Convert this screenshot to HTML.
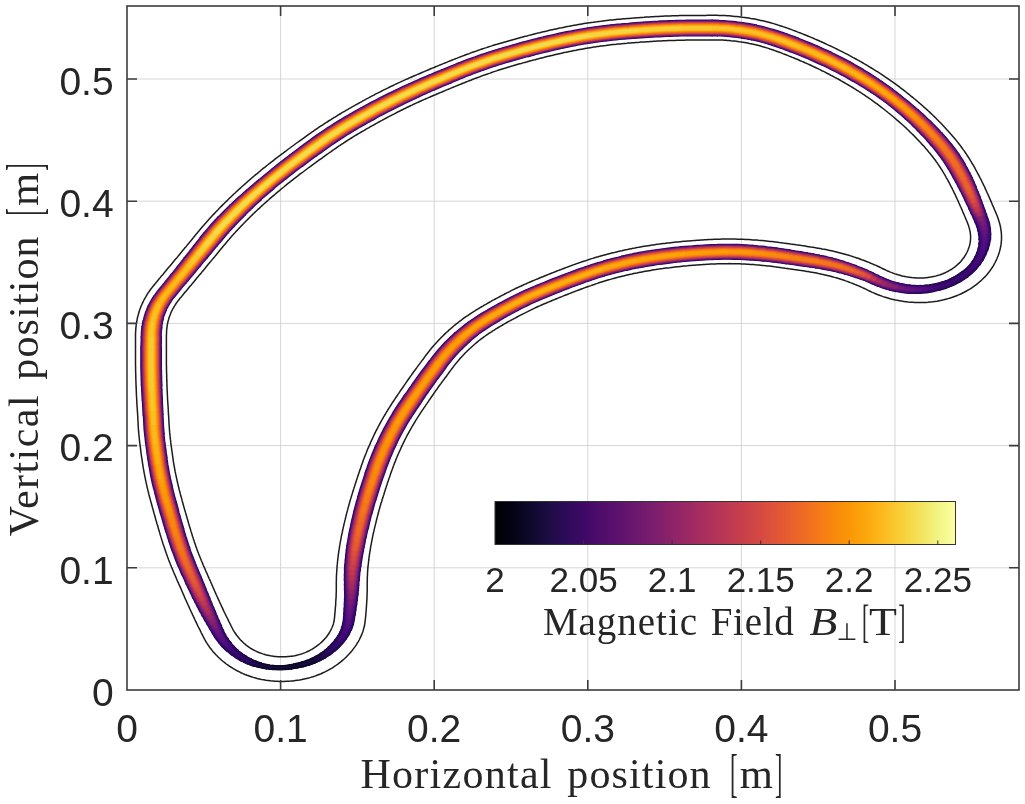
<!DOCTYPE html>
<html lang="en"><head><meta charset="utf-8"><title>Magnetic field on coil</title>
<style>html,body{margin:0;padding:0;background:#fff}svg{display:block}.t{font-family:"Liberation Sans",Arial,sans-serif;fill:#262626}.s{font-family:"Liberation Serif","DejaVu Serif",serif;fill:#262626}</style></head><body>
<svg width="1025" height="804" viewBox="0 0 1025 804">
<rect width="1025" height="804" fill="#fff"/>
<path d="M280.6 6.0 V690.0 M434.2 6.0 V690.0 M587.8 6.0 V690.0 M741.4 6.0 V690.0 M895 6.0 V690.0 M127.0 567.8 H1019.0 M127.0 445.6 H1019.0 M127.0 323.4 H1019.0 M127.0 201.2 H1019.0 M127.0 79 H1019.0" stroke="#d6d6d6" stroke-width="1" fill="none"/>
<g transform="translate(127.0 690.0) scale(1536.0 -1222.0)" fill="none" stroke-linecap="butt" stroke-linejoin="round">
<path d="M0.0872 0.0201 0.0849 0.0209 0.0828 0.0218" stroke="#0e092b" stroke-width="0.005"/>
<path d="M0.0835 0.0214 0.0813 0.0224 0.0792 0.0236" stroke="#160b39" stroke-width="0.0054"/>
<path d="M0.0799 0.0232 0.0779 0.0244 0.0759 0.0257" stroke="#190c3e" stroke-width="0.0058"/>
<path d="M0.0765 0.0253 0.0746 0.0267 0.0728 0.0282" stroke="#1c0c43" stroke-width="0.0062"/>
<path d="M0.0734 0.0277 0.0716 0.0292 0.0699 0.0309" stroke="#1e0c45" stroke-width="0.0064"/>
<path d="M0.0704 0.0304 0.0688 0.0321 0.0672 0.0339" stroke="#1e0c45" stroke-width="0.0068"/>
<path d="M0.0677 0.0333 0.0662 0.0351 0.0648 0.0371" stroke="#1e0c45" stroke-width="0.0072"/>
<path d="M0.0653 0.0364 0.0639 0.0384 0.0627 0.0404" stroke="#1e0c45" stroke-width="0.0076"/>
<path d="M0.0631 0.0397 0.0619 0.0418 0.0608 0.0439" stroke="#1e0c46" stroke-width="0.0078"/>
<path d="M0.0612 0.0432 0.0601 0.0453 0.0592 0.0475" stroke="#1f0c48" stroke-width="0.0082"/>
<path d="M0.0595 0.0468 0.0586 0.049 0.0577 0.0512" stroke="#1f0c48" stroke-width="0.0086"/>
<path d="M0.058 0.0505 0.0571 0.0527 0.0562 0.0549" stroke="#1f0c48" stroke-width="0.009"/>
<path d="M0.0565 0.0542 0.0556 0.0564 0.0547 0.0587" stroke="#210c4b" stroke-width="0.0094"/>
<path d="M0.055 0.0579 0.0541 0.0601 0.0532 0.0624" stroke="#210c4b" stroke-width="0.0098"/>
<path d="M0.0535 0.0616 0.0527 0.0639 0.0518 0.0661" stroke="#210c4b" stroke-width="0.0102"/>
<path d="M0.0521 0.0654 0.0512 0.0676 0.0504 0.0699" stroke="#210c4b" stroke-width="0.0106"/>
<path d="M0.0507 0.0691 0.0498 0.0714 0.049 0.0736" stroke="#220c4e" stroke-width="0.0108"/>
<path d="M0.0493 0.0729 0.0485 0.0751 0.0477 0.0774" stroke="#220c4e" stroke-width="0.0112"/>
<path d="M0.0479 0.0766 0.0471 0.0789 0.0463 0.0812" stroke="#220c4e" stroke-width="0.0114"/>
<path d="M0.0466 0.0804 0.0458 0.0827 0.045 0.0849" stroke="#220c4e" stroke-width="0.0116"/>
<path d="M0.0453 0.0842 0.0445 0.0864 0.0437 0.0887" stroke="#240c51" stroke-width="0.0118"/>
<path d="M0.0439 0.0879 0.0432 0.0902 0.0424 0.0925 0.0416 0.0947 0.0411 0.0962" stroke="#240c51" stroke-width="0.012"/>
<path d="M0.0413 0.0955 0.0405 0.0977 0.0398 0.1 0.039 0.1023 0.0385 0.1038" stroke="#240c51" stroke-width="0.0122"/>
<path d="M0.0387 0.103 0.038 0.1053 0.0373 0.1076 0.0366 0.1099 0.0359 0.1122 0.0353 0.1145 0.035 0.1153" stroke="#240c51" stroke-width="0.0124"/>
<path d="M0.0353 0.1145 0.0346 0.1168 0.034 0.1191 0.0334 0.1214 0.033 0.123" stroke="#240c51" stroke-width="0.0126"/>
<path d="M0.0332 0.1222 0.0326 0.1245 0.032 0.1269 0.0315 0.1292 0.0311 0.1307" stroke="#260c54" stroke-width="0.0126"/>
<path d="M0.0313 0.13 0.0307 0.1323 0.0302 0.1346 0.0296 0.137 0.0291 0.1393 0.0286 0.1416 0.028 0.144 0.0275 0.1463" stroke="#260c54" stroke-width="0.0128"/>
<path d="M0.0277 0.1455 0.0272 0.1479 0.0267 0.1502 0.0261 0.1526 0.0256 0.1549 0.0251 0.1572 0.0246 0.1596 0.0241 0.162 0.0237 0.1643 0.0234 0.1659" stroke="#260c54" stroke-width="0.013"/>
<path d="M0.0235 0.1651 0.0231 0.1675 0.0226 0.1698 0.0222 0.1722 0.0218 0.1746 0.0214 0.177 0.0211 0.1793 0.0208 0.1817 0.0204 0.1841 0.0202 0.1857" stroke="#260c54" stroke-width="0.0132"/>
<path d="M0.0203 0.1849 0.02 0.1873 0.0198 0.1897" stroke="#270b56" stroke-width="0.0132"/>
<path d="M0.0199 0.1889 0.0196 0.1913 0.0193 0.1937 0.0191 0.1961 0.0188 0.1984 0.0186 0.2008 0.0183 0.2032 0.0181 0.2056 0.0179 0.208 0.0178 0.2096" stroke="#270b56" stroke-width="0.0134"/>
<path d="M0.0179 0.2088 0.0177 0.2112 0.0175 0.2136 0.0174 0.216 0.0173 0.2184 0.0172 0.2208 0.0171 0.2232 0.017 0.2256" stroke="#270b56" stroke-width="0.0136"/>
<path d="M0.017 0.2248 0.0169 0.2272 0.0168 0.2296 0.0167 0.232 0.0166 0.2343 0.0165 0.2367 0.0164 0.2375" stroke="#270b56" stroke-width="0.0138"/>
<path d="M0.0165 0.2367 0.0164 0.2391 0.0163 0.2415 0.0162 0.2439 0.0161 0.2455" stroke="#270b56" stroke-width="0.014"/>
<path d="M0.0162 0.2447 0.0161 0.2471 0.016 0.2495" stroke="#270b57" stroke-width="0.014"/>
<path d="M0.016 0.2487 0.016 0.2511 0.0159 0.2535 0.0159 0.2559 0.0158 0.2583 0.0158 0.2607 0.0157 0.2631 0.0157 0.2655 0.0157 0.2679 0.0157 0.2703 0.0157 0.2727 0.0157 0.2751 0.0157 0.2775 0.0157 0.2798 0.0157 0.2814" stroke="#270b57" stroke-width="0.0142"/>
<path d="M0.0157 0.2806 0.0157 0.283 0.0158 0.2854 0.0158 0.2878 0.0158 0.2894" stroke="#270b57" stroke-width="0.014"/>
<path d="M0.0158 0.2886 0.0158 0.291 0.0159 0.2934 0.0161 0.2958 0.0162 0.2974" stroke="#270b56" stroke-width="0.0138"/>
<path d="M0.0162 0.2966 0.0164 0.299 0.0168 0.3014" stroke="#270b56" stroke-width="0.0136"/>
<path d="M0.0167 0.3006 0.0171 0.303 0.0176 0.3053" stroke="#270b56" stroke-width="0.0134"/>
<path d="M0.0174 0.3045 0.0179 0.3069 0.0186 0.3092 0.0193 0.3115 0.0199 0.313" stroke="#270b56" stroke-width="0.0132"/>
<path d="M0.0196 0.3122 0.0204 0.3145 0.0214 0.3167 0.0224 0.3188 0.0231 0.3202" stroke="#270b56" stroke-width="0.013"/>
<path d="M0.0228 0.3195 0.0239 0.3216 0.0251 0.3236 0.0264 0.3256 0.0277 0.3276 0.029 0.3296 0.0303 0.3316 0.0316 0.3336 0.0329 0.3355 0.0338 0.3369" stroke="#270b56" stroke-width="0.0128"/>
<path d="M0.0333 0.3362 0.0347 0.3382 0.036 0.3402 0.0373 0.3422 0.0381 0.3436" stroke="#270b56" stroke-width="0.013"/>
<path d="M0.0377 0.3429 0.039 0.3449 0.0403 0.3469 0.0416 0.3489 0.0425 0.3503" stroke="#270b56" stroke-width="0.0132"/>
<path d="M0.042 0.3496 0.0433 0.3516 0.0446 0.3536 0.046 0.3557 0.0468 0.357" stroke="#270b57" stroke-width="0.0134"/>
<path d="M0.0464 0.3563 0.0477 0.3584 0.049 0.3604" stroke="#270b57" stroke-width="0.0136"/>
<path d="M0.0486 0.3597 0.0499 0.3617 0.0512 0.3638 0.0525 0.3658 0.0534 0.3671" stroke="#270b57" stroke-width="0.0138"/>
<path d="M0.0529 0.3665 0.0542 0.3685 0.0556 0.3705 0.0569 0.3725 0.0583 0.3745 0.0596 0.3765 0.061 0.3785 0.0624 0.3804 0.0639 0.3824 0.0648 0.3837" stroke="#270b57" stroke-width="0.014"/>
<path d="M0.0643 0.383 0.0658 0.3849 0.0673 0.3868 0.0688 0.3887 0.0703 0.3906 0.0718 0.3925 0.0723 0.3931" stroke="#270b57" stroke-width="0.0138"/>
<path d="M0.0718 0.3925 0.0733 0.3944 0.0749 0.3962 0.0764 0.3981 0.0775 0.3993" stroke="#270b57" stroke-width="0.0136"/>
<path d="M0.0769 0.3987 0.0785 0.4005 0.0801 0.4023 0.0817 0.4041 0.0828 0.4053" stroke="#270b57" stroke-width="0.0134"/>
<path d="M0.0822 0.4047 0.0838 0.4065 0.0855 0.4083 0.0871 0.41 0.0887 0.4118 0.0904 0.4135 0.0909 0.4141" stroke="#270b57" stroke-width="0.0132"/>
<path d="M0.0904 0.4135 0.092 0.4153 0.0937 0.417 0.0953 0.4187 0.097 0.4204 0.0987 0.4221 0.0993 0.4227" stroke="#270b57" stroke-width="0.013"/>
<path d="M0.0987 0.4221 0.1004 0.4238 0.1021 0.4255 0.1038 0.4272 0.1055 0.4289 0.1072 0.4305 0.109 0.4322 0.1107 0.4338" stroke="#270b57" stroke-width="0.0132"/>
<path d="M0.1101 0.4333 0.1119 0.4349 0.1136 0.4365 0.1153 0.4381 0.1171 0.4398 0.1188 0.4414 0.1194 0.4419" stroke="#270b57" stroke-width="0.0134"/>
<path d="M0.1188 0.4414 0.1206 0.443 0.1224 0.4446 0.1241 0.4462 0.1259 0.4478 0.1277 0.4494 0.1295 0.451 0.1313 0.4525 0.1332 0.4541 0.135 0.4556 0.1369 0.4571 0.1387 0.4586 0.1406 0.4601 0.1425 0.4615 0.1444 0.463 0.1463 0.4644 0.1483 0.4658 0.1502 0.4672 0.1522 0.4686 0.1541 0.47 0.1561 0.4713 0.1581 0.4727 0.16 0.4741 0.162 0.4754 0.164 0.4767 0.166 0.478 0.168 0.4793 0.17 0.4806 0.1721 0.4819 0.1741 0.4832 0.1761 0.4844 0.1782 0.4857 0.1802 0.4869 0.1823 0.4881 0.1843 0.4893 0.1864 0.4905 0.1871 0.4909" stroke="#270b57" stroke-width="0.0136"/>
<path d="M0.1864 0.4905 0.1885 0.4917 0.1906 0.4929 0.1927 0.494 0.1947 0.4952 0.1968 0.4963 0.1989 0.4975 0.2011 0.4986 0.2032 0.4997 0.2053 0.5008 0.2074 0.5019 0.2084 0.5025" stroke="#270b57" stroke-width="0.0134"/>
<path d="M0.2077 0.5021 0.2098 0.5032 0.212 0.5043 0.2141 0.5054 0.2162 0.5065 0.2183 0.5076 0.2205 0.5086 0.2226 0.5097 0.2248 0.5107 0.2269 0.5117 0.2291 0.5126 0.2313 0.5136 0.2335 0.5146 0.2356 0.5155 0.2378 0.5164 0.24 0.5173 0.2423 0.5181 0.2445 0.519 0.2467 0.5198 0.2489 0.5206 0.2512 0.5214 0.2534 0.5222 0.2557 0.523 0.2579 0.5238 0.2595 0.5243" stroke="#270b57" stroke-width="0.0132"/>
<path d="M0.2587 0.524 0.261 0.5248 0.2632 0.5255 0.2655 0.5263 0.2678 0.527 0.2701 0.5277 0.2724 0.5284 0.2747 0.5291 0.277 0.5298 0.2793 0.5304 0.2816 0.5311 0.2839 0.5317 0.2862 0.5323 0.2886 0.5329 0.2909 0.5334 0.2932 0.534 0.2956 0.5345 0.2979 0.535 0.3003 0.5355 0.3018 0.5358" stroke="#270b57" stroke-width="0.0134"/>
<path d="M0.3011 0.5356 0.3034 0.5361 0.3058 0.5365 0.3081 0.5369 0.3105 0.5373 0.3129 0.5376 0.3152 0.538 0.3176 0.5383 0.32 0.5386 0.3224 0.5388 0.3247 0.5391 0.3271 0.5393 0.3295 0.5396 0.3319 0.5398 0.3343 0.54 0.3366 0.5402 0.3374 0.5403" stroke="#270b57" stroke-width="0.0136"/>
<path d="M0.3366 0.5402 0.339 0.5404 0.3414 0.5406 0.3438 0.5408 0.3462 0.5409 0.3486 0.5411 0.3509 0.5412 0.3533 0.5413 0.3557 0.5414 0.3581 0.5415 0.3605 0.5416 0.3629 0.5416 0.3653 0.5417 0.3677 0.5417 0.3701 0.5417 0.3725 0.5417 0.3749 0.5417 0.3773 0.5417 0.3797 0.5417 0.3813 0.5417" stroke="#270b57" stroke-width="0.0138"/>
<path d="M0.3805 0.5417 0.3828 0.5417 0.3851 0.5416" stroke="#270b56" stroke-width="0.0138"/>
<path d="M0.3844 0.5416 0.3867 0.5415 0.389 0.5414 0.3913 0.5412 0.3937 0.5409 0.396 0.5405 0.3984 0.5402 0.4008 0.5397 0.4031 0.5393 0.4055 0.5388 0.4078 0.5382 0.4086 0.538" stroke="#270b56" stroke-width="0.0136"/>
<path d="M0.4078 0.5382 0.4101 0.5376 0.4125 0.5369 0.4147 0.5361 0.417 0.5353 0.4193 0.5345 0.4215 0.5336 0.4238 0.5327 0.426 0.5317 0.4282 0.5308 0.4304 0.5298 0.4326 0.5287 0.4347 0.5277" stroke="#270b56" stroke-width="0.0134"/>
<path d="M0.434 0.528 0.4362 0.527 0.4384 0.5259 0.4405 0.5248 0.4427 0.5237 0.4448 0.5226 0.4469 0.5215 0.449 0.5203 0.4511 0.5191 0.4532 0.5179 0.4553 0.5167 0.456 0.5163" stroke="#270b56" stroke-width="0.0132"/>
<path d="M0.4553 0.5167 0.4574 0.5155 0.4594 0.5142 0.4614 0.5129 0.4635 0.5116 0.4655 0.5103 0.4675 0.509 0.4695 0.5076" stroke="#270b56" stroke-width="0.013"/>
<path d="M0.4688 0.5081 0.4708 0.5067 0.4727 0.5053 0.4747 0.5039 0.476 0.503" stroke="#270b56" stroke-width="0.0128"/>
<path d="M0.4753 0.5035 0.4773 0.502 0.4792 0.5006 0.4811 0.4991 0.4823 0.4981" stroke="#270b56" stroke-width="0.0126"/>
<path d="M0.4817 0.4986 0.4836 0.4971 0.4854 0.4956" stroke="#270b56" stroke-width="0.0124"/>
<path d="M0.4848 0.4961 0.4866 0.4946 0.4885 0.4931" stroke="#260c54" stroke-width="0.0124"/>
<path d="M0.4879 0.4936 0.4897 0.492 0.4915 0.4905 0.4933 0.4889 0.4944 0.4878" stroke="#260c54" stroke-width="0.0122"/>
<path d="M0.4938 0.4883 0.4956 0.4867 0.4973 0.4851 0.4991 0.4834 0.5008 0.4817 0.5024 0.4801 0.5041 0.4784 0.5058 0.4766 0.5074 0.4749 0.509 0.4731 0.5106 0.4714 0.5112 0.4708" stroke="#260c54" stroke-width="0.012"/>
<path d="M0.5106 0.4714 0.5122 0.4696 0.5138 0.4678 0.5153 0.466 0.5168 0.4641 0.5184 0.4623 0.5189 0.4617" stroke="#260c54" stroke-width="0.0122"/>
<path d="M0.5184 0.4623 0.5198 0.4604 0.5213 0.4585 0.5228 0.4566 0.5242 0.4547 0.5256 0.4528 0.5261 0.4521" stroke="#260c54" stroke-width="0.0124"/>
<path d="M0.5256 0.4528 0.527 0.4508 0.5284 0.4488" stroke="#260c54" stroke-width="0.0126"/>
<path d="M0.5279 0.4495 0.5293 0.4475 0.5306 0.4455 0.5319 0.4435 0.5332 0.4414 0.5344 0.4394 0.5356 0.4373 0.5368 0.4352 0.5379 0.433 0.539 0.4309 0.54 0.4287 0.5403 0.428" stroke="#240c51" stroke-width="0.0126"/>
<path d="M0.54 0.4287 0.541 0.4265 0.542 0.4243 0.5429 0.4221 0.5436 0.4206" stroke="#240c51" stroke-width="0.0124"/>
<path d="M0.5433 0.4213 0.5442 0.4191 0.5451 0.4169" stroke="#240c51" stroke-width="0.0122"/>
<path d="M0.5448 0.4176 0.5457 0.4154 0.5465 0.4132" stroke="#240c51" stroke-width="0.012"/>
<path d="M0.5462 0.4139 0.5471 0.4117 0.5479 0.4094" stroke="#240c51" stroke-width="0.0118"/>
<path d="M0.5476 0.4102 0.5484 0.4079 0.5492 0.4057" stroke="#240c51" stroke-width="0.0114"/>
<path d="M0.549 0.4064 0.5498 0.4042 0.5505 0.402" stroke="#240c51" stroke-width="0.0112"/>
<path d="M0.5503 0.4027 0.551 0.4005 0.5518 0.3982" stroke="#220c4e" stroke-width="0.011"/>
<path d="M0.5515 0.399 0.5523 0.3967 0.553 0.3945" stroke="#220c4e" stroke-width="0.0106"/>
<path d="M0.5528 0.3952 0.5535 0.393 0.5542 0.3907" stroke="#220c4e" stroke-width="0.0104"/>
<path d="M0.554 0.3915 0.5547 0.3893 0.5555 0.387" stroke="#210c4b" stroke-width="0.01"/>
<path d="M0.5552 0.3878 0.5559 0.3855 0.5566 0.3834" stroke="#1f0c49" stroke-width="0.0098"/>
<path d="M0.5564 0.3841 0.557 0.3819 0.5575 0.3797" stroke="#1f0c48" stroke-width="0.0096"/>
<path d="M0.5573 0.3804 0.5578 0.3782 0.5581 0.3759" stroke="#1f0c48" stroke-width="0.0092"/>
<path d="M0.558 0.3767 0.5583 0.3744 0.5584 0.372" stroke="#1f0c48" stroke-width="0.0088"/>
<path d="M0.5584 0.3728 0.5585 0.3704 0.5584 0.3681" stroke="#1e0c46" stroke-width="0.0084"/>
<path d="M0.5584 0.3689 0.5583 0.3665 0.5579 0.3641" stroke="#1e0c46" stroke-width="0.0078"/>
<path d="M0.5581 0.3649 0.5577 0.3625 0.5571 0.3602" stroke="#1e0c45" stroke-width="0.0074"/>
<path d="M0.5573 0.3609 0.5567 0.3586 0.556 0.3563" stroke="#1e0c45" stroke-width="0.007"/>
<path d="M0.5562 0.3571 0.5554 0.3548 0.5544 0.3526" stroke="#1e0c45" stroke-width="0.0068"/>
<path d="M0.5548 0.3533 0.5537 0.3511 0.5526 0.349" stroke="#1e0c45" stroke-width="0.0066"/>
<path d="M0.553 0.3497 0.5517 0.3476 0.5504 0.3456 0.5489 0.3437 0.5473 0.3419 0.5456 0.3403 0.545 0.3397" stroke="#1e0c45" stroke-width="0.0064"/>
<path d="M0.5456 0.3403 0.5438 0.3387 0.542 0.3372 0.5401 0.3358 0.5381 0.3345 0.5361 0.3333 0.534 0.3322 0.5318 0.3313" stroke="#1e0c45" stroke-width="0.0066"/>
<path d="M0.5325 0.3316 0.5303 0.3307 0.5281 0.3299 0.5259 0.3293 0.5243 0.3289" stroke="#1e0c45" stroke-width="0.0068"/>
<path d="M0.5251 0.3291 0.5228 0.3286 0.5205 0.3282" stroke="#1e0c45" stroke-width="0.007"/>
<path d="M0.5213 0.3283 0.5189 0.328 0.5166 0.3279" stroke="#1e0c45" stroke-width="0.0072"/>
<path d="M0.5174 0.3279 0.515 0.3278 0.5126 0.3278" stroke="#1e0c46" stroke-width="0.0074"/>
<path d="M0.5134 0.3278 0.5111 0.3279 0.5087 0.3281" stroke="#1f0c48" stroke-width="0.0076"/>
<path d="M0.5095 0.328 0.5072 0.3283 0.5048 0.3287" stroke="#1f0c48" stroke-width="0.0078"/>
<path d="M0.5056 0.3286 0.5033 0.3291 0.501 0.3296" stroke="#1f0c48" stroke-width="0.008"/>
<path d="M0.5018 0.3294 0.4995 0.3301 0.4973 0.3308" stroke="#1f0c49" stroke-width="0.0082"/>
<path d="M0.498 0.3306 0.4958 0.3314 0.4937 0.3323" stroke="#210c4b" stroke-width="0.0084"/>
<path d="M0.4944 0.332 0.4923 0.333 0.4902 0.334" stroke="#210c4b" stroke-width="0.0086"/>
<path d="M0.4909 0.3337 0.4888 0.3348 0.4868 0.336" stroke="#210c4b" stroke-width="0.0088"/>
<path d="M0.4875 0.3356 0.4854 0.3368 0.4833 0.338" stroke="#220c4e" stroke-width="0.009"/>
<path d="M0.484 0.3376 0.4819 0.3388 0.4797 0.3399" stroke="#220c4e" stroke-width="0.0092"/>
<path d="M0.4804 0.3395 0.4783 0.3406 0.4761 0.3417" stroke="#240c51" stroke-width="0.0096"/>
<path d="M0.4768 0.3413 0.4746 0.3423 0.4725 0.3433" stroke="#240c51" stroke-width="0.0098"/>
<path d="M0.4732 0.343 0.471 0.3439 0.4687 0.3448" stroke="#240c51" stroke-width="0.0102"/>
<path d="M0.4695 0.3445 0.4673 0.3454 0.465 0.3462" stroke="#240c51" stroke-width="0.0104"/>
<path d="M0.4658 0.346 0.4635 0.3468 0.4612 0.3475" stroke="#240c51" stroke-width="0.0108"/>
<path d="M0.462 0.3473 0.4597 0.348 0.4574 0.3487" stroke="#240c51" stroke-width="0.011"/>
<path d="M0.4582 0.3485 0.4559 0.3491 0.4536 0.3497" stroke="#240c51" stroke-width="0.0114"/>
<path d="M0.4543 0.3495 0.452 0.3501 0.4497 0.3506 0.4493 0.3507" stroke="#240c51" stroke-width="0.0116"/>
<path d="M0.4501 0.3506 0.4477 0.3511 0.4454 0.3516" stroke="#260c54" stroke-width="0.0118"/>
<path d="M0.4462 0.3514 0.4438 0.3519 0.4415 0.3523" stroke="#260c54" stroke-width="0.012"/>
<path d="M0.4423 0.3522 0.4399 0.3526 0.4376 0.3531" stroke="#260c54" stroke-width="0.0122"/>
<path d="M0.4384 0.3529 0.436 0.3534 0.4337 0.3538 0.4314 0.3543 0.4298 0.3546" stroke="#260c54" stroke-width="0.0124"/>
<path d="M0.4306 0.3544 0.4282 0.3548 0.4259 0.3553 0.4235 0.3557 0.422 0.3559" stroke="#260c54" stroke-width="0.0126"/>
<path d="M0.4227 0.3558 0.4204 0.3562 0.418 0.3565 0.4157 0.3568 0.4141 0.3571" stroke="#260c54" stroke-width="0.0128"/>
<path d="M0.4149 0.357 0.4125 0.3573 0.4101 0.3575 0.4078 0.3578 0.4062 0.3579" stroke="#260c54" stroke-width="0.013"/>
<path d="M0.407 0.3578 0.4046 0.358 0.4022 0.3582 0.3998 0.3584 0.3975 0.3585 0.3951 0.3585 0.3927 0.3586 0.3903 0.3586 0.3879 0.3586 0.3855 0.3585 0.3831 0.3584 0.3807 0.3583 0.3784 0.3582 0.376 0.358 0.3736 0.3578 0.3712 0.3577 0.3688 0.3574 0.3664 0.3572 0.3641 0.357 0.3617 0.3567 0.3593 0.3564 0.3569 0.3561 0.3546 0.3558 0.3522 0.3554 0.3499 0.355 0.3475 0.3546 0.3451 0.3542 0.3428 0.3538 0.3405 0.3533 0.3381 0.3529 0.3358 0.3524 0.3335 0.3518 0.3312 0.3513" stroke="#260c54" stroke-width="0.0132"/>
<path d="M0.3319 0.3514 0.3296 0.3509 0.3273 0.3503 0.325 0.3496 0.3235 0.3492" stroke="#260c54" stroke-width="0.013"/>
<path d="M0.3242 0.3494 0.322 0.3487 0.3197 0.348 0.3174 0.3473 0.3151 0.3466 0.3129 0.3458 0.3121 0.3455" stroke="#260c54" stroke-width="0.0128"/>
<path d="M0.3129 0.3458 0.3106 0.345 0.3084 0.3442" stroke="#260c54" stroke-width="0.0126"/>
<path d="M0.3092 0.3444 0.3069 0.3436 0.3047 0.3427 0.3025 0.3418 0.3003 0.3409 0.2981 0.3399 0.2959 0.339 0.2938 0.338 0.2916 0.337 0.2894 0.336 0.2873 0.335 0.2851 0.3339 0.2829 0.3329 0.2808 0.3318 0.2787 0.3308 0.2765 0.3297 0.2744 0.3286 0.2722 0.3275 0.2701 0.3264 0.268 0.3253 0.2659 0.3242 0.2638 0.323 0.2617 0.3219 0.2596 0.3207 0.2576 0.3194 0.2555 0.3181 0.2535 0.3169 0.2515 0.3156 0.2495 0.3142 0.2475 0.3129 0.2455 0.3116 0.2448 0.3111" stroke="#270b56" stroke-width="0.0126"/>
<path d="M0.2455 0.3116 0.2435 0.3102 0.2416 0.3088 0.2396 0.3074 0.2383 0.3065" stroke="#260c54" stroke-width="0.0126"/>
<path d="M0.239 0.3069 0.2371 0.3055 0.2352 0.3041 0.2333 0.3026 0.2314 0.3011 0.2296 0.2996 0.2278 0.2981 0.226 0.2965 0.2243 0.2949 0.2226 0.2932 0.221 0.2916 0.2194 0.2898 0.2178 0.2881" stroke="#260c54" stroke-width="0.0128"/>
<path d="M0.2183 0.2887 0.2168 0.2869 0.2152 0.2851 0.2138 0.2833 0.2123 0.2815 0.2109 0.2796 0.2095 0.2777 0.2081 0.2758 0.2068 0.2739 0.2056 0.2719 0.2043 0.27 0.2031 0.268 0.2019 0.2659" stroke="#260c54" stroke-width="0.013"/>
<path d="M0.2023 0.2666 0.2011 0.2646 0.1999 0.2625 0.1987 0.2605 0.1974 0.2584 0.1962 0.2564 0.195 0.2543 0.1939 0.2523 0.1927 0.2502 0.1915 0.2481 0.1904 0.2461 0.1892 0.244 0.1881 0.2419 0.1869 0.2398 0.1862 0.2384" stroke="#260c54" stroke-width="0.0132"/>
<path d="M0.1865 0.2391 0.1854 0.237 0.1843 0.2349 0.1831 0.2328 0.182 0.2307 0.1809 0.2286 0.1798 0.2265 0.1788 0.2244" stroke="#260c54" stroke-width="0.0134"/>
<path d="M0.1791 0.2251 0.1781 0.2229 0.177 0.2208 0.176 0.2186 0.175 0.2164 0.1741 0.2143 0.1731 0.2121 0.1722 0.2098 0.1713 0.2076 0.1704 0.2054 0.1696 0.2032 0.1688 0.2009 0.1679 0.1987 0.1671 0.1964 0.1664 0.1941 0.1656 0.1919 0.1649 0.1896 0.1642 0.1873 0.1635 0.185 0.1628 0.1827 0.1622 0.1804 0.1615 0.1781 0.1609 0.1758" stroke="#260c54" stroke-width="0.0132"/>
<path d="M0.1611 0.1765 0.1605 0.1742 0.1599 0.1719 0.1593 0.1696 0.1587 0.1673 0.1581 0.1649 0.1575 0.1626 0.157 0.1603 0.1564 0.158 0.156 0.1564" stroke="#260c54" stroke-width="0.013"/>
<path d="M0.1562 0.1572 0.1557 0.1549 0.1551 0.1525" stroke="#260c54" stroke-width="0.0128"/>
<path d="M0.1553 0.1533 0.1548 0.151 0.1543 0.1486 0.1538 0.1463 0.1535 0.1447" stroke="#240c51" stroke-width="0.0128"/>
<path d="M0.1536 0.1455 0.1531 0.1431 0.1527 0.1408 0.1522 0.1384 0.1518 0.1361 0.1514 0.1337 0.1512 0.1329" stroke="#240c51" stroke-width="0.0126"/>
<path d="M0.1514 0.1337 0.1509 0.1314 0.1505 0.129 0.1501 0.1266 0.1499 0.1251" stroke="#240c51" stroke-width="0.0124"/>
<path d="M0.15 0.1258 0.1496 0.1235 0.1493 0.1211 0.1489 0.1187 0.1487 0.1171" stroke="#240c51" stroke-width="0.0122"/>
<path d="M0.1488 0.1179 0.1485 0.1156 0.1482 0.1132" stroke="#240c51" stroke-width="0.012"/>
<path d="M0.1483 0.114 0.148 0.1116 0.1477 0.1092" stroke="#240c51" stroke-width="0.0118"/>
<path d="M0.1478 0.11 0.1476 0.1076 0.1473 0.1052" stroke="#220c4e" stroke-width="0.0116"/>
<path d="M0.1474 0.106 0.1472 0.1036 0.147 0.1012" stroke="#220c4e" stroke-width="0.0114"/>
<path d="M0.147 0.102 0.1468 0.0996 0.1467 0.0973" stroke="#220c4e" stroke-width="0.0112"/>
<path d="M0.1467 0.0981 0.1466 0.0957 0.1464 0.0933" stroke="#220c4e" stroke-width="0.0108"/>
<path d="M0.1465 0.0941 0.1464 0.0917 0.1463 0.0893" stroke="#210c4c" stroke-width="0.0106"/>
<path d="M0.1463 0.0901 0.1463 0.0877 0.1462 0.0853" stroke="#210c4b" stroke-width="0.0102"/>
<path d="M0.1462 0.0861 0.1462 0.0837 0.1461 0.0813" stroke="#210c4b" stroke-width="0.01"/>
<path d="M0.1461 0.0821 0.1461 0.0797 0.146 0.0773" stroke="#210c4b" stroke-width="0.0096"/>
<path d="M0.146 0.0781 0.1459 0.0757 0.1457 0.0733" stroke="#1f0c49" stroke-width="0.0092"/>
<path d="M0.1458 0.0741 0.1456 0.0717 0.1455 0.0693" stroke="#1f0c48" stroke-width="0.009"/>
<path d="M0.1455 0.0701 0.1453 0.0677 0.1451 0.0653" stroke="#1f0c48" stroke-width="0.0086"/>
<path d="M0.1452 0.0661 0.145 0.0637 0.1448 0.0613" stroke="#1f0c48" stroke-width="0.0084"/>
<path d="M0.1449 0.0621 0.1446 0.0597 0.1444 0.0574" stroke="#1f0c48" stroke-width="0.008"/>
<path d="M0.1445 0.0581 0.1442 0.0558 0.1438 0.0534" stroke="#1e0c46" stroke-width="0.0078"/>
<path d="M0.1439 0.0542 0.1434 0.0519 0.1427 0.0496" stroke="#1e0c45" stroke-width="0.0076"/>
<path d="M0.143 0.0504 0.1422 0.0481 0.1414 0.0459" stroke="#1e0c45" stroke-width="0.0072"/>
<path d="M0.1417 0.0467 0.1407 0.0445 0.1396 0.0424" stroke="#1e0c45" stroke-width="0.007"/>
<path d="M0.14 0.0431 0.1389 0.0411 0.1376 0.0391" stroke="#1e0c45" stroke-width="0.0068"/>
<path d="M0.138 0.0397 0.1367 0.0378 0.1353 0.0359" stroke="#1e0c45" stroke-width="0.0066"/>
<path d="M0.1358 0.0366 0.1344 0.0348 0.1328 0.033" stroke="#1c0c43" stroke-width="0.0064"/>
<path d="M0.1333 0.0336 0.1318 0.0319 0.1301 0.0303" stroke="#190c3e" stroke-width="0.006"/>
<path d="M0.1307 0.0308 0.1289 0.0293 0.1272 0.0278" stroke="#160b39" stroke-width="0.0058"/>
<path d="M0.1278 0.0283 0.1259 0.0269 0.124 0.0256" stroke="#120a32" stroke-width="0.0056"/>
<path d="M0.1247 0.026 0.1227 0.0248 0.1207 0.0237" stroke="#0e092b" stroke-width="0.0054"/>
<path d="M0.1214 0.0241 0.1194 0.023 0.1173 0.0221" stroke="#0b0724" stroke-width="0.0052"/>
<path d="M0.118 0.0224 0.1158 0.0215 0.1137 0.0208" stroke="#0b0724" stroke-width="0.005"/>
<path d="M0.1144 0.021 0.1122 0.0203 0.11 0.0198" stroke="#08051d" stroke-width="0.0048"/>
<path d="M0.1107 0.02 0.1085 0.0194 0.1062 0.0189" stroke="#08051d" stroke-width="0.0046"/>
<path d="M0.107 0.0191 0.1047 0.0186 0.1024 0.0183" stroke="#08051d" stroke-width="0.0044"/>
<path d="M0.1031 0.0184 0.1008 0.0182 0.0984 0.0182 0.0961 0.0183 0.0945 0.0185" stroke="#08051d" stroke-width="0.0042"/>
<path d="M0.0953 0.0184 0.0929 0.0187 0.0906 0.0191" stroke="#0b0724" stroke-width="0.0044"/>
<path d="M0.0914 0.019 0.0891 0.0195 0.0868 0.0202 0.0864 0.0203" stroke="#0b0724" stroke-width="0.0046"/>
<path d="M0.0872 0.0201 0.0849 0.0209 0.0828 0.0218" stroke="#10092d" stroke-width="0.00465"/>
<path d="M0.0835 0.0214 0.0813 0.0224 0.0792 0.0236" stroke="#180c3c" stroke-width="0.00502"/>
<path d="M0.0799 0.0232 0.0779 0.0244 0.0759 0.0257" stroke="#1c0c43" stroke-width="0.00539"/>
<path d="M0.0765 0.0253 0.0746 0.0267 0.0728 0.0282" stroke="#1f0c48" stroke-width="0.00577"/>
<path d="M0.0734 0.0277 0.0716 0.0292 0.0699 0.0309" stroke="#210c4b" stroke-width="0.00595"/>
<path d="M0.0704 0.0304 0.0688 0.0321 0.0672 0.0339" stroke="#210c4b" stroke-width="0.00632"/>
<path d="M0.0677 0.0333 0.0662 0.0351 0.0648 0.0371" stroke="#220c4e" stroke-width="0.0067"/>
<path d="M0.0653 0.0364 0.0639 0.0384 0.0627 0.0404" stroke="#240c51" stroke-width="0.00707"/>
<path d="M0.0631 0.0397 0.0619 0.0418 0.0608 0.0439" stroke="#260c54" stroke-width="0.00725"/>
<path d="M0.0612 0.0432 0.0601 0.0453 0.0592 0.0475" stroke="#270b56" stroke-width="0.00763"/>
<path d="M0.0595 0.0468 0.0586 0.049 0.0577 0.0512" stroke="#290b59" stroke-width="0.008"/>
<path d="M0.058 0.0505 0.0571 0.0527 0.0562 0.0549" stroke="#2b0b5c" stroke-width="0.00837"/>
<path d="M0.0565 0.0542 0.0556 0.0564 0.0547 0.0587" stroke="#2c0b5e" stroke-width="0.00874"/>
<path d="M0.055 0.0579 0.0541 0.0601 0.0532 0.0624" stroke="#2e0a61" stroke-width="0.00911"/>
<path d="M0.0535 0.0616 0.0527 0.0639 0.0518 0.0661" stroke="#310a65" stroke-width="0.00949"/>
<path d="M0.0521 0.0654 0.0512 0.0676 0.0504 0.0699" stroke="#330a67" stroke-width="0.00986"/>
<path d="M0.0507 0.0691 0.0498 0.0714 0.049 0.0736" stroke="#340969" stroke-width="0.01004"/>
<path d="M0.0493 0.0729 0.0485 0.0751 0.0477 0.0774" stroke="#36096b" stroke-width="0.01042"/>
<path d="M0.0479 0.0766 0.0471 0.0789 0.0463 0.0812" stroke="#38096d" stroke-width="0.0106"/>
<path d="M0.0466 0.0804 0.0458 0.0827 0.045 0.0849" stroke="#39096e" stroke-width="0.01079"/>
<path d="M0.0453 0.0842 0.0445 0.0864 0.0437 0.0887" stroke="#3b0970" stroke-width="0.01097"/>
<path d="M0.0439 0.0879 0.0432 0.0902 0.0424 0.0925" stroke="#3b0970" stroke-width="0.01116"/>
<path d="M0.0426 0.0917 0.0418 0.094 0.0411 0.0962" stroke="#3c0971" stroke-width="0.01116"/>
<path d="M0.0413 0.0955 0.0405 0.0977 0.0398 0.1" stroke="#3c0972" stroke-width="0.01135"/>
<path d="M0.04 0.0993 0.0393 0.1015 0.0385 0.1038" stroke="#3e0a73" stroke-width="0.01135"/>
<path d="M0.0387 0.103 0.038 0.1053 0.0373 0.1076 0.0366 0.1099 0.0361 0.1114" stroke="#3e0a73" stroke-width="0.01153"/>
<path d="M0.0364 0.1107 0.0357 0.113 0.035 0.1153" stroke="#3f0a74" stroke-width="0.01153"/>
<path d="M0.0353 0.1145 0.0346 0.1168 0.034 0.1191 0.0334 0.1214 0.033 0.123" stroke="#3f0a75" stroke-width="0.01172"/>
<path d="M0.0332 0.1222 0.0326 0.1245 0.032 0.1269 0.0315 0.1292 0.0311 0.1307" stroke="#410a76" stroke-width="0.01172"/>
<path d="M0.0313 0.13 0.0307 0.1323 0.0302 0.1346" stroke="#410a76" stroke-width="0.0119"/>
<path d="M0.0304 0.1339 0.0298 0.1362 0.0293 0.1385 0.0288 0.1409 0.0282 0.1432 0.0277 0.1455 0.0275 0.1463" stroke="#420a77" stroke-width="0.0119"/>
<path d="M0.0277 0.1455 0.0272 0.1479 0.0267 0.1502 0.0261 0.1526 0.0258 0.1541" stroke="#420a77" stroke-width="0.01209"/>
<path d="M0.026 0.1533 0.0254 0.1557 0.0249 0.158 0.0245 0.1604 0.024 0.1627 0.0235 0.1651 0.0234 0.1659" stroke="#440b78" stroke-width="0.01209"/>
<path d="M0.0235 0.1651 0.0231 0.1675 0.0226 0.1698" stroke="#440b78" stroke-width="0.01228"/>
<path d="M0.0228 0.169 0.0224 0.1714 0.022 0.1738" stroke="#450b79" stroke-width="0.01228"/>
<path d="M0.0221 0.173 0.0217 0.1754 0.0213 0.1778 0.021 0.1801 0.0207 0.1825 0.0203 0.1849 0.0202 0.1857" stroke="#450b7a" stroke-width="0.01228"/>
<path d="M0.0203 0.1849 0.02 0.1873 0.0198 0.1897" stroke="#470c7a" stroke-width="0.01228"/>
<path d="M0.0199 0.1889 0.0196 0.1913 0.0193 0.1937" stroke="#470c7a" stroke-width="0.01246"/>
<path d="M0.0194 0.1929 0.0191 0.1953 0.0189 0.1977 0.0187 0.2 0.0185 0.2016" stroke="#470c7b" stroke-width="0.01246"/>
<path d="M0.0186 0.2008 0.0183 0.2032 0.0181 0.2056 0.0179 0.208 0.0178 0.2096" stroke="#480c7b" stroke-width="0.01246"/>
<path d="M0.0179 0.2088 0.0177 0.2112 0.0175 0.2136 0.0174 0.216 0.0173 0.2176" stroke="#480c7b" stroke-width="0.01265"/>
<path d="M0.0174 0.2168 0.0173 0.2192 0.0172 0.2216 0.0171 0.224 0.017 0.2256" stroke="#480c7c" stroke-width="0.01265"/>
<path d="M0.017 0.2248 0.0169 0.2272 0.0168 0.2296 0.0167 0.232 0.0166 0.2343 0.0165 0.2367 0.0164 0.2375" stroke="#480c7c" stroke-width="0.01283"/>
<path d="M0.0165 0.2367 0.0164 0.2391 0.0163 0.2415 0.0162 0.2439 0.0161 0.2455" stroke="#480c7c" stroke-width="0.01302"/>
<path d="M0.0162 0.2447 0.0161 0.2471 0.016 0.2495" stroke="#4a0d7d" stroke-width="0.01302"/>
<path d="M0.016 0.2487 0.016 0.2511 0.0159 0.2535 0.0159 0.2559 0.0158 0.2583 0.0158 0.2607 0.0157 0.2631 0.0157 0.2655 0.0157 0.2679 0.0157 0.2703 0.0157 0.2727 0.0157 0.2751 0.0157 0.2775 0.0157 0.2798 0.0157 0.2814" stroke="#4a0d7d" stroke-width="0.01321"/>
<path d="M0.0157 0.2806 0.0157 0.283 0.0158 0.2854 0.0158 0.2878 0.0158 0.2894" stroke="#4a0d7d" stroke-width="0.01302"/>
<path d="M0.0158 0.2886 0.0158 0.291 0.0159 0.2934 0.0161 0.2958 0.0162 0.2974" stroke="#480c7c" stroke-width="0.01283"/>
<path d="M0.0162 0.2966 0.0164 0.299 0.0168 0.3014" stroke="#480c7c" stroke-width="0.01265"/>
<path d="M0.0167 0.3006 0.0171 0.303 0.0176 0.3053" stroke="#480c7c" stroke-width="0.01246"/>
<path d="M0.0174 0.3045 0.0179 0.3069 0.0186 0.3092 0.0193 0.3115 0.0199 0.313" stroke="#480c7c" stroke-width="0.01228"/>
<path d="M0.0196 0.3122 0.0204 0.3145 0.0214 0.3167" stroke="#480c7c" stroke-width="0.01209"/>
<path d="M0.0211 0.3159 0.0221 0.3181 0.0231 0.3202" stroke="#480c7b" stroke-width="0.01209"/>
<path d="M0.0228 0.3195 0.0239 0.3216 0.0251 0.3236 0.0264 0.3256 0.0277 0.3276 0.029 0.3296 0.0303 0.3316 0.0316 0.3336 0.0329 0.3355 0.0338 0.3369" stroke="#480c7b" stroke-width="0.0119"/>
<path d="M0.0333 0.3362 0.0347 0.3382 0.036 0.3402 0.0373 0.3422 0.0381 0.3436" stroke="#480c7c" stroke-width="0.01209"/>
<path d="M0.0377 0.3429 0.039 0.3449 0.0403 0.3469 0.0416 0.3489 0.0425 0.3503" stroke="#480c7c" stroke-width="0.01228"/>
<path d="M0.042 0.3496 0.0433 0.3516 0.0446 0.3536 0.046 0.3557 0.0468 0.357" stroke="#4a0d7d" stroke-width="0.01246"/>
<path d="M0.0464 0.3563 0.0477 0.3584 0.049 0.3604" stroke="#490d7d" stroke-width="0.01265"/>
<path d="M0.0486 0.3597 0.0499 0.3617 0.0512 0.3638" stroke="#490d7d" stroke-width="0.01283"/>
<path d="M0.0507 0.3631 0.052 0.3651 0.0534 0.3671" stroke="#4b0d7d" stroke-width="0.01283"/>
<path d="M0.0529 0.3665 0.0542 0.3685 0.0556 0.3705 0.0569 0.3725 0.0578 0.3738" stroke="#4b0d7d" stroke-width="0.01302"/>
<path d="M0.0573 0.3732 0.0587 0.3752 0.0601 0.3772 0.0615 0.3791 0.0629 0.3811 0.0643 0.383 0.0648 0.3837" stroke="#4b0d7e" stroke-width="0.01302"/>
<path d="M0.0643 0.383 0.0658 0.3849 0.0673 0.3868 0.0688 0.3887 0.0703 0.3906 0.0718 0.3925 0.0723 0.3931" stroke="#4b0d7e" stroke-width="0.01283"/>
<path d="M0.0718 0.3925 0.0733 0.3944 0.0749 0.3962 0.0764 0.3981 0.0775 0.3993" stroke="#4b0d7e" stroke-width="0.01265"/>
<path d="M0.0769 0.3987 0.0785 0.4005 0.0801 0.4023 0.0817 0.4041 0.0828 0.4053" stroke="#4b0d7e" stroke-width="0.01246"/>
<path d="M0.0822 0.4047 0.0838 0.4065 0.0855 0.4083 0.0871 0.41 0.0887 0.4118 0.0904 0.4135 0.0909 0.4141" stroke="#4b0d7e" stroke-width="0.01228"/>
<path d="M0.0904 0.4135 0.092 0.4153 0.0937 0.417 0.0953 0.4187 0.097 0.4204 0.0987 0.4221 0.0993 0.4227" stroke="#4b0d7e" stroke-width="0.01209"/>
<path d="M0.0987 0.4221 0.1004 0.4238 0.1021 0.4255 0.1038 0.4272 0.1055 0.4289 0.1072 0.4305 0.109 0.4322 0.1107 0.4338" stroke="#4b0d7e" stroke-width="0.01228"/>
<path d="M0.1101 0.4333 0.1119 0.4349 0.1136 0.4365 0.1153 0.4381 0.1171 0.4398 0.1188 0.4414 0.1194 0.4419" stroke="#4b0d7e" stroke-width="0.01246"/>
<path d="M0.1188 0.4414 0.1206 0.443 0.1224 0.4446 0.1241 0.4462 0.1259 0.4478 0.1277 0.4494 0.1295 0.451 0.1313 0.4525 0.1332 0.4541 0.135 0.4556 0.1369 0.4571 0.1387 0.4586 0.1406 0.4601 0.1425 0.4615 0.1444 0.463 0.1463 0.4644 0.1483 0.4658 0.1502 0.4672 0.1522 0.4686 0.1541 0.47 0.1561 0.4713 0.1581 0.4727 0.16 0.4741 0.162 0.4754 0.164 0.4767 0.166 0.478 0.168 0.4793 0.17 0.4806 0.1721 0.4819 0.1741 0.4832 0.1761 0.4844 0.1782 0.4857 0.1802 0.4869 0.1823 0.4881 0.1843 0.4893 0.1864 0.4905 0.1871 0.4909" stroke="#4b0d7e" stroke-width="0.01265"/>
<path d="M0.1864 0.4905 0.1885 0.4917 0.1906 0.4929 0.1927 0.494 0.1947 0.4952 0.1968 0.4963 0.1989 0.4975 0.2011 0.4986 0.2032 0.4997 0.2053 0.5008 0.2074 0.5019 0.2084 0.5025" stroke="#4b0d7e" stroke-width="0.01246"/>
<path d="M0.2077 0.5021 0.2098 0.5032 0.212 0.5043 0.2141 0.5054 0.2162 0.5065 0.2183 0.5076 0.2205 0.5086 0.2226 0.5097 0.2248 0.5107 0.2269 0.5117 0.2291 0.5126 0.2313 0.5136 0.2335 0.5146 0.2356 0.5155 0.2378 0.5164 0.24 0.5173 0.2423 0.5181 0.2445 0.519 0.2467 0.5198 0.2489 0.5206 0.2512 0.5214 0.2534 0.5222 0.2557 0.523 0.2579 0.5238 0.2595 0.5243" stroke="#4b0d7e" stroke-width="0.01228"/>
<path d="M0.2587 0.524 0.261 0.5248 0.2632 0.5255 0.2655 0.5263 0.2678 0.527 0.2701 0.5277 0.2724 0.5284 0.2747 0.5291 0.277 0.5298 0.2793 0.5304 0.2816 0.5311 0.2839 0.5317 0.2862 0.5323 0.2886 0.5329 0.2909 0.5334 0.2932 0.534 0.2956 0.5345 0.2979 0.535 0.3003 0.5355 0.3018 0.5358" stroke="#4b0d7e" stroke-width="0.01246"/>
<path d="M0.3011 0.5356 0.3034 0.5361 0.3058 0.5365 0.3081 0.5369 0.3105 0.5373 0.3129 0.5376 0.3152 0.538 0.3176 0.5383 0.32 0.5386 0.3224 0.5388 0.3247 0.5391 0.3271 0.5393 0.3295 0.5396 0.3319 0.5398 0.3335 0.5399" stroke="#4b0d7d" stroke-width="0.01265"/>
<path d="M0.3327 0.5399 0.3351 0.5401 0.3374 0.5403" stroke="#490d7d" stroke-width="0.01265"/>
<path d="M0.3366 0.5402 0.339 0.5404 0.3414 0.5406 0.3438 0.5408 0.3462 0.5409 0.3486 0.5411 0.3509 0.5412 0.3533 0.5413 0.3557 0.5414 0.3581 0.5415 0.3605 0.5416 0.3613 0.5416" stroke="#490d7d" stroke-width="0.01283"/>
<path d="M0.3605 0.5416 0.3629 0.5416 0.3653 0.5417 0.3677 0.5417 0.3701 0.5417 0.3725 0.5417 0.3749 0.5417 0.3773 0.5417 0.3797 0.5417 0.3813 0.5417" stroke="#4a0d7d" stroke-width="0.01283"/>
<path d="M0.3805 0.5417 0.3828 0.5417 0.3851 0.5416" stroke="#480c7c" stroke-width="0.01283"/>
<path d="M0.3844 0.5416 0.3867 0.5415 0.389 0.5414 0.3913 0.5412 0.3937 0.5409 0.396 0.5405 0.3984 0.5402 0.4008 0.5397 0.4031 0.5393 0.4055 0.5388 0.4078 0.5382 0.4086 0.538" stroke="#480c7c" stroke-width="0.01265"/>
<path d="M0.4078 0.5382 0.4101 0.5376 0.4125 0.5369 0.4147 0.5361 0.417 0.5353 0.4193 0.5345 0.4215 0.5336 0.4238 0.5327 0.426 0.5317 0.4282 0.5308 0.4304 0.5298 0.4326 0.5287 0.4347 0.5277" stroke="#480c7c" stroke-width="0.01246"/>
<path d="M0.434 0.528 0.4362 0.527 0.4384 0.5259" stroke="#480c7c" stroke-width="0.01228"/>
<path d="M0.4376 0.5263 0.4398 0.5252 0.4419 0.5241 0.4441 0.523 0.4462 0.5219 0.4483 0.5207 0.4504 0.5195 0.4525 0.5183 0.4546 0.5171 0.456 0.5163" stroke="#480c7b" stroke-width="0.01228"/>
<path d="M0.4553 0.5167 0.4574 0.5155 0.4594 0.5142 0.4614 0.5129 0.4635 0.5116 0.4655 0.5103 0.4675 0.509 0.4695 0.5076" stroke="#480c7b" stroke-width="0.01209"/>
<path d="M0.4688 0.5081 0.4708 0.5067 0.4727 0.5053 0.4747 0.5039 0.476 0.503" stroke="#470c7b" stroke-width="0.0119"/>
<path d="M0.4753 0.5035 0.4773 0.502 0.4792 0.5006" stroke="#470c7b" stroke-width="0.01172"/>
<path d="M0.4785 0.5011 0.4804 0.4996 0.4823 0.4981" stroke="#470c7a" stroke-width="0.01172"/>
<path d="M0.4817 0.4986 0.4836 0.4971 0.4854 0.4956" stroke="#470c7a" stroke-width="0.01153"/>
<path d="M0.4848 0.4961 0.4866 0.4946 0.4885 0.4931" stroke="#450b7a" stroke-width="0.01153"/>
<path d="M0.4879 0.4936 0.4897 0.492 0.4915 0.4905 0.4933 0.4889 0.4944 0.4878" stroke="#450b7a" stroke-width="0.01135"/>
<path d="M0.4938 0.4883 0.4956 0.4867 0.4973 0.4851 0.4991 0.4834 0.5002 0.4823" stroke="#450b79" stroke-width="0.01116"/>
<path d="M0.4996 0.4829 0.5013 0.4812 0.503 0.4795 0.5047 0.4778 0.5063 0.4761 0.5079 0.4743 0.5096 0.4726 0.5112 0.4708" stroke="#440b78" stroke-width="0.01116"/>
<path d="M0.5106 0.4714 0.5122 0.4696 0.5138 0.4678 0.5153 0.466 0.5168 0.4641 0.5184 0.4623 0.5189 0.4617" stroke="#420a77" stroke-width="0.01135"/>
<path d="M0.5184 0.4623 0.5198 0.4604 0.5213 0.4585" stroke="#420a77" stroke-width="0.01153"/>
<path d="M0.5208 0.4592 0.5223 0.4573 0.5237 0.4553 0.5251 0.4534 0.5261 0.4521" stroke="#410a76" stroke-width="0.01153"/>
<path d="M0.5256 0.4528 0.527 0.4508 0.5284 0.4488" stroke="#410a76" stroke-width="0.01172"/>
<path d="M0.5279 0.4495 0.5293 0.4475 0.5306 0.4455 0.5319 0.4435 0.5327 0.4421" stroke="#3f0a75" stroke-width="0.01172"/>
<path d="M0.5323 0.4428 0.5336 0.4407 0.5348 0.4387 0.536 0.4366 0.5368 0.4352" stroke="#3f0a74" stroke-width="0.01172"/>
<path d="M0.5364 0.4359 0.5375 0.4337 0.5386 0.4316 0.5397 0.4294 0.5403 0.428" stroke="#3e0a73" stroke-width="0.01172"/>
<path d="M0.54 0.4287 0.541 0.4265 0.542 0.4243 0.5429 0.4221 0.5436 0.4206" stroke="#3e0a73" stroke-width="0.01153"/>
<path d="M0.5433 0.4213 0.5442 0.4191 0.5451 0.4169" stroke="#3e0a73" stroke-width="0.01135"/>
<path d="M0.5448 0.4176 0.5457 0.4154 0.5465 0.4132" stroke="#3c0972" stroke-width="0.01116"/>
<path d="M0.5462 0.4139 0.5471 0.4117 0.5479 0.4094" stroke="#3c0972" stroke-width="0.01097"/>
<path d="M0.5476 0.4102 0.5484 0.4079 0.5492 0.4057" stroke="#3c0971" stroke-width="0.0106"/>
<path d="M0.549 0.4064 0.5498 0.4042 0.5505 0.402" stroke="#3b0970" stroke-width="0.01042"/>
<path d="M0.5503 0.4027 0.551 0.4005 0.5518 0.3982" stroke="#39096e" stroke-width="0.01023"/>
<path d="M0.5515 0.399 0.5523 0.3967 0.553 0.3945" stroke="#38096c" stroke-width="0.00986"/>
<path d="M0.5528 0.3952 0.5535 0.393 0.5542 0.3907" stroke="#340969" stroke-width="0.00967"/>
<path d="M0.554 0.3915 0.5547 0.3893 0.5555 0.387" stroke="#310a65" stroke-width="0.0093"/>
<path d="M0.5552 0.3878 0.5559 0.3855 0.5566 0.3834" stroke="#2c0b5e" stroke-width="0.00911"/>
<path d="M0.5564 0.3841 0.557 0.3819 0.5575 0.3797" stroke="#290b59" stroke-width="0.00893"/>
<path d="M0.5573 0.3804 0.5578 0.3782 0.5581 0.3759" stroke="#290b59" stroke-width="0.00856"/>
<path d="M0.558 0.3767 0.5583 0.3744 0.5584 0.372" stroke="#270b56" stroke-width="0.00818"/>
<path d="M0.5584 0.3728 0.5585 0.3704 0.5584 0.3681" stroke="#260c54" stroke-width="0.00781"/>
<path d="M0.5584 0.3689 0.5583 0.3665 0.5579 0.3641" stroke="#240c51" stroke-width="0.00725"/>
<path d="M0.5581 0.3649 0.5577 0.3625 0.5571 0.3602" stroke="#240c51" stroke-width="0.00688"/>
<path d="M0.5573 0.3609 0.5567 0.3586 0.556 0.3563" stroke="#240c51" stroke-width="0.00651"/>
<path d="M0.5562 0.3571 0.5554 0.3548 0.5544 0.3526" stroke="#220c4e" stroke-width="0.00632"/>
<path d="M0.5548 0.3533 0.5537 0.3511 0.5526 0.349" stroke="#220c4e" stroke-width="0.00614"/>
<path d="M0.553 0.3497 0.5517 0.3476 0.5504 0.3456" stroke="#220c4e" stroke-width="0.00595"/>
<path d="M0.5508 0.3463 0.5494 0.3444 0.5478 0.3425 0.5462 0.3408 0.545 0.3397" stroke="#210c4b" stroke-width="0.00595"/>
<path d="M0.5456 0.3403 0.5438 0.3387 0.542 0.3372 0.5401 0.3358 0.5381 0.3345 0.5361 0.3333 0.534 0.3322 0.5318 0.3313" stroke="#210c4b" stroke-width="0.00614"/>
<path d="M0.5325 0.3316 0.5303 0.3307 0.5281 0.3299" stroke="#210c4b" stroke-width="0.00632"/>
<path d="M0.5289 0.3302 0.5266 0.3295 0.5243 0.3289" stroke="#220c4e" stroke-width="0.00632"/>
<path d="M0.5251 0.3291 0.5228 0.3286 0.5205 0.3282" stroke="#220c4e" stroke-width="0.00651"/>
<path d="M0.5213 0.3283 0.5189 0.328 0.5166 0.3279" stroke="#240c51" stroke-width="0.0067"/>
<path d="M0.5174 0.3279 0.515 0.3278 0.5126 0.3278" stroke="#260c54" stroke-width="0.00688"/>
<path d="M0.5134 0.3278 0.5111 0.3279 0.5087 0.3281" stroke="#270b56" stroke-width="0.00707"/>
<path d="M0.5095 0.328 0.5072 0.3283 0.5048 0.3287" stroke="#290b59" stroke-width="0.00725"/>
<path d="M0.5056 0.3286 0.5033 0.3291 0.501 0.3296" stroke="#290b59" stroke-width="0.00744"/>
<path d="M0.5018 0.3294 0.4995 0.3301 0.4973 0.3308" stroke="#2c0b5e" stroke-width="0.00763"/>
<path d="M0.498 0.3306 0.4958 0.3314 0.4937 0.3323" stroke="#2e0a60" stroke-width="0.00781"/>
<path d="M0.4944 0.332 0.4923 0.333 0.4902 0.334" stroke="#300a63" stroke-width="0.008"/>
<path d="M0.4909 0.3337 0.4888 0.3348 0.4868 0.336" stroke="#310a65" stroke-width="0.00818"/>
<path d="M0.4875 0.3356 0.4854 0.3368 0.4833 0.338" stroke="#340969" stroke-width="0.00837"/>
<path d="M0.484 0.3376 0.4819 0.3388 0.4797 0.3399" stroke="#39096e" stroke-width="0.00856"/>
<path d="M0.4804 0.3395 0.4783 0.3406 0.4761 0.3417" stroke="#3b0970" stroke-width="0.00893"/>
<path d="M0.4768 0.3413 0.4746 0.3423 0.4725 0.3433" stroke="#3c0972" stroke-width="0.00911"/>
<path d="M0.4732 0.343 0.471 0.3439 0.4687 0.3448" stroke="#3e0a73" stroke-width="0.00949"/>
<path d="M0.4695 0.3445 0.4673 0.3454 0.465 0.3462" stroke="#3e0a73" stroke-width="0.00967"/>
<path d="M0.4658 0.346 0.4635 0.3468 0.4612 0.3475" stroke="#3f0a74" stroke-width="0.01004"/>
<path d="M0.462 0.3473 0.4597 0.348 0.4574 0.3487" stroke="#3f0a74" stroke-width="0.01023"/>
<path d="M0.4582 0.3485 0.4559 0.3491 0.4536 0.3497" stroke="#3f0a75" stroke-width="0.0106"/>
<path d="M0.4543 0.3495 0.452 0.3501 0.4497 0.3506 0.4493 0.3507" stroke="#3f0a75" stroke-width="0.01079"/>
<path d="M0.4501 0.3506 0.4477 0.3511 0.4454 0.3516" stroke="#410a76" stroke-width="0.01097"/>
<path d="M0.4462 0.3514 0.4438 0.3519 0.4415 0.3523" stroke="#410a76" stroke-width="0.01116"/>
<path d="M0.4423 0.3522 0.4399 0.3526 0.4376 0.3531" stroke="#410a76" stroke-width="0.01135"/>
<path d="M0.4384 0.3529 0.436 0.3534 0.4337 0.3538 0.4314 0.3543 0.4298 0.3546" stroke="#410a76" stroke-width="0.01153"/>
<path d="M0.4306 0.3544 0.4282 0.3548 0.4259 0.3553 0.4235 0.3557 0.422 0.3559" stroke="#420a77" stroke-width="0.01172"/>
<path d="M0.4227 0.3558 0.4204 0.3562 0.418 0.3565 0.4157 0.3568 0.4141 0.3571" stroke="#420a77" stroke-width="0.0119"/>
<path d="M0.4149 0.357 0.4125 0.3573 0.4101 0.3575 0.4078 0.3578 0.4062 0.3579" stroke="#420a77" stroke-width="0.01209"/>
<path d="M0.407 0.3578 0.4046 0.358 0.4022 0.3582 0.3998 0.3584 0.3975 0.3585 0.3951 0.3585 0.3927 0.3586 0.3903 0.3586 0.3879 0.3586 0.3855 0.3585 0.3831 0.3584 0.3807 0.3583 0.3784 0.3582 0.376 0.358 0.3736 0.3578 0.3712 0.3577 0.3688 0.3574 0.3664 0.3572 0.3641 0.357 0.3625 0.3568" stroke="#440b78" stroke-width="0.01228"/>
<path d="M0.3633 0.3569 0.3609 0.3566 0.3585 0.3563 0.3562 0.356 0.3538 0.3556 0.3514 0.3553 0.3491 0.3549 0.3467 0.3545 0.3444 0.3541 0.342 0.3537 0.3397 0.3532 0.3373 0.3527 0.335 0.3522 0.3327 0.3516 0.3312 0.3513" stroke="#450b79" stroke-width="0.01228"/>
<path d="M0.3319 0.3514 0.3296 0.3509 0.3273 0.3503 0.325 0.3496 0.3235 0.3492" stroke="#450b7a" stroke-width="0.01209"/>
<path d="M0.3242 0.3494 0.322 0.3487 0.3197 0.348 0.3174 0.3473 0.3151 0.3466 0.3129 0.3458 0.3121 0.3455" stroke="#450b7a" stroke-width="0.0119"/>
<path d="M0.3129 0.3458 0.3106 0.345 0.3084 0.3442" stroke="#450b7a" stroke-width="0.01172"/>
<path d="M0.3092 0.3444 0.3069 0.3436 0.3047 0.3427 0.3025 0.3418 0.3003 0.3409 0.2981 0.3399 0.2959 0.339 0.2938 0.338 0.2916 0.337 0.2894 0.336 0.2873 0.335 0.2851 0.3339 0.2829 0.3329 0.2808 0.3318 0.2787 0.3308 0.2765 0.3297 0.2744 0.3286 0.2722 0.3275 0.2701 0.3264 0.268 0.3253 0.2659 0.3242 0.2638 0.323 0.2617 0.3219 0.2596 0.3207 0.2576 0.3194 0.2555 0.3181 0.2535 0.3169 0.2515 0.3156 0.2495 0.3142 0.2475 0.3129 0.2455 0.3116 0.2448 0.3111" stroke="#470c7a" stroke-width="0.01172"/>
<path d="M0.2455 0.3116 0.2435 0.3102 0.2416 0.3088 0.2396 0.3074 0.2383 0.3065" stroke="#450b7a" stroke-width="0.01172"/>
<path d="M0.239 0.3069 0.2371 0.3055 0.2352 0.3041 0.2333 0.3026 0.232 0.3016" stroke="#450b7a" stroke-width="0.0119"/>
<path d="M0.2326 0.3021 0.2308 0.3006 0.229 0.2991 0.2272 0.2976 0.2255 0.296 0.2238 0.2943 0.2221 0.2927 0.2204 0.291 0.2188 0.2893 0.2178 0.2881" stroke="#450b79" stroke-width="0.0119"/>
<path d="M0.2183 0.2887 0.2168 0.2869 0.2152 0.2851 0.2138 0.2833 0.2123 0.2815 0.2109 0.2796 0.2095 0.2777 0.2081 0.2758 0.2068 0.2739 0.2056 0.2719 0.2043 0.27 0.2031 0.268 0.2019 0.2659" stroke="#440b78" stroke-width="0.01209"/>
<path d="M0.2023 0.2666 0.2011 0.2646 0.1999 0.2625 0.1987 0.2605 0.1974 0.2584 0.1962 0.2564 0.195 0.2543 0.1939 0.2523 0.1927 0.2502 0.1915 0.2481 0.1904 0.2461 0.1892 0.244 0.1881 0.2419 0.1869 0.2398 0.1862 0.2384" stroke="#440b78" stroke-width="0.01228"/>
<path d="M0.1865 0.2391 0.1854 0.237 0.1843 0.2349 0.1831 0.2328 0.182 0.2307 0.1809 0.2286 0.1798 0.2265 0.1788 0.2244" stroke="#440b78" stroke-width="0.01246"/>
<path d="M0.1791 0.2251 0.1781 0.2229 0.177 0.2208 0.176 0.2186 0.175 0.2164 0.1741 0.2143 0.1731 0.2121 0.1722 0.2098 0.1713 0.2076 0.1704 0.2054 0.1696 0.2032 0.1693 0.2024" stroke="#440b78" stroke-width="0.01228"/>
<path d="M0.1696 0.2032 0.1688 0.2009 0.1679 0.1987 0.1671 0.1964 0.1664 0.1941 0.1656 0.1919 0.1649 0.1896 0.1642 0.1873 0.1635 0.185 0.1628 0.1827 0.1622 0.1804 0.1615 0.1781 0.1609 0.1758" stroke="#420a77" stroke-width="0.01228"/>
<path d="M0.1611 0.1765 0.1605 0.1742 0.1599 0.1719 0.1593 0.1696 0.1589 0.168" stroke="#420a77" stroke-width="0.01209"/>
<path d="M0.1591 0.1688 0.1585 0.1665 0.1579 0.1642 0.1574 0.1618 0.1568 0.1595 0.1562 0.1572 0.156 0.1564" stroke="#410a76" stroke-width="0.01209"/>
<path d="M0.1562 0.1572 0.1557 0.1549 0.1551 0.1525" stroke="#410a76" stroke-width="0.0119"/>
<path d="M0.1553 0.1533 0.1548 0.151 0.1543 0.1486 0.1538 0.1463 0.1535 0.1447" stroke="#3f0a75" stroke-width="0.0119"/>
<path d="M0.1536 0.1455 0.1531 0.1431 0.1527 0.1408" stroke="#3f0a74" stroke-width="0.01172"/>
<path d="M0.1528 0.1416 0.1524 0.1392 0.1519 0.1369 0.1515 0.1345 0.1512 0.1329" stroke="#3e0a73" stroke-width="0.01172"/>
<path d="M0.1514 0.1337 0.1509 0.1314 0.1505 0.129 0.1501 0.1266 0.1499 0.1251" stroke="#3e0a73" stroke-width="0.01153"/>
<path d="M0.15 0.1258 0.1496 0.1235 0.1493 0.1211" stroke="#3c0972" stroke-width="0.01135"/>
<path d="M0.1494 0.1219 0.1491 0.1195 0.1487 0.1171" stroke="#3c0971" stroke-width="0.01135"/>
<path d="M0.1488 0.1179 0.1485 0.1156 0.1482 0.1132" stroke="#3b0970" stroke-width="0.01116"/>
<path d="M0.1483 0.114 0.148 0.1116 0.1477 0.1092" stroke="#39096f" stroke-width="0.01097"/>
<path d="M0.1478 0.11 0.1476 0.1076 0.1473 0.1052" stroke="#39096e" stroke-width="0.01079"/>
<path d="M0.1474 0.106 0.1472 0.1036 0.147 0.1012" stroke="#38096c" stroke-width="0.0106"/>
<path d="M0.147 0.102 0.1468 0.0996 0.1467 0.0973" stroke="#36096b" stroke-width="0.01042"/>
<path d="M0.1467 0.0981 0.1466 0.0957 0.1464 0.0933" stroke="#340969" stroke-width="0.01004"/>
<path d="M0.1465 0.0941 0.1464 0.0917 0.1463 0.0893" stroke="#330a67" stroke-width="0.00986"/>
<path d="M0.1463 0.0901 0.1463 0.0877 0.1462 0.0853" stroke="#310a65" stroke-width="0.00949"/>
<path d="M0.1462 0.0861 0.1462 0.0837 0.1461 0.0813" stroke="#300a63" stroke-width="0.0093"/>
<path d="M0.1461 0.0821 0.1461 0.0797 0.146 0.0773" stroke="#2e0a60" stroke-width="0.00893"/>
<path d="M0.146 0.0781 0.1459 0.0757 0.1457 0.0733" stroke="#2c0b5e" stroke-width="0.00856"/>
<path d="M0.1458 0.0741 0.1456 0.0717 0.1455 0.0693" stroke="#290b59" stroke-width="0.00837"/>
<path d="M0.1455 0.0701 0.1453 0.0677 0.1451 0.0653" stroke="#290b59" stroke-width="0.008"/>
<path d="M0.1452 0.0661 0.145 0.0637 0.1448 0.0613" stroke="#270b56" stroke-width="0.00781"/>
<path d="M0.1449 0.0621 0.1446 0.0597 0.1444 0.0574" stroke="#260c54" stroke-width="0.00744"/>
<path d="M0.1445 0.0581 0.1442 0.0558 0.1438 0.0534" stroke="#240c51" stroke-width="0.00725"/>
<path d="M0.1439 0.0542 0.1434 0.0519 0.1427 0.0496" stroke="#240c51" stroke-width="0.00707"/>
<path d="M0.143 0.0504 0.1422 0.0481 0.1414 0.0459" stroke="#220c4e" stroke-width="0.0067"/>
<path d="M0.1417 0.0467 0.1407 0.0445 0.1396 0.0424" stroke="#220c4e" stroke-width="0.00651"/>
<path d="M0.14 0.0431 0.1389 0.0411 0.1376 0.0391" stroke="#210c4b" stroke-width="0.00632"/>
<path d="M0.138 0.0397 0.1367 0.0378 0.1353 0.0359" stroke="#1f0c49" stroke-width="0.00614"/>
<path d="M0.1358 0.0366 0.1344 0.0348 0.1328 0.033" stroke="#1f0c48" stroke-width="0.00595"/>
<path d="M0.1333 0.0336 0.1318 0.0319 0.1301 0.0303" stroke="#1c0c43" stroke-width="0.00558"/>
<path d="M0.1307 0.0308 0.1289 0.0293 0.1272 0.0278" stroke="#180c3c" stroke-width="0.00539"/>
<path d="M0.1278 0.0283 0.1259 0.0269 0.124 0.0256" stroke="#140b34" stroke-width="0.00521"/>
<path d="M0.1247 0.026 0.1227 0.0248 0.1207 0.0237" stroke="#10092d" stroke-width="0.00502"/>
<path d="M0.1214 0.0241 0.1194 0.023 0.1173 0.0221" stroke="#0c0826" stroke-width="0.00484"/>
<path d="M0.118 0.0224 0.1158 0.0215 0.1137 0.0208" stroke="#0c0826" stroke-width="0.00465"/>
<path d="M0.1144 0.021 0.1122 0.0203 0.11 0.0198" stroke="#09061f" stroke-width="0.00446"/>
<path d="M0.1107 0.02 0.1085 0.0194 0.1062 0.0189" stroke="#09061f" stroke-width="0.00428"/>
<path d="M0.107 0.0191 0.1047 0.0186 0.1024 0.0183" stroke="#09061f" stroke-width="0.00409"/>
<path d="M0.1031 0.0184 0.1008 0.0182 0.0984 0.0182 0.0961 0.0183 0.0945 0.0185" stroke="#09061f" stroke-width="0.00391"/>
<path d="M0.0953 0.0184 0.0929 0.0187 0.0906 0.0191" stroke="#0c0826" stroke-width="0.00409"/>
<path d="M0.0914 0.019 0.0891 0.0195 0.0868 0.0202 0.0864 0.0203" stroke="#0c0826" stroke-width="0.00428"/>
<path d="M0.0872 0.0201 0.0849 0.0209 0.0828 0.0218" stroke="#110a30" stroke-width="0.0043"/>
<path d="M0.0835 0.0214 0.0813 0.0224 0.0792 0.0236" stroke="#190c3e" stroke-width="0.00464"/>
<path d="M0.0799 0.0232 0.0779 0.0244 0.0759 0.0257" stroke="#1e0c45" stroke-width="0.00499"/>
<path d="M0.0765 0.0253 0.0746 0.0267 0.0728 0.0282" stroke="#210c4c" stroke-width="0.00533"/>
<path d="M0.0734 0.0277 0.0716 0.0292 0.0699 0.0309" stroke="#240c51" stroke-width="0.0055"/>
<path d="M0.0704 0.0304 0.0688 0.0321 0.0672 0.0339" stroke="#260c54" stroke-width="0.00585"/>
<path d="M0.0677 0.0333 0.0662 0.0351 0.0648 0.0371" stroke="#270b57" stroke-width="0.00619"/>
<path d="M0.0653 0.0364 0.0639 0.0384 0.0627 0.0404" stroke="#2b0b5c" stroke-width="0.00654"/>
<path d="M0.0631 0.0397 0.0619 0.0418 0.0608 0.0439" stroke="#2e0a60" stroke-width="0.00671"/>
<path d="M0.0612 0.0432 0.0601 0.0453 0.0592 0.0475" stroke="#300a63" stroke-width="0.00705"/>
<path d="M0.0595 0.0468 0.0586 0.049 0.0577 0.0512" stroke="#330a67" stroke-width="0.0074"/>
<path d="M0.058 0.0505 0.0571 0.0527 0.0562 0.0549" stroke="#36096b" stroke-width="0.00774"/>
<path d="M0.0565 0.0542 0.0556 0.0564 0.0547 0.0587" stroke="#39096f" stroke-width="0.00808"/>
<path d="M0.055 0.0579 0.0541 0.0601 0.0532 0.0624" stroke="#3e0a73" stroke-width="0.00843"/>
<path d="M0.0535 0.0616 0.0527 0.0639 0.0518 0.0661" stroke="#410a76" stroke-width="0.00877"/>
<path d="M0.0521 0.0654 0.0512 0.0676 0.0504 0.0699" stroke="#440b78" stroke-width="0.00912"/>
<path d="M0.0507 0.0691 0.0498 0.0714 0.049 0.0736" stroke="#470c7b" stroke-width="0.00929"/>
<path d="M0.0493 0.0729 0.0485 0.0751 0.0477 0.0774" stroke="#490d7d" stroke-width="0.00963"/>
<path d="M0.0479 0.0766 0.0471 0.0789 0.0463 0.0812" stroke="#4c0e7f" stroke-width="0.0098"/>
<path d="M0.0466 0.0804 0.0458 0.0827 0.045 0.0849" stroke="#4f0f80" stroke-width="0.00998"/>
<path d="M0.0453 0.0842 0.0445 0.0864 0.0437 0.0887" stroke="#500f81" stroke-width="0.01015"/>
<path d="M0.0439 0.0879 0.0432 0.0902 0.0424 0.0925" stroke="#521082" stroke-width="0.01032"/>
<path d="M0.0426 0.0917 0.0418 0.094 0.0411 0.0962" stroke="#541081" stroke-width="0.01032"/>
<path d="M0.0413 0.0955 0.0405 0.0977 0.0398 0.1 0.039 0.1023 0.0385 0.1038" stroke="#551181" stroke-width="0.01049"/>
<path d="M0.0387 0.103 0.038 0.1053 0.0373 0.1076" stroke="#571280" stroke-width="0.01066"/>
<path d="M0.0375 0.1068 0.0368 0.1091 0.0361 0.1114" stroke="#591280" stroke-width="0.01066"/>
<path d="M0.0364 0.1107 0.0357 0.113 0.035 0.1153" stroke="#5a137f" stroke-width="0.01066"/>
<path d="M0.0353 0.1145 0.0346 0.1168 0.034 0.1191 0.0334 0.1214 0.0328 0.1238 0.0322 0.1261 0.032 0.1269" stroke="#5c137f" stroke-width="0.01084"/>
<path d="M0.0322 0.1261 0.0316 0.1284 0.0311 0.1307" stroke="#5e147e" stroke-width="0.01084"/>
<path d="M0.0313 0.13 0.0307 0.1323 0.0302 0.1346" stroke="#5e147e" stroke-width="0.01101"/>
<path d="M0.0304 0.1339 0.0298 0.1362 0.0293 0.1385 0.0288 0.1409 0.0284 0.1424" stroke="#5f157e" stroke-width="0.01101"/>
<path d="M0.0286 0.1416 0.028 0.144 0.0275 0.1463" stroke="#61157d" stroke-width="0.01101"/>
<path d="M0.0277 0.1455 0.0272 0.1479 0.0267 0.1502 0.0261 0.1526 0.0258 0.1541" stroke="#61157d" stroke-width="0.01118"/>
<path d="M0.026 0.1533 0.0254 0.1557 0.0249 0.158 0.0245 0.1604 0.0241 0.162" stroke="#63167c" stroke-width="0.01118"/>
<path d="M0.0243 0.1612 0.0238 0.1635 0.0234 0.1659" stroke="#64167c" stroke-width="0.01118"/>
<path d="M0.0235 0.1651 0.0231 0.1675 0.0226 0.1698" stroke="#64167c" stroke-width="0.01135"/>
<path d="M0.0228 0.169 0.0224 0.1714 0.022 0.1738" stroke="#66177b" stroke-width="0.01135"/>
<path d="M0.0221 0.173 0.0217 0.1754 0.0213 0.1778 0.021 0.1801 0.0207 0.1825 0.0203 0.1849 0.0202 0.1857" stroke="#68187b" stroke-width="0.01135"/>
<path d="M0.0203 0.1849 0.02 0.1873 0.0198 0.1897" stroke="#68187a" stroke-width="0.01135"/>
<path d="M0.0199 0.1889 0.0196 0.1913 0.0193 0.1937" stroke="#68187a" stroke-width="0.01152"/>
<path d="M0.0194 0.1929 0.0191 0.1953 0.0189 0.1977 0.0187 0.2 0.0185 0.2016" stroke="#6a187a" stroke-width="0.01152"/>
<path d="M0.0186 0.2008 0.0183 0.2032 0.0181 0.2056 0.0179 0.208 0.0178 0.2096" stroke="#6b1979" stroke-width="0.01152"/>
<path d="M0.0179 0.2088 0.0177 0.2112 0.0175 0.2136 0.0174 0.216 0.0173 0.2176" stroke="#6b1979" stroke-width="0.0117"/>
<path d="M0.0174 0.2168 0.0173 0.2192 0.0172 0.2216 0.0171 0.224 0.017 0.2256" stroke="#6d1978" stroke-width="0.0117"/>
<path d="M0.017 0.2248 0.0169 0.2272 0.0168 0.2296" stroke="#6d1978" stroke-width="0.01187"/>
<path d="M0.0168 0.2288 0.0167 0.2312 0.0166 0.2335 0.0165 0.2359 0.0164 0.2375" stroke="#6f1a78" stroke-width="0.01187"/>
<path d="M0.0165 0.2367 0.0164 0.2391 0.0163 0.2415 0.0162 0.2439 0.0161 0.2455" stroke="#6f1a78" stroke-width="0.01204"/>
<path d="M0.0162 0.2447 0.0161 0.2471 0.016 0.2495" stroke="#6f1a77" stroke-width="0.01204"/>
<path d="M0.016 0.2487 0.016 0.2511 0.0159 0.2535 0.0159 0.2559 0.0158 0.2583 0.0158 0.2607 0.0157 0.2631 0.0157 0.2655 0.0157 0.2679 0.0157 0.2703 0.0157 0.2727 0.0157 0.2751 0.0157 0.2775 0.0157 0.2798 0.0157 0.2814" stroke="#6f1a77" stroke-width="0.01221"/>
<path d="M0.0157 0.2806 0.0157 0.283 0.0158 0.2854 0.0158 0.2878 0.0158 0.2894" stroke="#6f1a77" stroke-width="0.01204"/>
<path d="M0.0158 0.2886 0.0158 0.291 0.0159 0.2934 0.0161 0.2958 0.0162 0.2974" stroke="#6f1a78" stroke-width="0.01187"/>
<path d="M0.0162 0.2966 0.0164 0.299 0.0168 0.3014" stroke="#6f1a78" stroke-width="0.0117"/>
<path d="M0.0167 0.3006 0.0171 0.303 0.0176 0.3053" stroke="#6d1978" stroke-width="0.01152"/>
<path d="M0.0174 0.3045 0.0179 0.3069 0.0186 0.3092 0.0193 0.3115 0.0199 0.313" stroke="#6d1978" stroke-width="0.01135"/>
<path d="M0.0196 0.3122 0.0204 0.3145 0.0214 0.3167" stroke="#6d1978" stroke-width="0.01118"/>
<path d="M0.0211 0.3159 0.0221 0.3181 0.0231 0.3202" stroke="#6b1979" stroke-width="0.01118"/>
<path d="M0.0228 0.3195 0.0239 0.3216 0.0251 0.3236 0.0264 0.3256 0.0277 0.3276 0.029 0.3296 0.0303 0.3316 0.0316 0.3336 0.0329 0.3355 0.0338 0.3369" stroke="#6b1979" stroke-width="0.01101"/>
<path d="M0.0333 0.3362 0.0347 0.3382 0.036 0.3402 0.0373 0.3422 0.0381 0.3436" stroke="#6d1978" stroke-width="0.01118"/>
<path d="M0.0377 0.3429 0.039 0.3449 0.0403 0.3469" stroke="#6d1978" stroke-width="0.01135"/>
<path d="M0.0399 0.3462 0.0412 0.3483 0.0425 0.3503" stroke="#6f1a78" stroke-width="0.01135"/>
<path d="M0.042 0.3496 0.0433 0.3516 0.0446 0.3536 0.046 0.3557 0.0468 0.357" stroke="#6f1a77" stroke-width="0.01152"/>
<path d="M0.0464 0.3563 0.0477 0.3584 0.049 0.3604" stroke="#711a77" stroke-width="0.0117"/>
<path d="M0.0486 0.3597 0.0499 0.3617 0.0512 0.3638" stroke="#711a77" stroke-width="0.01187"/>
<path d="M0.0507 0.3631 0.052 0.3651 0.0534 0.3671" stroke="#721b76" stroke-width="0.01187"/>
<path d="M0.0529 0.3665 0.0542 0.3685 0.0556 0.3705 0.0569 0.3725 0.0578 0.3738" stroke="#721b76" stroke-width="0.01204"/>
<path d="M0.0573 0.3732 0.0587 0.3752 0.0601 0.3772 0.0615 0.3791 0.0629 0.3811 0.0643 0.383 0.0648 0.3837" stroke="#741c75" stroke-width="0.01204"/>
<path d="M0.0643 0.383 0.0658 0.3849 0.0673 0.3868 0.0688 0.3887 0.0703 0.3906 0.0718 0.3925 0.0723 0.3931" stroke="#741c75" stroke-width="0.01187"/>
<path d="M0.0718 0.3925 0.0733 0.3944 0.0749 0.3962 0.0764 0.3981 0.0775 0.3993" stroke="#741c75" stroke-width="0.0117"/>
<path d="M0.0769 0.3987 0.0785 0.4005 0.0801 0.4023 0.0817 0.4041 0.0828 0.4053" stroke="#741c75" stroke-width="0.01152"/>
<path d="M0.0822 0.4047 0.0838 0.4065 0.0855 0.4083 0.0871 0.41 0.0887 0.4118 0.0904 0.4135 0.0909 0.4141" stroke="#741c75" stroke-width="0.01135"/>
<path d="M0.0904 0.4135 0.092 0.4153 0.0937 0.417 0.0953 0.4187 0.097 0.4204 0.0987 0.4221 0.0993 0.4227" stroke="#741c75" stroke-width="0.01118"/>
<path d="M0.0987 0.4221 0.1004 0.4238 0.1021 0.4255 0.1038 0.4272 0.1055 0.4289 0.1072 0.4305 0.109 0.4322 0.1107 0.4338" stroke="#741c75" stroke-width="0.01135"/>
<path d="M0.1101 0.4333 0.1119 0.4349 0.1136 0.4365 0.1153 0.4381 0.1171 0.4398 0.1188 0.4414 0.1194 0.4419" stroke="#741c75" stroke-width="0.01152"/>
<path d="M0.1188 0.4414 0.1206 0.443 0.1224 0.4446 0.1241 0.4462 0.1259 0.4478 0.1277 0.4494 0.1295 0.451 0.1313 0.4525 0.1332 0.4541 0.135 0.4556 0.1369 0.4571 0.1387 0.4586 0.1406 0.4601 0.1425 0.4615 0.1444 0.463 0.1463 0.4644 0.1483 0.4658 0.1502 0.4672 0.1522 0.4686 0.1541 0.47 0.1561 0.4713 0.1581 0.4727 0.16 0.4741 0.162 0.4754 0.164 0.4767 0.166 0.478 0.168 0.4793 0.17 0.4806 0.1721 0.4819 0.1741 0.4832 0.1761 0.4844 0.1782 0.4857 0.1802 0.4869 0.1823 0.4881 0.1843 0.4893 0.1864 0.4905 0.1871 0.4909" stroke="#741c75" stroke-width="0.0117"/>
<path d="M0.1864 0.4905 0.1885 0.4917 0.1906 0.4929 0.1927 0.494 0.1947 0.4952 0.1968 0.4963 0.1989 0.4975 0.2011 0.4986 0.2032 0.4997 0.2053 0.5008 0.2074 0.5019 0.2084 0.5025" stroke="#741c75" stroke-width="0.01152"/>
<path d="M0.2077 0.5021 0.2098 0.5032 0.212 0.5043 0.2141 0.5054 0.2162 0.5065 0.2183 0.5076 0.2205 0.5086 0.2226 0.5097 0.2248 0.5107 0.2269 0.5117 0.2291 0.5126 0.2313 0.5136 0.2335 0.5146 0.2356 0.5155 0.2378 0.5164 0.24 0.5173 0.2423 0.5181 0.2445 0.519 0.2467 0.5198 0.2489 0.5206 0.2512 0.5214 0.2534 0.5222 0.2557 0.523 0.2579 0.5238 0.2595 0.5243" stroke="#741c75" stroke-width="0.01135"/>
<path d="M0.2587 0.524 0.261 0.5248 0.2632 0.5255 0.2655 0.5263 0.2678 0.527 0.2701 0.5277 0.2724 0.5284 0.2747 0.5291 0.277 0.5298 0.2793 0.5304 0.2816 0.5311 0.2839 0.5317 0.2862 0.5323 0.2886 0.5329 0.2909 0.5334 0.2932 0.534 0.2956 0.5345 0.2979 0.535 0.3003 0.5355 0.3018 0.5358" stroke="#741c75" stroke-width="0.01152"/>
<path d="M0.3011 0.5356 0.3034 0.5361 0.3058 0.5365 0.3081 0.5369 0.3105 0.5373 0.3129 0.5376 0.3152 0.538 0.3176 0.5383 0.32 0.5386 0.3224 0.5388 0.3247 0.5391 0.3271 0.5393 0.3295 0.5396 0.3319 0.5398 0.3335 0.5399" stroke="#721b76" stroke-width="0.0117"/>
<path d="M0.3327 0.5399 0.3351 0.5401 0.3374 0.5403" stroke="#711a77" stroke-width="0.0117"/>
<path d="M0.3366 0.5402 0.339 0.5404 0.3414 0.5406 0.3438 0.5408 0.3462 0.5409 0.3486 0.5411 0.3509 0.5412 0.3533 0.5413 0.3557 0.5414 0.3581 0.5415 0.3605 0.5416 0.3613 0.5416" stroke="#711a77" stroke-width="0.01187"/>
<path d="M0.3605 0.5416 0.3629 0.5416 0.3653 0.5417 0.3677 0.5417 0.3701 0.5417 0.3725 0.5417 0.3749 0.5417 0.3773 0.5417 0.3797 0.5417 0.3813 0.5417" stroke="#6f1a77" stroke-width="0.01187"/>
<path d="M0.3805 0.5417 0.3828 0.5417 0.3851 0.5416" stroke="#6f1a78" stroke-width="0.01187"/>
<path d="M0.3844 0.5416 0.3867 0.5415 0.389 0.5414 0.3913 0.5412 0.3937 0.5409 0.396 0.5405 0.3984 0.5402 0.4008 0.5397" stroke="#6f1a78" stroke-width="0.0117"/>
<path d="M0.4 0.5399 0.4024 0.5394 0.4047 0.5389 0.407 0.5384 0.4086 0.538" stroke="#6d1978" stroke-width="0.0117"/>
<path d="M0.4078 0.5382 0.4101 0.5376 0.4125 0.5369 0.4147 0.5361 0.417 0.5353 0.4193 0.5345 0.4215 0.5336 0.4238 0.5327 0.426 0.5317 0.4282 0.5308 0.4304 0.5298 0.4326 0.5287 0.4347 0.5277" stroke="#6d1978" stroke-width="0.01152"/>
<path d="M0.434 0.528 0.4362 0.527 0.4384 0.5259" stroke="#6d1978" stroke-width="0.01135"/>
<path d="M0.4376 0.5263 0.4398 0.5252 0.4419 0.5241 0.4441 0.523 0.4462 0.5219 0.4483 0.5207 0.4504 0.5195 0.4525 0.5183 0.4546 0.5171 0.456 0.5163" stroke="#6b1979" stroke-width="0.01135"/>
<path d="M0.4553 0.5167 0.4574 0.5155 0.4594 0.5142 0.4614 0.5129 0.4635 0.5116 0.4655 0.5103 0.4675 0.509 0.4695 0.5076" stroke="#6b1979" stroke-width="0.01118"/>
<path d="M0.4688 0.5081 0.4708 0.5067 0.4727 0.5053 0.4747 0.5039 0.476 0.503" stroke="#6a187a" stroke-width="0.01101"/>
<path d="M0.4753 0.5035 0.4773 0.502 0.4792 0.5006" stroke="#6a187a" stroke-width="0.01084"/>
<path d="M0.4785 0.5011 0.4804 0.4996 0.4823 0.4981" stroke="#68187a" stroke-width="0.01084"/>
<path d="M0.4817 0.4986 0.4836 0.4971 0.4854 0.4956" stroke="#68187a" stroke-width="0.01066"/>
<path d="M0.4848 0.4961 0.4866 0.4946 0.4885 0.4931" stroke="#68187b" stroke-width="0.01066"/>
<path d="M0.4879 0.4936 0.4897 0.492 0.4915 0.4905 0.4933 0.4889 0.4944 0.4878" stroke="#68187b" stroke-width="0.01049"/>
<path d="M0.4938 0.4883 0.4956 0.4867 0.4973 0.4851 0.4991 0.4834 0.5002 0.4823" stroke="#66177b" stroke-width="0.01032"/>
<path d="M0.4996 0.4829 0.5013 0.4812 0.503 0.4795 0.5047 0.4778 0.5058 0.4766" stroke="#64167c" stroke-width="0.01032"/>
<path d="M0.5052 0.4772 0.5069 0.4755 0.5085 0.4737 0.5101 0.472 0.5112 0.4708" stroke="#63167c" stroke-width="0.01032"/>
<path d="M0.5106 0.4714 0.5122 0.4696 0.5138 0.4678 0.5153 0.466 0.5168 0.4641 0.5184 0.4623 0.5189 0.4617" stroke="#61157d" stroke-width="0.01049"/>
<path d="M0.5184 0.4623 0.5198 0.4604 0.5213 0.4585" stroke="#5f157e" stroke-width="0.01066"/>
<path d="M0.5208 0.4592 0.5223 0.4573 0.5237 0.4553 0.5251 0.4534 0.5261 0.4521" stroke="#5e147e" stroke-width="0.01066"/>
<path d="M0.5256 0.4528 0.527 0.4508 0.5284 0.4488 0.5297 0.4468 0.531 0.4448 0.5323 0.4428 0.5327 0.4421" stroke="#5c137f" stroke-width="0.01084"/>
<path d="M0.5323 0.4428 0.5336 0.4407 0.5348 0.4387 0.536 0.4366 0.5368 0.4352" stroke="#5a137f" stroke-width="0.01084"/>
<path d="M0.5364 0.4359 0.5375 0.4337 0.5386 0.4316 0.5397 0.4294 0.5403 0.428" stroke="#591280" stroke-width="0.01084"/>
<path d="M0.54 0.4287 0.541 0.4265 0.542 0.4243 0.5429 0.4221 0.5436 0.4206" stroke="#571280" stroke-width="0.01066"/>
<path d="M0.5433 0.4213 0.5442 0.4191 0.5451 0.4169" stroke="#551181" stroke-width="0.01049"/>
<path d="M0.5448 0.4176 0.5457 0.4154 0.5465 0.4132" stroke="#551181" stroke-width="0.01032"/>
<path d="M0.5462 0.4139 0.5471 0.4117 0.5479 0.4094" stroke="#551181" stroke-width="0.01015"/>
<path d="M0.5476 0.4102 0.5484 0.4079 0.5492 0.4057" stroke="#541081" stroke-width="0.0098"/>
<path d="M0.549 0.4064 0.5498 0.4042 0.5505 0.402" stroke="#500f81" stroke-width="0.00963"/>
<path d="M0.5503 0.4027 0.551 0.4005 0.5518 0.3982" stroke="#4f0f80" stroke-width="0.00946"/>
<path d="M0.5515 0.399 0.5523 0.3967 0.553 0.3945" stroke="#4b0d7e" stroke-width="0.00912"/>
<path d="M0.5528 0.3952 0.5535 0.393 0.5542 0.3907" stroke="#470c7b" stroke-width="0.00894"/>
<path d="M0.554 0.3915 0.5547 0.3893 0.5555 0.387" stroke="#410a76" stroke-width="0.0086"/>
<path d="M0.5552 0.3878 0.5559 0.3855 0.5566 0.3834" stroke="#39096e" stroke-width="0.00843"/>
<path d="M0.5564 0.3841 0.557 0.3819 0.5575 0.3797" stroke="#340969" stroke-width="0.00826"/>
<path d="M0.5573 0.3804 0.5578 0.3782 0.5581 0.3759" stroke="#330a67" stroke-width="0.00791"/>
<path d="M0.558 0.3767 0.5583 0.3744 0.5584 0.372" stroke="#300a63" stroke-width="0.00757"/>
<path d="M0.5584 0.3728 0.5585 0.3704 0.5584 0.3681" stroke="#2e0a60" stroke-width="0.00722"/>
<path d="M0.5584 0.3689 0.5583 0.3665 0.5579 0.3641" stroke="#2c0b5e" stroke-width="0.00671"/>
<path d="M0.5581 0.3649 0.5577 0.3625 0.5571 0.3602" stroke="#2b0b5c" stroke-width="0.00636"/>
<path d="M0.5573 0.3609 0.5567 0.3586 0.556 0.3563" stroke="#290b59" stroke-width="0.00602"/>
<path d="M0.5562 0.3571 0.5554 0.3548 0.5544 0.3526" stroke="#270b57" stroke-width="0.00585"/>
<path d="M0.5548 0.3533 0.5537 0.3511 0.5526 0.349" stroke="#270b57" stroke-width="0.00568"/>
<path d="M0.553 0.3497 0.5517 0.3476 0.5504 0.3456" stroke="#270b56" stroke-width="0.0055"/>
<path d="M0.5508 0.3463 0.5494 0.3444 0.5478 0.3425 0.5462 0.3408 0.545 0.3397" stroke="#260c54" stroke-width="0.0055"/>
<path d="M0.5456 0.3403 0.5438 0.3387 0.542 0.3372" stroke="#260c54" stroke-width="0.00568"/>
<path d="M0.5426 0.3377 0.5407 0.3362 0.5388 0.3349 0.5367 0.3337 0.5354 0.3329" stroke="#240c51" stroke-width="0.00568"/>
<path d="M0.5361 0.3333 0.534 0.3322 0.5318 0.3313" stroke="#260c54" stroke-width="0.00568"/>
<path d="M0.5325 0.3316 0.5303 0.3307 0.5281 0.3299" stroke="#260c54" stroke-width="0.00585"/>
<path d="M0.5289 0.3302 0.5266 0.3295 0.5243 0.3289" stroke="#270b56" stroke-width="0.00585"/>
<path d="M0.5251 0.3291 0.5228 0.3286 0.5205 0.3282" stroke="#270b57" stroke-width="0.00602"/>
<path d="M0.5213 0.3283 0.5189 0.328 0.5166 0.3279" stroke="#2b0b5c" stroke-width="0.00619"/>
<path d="M0.5174 0.3279 0.515 0.3278 0.5126 0.3278" stroke="#2e0a60" stroke-width="0.00636"/>
<path d="M0.5134 0.3278 0.5111 0.3279 0.5087 0.3281" stroke="#300a63" stroke-width="0.00654"/>
<path d="M0.5095 0.328 0.5072 0.3283 0.5048 0.3287" stroke="#330a67" stroke-width="0.00671"/>
<path d="M0.5056 0.3286 0.5033 0.3291 0.501 0.3296" stroke="#340969" stroke-width="0.00688"/>
<path d="M0.5018 0.3294 0.4995 0.3301 0.4973 0.3308" stroke="#39096e" stroke-width="0.00705"/>
<path d="M0.498 0.3306 0.4958 0.3314 0.4937 0.3323" stroke="#3b0970" stroke-width="0.00722"/>
<path d="M0.4944 0.332 0.4923 0.333 0.4902 0.334" stroke="#3f0a74" stroke-width="0.0074"/>
<path d="M0.4909 0.3337 0.4888 0.3348 0.4868 0.336" stroke="#420a77" stroke-width="0.00757"/>
<path d="M0.4875 0.3356 0.4854 0.3368 0.4833 0.338" stroke="#480c7c" stroke-width="0.00774"/>
<path d="M0.484 0.3376 0.4819 0.3388 0.4797 0.3399" stroke="#4f0f80" stroke-width="0.00791"/>
<path d="M0.4804 0.3395 0.4783 0.3406 0.4761 0.3417" stroke="#521082" stroke-width="0.00826"/>
<path d="M0.4768 0.3413 0.4746 0.3423 0.4725 0.3433" stroke="#551181" stroke-width="0.00843"/>
<path d="M0.4732 0.343 0.471 0.3439 0.4687 0.3448" stroke="#571280" stroke-width="0.00877"/>
<path d="M0.4695 0.3445 0.4673 0.3454 0.465 0.3462" stroke="#591280" stroke-width="0.00894"/>
<path d="M0.4658 0.346 0.4635 0.3468 0.4612 0.3475" stroke="#5a137f" stroke-width="0.00929"/>
<path d="M0.462 0.3473 0.4597 0.348 0.4574 0.3487" stroke="#5a137f" stroke-width="0.00946"/>
<path d="M0.4582 0.3485 0.4559 0.3491 0.4536 0.3497" stroke="#5c137f" stroke-width="0.0098"/>
<path d="M0.4543 0.3495 0.452 0.3501 0.4497 0.3506 0.4493 0.3507" stroke="#5c137f" stroke-width="0.00998"/>
<path d="M0.4501 0.3506 0.4477 0.3511 0.4454 0.3516" stroke="#5c137f" stroke-width="0.01015"/>
<path d="M0.4462 0.3514 0.4438 0.3519 0.4415 0.3523" stroke="#5c137f" stroke-width="0.01032"/>
<path d="M0.4423 0.3522 0.4399 0.3526 0.4376 0.3531" stroke="#5c137f" stroke-width="0.01049"/>
<path d="M0.4384 0.3529 0.436 0.3534 0.4337 0.3538 0.4314 0.3543 0.4298 0.3546" stroke="#5e147e" stroke-width="0.01066"/>
<path d="M0.4306 0.3544 0.4282 0.3548 0.4259 0.3553 0.4235 0.3557 0.422 0.3559" stroke="#5f157e" stroke-width="0.01084"/>
<path d="M0.4227 0.3558 0.4204 0.3562 0.418 0.3565 0.4157 0.3568 0.4141 0.3571" stroke="#61157d" stroke-width="0.01101"/>
<path d="M0.4149 0.357 0.4125 0.3573 0.4101 0.3575 0.4078 0.3578 0.4062 0.3579" stroke="#61157d" stroke-width="0.01118"/>
<path d="M0.407 0.3578 0.4046 0.358 0.4022 0.3582 0.3998 0.3584 0.3975 0.3585 0.3951 0.3585 0.3927 0.3586 0.3903 0.3586" stroke="#63167c" stroke-width="0.01135"/>
<path d="M0.3911 0.3586 0.3887 0.3586 0.3863 0.3585 0.3839 0.3584 0.3815 0.3583 0.3792 0.3582 0.3768 0.3581 0.3744 0.3579 0.372 0.3577 0.3696 0.3575 0.3672 0.3573 0.3649 0.357 0.3625 0.3568" stroke="#64167c" stroke-width="0.01135"/>
<path d="M0.3633 0.3569 0.3609 0.3566 0.3585 0.3563 0.3562 0.356 0.3538 0.3556 0.3514 0.3553 0.3491 0.3549 0.3467 0.3545 0.3444 0.3541 0.342 0.3537 0.3397 0.3532 0.3373 0.3527 0.335 0.3522 0.3327 0.3516 0.3312 0.3513" stroke="#66177b" stroke-width="0.01135"/>
<path d="M0.3319 0.3514 0.3296 0.3509 0.3273 0.3503 0.325 0.3496 0.3235 0.3492" stroke="#68187b" stroke-width="0.01118"/>
<path d="M0.3242 0.3494 0.322 0.3487 0.3197 0.348 0.3174 0.3473 0.3151 0.3466 0.3129 0.3458 0.3121 0.3455" stroke="#68187b" stroke-width="0.01101"/>
<path d="M0.3129 0.3458 0.3106 0.345 0.3084 0.3442" stroke="#68187b" stroke-width="0.01084"/>
<path d="M0.3092 0.3444 0.3069 0.3436 0.3047 0.3427 0.3025 0.3418 0.3003 0.3409 0.2981 0.3399 0.2959 0.339 0.2938 0.338 0.2916 0.337 0.2894 0.336 0.2873 0.335 0.2851 0.3339 0.2829 0.3329 0.2808 0.3318 0.2787 0.3308 0.2765 0.3297 0.2744 0.3286 0.2722 0.3275 0.2701 0.3264 0.268 0.3253 0.2659 0.3242 0.2638 0.323 0.2617 0.3219 0.2596 0.3207 0.2576 0.3194 0.2555 0.3181 0.2535 0.3169 0.2515 0.3156 0.2495 0.3142 0.2475 0.3129 0.2455 0.3116 0.2448 0.3111" stroke="#68187a" stroke-width="0.01084"/>
<path d="M0.2455 0.3116 0.2435 0.3102 0.2416 0.3088 0.2396 0.3074 0.2383 0.3065" stroke="#68187b" stroke-width="0.01084"/>
<path d="M0.239 0.3069 0.2371 0.3055 0.2352 0.3041 0.2333 0.3026 0.232 0.3016" stroke="#68187b" stroke-width="0.01101"/>
<path d="M0.2326 0.3021 0.2308 0.3006 0.229 0.2991 0.2272 0.2976 0.2255 0.296 0.2238 0.2943 0.2221 0.2927 0.2204 0.291 0.2188 0.2893 0.2178 0.2881" stroke="#66177b" stroke-width="0.01101"/>
<path d="M0.2183 0.2887 0.2168 0.2869 0.2152 0.2851 0.2138 0.2833 0.2123 0.2815 0.2109 0.2796 0.2095 0.2777 0.2081 0.2758 0.2068 0.2739 0.2056 0.2719 0.2043 0.27 0.2031 0.268 0.2019 0.2659" stroke="#64167c" stroke-width="0.01118"/>
<path d="M0.2023 0.2666 0.2011 0.2646 0.1999 0.2625 0.1987 0.2605 0.1974 0.2584 0.1962 0.2564 0.195 0.2543 0.1939 0.2523 0.1927 0.2502 0.1915 0.2481 0.1904 0.2461 0.1892 0.244 0.1881 0.2419 0.1869 0.2398 0.1862 0.2384" stroke="#64167c" stroke-width="0.01135"/>
<path d="M0.1865 0.2391 0.1854 0.237 0.1843 0.2349 0.1831 0.2328 0.182 0.2307 0.1809 0.2286 0.1798 0.2265 0.1788 0.2244" stroke="#64167c" stroke-width="0.01152"/>
<path d="M0.1791 0.2251 0.1781 0.2229 0.177 0.2208 0.176 0.2186 0.1754 0.2172" stroke="#64167c" stroke-width="0.01135"/>
<path d="M0.1757 0.2179 0.1747 0.2157 0.1738 0.2135 0.1728 0.2113 0.1719 0.2091 0.171 0.2069 0.1702 0.2047 0.1693 0.2024" stroke="#63167c" stroke-width="0.01135"/>
<path d="M0.1696 0.2032 0.1688 0.2009 0.1679 0.1987 0.1671 0.1964 0.1664 0.1941 0.1656 0.1919 0.1649 0.1896 0.1642 0.1873 0.1635 0.185 0.1628 0.1827 0.1622 0.1804 0.1615 0.1781 0.1609 0.1758" stroke="#61157d" stroke-width="0.01135"/>
<path d="M0.1611 0.1765 0.1605 0.1742 0.1599 0.1719 0.1593 0.1696 0.1589 0.168" stroke="#5f157e" stroke-width="0.01118"/>
<path d="M0.1591 0.1688 0.1585 0.1665 0.1579 0.1642 0.1574 0.1618 0.157 0.1603" stroke="#5e147e" stroke-width="0.01118"/>
<path d="M0.1572 0.1611 0.1566 0.1587 0.156 0.1564" stroke="#5c137f" stroke-width="0.01118"/>
<path d="M0.1562 0.1572 0.1557 0.1549 0.1551 0.1525 0.1546 0.1502 0.1541 0.1478 0.1536 0.1455 0.1535 0.1447" stroke="#5c137f" stroke-width="0.01101"/>
<path d="M0.1536 0.1455 0.1531 0.1431 0.1527 0.1408" stroke="#5a137f" stroke-width="0.01084"/>
<path d="M0.1528 0.1416 0.1524 0.1392 0.1519 0.1369" stroke="#591280" stroke-width="0.01084"/>
<path d="M0.1521 0.1377 0.1517 0.1353 0.1512 0.1329" stroke="#571280" stroke-width="0.01084"/>
<path d="M0.1514 0.1337 0.1509 0.1314 0.1505 0.129" stroke="#571280" stroke-width="0.01066"/>
<path d="M0.1507 0.1298 0.1503 0.1274 0.1499 0.1251" stroke="#551181" stroke-width="0.01066"/>
<path d="M0.15 0.1258 0.1496 0.1235 0.1493 0.1211" stroke="#551181" stroke-width="0.01049"/>
<path d="M0.1494 0.1219 0.1491 0.1195 0.1487 0.1171" stroke="#541081" stroke-width="0.01049"/>
<path d="M0.1488 0.1179 0.1485 0.1156 0.1482 0.1132" stroke="#521082" stroke-width="0.01032"/>
<path d="M0.1483 0.114 0.148 0.1116 0.1477 0.1092" stroke="#4f0f81" stroke-width="0.01015"/>
<path d="M0.1478 0.11 0.1476 0.1076 0.1473 0.1052" stroke="#4e0e7f" stroke-width="0.00998"/>
<path d="M0.1474 0.106 0.1472 0.1036 0.147 0.1012" stroke="#4b0d7e" stroke-width="0.0098"/>
<path d="M0.147 0.102 0.1468 0.0996 0.1467 0.0973" stroke="#4a0d7c" stroke-width="0.00963"/>
<path d="M0.1467 0.0981 0.1466 0.0957 0.1464 0.0933" stroke="#470c7b" stroke-width="0.00929"/>
<path d="M0.1465 0.0941 0.1464 0.0917 0.1463 0.0893" stroke="#450b79" stroke-width="0.00912"/>
<path d="M0.1463 0.0901 0.1463 0.0877 0.1462 0.0853" stroke="#410a76" stroke-width="0.00877"/>
<path d="M0.1462 0.0861 0.1462 0.0837 0.1461 0.0813" stroke="#3f0a74" stroke-width="0.0086"/>
<path d="M0.1461 0.0821 0.1461 0.0797 0.146 0.0773" stroke="#3b0970" stroke-width="0.00826"/>
<path d="M0.146 0.0781 0.1459 0.0757 0.1457 0.0733" stroke="#39096e" stroke-width="0.00791"/>
<path d="M0.1458 0.0741 0.1456 0.0717 0.1455 0.0693" stroke="#340969" stroke-width="0.00774"/>
<path d="M0.1455 0.0701 0.1453 0.0677 0.1451 0.0653" stroke="#330a67" stroke-width="0.0074"/>
<path d="M0.1452 0.0661 0.145 0.0637 0.1448 0.0613" stroke="#300a63" stroke-width="0.00722"/>
<path d="M0.1449 0.0621 0.1446 0.0597 0.1444 0.0574" stroke="#2e0a61" stroke-width="0.00688"/>
<path d="M0.1445 0.0581 0.1442 0.0558 0.1438 0.0534" stroke="#2c0b5e" stroke-width="0.00671"/>
<path d="M0.1439 0.0542 0.1434 0.0519 0.1427 0.0496" stroke="#2b0b5c" stroke-width="0.00654"/>
<path d="M0.143 0.0504 0.1422 0.0481 0.1414 0.0459" stroke="#270b57" stroke-width="0.00619"/>
<path d="M0.1417 0.0467 0.1407 0.0445 0.1396 0.0424" stroke="#270b56" stroke-width="0.00602"/>
<path d="M0.14 0.0431 0.1389 0.0411 0.1376 0.0391" stroke="#260c54" stroke-width="0.00585"/>
<path d="M0.138 0.0397 0.1367 0.0378 0.1353 0.0359" stroke="#220c4e" stroke-width="0.00568"/>
<path d="M0.1358 0.0366 0.1344 0.0348 0.1328 0.033" stroke="#210c4c" stroke-width="0.0055"/>
<path d="M0.1333 0.0336 0.1318 0.0319 0.1301 0.0303" stroke="#1e0c45" stroke-width="0.00516"/>
<path d="M0.1307 0.0308 0.1289 0.0293 0.1272 0.0278" stroke="#190c3e" stroke-width="0.00499"/>
<path d="M0.1278 0.0283 0.1259 0.0269 0.124 0.0256" stroke="#150b37" stroke-width="0.00482"/>
<path d="M0.1247 0.026 0.1227 0.0248 0.1207 0.0237" stroke="#110a30" stroke-width="0.00464"/>
<path d="M0.1214 0.0241 0.1194 0.023 0.1173 0.0221" stroke="#0d0829" stroke-width="0.00447"/>
<path d="M0.118 0.0224 0.1158 0.0215 0.1137 0.0208" stroke="#0d0829" stroke-width="0.0043"/>
<path d="M0.1144 0.021 0.1122 0.0203 0.11 0.0198" stroke="#0a0722" stroke-width="0.00413"/>
<path d="M0.1107 0.02 0.1085 0.0194 0.1062 0.0189" stroke="#0a0722" stroke-width="0.00396"/>
<path d="M0.107 0.0191 0.1047 0.0186 0.1024 0.0183" stroke="#0a0722" stroke-width="0.00378"/>
<path d="M0.1031 0.0184 0.1008 0.0182 0.0984 0.0182 0.0961 0.0183 0.0945 0.0185" stroke="#0a0722" stroke-width="0.00361"/>
<path d="M0.0953 0.0184 0.0929 0.0187 0.0906 0.0191" stroke="#0d0829" stroke-width="0.00378"/>
<path d="M0.0914 0.019 0.0891 0.0195 0.0868 0.0202 0.0864 0.0203" stroke="#0d0829" stroke-width="0.00396"/>
<path d="M0.0872 0.0201 0.0849 0.0209 0.0828 0.0218" stroke="#140b34" stroke-width="0.00395"/>
<path d="M0.0835 0.0214 0.0813 0.0224 0.0792 0.0236" stroke="#1c0c43" stroke-width="0.00427"/>
<path d="M0.0799 0.0232 0.0779 0.0244 0.0759 0.0257" stroke="#210c4b" stroke-width="0.00458"/>
<path d="M0.0765 0.0253 0.0746 0.0267 0.0728 0.0282" stroke="#240c51" stroke-width="0.0049"/>
<path d="M0.0734 0.0277 0.0716 0.0292 0.0699 0.0309" stroke="#270b57" stroke-width="0.00506"/>
<path d="M0.0704 0.0304 0.0688 0.0321 0.0672 0.0339" stroke="#2b0b5b" stroke-width="0.00537"/>
<path d="M0.0677 0.0333 0.0662 0.0351 0.0648 0.0371" stroke="#2e0a61" stroke-width="0.00569"/>
<path d="M0.0653 0.0364 0.0639 0.0384 0.0627 0.0404" stroke="#310a65" stroke-width="0.006"/>
<path d="M0.0631 0.0397 0.0619 0.0418 0.0608 0.0439" stroke="#36096b" stroke-width="0.00616"/>
<path d="M0.0612 0.0432 0.0601 0.0453 0.0592 0.0475" stroke="#39096e" stroke-width="0.00648"/>
<path d="M0.0595 0.0468 0.0586 0.049 0.0577 0.0512" stroke="#3c0972" stroke-width="0.00679"/>
<path d="M0.058 0.0505 0.0571 0.0527 0.0562 0.0549" stroke="#420a77" stroke-width="0.00711"/>
<path d="M0.0565 0.0542 0.0556 0.0564 0.0547 0.0587" stroke="#470c7b" stroke-width="0.00743"/>
<path d="M0.055 0.0579 0.0541 0.0601 0.0532 0.0624" stroke="#4c0e7f" stroke-width="0.00774"/>
<path d="M0.0535 0.0616 0.0527 0.0639 0.0518 0.0661" stroke="#521082" stroke-width="0.00806"/>
<path d="M0.0521 0.0654 0.0512 0.0676 0.0504 0.0699" stroke="#551181" stroke-width="0.00837"/>
<path d="M0.0507 0.0691 0.0498 0.0714 0.049 0.0736" stroke="#5a137f" stroke-width="0.00853"/>
<path d="M0.0493 0.0729 0.0485 0.0751 0.0477 0.0774" stroke="#61157d" stroke-width="0.00885"/>
<path d="M0.0479 0.0766 0.0471 0.0789 0.0463 0.0812" stroke="#65167c" stroke-width="0.00901"/>
<path d="M0.0466 0.0804 0.0458 0.0827 0.045 0.0849" stroke="#6a187a" stroke-width="0.00916"/>
<path d="M0.0453 0.0842 0.0445 0.0864 0.0437 0.0887" stroke="#6d1978" stroke-width="0.00932"/>
<path d="M0.0439 0.0879 0.0432 0.0902 0.0424 0.0925" stroke="#6f1a78" stroke-width="0.00948"/>
<path d="M0.0426 0.0917 0.0418 0.094 0.0411 0.0962" stroke="#711a77" stroke-width="0.00948"/>
<path d="M0.0413 0.0955 0.0405 0.0977 0.0398 0.1" stroke="#721b76" stroke-width="0.00964"/>
<path d="M0.04 0.0993 0.0393 0.1015 0.0385 0.1038" stroke="#761c75" stroke-width="0.00964"/>
<path d="M0.0387 0.103 0.038 0.1053 0.0373 0.1076" stroke="#781d74" stroke-width="0.0098"/>
<path d="M0.0375 0.1068 0.0368 0.1091 0.0361 0.1114" stroke="#791d73" stroke-width="0.0098"/>
<path d="M0.0364 0.1107 0.0357 0.113 0.035 0.1153" stroke="#7b1e72" stroke-width="0.0098"/>
<path d="M0.0353 0.1145 0.0346 0.1168 0.034 0.1191 0.0334 0.1214 0.033 0.123" stroke="#7d1e71" stroke-width="0.00995"/>
<path d="M0.0332 0.1222 0.0326 0.1245 0.032 0.1269" stroke="#81206f" stroke-width="0.00995"/>
<path d="M0.0322 0.1261 0.0316 0.1284 0.0311 0.1307" stroke="#82206e" stroke-width="0.00995"/>
<path d="M0.0313 0.13 0.0307 0.1323 0.0302 0.1346" stroke="#82206e" stroke-width="0.01011"/>
<path d="M0.0304 0.1339 0.0298 0.1362 0.0293 0.1385 0.0288 0.1409 0.0284 0.1424" stroke="#84216d" stroke-width="0.01011"/>
<path d="M0.0286 0.1416 0.028 0.144 0.0275 0.1463" stroke="#86216c" stroke-width="0.01011"/>
<path d="M0.0277 0.1455 0.0272 0.1479 0.0267 0.1502 0.0261 0.1526 0.0258 0.1541" stroke="#88226b" stroke-width="0.01027"/>
<path d="M0.026 0.1533 0.0254 0.1557 0.0249 0.158 0.0245 0.1604 0.0241 0.162" stroke="#8a226a" stroke-width="0.01027"/>
<path d="M0.0243 0.1612 0.0238 0.1635 0.0234 0.1659" stroke="#8d2369" stroke-width="0.01027"/>
<path d="M0.0235 0.1651 0.0231 0.1675 0.0226 0.1698" stroke="#8d2369" stroke-width="0.01043"/>
<path d="M0.0228 0.169 0.0224 0.1714 0.022 0.1738" stroke="#8f2469" stroke-width="0.01043"/>
<path d="M0.0221 0.173 0.0217 0.1754 0.0213 0.1778 0.021 0.1801 0.0207 0.1825 0.0203 0.1849 0.0202 0.1857" stroke="#902568" stroke-width="0.01043"/>
<path d="M0.0203 0.1849 0.02 0.1873 0.0198 0.1897" stroke="#922568" stroke-width="0.01043"/>
<path d="M0.0199 0.1889 0.0196 0.1913 0.0193 0.1937" stroke="#922568" stroke-width="0.01059"/>
<path d="M0.0194 0.1929 0.0191 0.1953 0.0189 0.1977 0.0187 0.2 0.0185 0.2016" stroke="#932667" stroke-width="0.01059"/>
<path d="M0.0186 0.2008 0.0183 0.2032 0.0181 0.2056 0.0179 0.208 0.0178 0.2096" stroke="#952667" stroke-width="0.01059"/>
<path d="M0.0179 0.2088 0.0177 0.2112 0.0175 0.2136 0.0174 0.216 0.0173 0.2176" stroke="#952667" stroke-width="0.01074"/>
<path d="M0.0174 0.2168 0.0173 0.2192 0.0172 0.2216 0.0171 0.224 0.017 0.2256" stroke="#982766" stroke-width="0.01074"/>
<path d="M0.017 0.2248 0.0169 0.2272 0.0168 0.2296" stroke="#982766" stroke-width="0.0109"/>
<path d="M0.0168 0.2288 0.0167 0.2312 0.0166 0.2335 0.0165 0.2359 0.0164 0.2375" stroke="#9a2865" stroke-width="0.0109"/>
<path d="M0.0165 0.2367 0.0164 0.2391 0.0163 0.2415 0.0162 0.2439 0.0161 0.2455" stroke="#9a2865" stroke-width="0.01106"/>
<path d="M0.0162 0.2447 0.0161 0.2471 0.016 0.2495" stroke="#9b2964" stroke-width="0.01106"/>
<path d="M0.016 0.2487 0.016 0.2511 0.0159 0.2535 0.0159 0.2559 0.0158 0.2583 0.0158 0.2607 0.0157 0.2631 0.0157 0.2655 0.0157 0.2679 0.0157 0.2703 0.0157 0.2727 0.0157 0.2751 0.0157 0.2775 0.0157 0.2798 0.0157 0.2814" stroke="#9b2964" stroke-width="0.01122"/>
<path d="M0.0157 0.2806 0.0157 0.283 0.0158 0.2854 0.0158 0.2878 0.0158 0.2894" stroke="#9b2964" stroke-width="0.01106"/>
<path d="M0.0158 0.2886 0.0158 0.291 0.0159 0.2934 0.0161 0.2958 0.0162 0.2974" stroke="#9a2865" stroke-width="0.0109"/>
<path d="M0.0162 0.2966 0.0164 0.299 0.0168 0.3014" stroke="#9a2865" stroke-width="0.01074"/>
<path d="M0.0167 0.3006 0.0171 0.303 0.0176 0.3053" stroke="#982766" stroke-width="0.01059"/>
<path d="M0.0174 0.3045 0.0179 0.3069 0.0186 0.3092 0.0193 0.3115 0.0199 0.313" stroke="#982766" stroke-width="0.01043"/>
<path d="M0.0196 0.3122 0.0204 0.3145 0.0214 0.3167" stroke="#982766" stroke-width="0.01027"/>
<path d="M0.0211 0.3159 0.0221 0.3181 0.0231 0.3202" stroke="#952667" stroke-width="0.01027"/>
<path d="M0.0228 0.3195 0.0239 0.3216 0.0251 0.3236 0.0264 0.3256 0.0277 0.3276 0.029 0.3296 0.0303 0.3316 0.0316 0.3336 0.0329 0.3355 0.0338 0.3369" stroke="#952667" stroke-width="0.01011"/>
<path d="M0.0333 0.3362 0.0347 0.3382 0.036 0.3402 0.0373 0.3422 0.0381 0.3436" stroke="#982766" stroke-width="0.01027"/>
<path d="M0.0377 0.3429 0.039 0.3449 0.0403 0.3469" stroke="#982766" stroke-width="0.01043"/>
<path d="M0.0399 0.3462 0.0412 0.3483 0.0425 0.3503" stroke="#9a2865" stroke-width="0.01043"/>
<path d="M0.042 0.3496 0.0433 0.3516 0.0446 0.3536 0.046 0.3557 0.0468 0.357" stroke="#9b2964" stroke-width="0.01059"/>
<path d="M0.0464 0.3563 0.0477 0.3584 0.049 0.3604" stroke="#9d2964" stroke-width="0.01074"/>
<path d="M0.0486 0.3597 0.0499 0.3617 0.0512 0.3638" stroke="#9d2964" stroke-width="0.0109"/>
<path d="M0.0507 0.3631 0.052 0.3651 0.0534 0.3671" stroke="#9f2a63" stroke-width="0.0109"/>
<path d="M0.0529 0.3665 0.0542 0.3685 0.0556 0.3705 0.0569 0.3725 0.0578 0.3738" stroke="#9f2a63" stroke-width="0.01106"/>
<path d="M0.0573 0.3732 0.0587 0.3752 0.0601 0.3772 0.0615 0.3791 0.0629 0.3811 0.0643 0.383 0.0648 0.3837" stroke="#a22b62" stroke-width="0.01106"/>
<path d="M0.0643 0.383 0.0658 0.3849 0.0673 0.3868 0.0688 0.3887 0.0703 0.3906 0.0718 0.3925 0.0723 0.3931" stroke="#a22b62" stroke-width="0.0109"/>
<path d="M0.0718 0.3925 0.0733 0.3944 0.0749 0.3962 0.0764 0.3981 0.0775 0.3993" stroke="#a22b62" stroke-width="0.01074"/>
<path d="M0.0769 0.3987 0.0785 0.4005 0.0801 0.4023 0.0817 0.4041 0.0828 0.4053" stroke="#a22b62" stroke-width="0.01059"/>
<path d="M0.0822 0.4047 0.0838 0.4065 0.0855 0.4083 0.0871 0.41 0.0887 0.4118 0.0904 0.4135 0.0909 0.4141" stroke="#a22b62" stroke-width="0.01043"/>
<path d="M0.0904 0.4135 0.092 0.4153 0.0937 0.417 0.0953 0.4187 0.097 0.4204 0.0987 0.4221 0.0993 0.4227" stroke="#a22b62" stroke-width="0.01027"/>
<path d="M0.0987 0.4221 0.1004 0.4238 0.1021 0.4255 0.1038 0.4272 0.1055 0.4289 0.1072 0.4305 0.109 0.4322 0.1107 0.4338" stroke="#a22b62" stroke-width="0.01043"/>
<path d="M0.1101 0.4333 0.1119 0.4349 0.1136 0.4365 0.1153 0.4381 0.1171 0.4398 0.1188 0.4414 0.1194 0.4419" stroke="#a22b62" stroke-width="0.01059"/>
<path d="M0.1188 0.4414 0.1206 0.443 0.1224 0.4446 0.1241 0.4462 0.1259 0.4478 0.1277 0.4494 0.1295 0.451 0.1313 0.4525 0.1332 0.4541 0.135 0.4556 0.1369 0.4571 0.1387 0.4586 0.1406 0.4601 0.1425 0.4615 0.1444 0.463 0.1463 0.4644 0.1483 0.4658 0.1502 0.4672 0.1522 0.4686 0.1541 0.47 0.1561 0.4713 0.1581 0.4727 0.16 0.4741 0.162 0.4754 0.164 0.4767 0.166 0.478 0.168 0.4793 0.17 0.4806 0.1721 0.4819 0.1741 0.4832 0.1761 0.4844 0.1782 0.4857 0.1802 0.4869 0.1823 0.4881 0.1843 0.4893 0.1864 0.4905 0.1871 0.4909" stroke="#a22b62" stroke-width="0.01074"/>
<path d="M0.1864 0.4905 0.1885 0.4917 0.1906 0.4929 0.1927 0.494 0.1947 0.4952 0.1968 0.4963 0.1989 0.4975 0.2011 0.4986 0.2032 0.4997 0.2053 0.5008 0.2074 0.5019 0.2084 0.5025" stroke="#a22b62" stroke-width="0.01059"/>
<path d="M0.2077 0.5021 0.2098 0.5032 0.212 0.5043 0.2141 0.5054 0.2162 0.5065 0.2183 0.5076 0.2205 0.5086 0.2226 0.5097 0.2248 0.5107 0.2269 0.5117 0.2291 0.5126 0.2313 0.5136 0.2335 0.5146 0.2356 0.5155 0.2378 0.5164 0.24 0.5173 0.2423 0.5181 0.2445 0.519 0.2467 0.5198 0.2489 0.5206 0.2512 0.5214 0.2534 0.5222 0.2557 0.523 0.2579 0.5238 0.2595 0.5243" stroke="#a22b62" stroke-width="0.01043"/>
<path d="M0.2587 0.524 0.261 0.5248 0.2632 0.5255 0.2655 0.5263 0.2678 0.527 0.2701 0.5277 0.2724 0.5284 0.2747 0.5291 0.277 0.5298 0.2793 0.5304 0.2816 0.5311 0.2839 0.5317 0.2862 0.5323 0.2886 0.5329 0.2909 0.5334 0.2932 0.534 0.2956 0.5345 0.2979 0.535 0.3003 0.5355 0.3018 0.5358" stroke="#a22b62" stroke-width="0.01059"/>
<path d="M0.3011 0.5356 0.3034 0.5361 0.3058 0.5365 0.3081 0.5369 0.3105 0.5373 0.3129 0.5376 0.3152 0.538 0.3176 0.5383 0.32 0.5386 0.3224 0.5388 0.3247 0.5391 0.3271 0.5393 0.3295 0.5396 0.3319 0.5398 0.3335 0.5399" stroke="#9f2a63" stroke-width="0.01074"/>
<path d="M0.3327 0.5399 0.3351 0.5401 0.3374 0.5403" stroke="#9d2964" stroke-width="0.01074"/>
<path d="M0.3366 0.5402 0.339 0.5404 0.3414 0.5406 0.3438 0.5408 0.3462 0.5409 0.3486 0.5411 0.3509 0.5412 0.3533 0.5413 0.3557 0.5414 0.3581 0.5415 0.3605 0.5416 0.3613 0.5416" stroke="#9d2964" stroke-width="0.0109"/>
<path d="M0.3605 0.5416 0.3629 0.5416 0.3653 0.5417 0.3677 0.5417 0.3701 0.5417 0.3725 0.5417 0.3749 0.5417 0.3773 0.5417 0.3797 0.5417 0.3813 0.5417" stroke="#9b2964" stroke-width="0.0109"/>
<path d="M0.3805 0.5417 0.3828 0.5417 0.3851 0.5416" stroke="#9a2865" stroke-width="0.0109"/>
<path d="M0.3844 0.5416 0.3867 0.5415 0.389 0.5414 0.3913 0.5412 0.3937 0.5409 0.396 0.5405 0.3984 0.5402 0.4008 0.5397" stroke="#9a2865" stroke-width="0.01074"/>
<path d="M0.4 0.5399 0.4024 0.5394 0.4047 0.5389 0.407 0.5384 0.4086 0.538" stroke="#982766" stroke-width="0.01074"/>
<path d="M0.4078 0.5382 0.4101 0.5376 0.4125 0.5369 0.4147 0.5361 0.417 0.5353 0.4193 0.5345 0.4215 0.5336 0.4238 0.5327 0.426 0.5317 0.4282 0.5308 0.4304 0.5298 0.4326 0.5287 0.4347 0.5277" stroke="#982766" stroke-width="0.01059"/>
<path d="M0.434 0.528 0.4362 0.527 0.4384 0.5259" stroke="#982766" stroke-width="0.01043"/>
<path d="M0.4376 0.5263 0.4398 0.5252 0.4419 0.5241 0.4441 0.523 0.4462 0.5219 0.4483 0.5207 0.4504 0.5195 0.4525 0.5183 0.4546 0.5171 0.456 0.5163" stroke="#952667" stroke-width="0.01043"/>
<path d="M0.4553 0.5167 0.4574 0.5155 0.4594 0.5142 0.4614 0.5129 0.4635 0.5116 0.4655 0.5103 0.4675 0.509 0.4695 0.5076" stroke="#952667" stroke-width="0.01027"/>
<path d="M0.4688 0.5081 0.4708 0.5067 0.4727 0.5053 0.4747 0.5039 0.476 0.503" stroke="#932667" stroke-width="0.01011"/>
<path d="M0.4753 0.5035 0.4773 0.502 0.4792 0.5006" stroke="#932667" stroke-width="0.00995"/>
<path d="M0.4785 0.5011 0.4804 0.4996 0.4823 0.4981" stroke="#922568" stroke-width="0.00995"/>
<path d="M0.4817 0.4986 0.4836 0.4971 0.4854 0.4956" stroke="#922568" stroke-width="0.0098"/>
<path d="M0.4848 0.4961 0.4866 0.4946 0.4885 0.4931" stroke="#902568" stroke-width="0.0098"/>
<path d="M0.4879 0.4936 0.4897 0.492 0.4915 0.4905 0.4933 0.4889 0.4944 0.4878" stroke="#902568" stroke-width="0.00964"/>
<path d="M0.4938 0.4883 0.4956 0.4867 0.4973 0.4851 0.4991 0.4834 0.5002 0.4823" stroke="#8f2469" stroke-width="0.00948"/>
<path d="M0.4996 0.4829 0.5013 0.4812 0.503 0.4795 0.5047 0.4778 0.5058 0.4766" stroke="#8d2369" stroke-width="0.00948"/>
<path d="M0.5052 0.4772 0.5069 0.4755 0.5085 0.4737 0.5101 0.472 0.5112 0.4708" stroke="#8a226a" stroke-width="0.00948"/>
<path d="M0.5106 0.4714 0.5122 0.4696 0.5138 0.4678" stroke="#88226b" stroke-width="0.00964"/>
<path d="M0.5133 0.4684 0.5148 0.4666 0.5163 0.4648 0.5179 0.4629 0.5189 0.4617" stroke="#86216c" stroke-width="0.00964"/>
<path d="M0.5184 0.4623 0.5198 0.4604 0.5213 0.4585" stroke="#84216d" stroke-width="0.0098"/>
<path d="M0.5208 0.4592 0.5223 0.4573 0.5237 0.4553 0.5251 0.4534 0.5261 0.4521" stroke="#82206e" stroke-width="0.0098"/>
<path d="M0.5256 0.4528 0.527 0.4508 0.5284 0.4488" stroke="#81206f" stroke-width="0.00995"/>
<path d="M0.5279 0.4495 0.5293 0.4475 0.5306 0.4455 0.5319 0.4435 0.5327 0.4421" stroke="#7d1e71" stroke-width="0.00995"/>
<path d="M0.5323 0.4428 0.5336 0.4407 0.5348 0.4387 0.536 0.4366 0.5368 0.4352" stroke="#7b1e72" stroke-width="0.00995"/>
<path d="M0.5364 0.4359 0.5375 0.4337 0.5386 0.4316 0.5397 0.4294 0.5403 0.428" stroke="#791d73" stroke-width="0.00995"/>
<path d="M0.54 0.4287 0.541 0.4265 0.542 0.4243 0.5429 0.4221 0.5436 0.4206" stroke="#781d74" stroke-width="0.0098"/>
<path d="M0.5433 0.4213 0.5442 0.4191 0.5451 0.4169" stroke="#761c75" stroke-width="0.00964"/>
<path d="M0.5448 0.4176 0.5457 0.4154 0.5465 0.4132" stroke="#721b76" stroke-width="0.00948"/>
<path d="M0.5462 0.4139 0.5471 0.4117 0.5479 0.4094" stroke="#721b76" stroke-width="0.00932"/>
<path d="M0.5476 0.4102 0.5484 0.4079 0.5492 0.4057" stroke="#711a77" stroke-width="0.00901"/>
<path d="M0.549 0.4064 0.5498 0.4042 0.5505 0.402" stroke="#6d1978" stroke-width="0.00885"/>
<path d="M0.5503 0.4027 0.551 0.4005 0.5518 0.3982" stroke="#6a187a" stroke-width="0.00869"/>
<path d="M0.5515 0.399 0.5523 0.3967 0.553 0.3945" stroke="#63167c" stroke-width="0.00837"/>
<path d="M0.5528 0.3952 0.5535 0.393 0.5542 0.3907" stroke="#5a137f" stroke-width="0.00822"/>
<path d="M0.554 0.3915 0.5547 0.3893 0.5555 0.387" stroke="#521082" stroke-width="0.0079"/>
<path d="M0.5552 0.3878 0.5559 0.3855 0.5566 0.3834" stroke="#450b7a" stroke-width="0.00774"/>
<path d="M0.5564 0.3841 0.557 0.3819 0.5575 0.3797" stroke="#410a76" stroke-width="0.00758"/>
<path d="M0.5573 0.3804 0.5578 0.3782 0.5581 0.3759" stroke="#3c0972" stroke-width="0.00727"/>
<path d="M0.558 0.3767 0.5583 0.3744 0.5584 0.372" stroke="#39096e" stroke-width="0.00695"/>
<path d="M0.5584 0.3728 0.5585 0.3704 0.5584 0.3681" stroke="#36096b" stroke-width="0.00664"/>
<path d="M0.5584 0.3689 0.5583 0.3665 0.5579 0.3641" stroke="#350969" stroke-width="0.00616"/>
<path d="M0.5581 0.3649 0.5577 0.3625 0.5571 0.3602" stroke="#310a65" stroke-width="0.00585"/>
<path d="M0.5573 0.3609 0.5567 0.3586 0.556 0.3563" stroke="#300a63" stroke-width="0.00553"/>
<path d="M0.5562 0.3571 0.5554 0.3548 0.5544 0.3526" stroke="#2e0a61" stroke-width="0.00537"/>
<path d="M0.5548 0.3533 0.5537 0.3511 0.5526 0.349" stroke="#2e0a61" stroke-width="0.00521"/>
<path d="M0.553 0.3497 0.5517 0.3476 0.5504 0.3456" stroke="#2c0b5e" stroke-width="0.00506"/>
<path d="M0.5508 0.3463 0.5494 0.3444 0.5478 0.3425 0.5462 0.3408 0.545 0.3397" stroke="#2b0b5b" stroke-width="0.00506"/>
<path d="M0.5456 0.3403 0.5438 0.3387 0.542 0.3372" stroke="#2b0b5b" stroke-width="0.00521"/>
<path d="M0.5426 0.3377 0.5407 0.3362 0.5388 0.3349 0.5367 0.3337 0.5354 0.3329" stroke="#270b57" stroke-width="0.00521"/>
<path d="M0.5361 0.3333 0.534 0.3322 0.5318 0.3313" stroke="#2b0b5b" stroke-width="0.00521"/>
<path d="M0.5325 0.3316 0.5303 0.3307 0.5281 0.3299" stroke="#2b0b5b" stroke-width="0.00537"/>
<path d="M0.5289 0.3302 0.5266 0.3295 0.5243 0.3289" stroke="#2c0b5e" stroke-width="0.00537"/>
<path d="M0.5251 0.3291 0.5228 0.3286 0.5205 0.3282" stroke="#2e0a61" stroke-width="0.00553"/>
<path d="M0.5213 0.3283 0.5189 0.328 0.5166 0.3279" stroke="#310a65" stroke-width="0.00569"/>
<path d="M0.5174 0.3279 0.515 0.3278 0.5126 0.3278" stroke="#36096b" stroke-width="0.00585"/>
<path d="M0.5134 0.3278 0.5111 0.3279 0.5087 0.3281" stroke="#39096e" stroke-width="0.006"/>
<path d="M0.5095 0.328 0.5072 0.3283 0.5048 0.3287" stroke="#3c0972" stroke-width="0.00616"/>
<path d="M0.5056 0.3286 0.5033 0.3291 0.501 0.3296" stroke="#410a76" stroke-width="0.00632"/>
<path d="M0.5018 0.3294 0.4995 0.3301 0.4973 0.3308" stroke="#450b7a" stroke-width="0.00648"/>
<path d="M0.498 0.3306 0.4958 0.3314 0.4937 0.3323" stroke="#4a0d7c" stroke-width="0.00664"/>
<path d="M0.4944 0.332 0.4923 0.333 0.4902 0.334" stroke="#4e0e80" stroke-width="0.00679"/>
<path d="M0.4909 0.3337 0.4888 0.3348 0.4868 0.336" stroke="#541081" stroke-width="0.00695"/>
<path d="M0.4875 0.3356 0.4854 0.3368 0.4833 0.338" stroke="#5e147e" stroke-width="0.00711"/>
<path d="M0.484 0.3376 0.4819 0.3388 0.4797 0.3399" stroke="#6a187a" stroke-width="0.00727"/>
<path d="M0.4804 0.3395 0.4783 0.3406 0.4761 0.3417" stroke="#6f1a78" stroke-width="0.00758"/>
<path d="M0.4768 0.3413 0.4746 0.3423 0.4725 0.3433" stroke="#721b76" stroke-width="0.00774"/>
<path d="M0.4732 0.343 0.471 0.3439 0.4687 0.3448" stroke="#781d74" stroke-width="0.00806"/>
<path d="M0.4695 0.3445 0.4673 0.3454 0.465 0.3462" stroke="#791d73" stroke-width="0.00822"/>
<path d="M0.4658 0.346 0.4635 0.3468 0.4612 0.3475" stroke="#7b1e72" stroke-width="0.00853"/>
<path d="M0.462 0.3473 0.4597 0.348 0.4574 0.3487" stroke="#7b1e72" stroke-width="0.00869"/>
<path d="M0.4582 0.3485 0.4559 0.3491 0.4536 0.3497" stroke="#7d1e71" stroke-width="0.00901"/>
<path d="M0.4543 0.3495 0.452 0.3501 0.4497 0.3506 0.4493 0.3507" stroke="#7d1e71" stroke-width="0.00916"/>
<path d="M0.4501 0.3506 0.4477 0.3511 0.4454 0.3516" stroke="#81206f" stroke-width="0.00932"/>
<path d="M0.4462 0.3514 0.4438 0.3519 0.4415 0.3523" stroke="#81206f" stroke-width="0.00948"/>
<path d="M0.4423 0.3522 0.4399 0.3526 0.4376 0.3531" stroke="#81206f" stroke-width="0.00964"/>
<path d="M0.4384 0.3529 0.436 0.3534 0.4337 0.3538 0.4314 0.3543 0.4298 0.3546" stroke="#82206e" stroke-width="0.0098"/>
<path d="M0.4306 0.3544 0.4282 0.3548 0.4259 0.3553 0.4235 0.3557 0.422 0.3559" stroke="#84216d" stroke-width="0.00995"/>
<path d="M0.4227 0.3558 0.4204 0.3562 0.418 0.3565 0.4157 0.3568 0.4141 0.3571" stroke="#86216c" stroke-width="0.01011"/>
<path d="M0.4149 0.357 0.4125 0.3573 0.4101 0.3575 0.4078 0.3578 0.4062 0.3579" stroke="#88226b" stroke-width="0.01027"/>
<path d="M0.407 0.3578 0.4046 0.358 0.4022 0.3582 0.3998 0.3584 0.3975 0.3585 0.3951 0.3585 0.3927 0.3586 0.3903 0.3586" stroke="#8a226a" stroke-width="0.01043"/>
<path d="M0.3911 0.3586 0.3887 0.3586 0.3863 0.3585 0.3839 0.3584 0.3815 0.3583 0.3792 0.3582 0.3768 0.3581 0.3744 0.3579 0.372 0.3577 0.3696 0.3575 0.3672 0.3573 0.3649 0.357 0.3625 0.3568" stroke="#8d2369" stroke-width="0.01043"/>
<path d="M0.3633 0.3569 0.3609 0.3566 0.3585 0.3563 0.3562 0.356 0.3538 0.3556 0.3514 0.3553 0.3491 0.3549 0.3467 0.3545 0.3444 0.3541 0.342 0.3537 0.3397 0.3532 0.3373 0.3527 0.335 0.3522 0.3327 0.3516 0.3312 0.3513" stroke="#8f2469" stroke-width="0.01043"/>
<path d="M0.3319 0.3514 0.3296 0.3509 0.3273 0.3503 0.325 0.3496 0.3235 0.3492" stroke="#902568" stroke-width="0.01027"/>
<path d="M0.3242 0.3494 0.322 0.3487 0.3197 0.348 0.3174 0.3473 0.3151 0.3466 0.3129 0.3458 0.3121 0.3455" stroke="#902568" stroke-width="0.01011"/>
<path d="M0.3129 0.3458 0.3106 0.345 0.3084 0.3442" stroke="#902568" stroke-width="0.00995"/>
<path d="M0.3092 0.3444 0.3069 0.3436 0.3047 0.3427 0.3025 0.3418 0.3003 0.3409 0.2981 0.3399 0.2959 0.339 0.2938 0.338 0.2916 0.337 0.2894 0.336 0.2873 0.335 0.2851 0.3339 0.2829 0.3329 0.2808 0.3318 0.2787 0.3308 0.2765 0.3297 0.2744 0.3286 0.2722 0.3275 0.2701 0.3264 0.268 0.3253 0.2659 0.3242 0.2638 0.323 0.2617 0.3219 0.2596 0.3207 0.2576 0.3194 0.2555 0.3181 0.2535 0.3169 0.2515 0.3156 0.2495 0.3142 0.2475 0.3129 0.2455 0.3116 0.2448 0.3111" stroke="#922568" stroke-width="0.00995"/>
<path d="M0.2455 0.3116 0.2435 0.3102 0.2416 0.3088 0.2396 0.3074 0.2383 0.3065" stroke="#902568" stroke-width="0.00995"/>
<path d="M0.239 0.3069 0.2371 0.3055 0.2352 0.3041 0.2333 0.3026 0.232 0.3016" stroke="#902568" stroke-width="0.01011"/>
<path d="M0.2326 0.3021 0.2308 0.3006 0.229 0.2991 0.2272 0.2976 0.2255 0.296 0.2238 0.2943 0.2221 0.2927 0.2204 0.291 0.2188 0.2893 0.2178 0.2881" stroke="#8f2469" stroke-width="0.01011"/>
<path d="M0.2183 0.2887 0.2168 0.2869 0.2152 0.2851 0.2138 0.2833 0.2123 0.2815 0.2109 0.2796 0.2095 0.2777 0.2081 0.2758 0.2068 0.2739 0.2056 0.2719 0.2043 0.27 0.2031 0.268 0.2019 0.2659" stroke="#8d2369" stroke-width="0.01027"/>
<path d="M0.2023 0.2666 0.2011 0.2646 0.1999 0.2625 0.1987 0.2605 0.1974 0.2584 0.1962 0.2564 0.195 0.2543 0.1939 0.2523 0.1927 0.2502 0.1915 0.2481 0.1904 0.2461 0.1892 0.244 0.1881 0.2419 0.1869 0.2398 0.1862 0.2384" stroke="#8d2369" stroke-width="0.01043"/>
<path d="M0.1865 0.2391 0.1854 0.237 0.1843 0.2349 0.1831 0.2328 0.182 0.2307 0.1809 0.2286 0.1798 0.2265 0.1788 0.2244" stroke="#8d2369" stroke-width="0.01059"/>
<path d="M0.1791 0.2251 0.1781 0.2229 0.177 0.2208 0.176 0.2186 0.1754 0.2172" stroke="#8d2369" stroke-width="0.01043"/>
<path d="M0.1757 0.2179 0.1747 0.2157 0.1738 0.2135 0.1728 0.2113 0.1719 0.2091 0.171 0.2069 0.1702 0.2047 0.1693 0.2024" stroke="#8a226a" stroke-width="0.01043"/>
<path d="M0.1696 0.2032 0.1688 0.2009 0.1679 0.1987 0.1671 0.1964 0.1664 0.1941 0.1656 0.1919 0.1649 0.1896 0.1642 0.1873" stroke="#88226b" stroke-width="0.01043"/>
<path d="M0.1644 0.188 0.1637 0.1858 0.163 0.1835 0.1624 0.1811 0.1618 0.1788 0.1611 0.1765 0.1609 0.1758" stroke="#86216c" stroke-width="0.01043"/>
<path d="M0.1611 0.1765 0.1605 0.1742 0.1599 0.1719 0.1593 0.1696 0.1589 0.168" stroke="#84216d" stroke-width="0.01027"/>
<path d="M0.1591 0.1688 0.1585 0.1665 0.1579 0.1642 0.1574 0.1618 0.157 0.1603" stroke="#82206e" stroke-width="0.01027"/>
<path d="M0.1572 0.1611 0.1566 0.1587 0.156 0.1564" stroke="#81206f" stroke-width="0.01027"/>
<path d="M0.1562 0.1572 0.1557 0.1549 0.1551 0.1525" stroke="#81206f" stroke-width="0.01011"/>
<path d="M0.1553 0.1533 0.1548 0.151 0.1543 0.1486 0.1538 0.1463 0.1535 0.1447" stroke="#7d1e71" stroke-width="0.01011"/>
<path d="M0.1536 0.1455 0.1531 0.1431 0.1527 0.1408" stroke="#7b1e72" stroke-width="0.00995"/>
<path d="M0.1528 0.1416 0.1524 0.1392 0.1519 0.1369" stroke="#791d73" stroke-width="0.00995"/>
<path d="M0.1521 0.1377 0.1517 0.1353 0.1512 0.1329" stroke="#781d74" stroke-width="0.00995"/>
<path d="M0.1514 0.1337 0.1509 0.1314 0.1505 0.129" stroke="#781d74" stroke-width="0.0098"/>
<path d="M0.1507 0.1298 0.1503 0.1274 0.1499 0.1251" stroke="#761c75" stroke-width="0.0098"/>
<path d="M0.15 0.1258 0.1496 0.1235 0.1493 0.1211" stroke="#721b76" stroke-width="0.00964"/>
<path d="M0.1494 0.1219 0.1491 0.1195 0.1487 0.1171" stroke="#711a77" stroke-width="0.00964"/>
<path d="M0.1488 0.1179 0.1485 0.1156 0.1482 0.1132" stroke="#6f1a78" stroke-width="0.00948"/>
<path d="M0.1483 0.114 0.148 0.1116 0.1477 0.1092" stroke="#6b1979" stroke-width="0.00932"/>
<path d="M0.1478 0.11 0.1476 0.1076 0.1473 0.1052" stroke="#66177b" stroke-width="0.00916"/>
<path d="M0.1474 0.106 0.1472 0.1036 0.147 0.1012" stroke="#63167c" stroke-width="0.00901"/>
<path d="M0.147 0.102 0.1468 0.0996 0.1467 0.0973" stroke="#5f157e" stroke-width="0.00885"/>
<path d="M0.1467 0.0981 0.1466 0.0957 0.1464 0.0933" stroke="#5a137f" stroke-width="0.00853"/>
<path d="M0.1465 0.0941 0.1464 0.0917 0.1463 0.0893" stroke="#571280" stroke-width="0.00837"/>
<path d="M0.1463 0.0901 0.1463 0.0877 0.1462 0.0853" stroke="#521082" stroke-width="0.00806"/>
<path d="M0.1462 0.0861 0.1462 0.0837 0.1461 0.0813" stroke="#4e0e80" stroke-width="0.0079"/>
<path d="M0.1461 0.0821 0.1461 0.0797 0.146 0.0773" stroke="#4a0d7c" stroke-width="0.00758"/>
<path d="M0.146 0.0781 0.1459 0.0757 0.1457 0.0733" stroke="#450b7a" stroke-width="0.00727"/>
<path d="M0.1458 0.0741 0.1456 0.0717 0.1455 0.0693" stroke="#410a76" stroke-width="0.00711"/>
<path d="M0.1455 0.0701 0.1453 0.0677 0.1451 0.0653" stroke="#3c0972" stroke-width="0.00679"/>
<path d="M0.1452 0.0661 0.145 0.0637 0.1448 0.0613" stroke="#39096e" stroke-width="0.00664"/>
<path d="M0.1449 0.0621 0.1446 0.0597 0.1444 0.0574" stroke="#38096d" stroke-width="0.00632"/>
<path d="M0.1445 0.0581 0.1442 0.0558 0.1438 0.0534" stroke="#350969" stroke-width="0.00616"/>
<path d="M0.1439 0.0542 0.1434 0.0519 0.1427 0.0496" stroke="#310a65" stroke-width="0.006"/>
<path d="M0.143 0.0504 0.1422 0.0481 0.1414 0.0459" stroke="#2e0a61" stroke-width="0.00569"/>
<path d="M0.1417 0.0467 0.1407 0.0445 0.1396 0.0424" stroke="#2c0b5e" stroke-width="0.00553"/>
<path d="M0.14 0.0431 0.1389 0.0411 0.1376 0.0391" stroke="#2b0b5b" stroke-width="0.00537"/>
<path d="M0.138 0.0397 0.1367 0.0378 0.1353 0.0359" stroke="#260c54" stroke-width="0.00521"/>
<path d="M0.1358 0.0366 0.1344 0.0348 0.1328 0.033" stroke="#240c51" stroke-width="0.00506"/>
<path d="M0.1333 0.0336 0.1318 0.0319 0.1301 0.0303" stroke="#210c4b" stroke-width="0.00474"/>
<path d="M0.1307 0.0308 0.1289 0.0293 0.1272 0.0278" stroke="#1c0c43" stroke-width="0.00458"/>
<path d="M0.1278 0.0283 0.1259 0.0269 0.124 0.0256" stroke="#180c3c" stroke-width="0.00442"/>
<path d="M0.1247 0.026 0.1227 0.0248 0.1207 0.0237" stroke="#140b34" stroke-width="0.00427"/>
<path d="M0.1214 0.0241 0.1194 0.023 0.1173 0.0221" stroke="#10092d" stroke-width="0.00411"/>
<path d="M0.118 0.0224 0.1158 0.0215 0.1137 0.0208" stroke="#10092d" stroke-width="0.00395"/>
<path d="M0.1144 0.021 0.1122 0.0203 0.11 0.0198" stroke="#0c0826" stroke-width="0.00379"/>
<path d="M0.1107 0.02 0.1085 0.0194 0.1062 0.0189" stroke="#0c0826" stroke-width="0.00363"/>
<path d="M0.107 0.0191 0.1047 0.0186 0.1024 0.0183" stroke="#0c0826" stroke-width="0.00348"/>
<path d="M0.1031 0.0184 0.1008 0.0182 0.0984 0.0182 0.0961 0.0183 0.0945 0.0185" stroke="#0c0826" stroke-width="0.00332"/>
<path d="M0.0953 0.0184 0.0929 0.0187 0.0906 0.0191" stroke="#10092d" stroke-width="0.00348"/>
<path d="M0.0914 0.019 0.0891 0.0195 0.0868 0.0202 0.0864 0.0203" stroke="#10092d" stroke-width="0.00363"/>
<path d="M0.0872 0.0201 0.0849 0.0209 0.0828 0.0218" stroke="#150b37" stroke-width="0.0036"/>
<path d="M0.0835 0.0214 0.0813 0.0224 0.0792 0.0236" stroke="#1e0c45" stroke-width="0.00389"/>
<path d="M0.0799 0.0232 0.0779 0.0244 0.0759 0.0257" stroke="#220c4e" stroke-width="0.00418"/>
<path d="M0.0765 0.0253 0.0746 0.0267 0.0728 0.0282" stroke="#270b56" stroke-width="0.00446"/>
<path d="M0.0734 0.0277 0.0716 0.0292 0.0699 0.0309" stroke="#2c0b5e" stroke-width="0.00461"/>
<path d="M0.0704 0.0304 0.0688 0.0321 0.0672 0.0339" stroke="#2e0a61" stroke-width="0.0049"/>
<path d="M0.0677 0.0333 0.0662 0.0351 0.0648 0.0371" stroke="#330a67" stroke-width="0.00518"/>
<path d="M0.0653 0.0364 0.0639 0.0384 0.0627 0.0404" stroke="#38096d" stroke-width="0.00547"/>
<path d="M0.0631 0.0397 0.0619 0.0418 0.0608 0.0439" stroke="#3c0972" stroke-width="0.00562"/>
<path d="M0.0612 0.0432 0.0601 0.0453 0.0592 0.0475" stroke="#420a77" stroke-width="0.0059"/>
<path d="M0.0595 0.0468 0.0586 0.049 0.0577 0.0512" stroke="#470c7a" stroke-width="0.00619"/>
<path d="M0.058 0.0505 0.0571 0.0527 0.0562 0.0549" stroke="#4c0e7f" stroke-width="0.00648"/>
<path d="M0.0565 0.0542 0.0556 0.0564 0.0547 0.0587" stroke="#541081" stroke-width="0.00677"/>
<path d="M0.055 0.0579 0.0541 0.0601 0.0532 0.0624" stroke="#5a137f" stroke-width="0.00706"/>
<path d="M0.0535 0.0616 0.0527 0.0639 0.0518 0.0661" stroke="#63167c" stroke-width="0.00734"/>
<path d="M0.0521 0.0654 0.0512 0.0676 0.0504 0.0699" stroke="#68187a" stroke-width="0.00763"/>
<path d="M0.0507 0.0691 0.0498 0.0714 0.049 0.0736" stroke="#711a77" stroke-width="0.00778"/>
<path d="M0.0493 0.0729 0.0485 0.0751 0.0477 0.0774" stroke="#781d73" stroke-width="0.00806"/>
<path d="M0.0479 0.0766 0.0471 0.0789 0.0463 0.0812" stroke="#7d1e71" stroke-width="0.00821"/>
<path d="M0.0466 0.0804 0.0458 0.0827 0.045 0.0849" stroke="#83206e" stroke-width="0.00835"/>
<path d="M0.0453 0.0842 0.0445 0.0864 0.0437 0.0887" stroke="#8a226b" stroke-width="0.0085"/>
<path d="M0.0439 0.0879 0.0432 0.0902 0.0424 0.0925" stroke="#8c2369" stroke-width="0.00864"/>
<path d="M0.0426 0.0917 0.0418 0.094 0.0411 0.0962" stroke="#8f2469" stroke-width="0.00864"/>
<path d="M0.0413 0.0955 0.0405 0.0977 0.0398 0.1" stroke="#902568" stroke-width="0.00878"/>
<path d="M0.04 0.0993 0.0393 0.1015 0.0385 0.1038" stroke="#932667" stroke-width="0.00878"/>
<path d="M0.0387 0.103 0.038 0.1053 0.0373 0.1076" stroke="#952667" stroke-width="0.00893"/>
<path d="M0.0375 0.1068 0.0368 0.1091 0.0361 0.1114" stroke="#982766" stroke-width="0.00893"/>
<path d="M0.0364 0.1107 0.0357 0.113 0.035 0.1153" stroke="#9a2865" stroke-width="0.00893"/>
<path d="M0.0353 0.1145 0.0346 0.1168 0.034 0.1191 0.0334 0.1214 0.033 0.123" stroke="#9d2964" stroke-width="0.00907"/>
<path d="M0.0332 0.1222 0.0326 0.1245 0.032 0.1269" stroke="#9f2a63" stroke-width="0.00907"/>
<path d="M0.0322 0.1261 0.0316 0.1284 0.0311 0.1307" stroke="#a22b62" stroke-width="0.00907"/>
<path d="M0.0313 0.13 0.0307 0.1323 0.0302 0.1346" stroke="#a22b62" stroke-width="0.00922"/>
<path d="M0.0304 0.1339 0.0298 0.1362 0.0293 0.1385 0.0288 0.1409 0.0284 0.1424" stroke="#a32c61" stroke-width="0.00922"/>
<path d="M0.0286 0.1416 0.028 0.144 0.0275 0.1463" stroke="#a62d60" stroke-width="0.00922"/>
<path d="M0.0277 0.1455 0.0272 0.1479 0.0267 0.1502 0.0261 0.1526 0.0258 0.1541" stroke="#a82e5f" stroke-width="0.00936"/>
<path d="M0.026 0.1533 0.0254 0.1557 0.0249 0.158 0.0245 0.1604 0.0241 0.162" stroke="#ab2f5e" stroke-width="0.00936"/>
<path d="M0.0243 0.1612 0.0238 0.1635 0.0234 0.1659" stroke="#ae305c" stroke-width="0.00936"/>
<path d="M0.0235 0.1651 0.0231 0.1675 0.0226 0.1698" stroke="#ae305c" stroke-width="0.0095"/>
<path d="M0.0228 0.169 0.0224 0.1714 0.022 0.1738" stroke="#b0315b" stroke-width="0.0095"/>
<path d="M0.0221 0.173 0.0217 0.1754 0.0213 0.1778 0.021 0.1801 0.0207 0.1825 0.0203 0.1849 0.0202 0.1857" stroke="#b3325a" stroke-width="0.0095"/>
<path d="M0.0203 0.1849 0.02 0.1873 0.0198 0.1897" stroke="#b43359" stroke-width="0.0095"/>
<path d="M0.0199 0.1889 0.0196 0.1913 0.0193 0.1937" stroke="#b43359" stroke-width="0.00965"/>
<path d="M0.0194 0.1929 0.0191 0.1953 0.0189 0.1977 0.0187 0.2 0.0185 0.2016" stroke="#b73557" stroke-width="0.00965"/>
<path d="M0.0186 0.2008 0.0183 0.2032 0.0181 0.2056 0.0179 0.208 0.0178 0.2096" stroke="#b93556" stroke-width="0.00965"/>
<path d="M0.0179 0.2088 0.0177 0.2112 0.0175 0.2136 0.0174 0.216 0.0173 0.2176" stroke="#b93556" stroke-width="0.00979"/>
<path d="M0.0174 0.2168 0.0173 0.2192 0.0172 0.2216 0.0171 0.224 0.017 0.2256" stroke="#bc3754" stroke-width="0.00979"/>
<path d="M0.017 0.2248 0.0169 0.2272 0.0168 0.2296" stroke="#bc3754" stroke-width="0.00994"/>
<path d="M0.0168 0.2288 0.0167 0.2312 0.0166 0.2335 0.0165 0.2359 0.0164 0.2375" stroke="#bd3853" stroke-width="0.00994"/>
<path d="M0.0165 0.2367 0.0164 0.2391 0.0163 0.2415 0.0162 0.2439 0.0161 0.2455" stroke="#bd3853" stroke-width="0.01008"/>
<path d="M0.0162 0.2447 0.0161 0.2471 0.016 0.2495" stroke="#c03a51" stroke-width="0.01008"/>
<path d="M0.016 0.2487 0.016 0.2511 0.0159 0.2535 0.0159 0.2559 0.0158 0.2583 0.0158 0.2607 0.0157 0.2631 0.0157 0.2655 0.0157 0.2679 0.0157 0.2703 0.0157 0.2727 0.0157 0.2751 0.0157 0.2775 0.0157 0.2798 0.0157 0.2814" stroke="#c03a51" stroke-width="0.01022"/>
<path d="M0.0157 0.2806 0.0157 0.283 0.0158 0.2854 0.0158 0.2878 0.0158 0.2894" stroke="#c03a51" stroke-width="0.01008"/>
<path d="M0.0158 0.2886 0.0158 0.291 0.0159 0.2934 0.0161 0.2958 0.0162 0.2974" stroke="#bd3853" stroke-width="0.00994"/>
<path d="M0.0162 0.2966 0.0164 0.299 0.0168 0.3014" stroke="#bd3853" stroke-width="0.00979"/>
<path d="M0.0167 0.3006 0.0171 0.303 0.0176 0.3053" stroke="#bc3754" stroke-width="0.00965"/>
<path d="M0.0174 0.3045 0.0179 0.3069 0.0186 0.3092 0.0193 0.3115 0.0199 0.313" stroke="#bc3754" stroke-width="0.0095"/>
<path d="M0.0196 0.3122 0.0204 0.3145 0.0214 0.3167" stroke="#bc3754" stroke-width="0.00936"/>
<path d="M0.0211 0.3159 0.0221 0.3181 0.0231 0.3202" stroke="#b93556" stroke-width="0.00936"/>
<path d="M0.0228 0.3195 0.0239 0.3216 0.0251 0.3236 0.0264 0.3256 0.0277 0.3276 0.029 0.3296 0.0303 0.3316 0.0316 0.3336 0.0329 0.3355 0.0338 0.3369" stroke="#b93556" stroke-width="0.00922"/>
<path d="M0.0333 0.3362 0.0347 0.3382 0.036 0.3402 0.0373 0.3422 0.0381 0.3436" stroke="#bc3754" stroke-width="0.00936"/>
<path d="M0.0377 0.3429 0.039 0.3449 0.0403 0.3469" stroke="#bc3754" stroke-width="0.0095"/>
<path d="M0.0399 0.3462 0.0412 0.3483 0.0425 0.3503" stroke="#bd3853" stroke-width="0.0095"/>
<path d="M0.042 0.3496 0.0433 0.3516 0.0446 0.3536 0.046 0.3557 0.0468 0.357" stroke="#c03a51" stroke-width="0.00965"/>
<path d="M0.0464 0.3563 0.0477 0.3584 0.049 0.3604" stroke="#c13a50" stroke-width="0.00979"/>
<path d="M0.0486 0.3597 0.0499 0.3617 0.0512 0.3638" stroke="#c13a50" stroke-width="0.00994"/>
<path d="M0.0507 0.3631 0.052 0.3651 0.0534 0.3671" stroke="#c43c4e" stroke-width="0.00994"/>
<path d="M0.0529 0.3665 0.0542 0.3685 0.0556 0.3705 0.0569 0.3725 0.0578 0.3738" stroke="#c43c4e" stroke-width="0.01008"/>
<path d="M0.0573 0.3732 0.0587 0.3752 0.0601 0.3772 0.0615 0.3791 0.0629 0.3811 0.0643 0.383 0.0648 0.3837" stroke="#c63d4d" stroke-width="0.01008"/>
<path d="M0.0643 0.383 0.0658 0.3849 0.0673 0.3868 0.0688 0.3887 0.0703 0.3906 0.0718 0.3925 0.0723 0.3931" stroke="#c63d4d" stroke-width="0.00994"/>
<path d="M0.0718 0.3925 0.0733 0.3944 0.0749 0.3962 0.0764 0.3981 0.0775 0.3993" stroke="#c63d4d" stroke-width="0.00979"/>
<path d="M0.0769 0.3987 0.0785 0.4005 0.0801 0.4023 0.0817 0.4041 0.0828 0.4053" stroke="#c63d4d" stroke-width="0.00965"/>
<path d="M0.0822 0.4047 0.0838 0.4065 0.0855 0.4083 0.0871 0.41 0.0887 0.4118 0.0904 0.4135 0.0909 0.4141" stroke="#c63d4d" stroke-width="0.0095"/>
<path d="M0.0904 0.4135 0.092 0.4153 0.0937 0.417 0.0953 0.4187 0.097 0.4204 0.0987 0.4221 0.0993 0.4227" stroke="#c63d4d" stroke-width="0.00936"/>
<path d="M0.0987 0.4221 0.1004 0.4238 0.1021 0.4255 0.1038 0.4272 0.1055 0.4289 0.1072 0.4305 0.109 0.4322 0.1107 0.4338" stroke="#c63d4d" stroke-width="0.0095"/>
<path d="M0.1101 0.4333 0.1119 0.4349 0.1136 0.4365 0.1153 0.4381 0.1171 0.4398 0.1188 0.4414 0.1194 0.4419" stroke="#c63d4d" stroke-width="0.00965"/>
<path d="M0.1188 0.4414 0.1206 0.443 0.1224 0.4446 0.1241 0.4462 0.1259 0.4478 0.1277 0.4494 0.1295 0.451 0.1313 0.4525 0.1332 0.4541 0.135 0.4556 0.1369 0.4571 0.1387 0.4586 0.1406 0.4601 0.1425 0.4615 0.1444 0.463 0.1463 0.4644 0.1483 0.4658 0.1502 0.4672 0.1522 0.4686 0.1541 0.47 0.1561 0.4713 0.1581 0.4727 0.16 0.4741 0.162 0.4754 0.164 0.4767 0.166 0.478 0.168 0.4793 0.17 0.4806 0.1721 0.4819 0.1741 0.4832 0.1761 0.4844 0.1782 0.4857 0.1802 0.4869 0.1823 0.4881 0.1843 0.4893 0.1864 0.4905 0.1871 0.4909" stroke="#c63d4d" stroke-width="0.00979"/>
<path d="M0.1864 0.4905 0.1885 0.4917 0.1906 0.4929 0.1927 0.494 0.1947 0.4952 0.1968 0.4963 0.1989 0.4975 0.2011 0.4986 0.2032 0.4997 0.2053 0.5008 0.2074 0.5019 0.2084 0.5025" stroke="#c63d4d" stroke-width="0.00965"/>
<path d="M0.2077 0.5021 0.2098 0.5032 0.212 0.5043 0.2141 0.5054 0.2162 0.5065 0.2183 0.5076 0.2205 0.5086 0.2226 0.5097 0.2248 0.5107 0.2269 0.5117 0.2291 0.5126 0.2313 0.5136 0.2335 0.5146 0.2356 0.5155 0.2378 0.5164 0.24 0.5173 0.2423 0.5181 0.2445 0.519 0.2467 0.5198 0.2489 0.5206 0.2512 0.5214 0.2534 0.5222 0.2557 0.523 0.2579 0.5238 0.2595 0.5243" stroke="#c63d4d" stroke-width="0.0095"/>
<path d="M0.2587 0.524 0.261 0.5248 0.2632 0.5255 0.2655 0.5263 0.2678 0.527 0.2701 0.5277 0.2724 0.5284 0.2747 0.5291 0.277 0.5298 0.2793 0.5304 0.2816 0.5311 0.2839 0.5317 0.2862 0.5323 0.2886 0.5329 0.2909 0.5334 0.2932 0.534 0.2956 0.5345 0.2979 0.535 0.3003 0.5355 0.3018 0.5358" stroke="#c63d4d" stroke-width="0.00965"/>
<path d="M0.3011 0.5356 0.3034 0.5361 0.3058 0.5365 0.3081 0.5369 0.3105 0.5373 0.3129 0.5376 0.3152 0.538 0.3176 0.5383 0.32 0.5386 0.3224 0.5388 0.3247 0.5391 0.3271 0.5393 0.3295 0.5396 0.3319 0.5398 0.3335 0.5399" stroke="#c43c4e" stroke-width="0.00979"/>
<path d="M0.3327 0.5399 0.3351 0.5401 0.3374 0.5403" stroke="#c13a50" stroke-width="0.00979"/>
<path d="M0.3366 0.5402 0.339 0.5404 0.3414 0.5406 0.3438 0.5408 0.3462 0.5409 0.3486 0.5411 0.3509 0.5412 0.3533 0.5413 0.3557 0.5414 0.3581 0.5415 0.3605 0.5416 0.3613 0.5416" stroke="#c13a50" stroke-width="0.00994"/>
<path d="M0.3605 0.5416 0.3629 0.5416 0.3653 0.5417 0.3677 0.5417 0.3701 0.5417 0.3725 0.5417 0.3749 0.5417 0.3773 0.5417 0.3797 0.5417 0.3813 0.5417" stroke="#c03a51" stroke-width="0.00994"/>
<path d="M0.3805 0.5417 0.3828 0.5417 0.3851 0.5416" stroke="#bd3853" stroke-width="0.00994"/>
<path d="M0.3844 0.5416 0.3867 0.5415 0.389 0.5414 0.3913 0.5412 0.3937 0.5409 0.396 0.5405 0.3984 0.5402 0.4008 0.5397" stroke="#bd3853" stroke-width="0.00979"/>
<path d="M0.4 0.5399 0.4024 0.5394 0.4047 0.5389 0.407 0.5384 0.4086 0.538" stroke="#bc3754" stroke-width="0.00979"/>
<path d="M0.4078 0.5382 0.4101 0.5376 0.4125 0.5369 0.4147 0.5361 0.417 0.5353 0.4193 0.5345 0.4215 0.5336 0.4238 0.5327 0.426 0.5317 0.4282 0.5308 0.4304 0.5298 0.4326 0.5287 0.4347 0.5277" stroke="#bc3754" stroke-width="0.00965"/>
<path d="M0.434 0.528 0.4362 0.527 0.4384 0.5259" stroke="#bc3754" stroke-width="0.0095"/>
<path d="M0.4376 0.5263 0.4398 0.5252 0.4419 0.5241 0.4441 0.523 0.4462 0.5219 0.4483 0.5207 0.4504 0.5195 0.4525 0.5183 0.4546 0.5171 0.456 0.5163" stroke="#b93556" stroke-width="0.0095"/>
<path d="M0.4553 0.5167 0.4574 0.5155 0.4594 0.5142 0.4614 0.5129 0.4635 0.5116 0.4655 0.5103 0.4675 0.509 0.4695 0.5076" stroke="#b93556" stroke-width="0.00936"/>
<path d="M0.4688 0.5081 0.4708 0.5067 0.4727 0.5053 0.4747 0.5039 0.476 0.503" stroke="#b73557" stroke-width="0.00922"/>
<path d="M0.4753 0.5035 0.4773 0.502 0.4792 0.5006" stroke="#b73557" stroke-width="0.00907"/>
<path d="M0.4785 0.5011 0.4804 0.4996 0.4823 0.4981" stroke="#b43359" stroke-width="0.00907"/>
<path d="M0.4817 0.4986 0.4836 0.4971 0.4854 0.4956" stroke="#b43359" stroke-width="0.00893"/>
<path d="M0.4848 0.4961 0.4866 0.4946 0.4885 0.4931" stroke="#b3325a" stroke-width="0.00893"/>
<path d="M0.4879 0.4936 0.4897 0.492 0.4915 0.4905 0.4933 0.4889 0.4944 0.4878" stroke="#b3325a" stroke-width="0.00878"/>
<path d="M0.4938 0.4883 0.4956 0.4867 0.4973 0.4851 0.4991 0.4834 0.5002 0.4823" stroke="#b0315b" stroke-width="0.00864"/>
<path d="M0.4996 0.4829 0.5013 0.4812 0.503 0.4795 0.5047 0.4778 0.5058 0.4766" stroke="#ae305c" stroke-width="0.00864"/>
<path d="M0.5052 0.4772 0.5069 0.4755 0.5085 0.4737 0.5101 0.472 0.5112 0.4708" stroke="#ab2f5e" stroke-width="0.00864"/>
<path d="M0.5106 0.4714 0.5122 0.4696 0.5138 0.4678" stroke="#a82e5f" stroke-width="0.00878"/>
<path d="M0.5133 0.4684 0.5148 0.4666 0.5163 0.4648 0.5179 0.4629 0.5189 0.4617" stroke="#a62d60" stroke-width="0.00878"/>
<path d="M0.5184 0.4623 0.5198 0.4604 0.5213 0.4585" stroke="#a32c61" stroke-width="0.00893"/>
<path d="M0.5208 0.4592 0.5223 0.4573 0.5237 0.4553 0.5251 0.4534 0.5261 0.4521" stroke="#a22b62" stroke-width="0.00893"/>
<path d="M0.5256 0.4528 0.527 0.4508 0.5284 0.4488" stroke="#9f2a63" stroke-width="0.00907"/>
<path d="M0.5279 0.4495 0.5293 0.4475 0.5306 0.4455 0.5319 0.4435 0.5327 0.4421" stroke="#9d2964" stroke-width="0.00907"/>
<path d="M0.5323 0.4428 0.5336 0.4407 0.5348 0.4387 0.536 0.4366 0.5368 0.4352" stroke="#9a2865" stroke-width="0.00907"/>
<path d="M0.5364 0.4359 0.5375 0.4337 0.5386 0.4316 0.5397 0.4294 0.5403 0.428" stroke="#982766" stroke-width="0.00907"/>
<path d="M0.54 0.4287 0.541 0.4265 0.542 0.4243 0.5429 0.4221 0.5436 0.4206" stroke="#952667" stroke-width="0.00893"/>
<path d="M0.5433 0.4213 0.5442 0.4191 0.5451 0.4169" stroke="#932667" stroke-width="0.00878"/>
<path d="M0.5448 0.4176 0.5457 0.4154 0.5465 0.4132" stroke="#902568" stroke-width="0.00864"/>
<path d="M0.5462 0.4139 0.5471 0.4117 0.5479 0.4094" stroke="#902568" stroke-width="0.0085"/>
<path d="M0.5476 0.4102 0.5484 0.4079 0.5492 0.4057" stroke="#8f2469" stroke-width="0.00821"/>
<path d="M0.549 0.4064 0.5498 0.4042 0.5505 0.402" stroke="#8a226b" stroke-width="0.00806"/>
<path d="M0.5503 0.4027 0.551 0.4005 0.5518 0.3982" stroke="#83206e" stroke-width="0.00792"/>
<path d="M0.5515 0.399 0.5523 0.3967 0.553 0.3945" stroke="#7b1e72" stroke-width="0.00763"/>
<path d="M0.5528 0.3952 0.5535 0.393 0.5542 0.3907" stroke="#711a77" stroke-width="0.00749"/>
<path d="M0.554 0.3915 0.5547 0.3893 0.5555 0.387" stroke="#63167c" stroke-width="0.0072"/>
<path d="M0.5552 0.3878 0.5559 0.3855 0.5566 0.3834" stroke="#500f82" stroke-width="0.00706"/>
<path d="M0.5564 0.3841 0.557 0.3819 0.5575 0.3797" stroke="#4b0d7e" stroke-width="0.00691"/>
<path d="M0.5573 0.3804 0.5578 0.3782 0.5581 0.3759" stroke="#470c7a" stroke-width="0.00662"/>
<path d="M0.558 0.3767 0.5583 0.3744 0.5584 0.372" stroke="#420a77" stroke-width="0.00634"/>
<path d="M0.5584 0.3728 0.5585 0.3704 0.5584 0.3681" stroke="#3c0972" stroke-width="0.00605"/>
<path d="M0.5584 0.3689 0.5583 0.3665 0.5579 0.3641" stroke="#3b0970" stroke-width="0.00562"/>
<path d="M0.5581 0.3649 0.5577 0.3625 0.5571 0.3602" stroke="#38096d" stroke-width="0.00533"/>
<path d="M0.5573 0.3609 0.5567 0.3586 0.556 0.3563" stroke="#36096b" stroke-width="0.00504"/>
<path d="M0.5562 0.3571 0.5554 0.3548 0.5544 0.3526" stroke="#330a67" stroke-width="0.0049"/>
<path d="M0.5548 0.3533 0.5537 0.3511 0.5526 0.349" stroke="#330a67" stroke-width="0.00475"/>
<path d="M0.553 0.3497 0.5517 0.3476 0.5504 0.3456" stroke="#310a65" stroke-width="0.00461"/>
<path d="M0.5508 0.3463 0.5494 0.3444 0.5478 0.3425 0.5462 0.3408 0.545 0.3397" stroke="#2e0a61" stroke-width="0.00461"/>
<path d="M0.5456 0.3403 0.5438 0.3387 0.542 0.3372" stroke="#2e0a61" stroke-width="0.00475"/>
<path d="M0.5426 0.3377 0.5407 0.3362 0.5388 0.3349 0.5367 0.3337 0.5354 0.3329" stroke="#2c0b5e" stroke-width="0.00475"/>
<path d="M0.5361 0.3333 0.534 0.3322 0.5318 0.3313" stroke="#2e0a61" stroke-width="0.00475"/>
<path d="M0.5325 0.3316 0.5303 0.3307 0.5281 0.3299" stroke="#2e0a61" stroke-width="0.0049"/>
<path d="M0.5289 0.3302 0.5266 0.3295 0.5243 0.3289" stroke="#310a65" stroke-width="0.0049"/>
<path d="M0.5251 0.3291 0.5228 0.3286 0.5205 0.3282" stroke="#330a67" stroke-width="0.00504"/>
<path d="M0.5213 0.3283 0.5189 0.328 0.5166 0.3279" stroke="#38096d" stroke-width="0.00518"/>
<path d="M0.5174 0.3279 0.515 0.3278 0.5126 0.3278" stroke="#3c0972" stroke-width="0.00533"/>
<path d="M0.5134 0.3278 0.5111 0.3279 0.5087 0.3281" stroke="#420a77" stroke-width="0.00547"/>
<path d="M0.5095 0.328 0.5072 0.3283 0.5048 0.3287" stroke="#470c7a" stroke-width="0.00562"/>
<path d="M0.5056 0.3286 0.5033 0.3291 0.501 0.3296" stroke="#4b0d7e" stroke-width="0.00576"/>
<path d="M0.5018 0.3294 0.4995 0.3301 0.4973 0.3308" stroke="#500f82" stroke-width="0.0059"/>
<path d="M0.498 0.3306 0.4958 0.3314 0.4937 0.3323" stroke="#551181" stroke-width="0.00605"/>
<path d="M0.4944 0.332 0.4923 0.333 0.4902 0.334" stroke="#5e147e" stroke-width="0.00619"/>
<path d="M0.4909 0.3337 0.4888 0.3348 0.4868 0.336" stroke="#66177b" stroke-width="0.00634"/>
<path d="M0.4875 0.3356 0.4854 0.3368 0.4833 0.338" stroke="#721b76" stroke-width="0.00648"/>
<path d="M0.484 0.3376 0.4819 0.3388 0.4797 0.3399" stroke="#83206e" stroke-width="0.00662"/>
<path d="M0.4804 0.3395 0.4783 0.3406 0.4761 0.3417" stroke="#8c2369" stroke-width="0.00691"/>
<path d="M0.4768 0.3413 0.4746 0.3423 0.4725 0.3433" stroke="#902568" stroke-width="0.00706"/>
<path d="M0.4732 0.343 0.471 0.3439 0.4687 0.3448" stroke="#952667" stroke-width="0.00734"/>
<path d="M0.4695 0.3445 0.4673 0.3454 0.465 0.3462" stroke="#982766" stroke-width="0.00749"/>
<path d="M0.4658 0.346 0.4635 0.3468 0.4612 0.3475" stroke="#9a2865" stroke-width="0.00778"/>
<path d="M0.462 0.3473 0.4597 0.348 0.4574 0.3487" stroke="#9a2865" stroke-width="0.00792"/>
<path d="M0.4582 0.3485 0.4559 0.3491 0.4536 0.3497" stroke="#9d2964" stroke-width="0.00821"/>
<path d="M0.4543 0.3495 0.452 0.3501 0.4497 0.3506 0.4493 0.3507" stroke="#9d2964" stroke-width="0.00835"/>
<path d="M0.4501 0.3506 0.4477 0.3511 0.4454 0.3516" stroke="#9f2a63" stroke-width="0.0085"/>
<path d="M0.4462 0.3514 0.4438 0.3519 0.4415 0.3523" stroke="#9f2a63" stroke-width="0.00864"/>
<path d="M0.4423 0.3522 0.4399 0.3526 0.4376 0.3531" stroke="#9f2a63" stroke-width="0.00878"/>
<path d="M0.4384 0.3529 0.436 0.3534 0.4337 0.3538 0.4314 0.3543 0.4298 0.3546" stroke="#a22b62" stroke-width="0.00893"/>
<path d="M0.4306 0.3544 0.4282 0.3548 0.4259 0.3553 0.4235 0.3557 0.422 0.3559" stroke="#a32c61" stroke-width="0.00907"/>
<path d="M0.4227 0.3558 0.4204 0.3562 0.418 0.3565 0.4157 0.3568 0.4141 0.3571" stroke="#a62d60" stroke-width="0.00922"/>
<path d="M0.4149 0.357 0.4125 0.3573 0.4101 0.3575 0.4078 0.3578 0.4062 0.3579" stroke="#a82e5f" stroke-width="0.00936"/>
<path d="M0.407 0.3578 0.4046 0.358 0.4022 0.3582 0.3998 0.3584 0.3975 0.3585 0.3951 0.3585 0.3927 0.3586 0.3903 0.3586" stroke="#ab2f5e" stroke-width="0.0095"/>
<path d="M0.3911 0.3586 0.3887 0.3586 0.3863 0.3585 0.3839 0.3584 0.3815 0.3583 0.3792 0.3582 0.3768 0.3581 0.3744 0.3579 0.372 0.3577 0.3696 0.3575 0.3672 0.3573 0.3649 0.357 0.3625 0.3568" stroke="#ae305c" stroke-width="0.0095"/>
<path d="M0.3633 0.3569 0.3609 0.3566 0.3585 0.3563 0.3562 0.356 0.3538 0.3556 0.3514 0.3553 0.3491 0.3549 0.3467 0.3545 0.3444 0.3541 0.342 0.3537 0.3397 0.3532 0.3373 0.3527 0.335 0.3522 0.3327 0.3516 0.3312 0.3513" stroke="#b0315b" stroke-width="0.0095"/>
<path d="M0.3319 0.3514 0.3296 0.3509 0.3273 0.3503 0.325 0.3496 0.3235 0.3492" stroke="#b3325a" stroke-width="0.00936"/>
<path d="M0.3242 0.3494 0.322 0.3487 0.3197 0.348 0.3174 0.3473 0.3151 0.3466 0.3129 0.3458 0.3121 0.3455" stroke="#b3325a" stroke-width="0.00922"/>
<path d="M0.3129 0.3458 0.3106 0.345 0.3084 0.3442" stroke="#b3325a" stroke-width="0.00907"/>
<path d="M0.3092 0.3444 0.3069 0.3436 0.3047 0.3427 0.3025 0.3418 0.3003 0.3409 0.2981 0.3399 0.2959 0.339 0.2938 0.338 0.2916 0.337 0.2894 0.336 0.2873 0.335 0.2851 0.3339 0.2829 0.3329 0.2808 0.3318 0.2787 0.3308 0.2765 0.3297 0.2744 0.3286 0.2722 0.3275 0.2701 0.3264 0.268 0.3253 0.2659 0.3242 0.2638 0.323 0.2617 0.3219 0.2596 0.3207 0.2576 0.3194 0.2555 0.3181 0.2535 0.3169 0.2515 0.3156 0.2495 0.3142 0.2475 0.3129 0.2455 0.3116 0.2448 0.3111" stroke="#b43359" stroke-width="0.00907"/>
<path d="M0.2455 0.3116 0.2435 0.3102 0.2416 0.3088 0.2396 0.3074 0.2383 0.3065" stroke="#b3325a" stroke-width="0.00907"/>
<path d="M0.239 0.3069 0.2371 0.3055 0.2352 0.3041 0.2333 0.3026 0.232 0.3016" stroke="#b3325a" stroke-width="0.00922"/>
<path d="M0.2326 0.3021 0.2308 0.3006 0.229 0.2991 0.2272 0.2976 0.2255 0.296 0.2238 0.2943 0.2221 0.2927 0.2204 0.291 0.2188 0.2893 0.2178 0.2881" stroke="#b0315b" stroke-width="0.00922"/>
<path d="M0.2183 0.2887 0.2168 0.2869 0.2152 0.2851 0.2138 0.2833 0.2123 0.2815 0.2109 0.2796 0.2095 0.2777 0.2081 0.2758 0.2068 0.2739 0.2056 0.2719 0.2043 0.27 0.2031 0.268 0.2019 0.2659" stroke="#ae305c" stroke-width="0.00936"/>
<path d="M0.2023 0.2666 0.2011 0.2646 0.1999 0.2625 0.1987 0.2605 0.1974 0.2584 0.1962 0.2564 0.195 0.2543 0.1939 0.2523 0.1927 0.2502 0.1915 0.2481 0.1904 0.2461 0.1892 0.244 0.1881 0.2419 0.1869 0.2398 0.1862 0.2384" stroke="#ae305c" stroke-width="0.0095"/>
<path d="M0.1865 0.2391 0.1854 0.237 0.1843 0.2349 0.1831 0.2328 0.182 0.2307 0.1809 0.2286 0.1798 0.2265 0.1788 0.2244" stroke="#ae305c" stroke-width="0.00965"/>
<path d="M0.1791 0.2251 0.1781 0.2229 0.177 0.2208 0.176 0.2186 0.1754 0.2172" stroke="#ae305c" stroke-width="0.0095"/>
<path d="M0.1757 0.2179 0.1747 0.2157 0.1738 0.2135 0.1728 0.2113 0.1719 0.2091 0.171 0.2069 0.1702 0.2047 0.1693 0.2024" stroke="#ab2f5e" stroke-width="0.0095"/>
<path d="M0.1696 0.2032 0.1688 0.2009 0.1679 0.1987 0.1671 0.1964 0.1664 0.1941 0.1656 0.1919 0.1649 0.1896 0.1642 0.1873" stroke="#a82e5f" stroke-width="0.0095"/>
<path d="M0.1644 0.188 0.1637 0.1858 0.163 0.1835 0.1624 0.1811 0.1618 0.1788 0.1611 0.1765 0.1609 0.1758" stroke="#a62d60" stroke-width="0.0095"/>
<path d="M0.1611 0.1765 0.1605 0.1742 0.1599 0.1719 0.1593 0.1696 0.1589 0.168" stroke="#a32c61" stroke-width="0.00936"/>
<path d="M0.1591 0.1688 0.1585 0.1665 0.1579 0.1642 0.1574 0.1618 0.157 0.1603" stroke="#a22b62" stroke-width="0.00936"/>
<path d="M0.1572 0.1611 0.1566 0.1587 0.156 0.1564" stroke="#9f2a63" stroke-width="0.00936"/>
<path d="M0.1562 0.1572 0.1557 0.1549 0.1551 0.1525" stroke="#9f2a63" stroke-width="0.00922"/>
<path d="M0.1553 0.1533 0.1548 0.151 0.1543 0.1486 0.1538 0.1463 0.1535 0.1447" stroke="#9d2964" stroke-width="0.00922"/>
<path d="M0.1536 0.1455 0.1531 0.1431 0.1527 0.1408" stroke="#9a2865" stroke-width="0.00907"/>
<path d="M0.1528 0.1416 0.1524 0.1392 0.1519 0.1369" stroke="#982766" stroke-width="0.00907"/>
<path d="M0.1521 0.1377 0.1517 0.1353 0.1512 0.1329" stroke="#952667" stroke-width="0.00907"/>
<path d="M0.1514 0.1337 0.1509 0.1314 0.1505 0.129" stroke="#952667" stroke-width="0.00893"/>
<path d="M0.1507 0.1298 0.1503 0.1274 0.1499 0.1251" stroke="#932667" stroke-width="0.00893"/>
<path d="M0.15 0.1258 0.1496 0.1235 0.1493 0.1211" stroke="#902568" stroke-width="0.00878"/>
<path d="M0.1494 0.1219 0.1491 0.1195 0.1487 0.1171" stroke="#8f2469" stroke-width="0.00878"/>
<path d="M0.1488 0.1179 0.1485 0.1156 0.1482 0.1132" stroke="#8c2369" stroke-width="0.00864"/>
<path d="M0.1483 0.114 0.148 0.1116 0.1477 0.1092" stroke="#86216c" stroke-width="0.0085"/>
<path d="M0.1478 0.11 0.1476 0.1076 0.1473 0.1052" stroke="#81206f" stroke-width="0.00835"/>
<path d="M0.1474 0.106 0.1472 0.1036 0.147 0.1012" stroke="#7b1e72" stroke-width="0.00821"/>
<path d="M0.147 0.102 0.1468 0.0996 0.1467 0.0973" stroke="#761c75" stroke-width="0.00806"/>
<path d="M0.1467 0.0981 0.1466 0.0957 0.1464 0.0933" stroke="#711a77" stroke-width="0.00778"/>
<path d="M0.1465 0.0941 0.1464 0.0917 0.1463 0.0893" stroke="#6b1979" stroke-width="0.00763"/>
<path d="M0.1463 0.0901 0.1463 0.0877 0.1462 0.0853" stroke="#63167c" stroke-width="0.00734"/>
<path d="M0.1462 0.0861 0.1462 0.0837 0.1461 0.0813" stroke="#5e147e" stroke-width="0.0072"/>
<path d="M0.1461 0.0821 0.1461 0.0797 0.146 0.0773" stroke="#551181" stroke-width="0.00691"/>
<path d="M0.146 0.0781 0.1459 0.0757 0.1457 0.0733" stroke="#500f82" stroke-width="0.00662"/>
<path d="M0.1458 0.0741 0.1456 0.0717 0.1455 0.0693" stroke="#4b0d7e" stroke-width="0.00648"/>
<path d="M0.1455 0.0701 0.1453 0.0677 0.1451 0.0653" stroke="#470c7a" stroke-width="0.00619"/>
<path d="M0.1452 0.0661 0.145 0.0637 0.1448 0.0613" stroke="#420a77" stroke-width="0.00605"/>
<path d="M0.1449 0.0621 0.1446 0.0597 0.1444 0.0574" stroke="#3f0a74" stroke-width="0.00576"/>
<path d="M0.1445 0.0581 0.1442 0.0558 0.1438 0.0534" stroke="#3b0970" stroke-width="0.00562"/>
<path d="M0.1439 0.0542 0.1434 0.0519 0.1427 0.0496" stroke="#38096d" stroke-width="0.00547"/>
<path d="M0.143 0.0504 0.1422 0.0481 0.1414 0.0459" stroke="#330a67" stroke-width="0.00518"/>
<path d="M0.1417 0.0467 0.1407 0.0445 0.1396 0.0424" stroke="#310a65" stroke-width="0.00504"/>
<path d="M0.14 0.0431 0.1389 0.0411 0.1376 0.0391" stroke="#2e0a61" stroke-width="0.0049"/>
<path d="M0.138 0.0397 0.1367 0.0378 0.1353 0.0359" stroke="#290b59" stroke-width="0.00475"/>
<path d="M0.1358 0.0366 0.1344 0.0348 0.1328 0.033" stroke="#270b56" stroke-width="0.00461"/>
<path d="M0.1333 0.0336 0.1318 0.0319 0.1301 0.0303" stroke="#220c4e" stroke-width="0.00432"/>
<path d="M0.1307 0.0308 0.1289 0.0293 0.1272 0.0278" stroke="#1e0c45" stroke-width="0.00418"/>
<path d="M0.1278 0.0283 0.1259 0.0269 0.124 0.0256" stroke="#190c3e" stroke-width="0.00403"/>
<path d="M0.1247 0.026 0.1227 0.0248 0.1207 0.0237" stroke="#150b37" stroke-width="0.00389"/>
<path d="M0.1214 0.0241 0.1194 0.023 0.1173 0.0221" stroke="#110a30" stroke-width="0.00374"/>
<path d="M0.118 0.0224 0.1158 0.0215 0.1137 0.0208" stroke="#110a30" stroke-width="0.0036"/>
<path d="M0.1144 0.021 0.1122 0.0203 0.11 0.0198" stroke="#0d0829" stroke-width="0.00346"/>
<path d="M0.1107 0.02 0.1085 0.0194 0.1062 0.0189" stroke="#0d0829" stroke-width="0.00331"/>
<path d="M0.107 0.0191 0.1047 0.0186 0.1024 0.0183" stroke="#0d0829" stroke-width="0.00317"/>
<path d="M0.1031 0.0184 0.1008 0.0182 0.0984 0.0182 0.0961 0.0183 0.0945 0.0185" stroke="#0d0829" stroke-width="0.00302"/>
<path d="M0.0953 0.0184 0.0929 0.0187 0.0906 0.0191" stroke="#110a30" stroke-width="0.00317"/>
<path d="M0.0914 0.019 0.0891 0.0195 0.0868 0.0202 0.0864 0.0203" stroke="#110a30" stroke-width="0.00331"/>
<path d="M0.0872 0.0201 0.0849 0.0209 0.0828 0.0218" stroke="#160b39" stroke-width="0.00325"/>
<path d="M0.0835 0.0214 0.0813 0.0224 0.0792 0.0236" stroke="#1f0c48" stroke-width="0.00351"/>
<path d="M0.0799 0.0232 0.0779 0.0244 0.0759 0.0257" stroke="#240c51" stroke-width="0.00377"/>
<path d="M0.0765 0.0253 0.0746 0.0267 0.0728 0.0282" stroke="#290b59" stroke-width="0.00403"/>
<path d="M0.0734 0.0277 0.0716 0.0292 0.0699 0.0309" stroke="#2e0a61" stroke-width="0.00416"/>
<path d="M0.0704 0.0304 0.0688 0.0321 0.0672 0.0339" stroke="#310a65" stroke-width="0.00442"/>
<path d="M0.0677 0.0333 0.0662 0.0351 0.0648 0.0371" stroke="#38096d" stroke-width="0.00468"/>
<path d="M0.0653 0.0364 0.0639 0.0384 0.0627 0.0404" stroke="#3c0972" stroke-width="0.00494"/>
<path d="M0.0631 0.0397 0.0619 0.0418 0.0608 0.0439" stroke="#420a77" stroke-width="0.00507"/>
<path d="M0.0612 0.0432 0.0601 0.0453 0.0592 0.0475" stroke="#480c7b" stroke-width="0.00533"/>
<path d="M0.0595 0.0468 0.0586 0.049 0.0577 0.0512" stroke="#4c0e7f" stroke-width="0.00559"/>
<path d="M0.058 0.0505 0.0571 0.0527 0.0562 0.0549" stroke="#551181" stroke-width="0.00585"/>
<path d="M0.0565 0.0542 0.0556 0.0564 0.0547 0.0587" stroke="#5e147e" stroke-width="0.00611"/>
<path d="M0.055 0.0579 0.0541 0.0601 0.0532 0.0624" stroke="#68187b" stroke-width="0.00637"/>
<path d="M0.0535 0.0616 0.0527 0.0639 0.0518 0.0661" stroke="#711a77" stroke-width="0.00663"/>
<path d="M0.0521 0.0654 0.0512 0.0676 0.0504 0.0699" stroke="#781d74" stroke-width="0.00689"/>
<path d="M0.0507 0.0691 0.0498 0.0714 0.049 0.0736" stroke="#81206f" stroke-width="0.00702"/>
<path d="M0.0493 0.0729 0.0485 0.0751 0.0477 0.0774" stroke="#8a226a" stroke-width="0.00728"/>
<path d="M0.0479 0.0766 0.0471 0.0789 0.0463 0.0812" stroke="#902568" stroke-width="0.00741"/>
<path d="M0.0466 0.0804 0.0458 0.0827 0.045 0.0849" stroke="#972766" stroke-width="0.00754"/>
<path d="M0.0453 0.0842 0.0445 0.0864 0.0437 0.0887" stroke="#9b2964" stroke-width="0.00767"/>
<path d="M0.0439 0.0879 0.0432 0.0902 0.0424 0.0925" stroke="#9f2a63" stroke-width="0.0078"/>
<path d="M0.0426 0.0917 0.0418 0.094 0.0411 0.0962" stroke="#a22b62" stroke-width="0.0078"/>
<path d="M0.0413 0.0955 0.0405 0.0977 0.0398 0.1" stroke="#a52c60" stroke-width="0.00793"/>
<path d="M0.04 0.0993 0.0393 0.1015 0.0385 0.1038" stroke="#a62d60" stroke-width="0.00793"/>
<path d="M0.0387 0.103 0.038 0.1053 0.0373 0.1076" stroke="#a92e5e" stroke-width="0.00806"/>
<path d="M0.0375 0.1068 0.0368 0.1091 0.0361 0.1114" stroke="#ad305d" stroke-width="0.00806"/>
<path d="M0.0364 0.1107 0.0357 0.113 0.035 0.1153" stroke="#b0315b" stroke-width="0.00806"/>
<path d="M0.0353 0.1145 0.0346 0.1168 0.034 0.1191 0.0334 0.1214 0.033 0.123" stroke="#b3325a" stroke-width="0.00819"/>
<path d="M0.0332 0.1222 0.0326 0.1245 0.032 0.1269" stroke="#b43359" stroke-width="0.00819"/>
<path d="M0.0322 0.1261 0.0316 0.1284 0.0311 0.1307" stroke="#b73557" stroke-width="0.00819"/>
<path d="M0.0313 0.13 0.0307 0.1323 0.0302 0.1346" stroke="#b73557" stroke-width="0.00832"/>
<path d="M0.0304 0.1339 0.0298 0.1362 0.0293 0.1385 0.0288 0.1409 0.0284 0.1424" stroke="#ba3655" stroke-width="0.00832"/>
<path d="M0.0286 0.1416 0.028 0.144 0.0275 0.1463" stroke="#bd3853" stroke-width="0.00832"/>
<path d="M0.0277 0.1455 0.0272 0.1479 0.0267 0.1502 0.0261 0.1526 0.0258 0.1541" stroke="#c03a51" stroke-width="0.00845"/>
<path d="M0.026 0.1533 0.0254 0.1557 0.0249 0.158 0.0245 0.1604 0.0241 0.162" stroke="#c13a50" stroke-width="0.00845"/>
<path d="M0.0243 0.1612 0.0238 0.1635 0.0234 0.1659" stroke="#c43c4e" stroke-width="0.00845"/>
<path d="M0.0235 0.1651 0.0231 0.1675 0.0226 0.1698" stroke="#c43c4e" stroke-width="0.00858"/>
<path d="M0.0228 0.169 0.0224 0.1714 0.022 0.1738" stroke="#c73e4c" stroke-width="0.00858"/>
<path d="M0.0221 0.173 0.0217 0.1754 0.0213 0.1778 0.021 0.1801 0.0207 0.1825 0.0203 0.1849 0.0202 0.1857" stroke="#ca404a" stroke-width="0.00858"/>
<path d="M0.0203 0.1849 0.02 0.1873 0.0198 0.1897" stroke="#cc4248" stroke-width="0.00858"/>
<path d="M0.0199 0.1889 0.0196 0.1913 0.0193 0.1937" stroke="#cc4248" stroke-width="0.00871"/>
<path d="M0.0194 0.1929 0.0191 0.1953 0.0189 0.1977 0.0187 0.2 0.0185 0.2016" stroke="#ce4347" stroke-width="0.00871"/>
<path d="M0.0186 0.2008 0.0183 0.2032 0.0181 0.2056 0.0179 0.208 0.0178 0.2096" stroke="#d04545" stroke-width="0.00871"/>
<path d="M0.0179 0.2088 0.0177 0.2112 0.0175 0.2136 0.0174 0.216 0.0173 0.2176" stroke="#d04545" stroke-width="0.00884"/>
<path d="M0.0174 0.2168 0.0173 0.2192 0.0172 0.2216 0.0171 0.224 0.017 0.2256" stroke="#d34743" stroke-width="0.00884"/>
<path d="M0.017 0.2248 0.0169 0.2272 0.0168 0.2296" stroke="#d34743" stroke-width="0.00897"/>
<path d="M0.0168 0.2288 0.0167 0.2312 0.0166 0.2335 0.0165 0.2359 0.0164 0.2375" stroke="#d54a41" stroke-width="0.00897"/>
<path d="M0.0165 0.2367 0.0164 0.2391 0.0163 0.2415 0.0162 0.2439 0.0161 0.2455" stroke="#d54a41" stroke-width="0.0091"/>
<path d="M0.0162 0.2447 0.0161 0.2471 0.016 0.2495" stroke="#d84c3e" stroke-width="0.0091"/>
<path d="M0.016 0.2487 0.016 0.2511 0.0159 0.2535 0.0159 0.2559 0.0158 0.2583 0.0158 0.2607 0.0157 0.2631 0.0157 0.2655 0.0157 0.2679 0.0157 0.2703 0.0157 0.2727 0.0157 0.2751 0.0157 0.2775 0.0157 0.2798 0.0157 0.2814" stroke="#d84c3e" stroke-width="0.00923"/>
<path d="M0.0157 0.2806 0.0157 0.283 0.0158 0.2854 0.0158 0.2878 0.0158 0.2894" stroke="#d84c3e" stroke-width="0.0091"/>
<path d="M0.0158 0.2886 0.0158 0.291 0.0159 0.2934 0.0161 0.2958 0.0162 0.2974" stroke="#d54a41" stroke-width="0.00897"/>
<path d="M0.0162 0.2966 0.0164 0.299 0.0168 0.3014" stroke="#d54a41" stroke-width="0.00884"/>
<path d="M0.0167 0.3006 0.0171 0.303 0.0176 0.3053" stroke="#d34743" stroke-width="0.00871"/>
<path d="M0.0174 0.3045 0.0179 0.3069 0.0186 0.3092 0.0193 0.3115 0.0199 0.313" stroke="#d34743" stroke-width="0.00858"/>
<path d="M0.0196 0.3122 0.0204 0.3145 0.0214 0.3167" stroke="#d34743" stroke-width="0.00845"/>
<path d="M0.0211 0.3159 0.0221 0.3181 0.0231 0.3202" stroke="#d04545" stroke-width="0.00845"/>
<path d="M0.0228 0.3195 0.0239 0.3216 0.0251 0.3236 0.0264 0.3256 0.0277 0.3276 0.029 0.3296 0.0303 0.3316 0.0316 0.3336 0.0329 0.3355 0.0338 0.3369" stroke="#d04545" stroke-width="0.00832"/>
<path d="M0.0333 0.3362 0.0347 0.3382 0.036 0.3402 0.0373 0.3422 0.0381 0.3436" stroke="#d34743" stroke-width="0.00845"/>
<path d="M0.0377 0.3429 0.039 0.3449 0.0403 0.3469" stroke="#d34743" stroke-width="0.00858"/>
<path d="M0.0399 0.3462 0.0412 0.3483 0.0425 0.3503" stroke="#d54a41" stroke-width="0.00858"/>
<path d="M0.042 0.3496 0.0433 0.3516 0.0446 0.3536 0.046 0.3557 0.0468 0.357" stroke="#d84c3e" stroke-width="0.00871"/>
<path d="M0.0464 0.3563 0.0477 0.3584 0.049 0.3604" stroke="#d94d3d" stroke-width="0.00884"/>
<path d="M0.0486 0.3597 0.0499 0.3617 0.0512 0.3638" stroke="#d94d3d" stroke-width="0.00897"/>
<path d="M0.0507 0.3631 0.052 0.3651 0.0534 0.3671" stroke="#db503b" stroke-width="0.00897"/>
<path d="M0.0529 0.3665 0.0542 0.3685 0.0556 0.3705 0.0569 0.3725 0.0578 0.3738" stroke="#db503b" stroke-width="0.0091"/>
<path d="M0.0573 0.3732 0.0587 0.3752 0.0601 0.3772 0.0615 0.3791 0.0629 0.3811 0.0643 0.383 0.0648 0.3837" stroke="#de5238" stroke-width="0.0091"/>
<path d="M0.0643 0.383 0.0658 0.3849 0.0673 0.3868 0.0688 0.3887 0.0703 0.3906 0.0718 0.3925 0.0723 0.3931" stroke="#de5238" stroke-width="0.00897"/>
<path d="M0.0718 0.3925 0.0733 0.3944 0.0749 0.3962 0.0764 0.3981 0.0775 0.3993" stroke="#de5238" stroke-width="0.00884"/>
<path d="M0.0769 0.3987 0.0785 0.4005 0.0801 0.4023 0.0817 0.4041 0.0828 0.4053" stroke="#de5238" stroke-width="0.00871"/>
<path d="M0.0822 0.4047 0.0838 0.4065 0.0855 0.4083 0.0871 0.41 0.0887 0.4118 0.0904 0.4135 0.0909 0.4141" stroke="#de5238" stroke-width="0.00858"/>
<path d="M0.0904 0.4135 0.092 0.4153 0.0937 0.417 0.0953 0.4187 0.097 0.4204 0.0987 0.4221 0.0993 0.4227" stroke="#de5238" stroke-width="0.00845"/>
<path d="M0.0987 0.4221 0.1004 0.4238 0.1021 0.4255 0.1038 0.4272 0.1055 0.4289 0.1072 0.4305 0.109 0.4322 0.1107 0.4338" stroke="#de5238" stroke-width="0.00858"/>
<path d="M0.1101 0.4333 0.1119 0.4349 0.1136 0.4365 0.1153 0.4381 0.1171 0.4398 0.1188 0.4414 0.1194 0.4419" stroke="#de5238" stroke-width="0.00871"/>
<path d="M0.1188 0.4414 0.1206 0.443 0.1224 0.4446 0.1241 0.4462 0.1259 0.4478 0.1277 0.4494 0.1295 0.451 0.1313 0.4525 0.1332 0.4541 0.135 0.4556 0.1369 0.4571 0.1387 0.4586 0.1406 0.4601 0.1425 0.4615 0.1444 0.463 0.1463 0.4644 0.1483 0.4658 0.1502 0.4672 0.1522 0.4686 0.1541 0.47 0.1561 0.4713 0.1581 0.4727 0.16 0.4741 0.162 0.4754 0.164 0.4767 0.166 0.478 0.168 0.4793 0.17 0.4806 0.1721 0.4819 0.1741 0.4832 0.1761 0.4844 0.1782 0.4857 0.1802 0.4869 0.1823 0.4881 0.1843 0.4893 0.1864 0.4905 0.1871 0.4909" stroke="#de5238" stroke-width="0.00884"/>
<path d="M0.1864 0.4905 0.1885 0.4917 0.1906 0.4929 0.1927 0.494 0.1947 0.4952 0.1968 0.4963 0.1989 0.4975 0.2011 0.4986 0.2032 0.4997 0.2053 0.5008 0.2074 0.5019 0.2084 0.5025" stroke="#de5238" stroke-width="0.00871"/>
<path d="M0.2077 0.5021 0.2098 0.5032 0.212 0.5043 0.2141 0.5054 0.2162 0.5065 0.2183 0.5076 0.2205 0.5086 0.2226 0.5097 0.2248 0.5107 0.2269 0.5117 0.2291 0.5126 0.2313 0.5136 0.2335 0.5146 0.2356 0.5155 0.2378 0.5164 0.24 0.5173 0.2423 0.5181 0.2445 0.519 0.2467 0.5198 0.2489 0.5206 0.2512 0.5214 0.2534 0.5222 0.2557 0.523 0.2579 0.5238 0.2595 0.5243" stroke="#de5238" stroke-width="0.00858"/>
<path d="M0.2587 0.524 0.261 0.5248 0.2632 0.5255 0.2655 0.5263 0.2678 0.527 0.2701 0.5277 0.2724 0.5284 0.2747 0.5291 0.277 0.5298 0.2793 0.5304 0.2816 0.5311 0.2839 0.5317 0.2862 0.5323 0.2886 0.5329 0.2909 0.5334 0.2932 0.534 0.2956 0.5345 0.2979 0.535 0.3003 0.5355 0.3018 0.5358" stroke="#de5238" stroke-width="0.00871"/>
<path d="M0.3011 0.5356 0.3034 0.5361 0.3058 0.5365 0.3081 0.5369 0.3105 0.5373 0.3129 0.5376 0.3152 0.538 0.3176 0.5383 0.32 0.5386 0.3224 0.5388 0.3247 0.5391 0.3271 0.5393 0.3295 0.5396 0.3319 0.5398 0.3335 0.5399" stroke="#db503b" stroke-width="0.00884"/>
<path d="M0.3327 0.5399 0.3351 0.5401 0.3374 0.5403" stroke="#d94d3d" stroke-width="0.00884"/>
<path d="M0.3366 0.5402 0.339 0.5404 0.3414 0.5406 0.3438 0.5408 0.3462 0.5409 0.3486 0.5411 0.3509 0.5412 0.3533 0.5413 0.3557 0.5414 0.3581 0.5415 0.3605 0.5416 0.3613 0.5416" stroke="#d94d3d" stroke-width="0.00897"/>
<path d="M0.3605 0.5416 0.3629 0.5416 0.3653 0.5417 0.3677 0.5417 0.3701 0.5417 0.3725 0.5417 0.3749 0.5417 0.3773 0.5417 0.3797 0.5417 0.3813 0.5417" stroke="#d84c3e" stroke-width="0.00897"/>
<path d="M0.3805 0.5417 0.3828 0.5417 0.3851 0.5416" stroke="#d54a41" stroke-width="0.00897"/>
<path d="M0.3844 0.5416 0.3867 0.5415 0.389 0.5414 0.3913 0.5412 0.3937 0.5409 0.396 0.5405 0.3984 0.5402 0.4008 0.5397" stroke="#d54a41" stroke-width="0.00884"/>
<path d="M0.4 0.5399 0.4024 0.5394 0.4047 0.5389 0.407 0.5384 0.4086 0.538" stroke="#d34743" stroke-width="0.00884"/>
<path d="M0.4078 0.5382 0.4101 0.5376 0.4125 0.5369 0.4147 0.5361 0.417 0.5353 0.4193 0.5345 0.4215 0.5336 0.4238 0.5327 0.426 0.5317 0.4282 0.5308 0.4304 0.5298 0.4326 0.5287 0.4347 0.5277" stroke="#d34743" stroke-width="0.00871"/>
<path d="M0.434 0.528 0.4362 0.527 0.4384 0.5259" stroke="#d34743" stroke-width="0.00858"/>
<path d="M0.4376 0.5263 0.4398 0.5252 0.4419 0.5241 0.4441 0.523 0.4462 0.5219 0.4483 0.5207 0.4504 0.5195 0.4525 0.5183 0.4546 0.5171 0.456 0.5163" stroke="#d04545" stroke-width="0.00858"/>
<path d="M0.4553 0.5167 0.4574 0.5155 0.4594 0.5142 0.4614 0.5129 0.4635 0.5116 0.4655 0.5103 0.4675 0.509 0.4695 0.5076" stroke="#d04545" stroke-width="0.00845"/>
<path d="M0.4688 0.5081 0.4708 0.5067 0.4727 0.5053 0.4747 0.5039 0.476 0.503" stroke="#ce4347" stroke-width="0.00832"/>
<path d="M0.4753 0.5035 0.4773 0.502 0.4792 0.5006" stroke="#ce4347" stroke-width="0.00819"/>
<path d="M0.4785 0.5011 0.4804 0.4996 0.4823 0.4981" stroke="#cc4248" stroke-width="0.00819"/>
<path d="M0.4817 0.4986 0.4836 0.4971 0.4854 0.4956" stroke="#cc4248" stroke-width="0.00806"/>
<path d="M0.4848 0.4961 0.4866 0.4946 0.4885 0.4931" stroke="#ca404a" stroke-width="0.00806"/>
<path d="M0.4879 0.4936 0.4897 0.492 0.4915 0.4905 0.4933 0.4889 0.4944 0.4878" stroke="#ca404a" stroke-width="0.00793"/>
<path d="M0.4938 0.4883 0.4956 0.4867 0.4973 0.4851 0.4991 0.4834 0.5002 0.4823" stroke="#c73e4c" stroke-width="0.0078"/>
<path d="M0.4996 0.4829 0.5013 0.4812 0.503 0.4795 0.5047 0.4778 0.5058 0.4766" stroke="#c43c4e" stroke-width="0.0078"/>
<path d="M0.5052 0.4772 0.5069 0.4755 0.5085 0.4737 0.5101 0.472 0.5112 0.4708" stroke="#c13a50" stroke-width="0.0078"/>
<path d="M0.5106 0.4714 0.5122 0.4696 0.5138 0.4678" stroke="#c03a51" stroke-width="0.00793"/>
<path d="M0.5133 0.4684 0.5148 0.4666 0.5163 0.4648 0.5179 0.4629 0.5189 0.4617" stroke="#bd3853" stroke-width="0.00793"/>
<path d="M0.5184 0.4623 0.5198 0.4604 0.5213 0.4585" stroke="#ba3655" stroke-width="0.00806"/>
<path d="M0.5208 0.4592 0.5223 0.4573 0.5237 0.4553 0.5251 0.4534 0.5261 0.4521" stroke="#b73557" stroke-width="0.00806"/>
<path d="M0.5256 0.4528 0.527 0.4508 0.5284 0.4488" stroke="#b43359" stroke-width="0.00819"/>
<path d="M0.5279 0.4495 0.5293 0.4475 0.5306 0.4455 0.5319 0.4435 0.5327 0.4421" stroke="#b3325a" stroke-width="0.00819"/>
<path d="M0.5323 0.4428 0.5336 0.4407 0.5348 0.4387 0.536 0.4366 0.5368 0.4352" stroke="#b0315b" stroke-width="0.00819"/>
<path d="M0.5364 0.4359 0.5375 0.4337 0.5386 0.4316 0.5397 0.4294 0.5403 0.428" stroke="#ad305d" stroke-width="0.00819"/>
<path d="M0.54 0.4287 0.541 0.4265 0.542 0.4243 0.5429 0.4221 0.5436 0.4206" stroke="#a92e5e" stroke-width="0.00806"/>
<path d="M0.5433 0.4213 0.5442 0.4191 0.5451 0.4169" stroke="#a62d60" stroke-width="0.00793"/>
<path d="M0.5448 0.4176 0.5457 0.4154 0.5465 0.4132" stroke="#a52c60" stroke-width="0.0078"/>
<path d="M0.5462 0.4139 0.5471 0.4117 0.5479 0.4094" stroke="#a52c60" stroke-width="0.00767"/>
<path d="M0.5476 0.4102 0.5484 0.4079 0.5492 0.4057" stroke="#a22b62" stroke-width="0.00741"/>
<path d="M0.549 0.4064 0.5498 0.4042 0.5505 0.402" stroke="#9b2964" stroke-width="0.00728"/>
<path d="M0.5503 0.4027 0.551 0.4005 0.5518 0.3982" stroke="#972766" stroke-width="0.00715"/>
<path d="M0.5515 0.399 0.5523 0.3967 0.553 0.3945" stroke="#8d2369" stroke-width="0.00689"/>
<path d="M0.5528 0.3952 0.5535 0.393 0.5542 0.3907" stroke="#81206f" stroke-width="0.00676"/>
<path d="M0.554 0.3915 0.5547 0.3893 0.5555 0.387" stroke="#711a77" stroke-width="0.0065"/>
<path d="M0.5552 0.3878 0.5559 0.3855 0.5566 0.3834" stroke="#5a137f" stroke-width="0.00637"/>
<path d="M0.5564 0.3841 0.557 0.3819 0.5575 0.3797" stroke="#521082" stroke-width="0.00624"/>
<path d="M0.5573 0.3804 0.5578 0.3782 0.5581 0.3759" stroke="#4c0e7f" stroke-width="0.00598"/>
<path d="M0.558 0.3767 0.5583 0.3744 0.5584 0.372" stroke="#480c7b" stroke-width="0.00572"/>
<path d="M0.5584 0.3728 0.5585 0.3704 0.5584 0.3681" stroke="#420a77" stroke-width="0.00546"/>
<path d="M0.5584 0.3689 0.5583 0.3665 0.5579 0.3641" stroke="#3f0a75" stroke-width="0.00507"/>
<path d="M0.5581 0.3649 0.5577 0.3625 0.5571 0.3602" stroke="#3c0972" stroke-width="0.00481"/>
<path d="M0.5573 0.3609 0.5567 0.3586 0.556 0.3563" stroke="#3b0970" stroke-width="0.00455"/>
<path d="M0.5562 0.3571 0.5554 0.3548 0.5544 0.3526" stroke="#38096d" stroke-width="0.00442"/>
<path d="M0.5548 0.3533 0.5537 0.3511 0.5526 0.349" stroke="#38096d" stroke-width="0.00429"/>
<path d="M0.553 0.3497 0.5517 0.3476 0.5504 0.3456" stroke="#340969" stroke-width="0.00416"/>
<path d="M0.5508 0.3463 0.5494 0.3444 0.5478 0.3425 0.5462 0.3408 0.545 0.3397" stroke="#310a65" stroke-width="0.00416"/>
<path d="M0.5456 0.3403 0.5438 0.3387 0.542 0.3372" stroke="#310a65" stroke-width="0.00429"/>
<path d="M0.5426 0.3377 0.5407 0.3362 0.5388 0.3349 0.5367 0.3337 0.5354 0.3329" stroke="#2e0a61" stroke-width="0.00429"/>
<path d="M0.5361 0.3333 0.534 0.3322 0.5318 0.3313" stroke="#310a65" stroke-width="0.00429"/>
<path d="M0.5325 0.3316 0.5303 0.3307 0.5281 0.3299" stroke="#310a65" stroke-width="0.00442"/>
<path d="M0.5289 0.3302 0.5266 0.3295 0.5243 0.3289" stroke="#340969" stroke-width="0.00442"/>
<path d="M0.5251 0.3291 0.5228 0.3286 0.5205 0.3282" stroke="#38096d" stroke-width="0.00455"/>
<path d="M0.5213 0.3283 0.5189 0.328 0.5166 0.3279" stroke="#3c0972" stroke-width="0.00468"/>
<path d="M0.5174 0.3279 0.515 0.3278 0.5126 0.3278" stroke="#420a77" stroke-width="0.00481"/>
<path d="M0.5134 0.3278 0.5111 0.3279 0.5087 0.3281" stroke="#480c7b" stroke-width="0.00494"/>
<path d="M0.5095 0.328 0.5072 0.3283 0.5048 0.3287" stroke="#4c0e7f" stroke-width="0.00507"/>
<path d="M0.5056 0.3286 0.5033 0.3291 0.501 0.3296" stroke="#521082" stroke-width="0.0052"/>
<path d="M0.5018 0.3294 0.4995 0.3301 0.4973 0.3308" stroke="#5a137f" stroke-width="0.00533"/>
<path d="M0.498 0.3306 0.4958 0.3314 0.4937 0.3323" stroke="#61157d" stroke-width="0.00546"/>
<path d="M0.4944 0.332 0.4923 0.333 0.4902 0.334" stroke="#6a187a" stroke-width="0.00559"/>
<path d="M0.4909 0.3337 0.4888 0.3348 0.4868 0.336" stroke="#741c75" stroke-width="0.00572"/>
<path d="M0.4875 0.3356 0.4854 0.3368 0.4833 0.338" stroke="#84216d" stroke-width="0.00585"/>
<path d="M0.484 0.3376 0.4819 0.3388 0.4797 0.3399" stroke="#972766" stroke-width="0.00598"/>
<path d="M0.4804 0.3395 0.4783 0.3406 0.4761 0.3417" stroke="#9f2a63" stroke-width="0.00624"/>
<path d="M0.4768 0.3413 0.4746 0.3423 0.4725 0.3433" stroke="#a52c60" stroke-width="0.00637"/>
<path d="M0.4732 0.343 0.471 0.3439 0.4687 0.3448" stroke="#a92e5e" stroke-width="0.00663"/>
<path d="M0.4695 0.3445 0.4673 0.3454 0.465 0.3462" stroke="#ad305d" stroke-width="0.00676"/>
<path d="M0.4658 0.346 0.4635 0.3468 0.4612 0.3475" stroke="#b0315b" stroke-width="0.00702"/>
<path d="M0.462 0.3473 0.4597 0.348 0.4574 0.3487" stroke="#b0315b" stroke-width="0.00715"/>
<path d="M0.4582 0.3485 0.4559 0.3491 0.4536 0.3497" stroke="#b3325a" stroke-width="0.00741"/>
<path d="M0.4543 0.3495 0.452 0.3501 0.4497 0.3506 0.4493 0.3507" stroke="#b3325a" stroke-width="0.00754"/>
<path d="M0.4501 0.3506 0.4477 0.3511 0.4454 0.3516" stroke="#b43359" stroke-width="0.00767"/>
<path d="M0.4462 0.3514 0.4438 0.3519 0.4415 0.3523" stroke="#b43359" stroke-width="0.0078"/>
<path d="M0.4423 0.3522 0.4399 0.3526 0.4376 0.3531" stroke="#b43359" stroke-width="0.00793"/>
<path d="M0.4384 0.3529 0.436 0.3534 0.4337 0.3538 0.4314 0.3543 0.4298 0.3546" stroke="#b73557" stroke-width="0.00806"/>
<path d="M0.4306 0.3544 0.4282 0.3548 0.4259 0.3553 0.4235 0.3557 0.422 0.3559" stroke="#ba3655" stroke-width="0.00819"/>
<path d="M0.4227 0.3558 0.4204 0.3562 0.418 0.3565 0.4157 0.3568 0.4141 0.3571" stroke="#bd3853" stroke-width="0.00832"/>
<path d="M0.4149 0.357 0.4125 0.3573 0.4101 0.3575 0.4078 0.3578 0.4062 0.3579" stroke="#c03a51" stroke-width="0.00845"/>
<path d="M0.407 0.3578 0.4046 0.358 0.4022 0.3582 0.3998 0.3584 0.3975 0.3585 0.3951 0.3585 0.3927 0.3586 0.3903 0.3586" stroke="#c13a50" stroke-width="0.00858"/>
<path d="M0.3911 0.3586 0.3887 0.3586 0.3863 0.3585 0.3839 0.3584 0.3815 0.3583 0.3792 0.3582 0.3768 0.3581 0.3744 0.3579 0.372 0.3577 0.3696 0.3575 0.3672 0.3573 0.3649 0.357 0.3625 0.3568" stroke="#c43c4e" stroke-width="0.00858"/>
<path d="M0.3633 0.3569 0.3609 0.3566 0.3585 0.3563 0.3562 0.356 0.3538 0.3556 0.3514 0.3553 0.3491 0.3549 0.3467 0.3545 0.3444 0.3541 0.342 0.3537 0.3397 0.3532 0.3373 0.3527 0.335 0.3522 0.3327 0.3516 0.3312 0.3513" stroke="#c73e4c" stroke-width="0.00858"/>
<path d="M0.3319 0.3514 0.3296 0.3509 0.3273 0.3503 0.325 0.3496 0.3235 0.3492" stroke="#ca404a" stroke-width="0.00845"/>
<path d="M0.3242 0.3494 0.322 0.3487 0.3197 0.348 0.3174 0.3473 0.3151 0.3466 0.3129 0.3458 0.3121 0.3455" stroke="#ca404a" stroke-width="0.00832"/>
<path d="M0.3129 0.3458 0.3106 0.345 0.3084 0.3442" stroke="#ca404a" stroke-width="0.00819"/>
<path d="M0.3092 0.3444 0.3069 0.3436 0.3047 0.3427 0.3025 0.3418 0.3003 0.3409 0.2981 0.3399 0.2959 0.339 0.2938 0.338 0.2916 0.337 0.2894 0.336 0.2873 0.335 0.2851 0.3339 0.2829 0.3329 0.2808 0.3318 0.2787 0.3308 0.2765 0.3297 0.2744 0.3286 0.2722 0.3275 0.2701 0.3264 0.268 0.3253 0.2659 0.3242 0.2638 0.323 0.2617 0.3219 0.2596 0.3207 0.2576 0.3194 0.2555 0.3181 0.2535 0.3169 0.2515 0.3156 0.2495 0.3142 0.2475 0.3129 0.2455 0.3116 0.2448 0.3111" stroke="#cc4248" stroke-width="0.00819"/>
<path d="M0.2455 0.3116 0.2435 0.3102 0.2416 0.3088 0.2396 0.3074 0.2383 0.3065" stroke="#ca404a" stroke-width="0.00819"/>
<path d="M0.239 0.3069 0.2371 0.3055 0.2352 0.3041 0.2333 0.3026 0.232 0.3016" stroke="#ca404a" stroke-width="0.00832"/>
<path d="M0.2326 0.3021 0.2308 0.3006 0.229 0.2991 0.2272 0.2976 0.2255 0.296 0.2238 0.2943 0.2221 0.2927 0.2204 0.291 0.2188 0.2893 0.2178 0.2881" stroke="#c73e4c" stroke-width="0.00832"/>
<path d="M0.2183 0.2887 0.2168 0.2869 0.2152 0.2851 0.2138 0.2833 0.2123 0.2815 0.2109 0.2796 0.2095 0.2777 0.2081 0.2758 0.2068 0.2739 0.2056 0.2719 0.2043 0.27 0.2031 0.268 0.2019 0.2659" stroke="#c43c4e" stroke-width="0.00845"/>
<path d="M0.2023 0.2666 0.2011 0.2646 0.1999 0.2625 0.1987 0.2605 0.1974 0.2584 0.1962 0.2564 0.195 0.2543 0.1939 0.2523 0.1927 0.2502 0.1915 0.2481 0.1904 0.2461 0.1892 0.244 0.1881 0.2419 0.1869 0.2398 0.1862 0.2384" stroke="#c43c4e" stroke-width="0.00858"/>
<path d="M0.1865 0.2391 0.1854 0.237 0.1843 0.2349 0.1831 0.2328 0.182 0.2307 0.1809 0.2286 0.1798 0.2265 0.1788 0.2244" stroke="#c43c4e" stroke-width="0.00871"/>
<path d="M0.1791 0.2251 0.1781 0.2229 0.177 0.2208 0.176 0.2186 0.1754 0.2172" stroke="#c43c4e" stroke-width="0.00858"/>
<path d="M0.1757 0.2179 0.1747 0.2157 0.1738 0.2135 0.1728 0.2113 0.1719 0.2091 0.171 0.2069 0.1702 0.2047 0.1693 0.2024" stroke="#c13a50" stroke-width="0.00858"/>
<path d="M0.1696 0.2032 0.1688 0.2009 0.1679 0.1987 0.1671 0.1964 0.1664 0.1941 0.1656 0.1919 0.1649 0.1896 0.1642 0.1873" stroke="#c03a51" stroke-width="0.00858"/>
<path d="M0.1644 0.188 0.1637 0.1858 0.163 0.1835 0.1624 0.1811 0.1618 0.1788 0.1611 0.1765 0.1609 0.1758" stroke="#bd3853" stroke-width="0.00858"/>
<path d="M0.1611 0.1765 0.1605 0.1742 0.1599 0.1719 0.1593 0.1696 0.1589 0.168" stroke="#ba3655" stroke-width="0.00845"/>
<path d="M0.1591 0.1688 0.1585 0.1665 0.1579 0.1642 0.1574 0.1618 0.157 0.1603" stroke="#b73557" stroke-width="0.00845"/>
<path d="M0.1572 0.1611 0.1566 0.1587 0.156 0.1564" stroke="#b43359" stroke-width="0.00845"/>
<path d="M0.1562 0.1572 0.1557 0.1549 0.1551 0.1525" stroke="#b43359" stroke-width="0.00832"/>
<path d="M0.1553 0.1533 0.1548 0.151 0.1543 0.1486 0.1538 0.1463 0.1535 0.1447" stroke="#b3325a" stroke-width="0.00832"/>
<path d="M0.1536 0.1455 0.1531 0.1431 0.1527 0.1408" stroke="#b0315b" stroke-width="0.00819"/>
<path d="M0.1528 0.1416 0.1524 0.1392 0.1519 0.1369" stroke="#ad305d" stroke-width="0.00819"/>
<path d="M0.1521 0.1377 0.1517 0.1353 0.1512 0.1329" stroke="#a92e5e" stroke-width="0.00819"/>
<path d="M0.1514 0.1337 0.1509 0.1314 0.1505 0.129" stroke="#a92e5e" stroke-width="0.00806"/>
<path d="M0.1507 0.1298 0.1503 0.1274 0.1499 0.1251" stroke="#a62d60" stroke-width="0.00806"/>
<path d="M0.15 0.1258 0.1496 0.1235 0.1493 0.1211" stroke="#a52c60" stroke-width="0.00793"/>
<path d="M0.1494 0.1219 0.1491 0.1195 0.1487 0.1171" stroke="#a22b62" stroke-width="0.00793"/>
<path d="M0.1488 0.1179 0.1485 0.1156 0.1482 0.1132" stroke="#9f2a63" stroke-width="0.0078"/>
<path d="M0.1483 0.114 0.148 0.1116 0.1477 0.1092" stroke="#982766" stroke-width="0.00767"/>
<path d="M0.1478 0.11 0.1476 0.1076 0.1473 0.1052" stroke="#932667" stroke-width="0.00754"/>
<path d="M0.1474 0.106 0.1472 0.1036 0.147 0.1012" stroke="#8d2369" stroke-width="0.00741"/>
<path d="M0.147 0.102 0.1468 0.0996 0.1467 0.0973" stroke="#88226c" stroke-width="0.00728"/>
<path d="M0.1467 0.0981 0.1466 0.0957 0.1464 0.0933" stroke="#81206f" stroke-width="0.00702"/>
<path d="M0.1465 0.0941 0.1464 0.0917 0.1463 0.0893" stroke="#7a1d73" stroke-width="0.00689"/>
<path d="M0.1463 0.0901 0.1463 0.0877 0.1462 0.0853" stroke="#711a77" stroke-width="0.00663"/>
<path d="M0.1462 0.0861 0.1462 0.0837 0.1461 0.0813" stroke="#6a187a" stroke-width="0.0065"/>
<path d="M0.1461 0.0821 0.1461 0.0797 0.146 0.0773" stroke="#61157d" stroke-width="0.00624"/>
<path d="M0.146 0.0781 0.1459 0.0757 0.1457 0.0733" stroke="#5a137f" stroke-width="0.00598"/>
<path d="M0.1458 0.0741 0.1456 0.0717 0.1455 0.0693" stroke="#521082" stroke-width="0.00585"/>
<path d="M0.1455 0.0701 0.1453 0.0677 0.1451 0.0653" stroke="#4c0e7f" stroke-width="0.00559"/>
<path d="M0.1452 0.0661 0.145 0.0637 0.1448 0.0613" stroke="#480c7b" stroke-width="0.00546"/>
<path d="M0.1449 0.0621 0.1446 0.0597 0.1444 0.0574" stroke="#450b79" stroke-width="0.0052"/>
<path d="M0.1445 0.0581 0.1442 0.0558 0.1438 0.0534" stroke="#3f0a75" stroke-width="0.00507"/>
<path d="M0.1439 0.0542 0.1434 0.0519 0.1427 0.0496" stroke="#3c0972" stroke-width="0.00494"/>
<path d="M0.143 0.0504 0.1422 0.0481 0.1414 0.0459" stroke="#38096d" stroke-width="0.00468"/>
<path d="M0.1417 0.0467 0.1407 0.0445 0.1396 0.0424" stroke="#340969" stroke-width="0.00455"/>
<path d="M0.14 0.0431 0.1389 0.0411 0.1376 0.0391" stroke="#310a65" stroke-width="0.00442"/>
<path d="M0.138 0.0397 0.1367 0.0378 0.1353 0.0359" stroke="#2c0b5e" stroke-width="0.00429"/>
<path d="M0.1358 0.0366 0.1344 0.0348 0.1328 0.033" stroke="#290b59" stroke-width="0.00416"/>
<path d="M0.1333 0.0336 0.1318 0.0319 0.1301 0.0303" stroke="#240c51" stroke-width="0.0039"/>
<path d="M0.1307 0.0308 0.1289 0.0293 0.1272 0.0278" stroke="#1f0c48" stroke-width="0.00377"/>
<path d="M0.1278 0.0283 0.1259 0.0269 0.124 0.0256" stroke="#1b0c41" stroke-width="0.00364"/>
<path d="M0.1247 0.026 0.1227 0.0248 0.1207 0.0237" stroke="#160b39" stroke-width="0.00351"/>
<path d="M0.1214 0.0241 0.1194 0.023 0.1173 0.0221" stroke="#120a32" stroke-width="0.00338"/>
<path d="M0.118 0.0224 0.1158 0.0215 0.1137 0.0208" stroke="#120a32" stroke-width="0.00325"/>
<path d="M0.1144 0.021 0.1122 0.0203 0.11 0.0198" stroke="#10092d" stroke-width="0.00312"/>
<path d="M0.1107 0.02 0.1085 0.0194 0.1062 0.0189" stroke="#10092d" stroke-width="0.00299"/>
<path d="M0.107 0.0191 0.1047 0.0186 0.1024 0.0183" stroke="#10092d" stroke-width="0.00286"/>
<path d="M0.1031 0.0184 0.1008 0.0182 0.0984 0.0182 0.0961 0.0183 0.0945 0.0185" stroke="#10092d" stroke-width="0.00273"/>
<path d="M0.0953 0.0184 0.0929 0.0187 0.0906 0.0191" stroke="#120a32" stroke-width="0.00286"/>
<path d="M0.0914 0.019 0.0891 0.0195 0.0868 0.0202 0.0864 0.0203" stroke="#120a32" stroke-width="0.00299"/>
<path d="M0.0872 0.0201 0.0849 0.0209 0.0828 0.0218" stroke="#180c3c" stroke-width="0.0029"/>
<path d="M0.0835 0.0214 0.0813 0.0224 0.0792 0.0236" stroke="#210c4b" stroke-width="0.00313"/>
<path d="M0.0799 0.0232 0.0779 0.0244 0.0759 0.0257" stroke="#260c54" stroke-width="0.00336"/>
<path d="M0.0765 0.0253 0.0746 0.0267 0.0728 0.0282" stroke="#2b0b5c" stroke-width="0.0036"/>
<path d="M0.0734 0.0277 0.0716 0.0292 0.0699 0.0309" stroke="#310a65" stroke-width="0.00371"/>
<path d="M0.0704 0.0304 0.0688 0.0321 0.0672 0.0339" stroke="#340969" stroke-width="0.00394"/>
<path d="M0.0677 0.0333 0.0662 0.0351 0.0648 0.0371" stroke="#3b0970" stroke-width="0.00418"/>
<path d="M0.0653 0.0364 0.0639 0.0384 0.0627 0.0404" stroke="#410a76" stroke-width="0.00441"/>
<path d="M0.0631 0.0397 0.0619 0.0418 0.0608 0.0439" stroke="#470c7b" stroke-width="0.00452"/>
<path d="M0.0612 0.0432 0.0601 0.0453 0.0592 0.0475" stroke="#4c0e7f" stroke-width="0.00476"/>
<path d="M0.0595 0.0468 0.0586 0.049 0.0577 0.0512" stroke="#541081" stroke-width="0.00499"/>
<path d="M0.058 0.0505 0.0571 0.0527 0.0562 0.0549" stroke="#5e147e" stroke-width="0.00522"/>
<path d="M0.0565 0.0542 0.0556 0.0564 0.0547 0.0587" stroke="#68187b" stroke-width="0.00545"/>
<path d="M0.055 0.0579 0.0541 0.0601 0.0532 0.0624" stroke="#721b76" stroke-width="0.00568"/>
<path d="M0.0535 0.0616 0.0527 0.0639 0.0518 0.0661" stroke="#7d1e71" stroke-width="0.00592"/>
<path d="M0.0521 0.0654 0.0512 0.0676 0.0504 0.0699" stroke="#84216d" stroke-width="0.00615"/>
<path d="M0.0507 0.0691 0.0498 0.0714 0.049 0.0736" stroke="#8f2469" stroke-width="0.00626"/>
<path d="M0.0493 0.0729 0.0485 0.0751 0.0477 0.0774" stroke="#982766" stroke-width="0.0065"/>
<path d="M0.0479 0.0766 0.0471 0.0789 0.0463 0.0812" stroke="#a02a63" stroke-width="0.00661"/>
<path d="M0.0466 0.0804 0.0458 0.0827 0.045 0.0849" stroke="#a62d60" stroke-width="0.00673"/>
<path d="M0.0453 0.0842 0.0445 0.0864 0.0437 0.0887" stroke="#ad305d" stroke-width="0.00684"/>
<path d="M0.0439 0.0879 0.0432 0.0902 0.0424 0.0925" stroke="#b0315b" stroke-width="0.00696"/>
<path d="M0.0426 0.0917 0.0418 0.094 0.0411 0.0962" stroke="#b3325a" stroke-width="0.00696"/>
<path d="M0.0413 0.0955 0.0405 0.0977 0.0398 0.1" stroke="#b63458" stroke-width="0.00708"/>
<path d="M0.04 0.0993 0.0393 0.1015 0.0385 0.1038" stroke="#b93556" stroke-width="0.00708"/>
<path d="M0.0387 0.103 0.038 0.1053 0.0373 0.1076" stroke="#bc3754" stroke-width="0.00719"/>
<path d="M0.0375 0.1068 0.0368 0.1091 0.0361 0.1114" stroke="#bf3952" stroke-width="0.00719"/>
<path d="M0.0364 0.1107 0.0357 0.113 0.035 0.1153" stroke="#c13a50" stroke-width="0.00719"/>
<path d="M0.0353 0.1145 0.0346 0.1168 0.034 0.1191 0.0334 0.1214 0.033 0.123" stroke="#c43c4e" stroke-width="0.00731"/>
<path d="M0.0332 0.1222 0.0326 0.1245 0.032 0.1269" stroke="#c73e4c" stroke-width="0.00731"/>
<path d="M0.0322 0.1261 0.0316 0.1284 0.0311 0.1307" stroke="#ca404a" stroke-width="0.00731"/>
<path d="M0.0313 0.13 0.0307 0.1323 0.0302 0.1346" stroke="#ca404a" stroke-width="0.00742"/>
<path d="M0.0304 0.1339 0.0298 0.1362 0.0293 0.1385 0.0288 0.1409 0.0284 0.1424" stroke="#cc4248" stroke-width="0.00742"/>
<path d="M0.0286 0.1416 0.028 0.144 0.0275 0.1463" stroke="#cf4446" stroke-width="0.00742"/>
<path d="M0.0277 0.1455 0.0272 0.1479 0.0267 0.1502 0.0261 0.1526 0.0258 0.1541" stroke="#d24644" stroke-width="0.00754"/>
<path d="M0.026 0.1533 0.0254 0.1557 0.0249 0.158 0.0245 0.1604 0.0241 0.162" stroke="#d44842" stroke-width="0.00754"/>
<path d="M0.0243 0.1612 0.0238 0.1635 0.0234 0.1659" stroke="#d74b3f" stroke-width="0.00754"/>
<path d="M0.0235 0.1651 0.0231 0.1675 0.0226 0.1698" stroke="#d74b3f" stroke-width="0.00766"/>
<path d="M0.0228 0.169 0.0224 0.1714 0.022 0.1738" stroke="#d94d3d" stroke-width="0.00766"/>
<path d="M0.0221 0.173 0.0217 0.1754 0.0213 0.1778 0.021 0.1801 0.0207 0.1825 0.0203 0.1849 0.0202 0.1857" stroke="#dd513a" stroke-width="0.00766"/>
<path d="M0.0203 0.1849 0.02 0.1873 0.0198 0.1897" stroke="#df5337" stroke-width="0.00766"/>
<path d="M0.0199 0.1889 0.0196 0.1913 0.0193 0.1937" stroke="#df5337" stroke-width="0.00777"/>
<path d="M0.0194 0.1929 0.0191 0.1953 0.0189 0.1977 0.0187 0.2 0.0185 0.2016" stroke="#e15635" stroke-width="0.00777"/>
<path d="M0.0186 0.2008 0.0183 0.2032 0.0181 0.2056 0.0179 0.208 0.0178 0.2096" stroke="#e35933" stroke-width="0.00777"/>
<path d="M0.0179 0.2088 0.0177 0.2112 0.0175 0.2136 0.0174 0.216 0.0173 0.2176" stroke="#e35933" stroke-width="0.00789"/>
<path d="M0.0174 0.2168 0.0173 0.2192 0.0172 0.2216 0.0171 0.224 0.017 0.2256" stroke="#e55c30" stroke-width="0.00789"/>
<path d="M0.017 0.2248 0.0169 0.2272 0.0168 0.2296" stroke="#e55c30" stroke-width="0.008"/>
<path d="M0.0168 0.2288 0.0167 0.2312 0.0166 0.2335 0.0165 0.2359 0.0164 0.2375" stroke="#e75e2e" stroke-width="0.008"/>
<path d="M0.0165 0.2367 0.0164 0.2391 0.0163 0.2415 0.0162 0.2439 0.0161 0.2455" stroke="#e75e2e" stroke-width="0.00812"/>
<path d="M0.0162 0.2447 0.0161 0.2471 0.016 0.2495" stroke="#e9612b" stroke-width="0.00812"/>
<path d="M0.016 0.2487 0.016 0.2511 0.0159 0.2535 0.0159 0.2559 0.0158 0.2583 0.0158 0.2607 0.0157 0.2631 0.0157 0.2655 0.0157 0.2679 0.0157 0.2703 0.0157 0.2727 0.0157 0.2751 0.0157 0.2775 0.0157 0.2798 0.0157 0.2814" stroke="#e9612b" stroke-width="0.00824"/>
<path d="M0.0157 0.2806 0.0157 0.283 0.0158 0.2854 0.0158 0.2878 0.0158 0.2894" stroke="#e9612b" stroke-width="0.00812"/>
<path d="M0.0158 0.2886 0.0158 0.291 0.0159 0.2934 0.0161 0.2958 0.0162 0.2974" stroke="#e75e2e" stroke-width="0.008"/>
<path d="M0.0162 0.2966 0.0164 0.299 0.0168 0.3014" stroke="#e75e2e" stroke-width="0.00789"/>
<path d="M0.0167 0.3006 0.0171 0.303 0.0176 0.3053" stroke="#e55c30" stroke-width="0.00777"/>
<path d="M0.0174 0.3045 0.0179 0.3069 0.0186 0.3092 0.0193 0.3115 0.0199 0.313" stroke="#e55c30" stroke-width="0.00766"/>
<path d="M0.0196 0.3122 0.0204 0.3145 0.0214 0.3167" stroke="#e55c30" stroke-width="0.00754"/>
<path d="M0.0211 0.3159 0.0221 0.3181 0.0231 0.3202" stroke="#e35933" stroke-width="0.00754"/>
<path d="M0.0228 0.3195 0.0239 0.3216 0.0251 0.3236 0.0264 0.3256 0.0277 0.3276 0.029 0.3296 0.0303 0.3316 0.0316 0.3336 0.0329 0.3355 0.0338 0.3369" stroke="#e35933" stroke-width="0.00742"/>
<path d="M0.0333 0.3362 0.0347 0.3382 0.036 0.3402 0.0373 0.3422 0.0381 0.3436" stroke="#e55c30" stroke-width="0.00754"/>
<path d="M0.0377 0.3429 0.039 0.3449 0.0403 0.3469" stroke="#e55c30" stroke-width="0.00766"/>
<path d="M0.0399 0.3462 0.0412 0.3483 0.0425 0.3503" stroke="#e75e2e" stroke-width="0.00766"/>
<path d="M0.042 0.3496 0.0433 0.3516 0.0446 0.3536 0.046 0.3557 0.0468 0.357" stroke="#e9612b" stroke-width="0.00777"/>
<path d="M0.0464 0.3563 0.0477 0.3584 0.049 0.3604" stroke="#eb6429" stroke-width="0.00789"/>
<path d="M0.0486 0.3597 0.0499 0.3617 0.0512 0.3638" stroke="#eb6429" stroke-width="0.008"/>
<path d="M0.0507 0.3631 0.052 0.3651 0.0534 0.3671" stroke="#ec6726" stroke-width="0.008"/>
<path d="M0.0529 0.3665 0.0542 0.3685 0.0556 0.3705 0.0569 0.3725 0.0578 0.3738" stroke="#ec6726" stroke-width="0.00812"/>
<path d="M0.0573 0.3732 0.0587 0.3752 0.0601 0.3772 0.0615 0.3791 0.0629 0.3811 0.0643 0.383 0.0648 0.3837" stroke="#ee6a24" stroke-width="0.00812"/>
<path d="M0.0643 0.383 0.0658 0.3849 0.0673 0.3868 0.0688 0.3887 0.0703 0.3906 0.0718 0.3925 0.0723 0.3931" stroke="#ee6a24" stroke-width="0.008"/>
<path d="M0.0718 0.3925 0.0733 0.3944 0.0749 0.3962 0.0764 0.3981 0.0775 0.3993" stroke="#ee6a24" stroke-width="0.00789"/>
<path d="M0.0769 0.3987 0.0785 0.4005 0.0801 0.4023 0.0817 0.4041 0.0828 0.4053" stroke="#ee6a24" stroke-width="0.00777"/>
<path d="M0.0822 0.4047 0.0838 0.4065 0.0855 0.4083 0.0871 0.41 0.0887 0.4118 0.0904 0.4135 0.0909 0.4141" stroke="#ee6a24" stroke-width="0.00766"/>
<path d="M0.0904 0.4135 0.092 0.4153 0.0937 0.417 0.0953 0.4187 0.097 0.4204 0.0987 0.4221 0.0993 0.4227" stroke="#ee6a24" stroke-width="0.00754"/>
<path d="M0.0987 0.4221 0.1004 0.4238 0.1021 0.4255 0.1038 0.4272 0.1055 0.4289 0.1072 0.4305 0.109 0.4322 0.1107 0.4338" stroke="#ee6a24" stroke-width="0.00766"/>
<path d="M0.1101 0.4333 0.1119 0.4349 0.1136 0.4365 0.1153 0.4381 0.1171 0.4398 0.1188 0.4414 0.1194 0.4419" stroke="#ee6a24" stroke-width="0.00777"/>
<path d="M0.1188 0.4414 0.1206 0.443 0.1224 0.4446 0.1241 0.4462 0.1259 0.4478 0.1277 0.4494 0.1295 0.451 0.1313 0.4525 0.1332 0.4541 0.135 0.4556 0.1369 0.4571 0.1387 0.4586 0.1406 0.4601 0.1425 0.4615 0.1444 0.463 0.1463 0.4644 0.1483 0.4658 0.1502 0.4672 0.1522 0.4686 0.1541 0.47 0.1561 0.4713 0.1581 0.4727 0.16 0.4741 0.162 0.4754 0.164 0.4767 0.166 0.478 0.168 0.4793 0.17 0.4806 0.1721 0.4819 0.1741 0.4832 0.1761 0.4844 0.1782 0.4857 0.1802 0.4869 0.1823 0.4881 0.1843 0.4893 0.1864 0.4905 0.1871 0.4909" stroke="#ee6a24" stroke-width="0.00789"/>
<path d="M0.1864 0.4905 0.1885 0.4917 0.1906 0.4929 0.1927 0.494 0.1947 0.4952 0.1968 0.4963 0.1989 0.4975 0.2011 0.4986 0.2032 0.4997 0.2053 0.5008 0.2074 0.5019 0.2084 0.5025" stroke="#ee6a24" stroke-width="0.00777"/>
<path d="M0.2077 0.5021 0.2098 0.5032 0.212 0.5043 0.2141 0.5054 0.2162 0.5065 0.2183 0.5076 0.2205 0.5086 0.2226 0.5097 0.2248 0.5107 0.2269 0.5117 0.2291 0.5126 0.2313 0.5136 0.2335 0.5146 0.2356 0.5155 0.2378 0.5164 0.24 0.5173 0.2423 0.5181 0.2445 0.519 0.2467 0.5198 0.2489 0.5206 0.2512 0.5214 0.2534 0.5222 0.2557 0.523 0.2579 0.5238 0.2595 0.5243" stroke="#ee6a24" stroke-width="0.00766"/>
<path d="M0.2587 0.524 0.261 0.5248 0.2632 0.5255 0.2655 0.5263 0.2678 0.527 0.2701 0.5277 0.2724 0.5284 0.2747 0.5291 0.277 0.5298 0.2793 0.5304 0.2816 0.5311 0.2839 0.5317 0.2862 0.5323 0.2886 0.5329 0.2909 0.5334 0.2932 0.534 0.2956 0.5345 0.2979 0.535 0.3003 0.5355 0.3018 0.5358" stroke="#ee6a24" stroke-width="0.00777"/>
<path d="M0.3011 0.5356 0.3034 0.5361 0.3058 0.5365 0.3081 0.5369 0.3105 0.5373 0.3129 0.5376 0.3152 0.538 0.3176 0.5383 0.32 0.5386 0.3224 0.5388 0.3247 0.5391 0.3271 0.5393 0.3295 0.5396 0.3319 0.5398 0.3335 0.5399" stroke="#ec6726" stroke-width="0.00789"/>
<path d="M0.3327 0.5399 0.3351 0.5401 0.3374 0.5403" stroke="#eb6429" stroke-width="0.00789"/>
<path d="M0.3366 0.5402 0.339 0.5404 0.3414 0.5406 0.3438 0.5408 0.3462 0.5409 0.3486 0.5411 0.3509 0.5412 0.3533 0.5413 0.3557 0.5414 0.3581 0.5415 0.3605 0.5416 0.3613 0.5416" stroke="#eb6429" stroke-width="0.008"/>
<path d="M0.3605 0.5416 0.3629 0.5416 0.3653 0.5417 0.3677 0.5417 0.3701 0.5417 0.3725 0.5417 0.3749 0.5417 0.3773 0.5417 0.3797 0.5417 0.3813 0.5417" stroke="#e9612b" stroke-width="0.008"/>
<path d="M0.3805 0.5417 0.3828 0.5417 0.3851 0.5416" stroke="#e75e2e" stroke-width="0.008"/>
<path d="M0.3844 0.5416 0.3867 0.5415 0.389 0.5414 0.3913 0.5412 0.3937 0.5409 0.396 0.5405 0.3984 0.5402 0.4008 0.5397" stroke="#e75e2e" stroke-width="0.00789"/>
<path d="M0.4 0.5399 0.4024 0.5394 0.4047 0.5389 0.407 0.5384 0.4086 0.538" stroke="#e55c30" stroke-width="0.00789"/>
<path d="M0.4078 0.5382 0.4101 0.5376 0.4125 0.5369 0.4147 0.5361 0.417 0.5353 0.4193 0.5345 0.4215 0.5336 0.4238 0.5327 0.426 0.5317 0.4282 0.5308 0.4304 0.5298 0.4326 0.5287 0.4347 0.5277" stroke="#e55c30" stroke-width="0.00777"/>
<path d="M0.434 0.528 0.4362 0.527 0.4384 0.5259" stroke="#e55c30" stroke-width="0.00766"/>
<path d="M0.4376 0.5263 0.4398 0.5252 0.4419 0.5241 0.4441 0.523 0.4462 0.5219 0.4483 0.5207 0.4504 0.5195 0.4525 0.5183 0.4546 0.5171 0.456 0.5163" stroke="#e35933" stroke-width="0.00766"/>
<path d="M0.4553 0.5167 0.4574 0.5155 0.4594 0.5142 0.4614 0.5129 0.4635 0.5116 0.4655 0.5103 0.4675 0.509 0.4695 0.5076" stroke="#e35933" stroke-width="0.00754"/>
<path d="M0.4688 0.5081 0.4708 0.5067 0.4727 0.5053 0.4747 0.5039 0.476 0.503" stroke="#e15635" stroke-width="0.00742"/>
<path d="M0.4753 0.5035 0.4773 0.502 0.4792 0.5006" stroke="#e15635" stroke-width="0.00731"/>
<path d="M0.4785 0.5011 0.4804 0.4996 0.4823 0.4981" stroke="#df5337" stroke-width="0.00731"/>
<path d="M0.4817 0.4986 0.4836 0.4971 0.4854 0.4956" stroke="#df5337" stroke-width="0.00719"/>
<path d="M0.4848 0.4961 0.4866 0.4946 0.4885 0.4931" stroke="#dd513a" stroke-width="0.00719"/>
<path d="M0.4879 0.4936 0.4897 0.492 0.4915 0.4905 0.4933 0.4889 0.4944 0.4878" stroke="#dd513a" stroke-width="0.00708"/>
<path d="M0.4938 0.4883 0.4956 0.4867 0.4973 0.4851 0.4991 0.4834 0.5002 0.4823" stroke="#d94d3d" stroke-width="0.00696"/>
<path d="M0.4996 0.4829 0.5013 0.4812 0.503 0.4795 0.5047 0.4778 0.5058 0.4766" stroke="#d74b3f" stroke-width="0.00696"/>
<path d="M0.5052 0.4772 0.5069 0.4755 0.5085 0.4737 0.5101 0.472 0.5112 0.4708" stroke="#d44842" stroke-width="0.00696"/>
<path d="M0.5106 0.4714 0.5122 0.4696 0.5138 0.4678" stroke="#d24644" stroke-width="0.00708"/>
<path d="M0.5133 0.4684 0.5148 0.4666 0.5163 0.4648 0.5179 0.4629 0.5189 0.4617" stroke="#cf4446" stroke-width="0.00708"/>
<path d="M0.5184 0.4623 0.5198 0.4604 0.5213 0.4585" stroke="#cc4248" stroke-width="0.00719"/>
<path d="M0.5208 0.4592 0.5223 0.4573 0.5237 0.4553 0.5251 0.4534 0.5261 0.4521" stroke="#ca404a" stroke-width="0.00719"/>
<path d="M0.5256 0.4528 0.527 0.4508 0.5284 0.4488" stroke="#c73e4c" stroke-width="0.00731"/>
<path d="M0.5279 0.4495 0.5293 0.4475 0.5306 0.4455 0.5319 0.4435 0.5327 0.4421" stroke="#c43c4e" stroke-width="0.00731"/>
<path d="M0.5323 0.4428 0.5336 0.4407 0.5348 0.4387 0.536 0.4366 0.5368 0.4352" stroke="#c13a50" stroke-width="0.00731"/>
<path d="M0.5364 0.4359 0.5375 0.4337 0.5386 0.4316 0.5397 0.4294 0.5403 0.428" stroke="#bf3952" stroke-width="0.00731"/>
<path d="M0.54 0.4287 0.541 0.4265 0.542 0.4243 0.5429 0.4221 0.5436 0.4206" stroke="#bc3754" stroke-width="0.00719"/>
<path d="M0.5433 0.4213 0.5442 0.4191 0.5451 0.4169" stroke="#b93556" stroke-width="0.00708"/>
<path d="M0.5448 0.4176 0.5457 0.4154 0.5465 0.4132" stroke="#b63458" stroke-width="0.00696"/>
<path d="M0.5462 0.4139 0.5471 0.4117 0.5479 0.4094" stroke="#b63458" stroke-width="0.00684"/>
<path d="M0.5476 0.4102 0.5484 0.4079 0.5492 0.4057" stroke="#b3325a" stroke-width="0.00661"/>
<path d="M0.549 0.4064 0.5498 0.4042 0.5505 0.402" stroke="#ad305d" stroke-width="0.0065"/>
<path d="M0.5503 0.4027 0.551 0.4005 0.5518 0.3982" stroke="#a62d60" stroke-width="0.00638"/>
<path d="M0.5515 0.399 0.5523 0.3967 0.553 0.3945" stroke="#9d2964" stroke-width="0.00615"/>
<path d="M0.5528 0.3952 0.5535 0.393 0.5542 0.3907" stroke="#8f2469" stroke-width="0.00603"/>
<path d="M0.554 0.3915 0.5547 0.3893 0.5555 0.387" stroke="#7d1e71" stroke-width="0.0058"/>
<path d="M0.5552 0.3878 0.5559 0.3855 0.5566 0.3834" stroke="#64167c" stroke-width="0.00568"/>
<path d="M0.5564 0.3841 0.557 0.3819 0.5575 0.3797" stroke="#5a1380" stroke-width="0.00557"/>
<path d="M0.5573 0.3804 0.5578 0.3782 0.5581 0.3759" stroke="#541081" stroke-width="0.00534"/>
<path d="M0.558 0.3767 0.5583 0.3744 0.5584 0.372" stroke="#4c0e7f" stroke-width="0.0051"/>
<path d="M0.5584 0.3728 0.5585 0.3704 0.5584 0.3681" stroke="#470c7b" stroke-width="0.00487"/>
<path d="M0.5584 0.3689 0.5583 0.3665 0.5579 0.3641" stroke="#440b78" stroke-width="0.00452"/>
<path d="M0.5581 0.3649 0.5577 0.3625 0.5571 0.3602" stroke="#410a76" stroke-width="0.00429"/>
<path d="M0.5573 0.3609 0.5567 0.3586 0.556 0.3563" stroke="#3e0a73" stroke-width="0.00406"/>
<path d="M0.5562 0.3571 0.5554 0.3548 0.5544 0.3526" stroke="#3b0970" stroke-width="0.00394"/>
<path d="M0.5548 0.3533 0.5537 0.3511 0.5526 0.349" stroke="#3b0970" stroke-width="0.00383"/>
<path d="M0.553 0.3497 0.5517 0.3476 0.5504 0.3456" stroke="#38096d" stroke-width="0.00371"/>
<path d="M0.5508 0.3463 0.5494 0.3444 0.5478 0.3425 0.5462 0.3408 0.545 0.3397" stroke="#340969" stroke-width="0.00371"/>
<path d="M0.5456 0.3403 0.5438 0.3387 0.542 0.3372" stroke="#340969" stroke-width="0.00383"/>
<path d="M0.5426 0.3377 0.5407 0.3362 0.5388 0.3349 0.5367 0.3337 0.5354 0.3329" stroke="#310a65" stroke-width="0.00383"/>
<path d="M0.5361 0.3333 0.534 0.3322 0.5318 0.3313" stroke="#340969" stroke-width="0.00383"/>
<path d="M0.5325 0.3316 0.5303 0.3307 0.5281 0.3299" stroke="#340969" stroke-width="0.00394"/>
<path d="M0.5289 0.3302 0.5266 0.3295 0.5243 0.3289" stroke="#38096d" stroke-width="0.00394"/>
<path d="M0.5251 0.3291 0.5228 0.3286 0.5205 0.3282" stroke="#3b0970" stroke-width="0.00406"/>
<path d="M0.5213 0.3283 0.5189 0.328 0.5166 0.3279" stroke="#410a76" stroke-width="0.00418"/>
<path d="M0.5174 0.3279 0.515 0.3278 0.5126 0.3278" stroke="#470c7b" stroke-width="0.00429"/>
<path d="M0.5134 0.3278 0.5111 0.3279 0.5087 0.3281" stroke="#4c0e7f" stroke-width="0.00441"/>
<path d="M0.5095 0.328 0.5072 0.3283 0.5048 0.3287" stroke="#541081" stroke-width="0.00452"/>
<path d="M0.5056 0.3286 0.5033 0.3291 0.501 0.3296" stroke="#5a1380" stroke-width="0.00464"/>
<path d="M0.5018 0.3294 0.4995 0.3301 0.4973 0.3308" stroke="#64167c" stroke-width="0.00476"/>
<path d="M0.498 0.3306 0.4958 0.3314 0.4937 0.3323" stroke="#6b1979" stroke-width="0.00487"/>
<path d="M0.4944 0.332 0.4923 0.333 0.4902 0.334" stroke="#761c74" stroke-width="0.00499"/>
<path d="M0.4909 0.3337 0.4888 0.3348 0.4868 0.336" stroke="#81206f" stroke-width="0.0051"/>
<path d="M0.4875 0.3356 0.4854 0.3368 0.4833 0.338" stroke="#922568" stroke-width="0.00522"/>
<path d="M0.484 0.3376 0.4819 0.3388 0.4797 0.3399" stroke="#a62d60" stroke-width="0.00534"/>
<path d="M0.4804 0.3395 0.4783 0.3406 0.4761 0.3417" stroke="#b0315b" stroke-width="0.00557"/>
<path d="M0.4768 0.3413 0.4746 0.3423 0.4725 0.3433" stroke="#b63458" stroke-width="0.00568"/>
<path d="M0.4732 0.343 0.471 0.3439 0.4687 0.3448" stroke="#bc3754" stroke-width="0.00592"/>
<path d="M0.4695 0.3445 0.4673 0.3454 0.465 0.3462" stroke="#bf3952" stroke-width="0.00603"/>
<path d="M0.4658 0.346 0.4635 0.3468 0.4612 0.3475" stroke="#c13a50" stroke-width="0.00626"/>
<path d="M0.462 0.3473 0.4597 0.348 0.4574 0.3487" stroke="#c13a50" stroke-width="0.00638"/>
<path d="M0.4582 0.3485 0.4559 0.3491 0.4536 0.3497" stroke="#c43c4e" stroke-width="0.00661"/>
<path d="M0.4543 0.3495 0.452 0.3501 0.4497 0.3506 0.4493 0.3507" stroke="#c43c4e" stroke-width="0.00673"/>
<path d="M0.4501 0.3506 0.4477 0.3511 0.4454 0.3516" stroke="#c73e4c" stroke-width="0.00684"/>
<path d="M0.4462 0.3514 0.4438 0.3519 0.4415 0.3523" stroke="#c73e4c" stroke-width="0.00696"/>
<path d="M0.4423 0.3522 0.4399 0.3526 0.4376 0.3531" stroke="#c73e4c" stroke-width="0.00708"/>
<path d="M0.4384 0.3529 0.436 0.3534 0.4337 0.3538 0.4314 0.3543 0.4298 0.3546" stroke="#ca404a" stroke-width="0.00719"/>
<path d="M0.4306 0.3544 0.4282 0.3548 0.4259 0.3553 0.4235 0.3557 0.422 0.3559" stroke="#cc4248" stroke-width="0.00731"/>
<path d="M0.4227 0.3558 0.4204 0.3562 0.418 0.3565 0.4157 0.3568 0.4141 0.3571" stroke="#cf4446" stroke-width="0.00742"/>
<path d="M0.4149 0.357 0.4125 0.3573 0.4101 0.3575 0.4078 0.3578 0.4062 0.3579" stroke="#d24644" stroke-width="0.00754"/>
<path d="M0.407 0.3578 0.4046 0.358 0.4022 0.3582 0.3998 0.3584 0.3975 0.3585 0.3951 0.3585 0.3927 0.3586 0.3903 0.3586" stroke="#d44842" stroke-width="0.00766"/>
<path d="M0.3911 0.3586 0.3887 0.3586 0.3863 0.3585 0.3839 0.3584 0.3815 0.3583 0.3792 0.3582 0.3768 0.3581 0.3744 0.3579 0.372 0.3577 0.3696 0.3575 0.3672 0.3573 0.3649 0.357 0.3625 0.3568" stroke="#d74b3f" stroke-width="0.00766"/>
<path d="M0.3633 0.3569 0.3609 0.3566 0.3585 0.3563 0.3562 0.356 0.3538 0.3556 0.3514 0.3553 0.3491 0.3549 0.3467 0.3545 0.3444 0.3541 0.342 0.3537 0.3397 0.3532 0.3373 0.3527 0.335 0.3522 0.3327 0.3516 0.3312 0.3513" stroke="#d94d3d" stroke-width="0.00766"/>
<path d="M0.3319 0.3514 0.3296 0.3509 0.3273 0.3503 0.325 0.3496 0.3235 0.3492" stroke="#dd513a" stroke-width="0.00754"/>
<path d="M0.3242 0.3494 0.322 0.3487 0.3197 0.348 0.3174 0.3473 0.3151 0.3466 0.3129 0.3458 0.3121 0.3455" stroke="#dd513a" stroke-width="0.00742"/>
<path d="M0.3129 0.3458 0.3106 0.345 0.3084 0.3442" stroke="#dd513a" stroke-width="0.00731"/>
<path d="M0.3092 0.3444 0.3069 0.3436 0.3047 0.3427 0.3025 0.3418 0.3003 0.3409 0.2981 0.3399 0.2959 0.339 0.2938 0.338 0.2916 0.337 0.2894 0.336 0.2873 0.335 0.2851 0.3339 0.2829 0.3329 0.2808 0.3318 0.2787 0.3308 0.2765 0.3297 0.2744 0.3286 0.2722 0.3275 0.2701 0.3264 0.268 0.3253 0.2659 0.3242 0.2638 0.323 0.2617 0.3219 0.2596 0.3207 0.2576 0.3194 0.2555 0.3181 0.2535 0.3169 0.2515 0.3156 0.2495 0.3142 0.2475 0.3129 0.2455 0.3116 0.2448 0.3111" stroke="#df5337" stroke-width="0.00731"/>
<path d="M0.2455 0.3116 0.2435 0.3102 0.2416 0.3088 0.2396 0.3074 0.2383 0.3065" stroke="#dd513a" stroke-width="0.00731"/>
<path d="M0.239 0.3069 0.2371 0.3055 0.2352 0.3041 0.2333 0.3026 0.232 0.3016" stroke="#dd513a" stroke-width="0.00742"/>
<path d="M0.2326 0.3021 0.2308 0.3006 0.229 0.2991 0.2272 0.2976 0.2255 0.296 0.2238 0.2943 0.2221 0.2927 0.2204 0.291 0.2188 0.2893 0.2178 0.2881" stroke="#d94d3d" stroke-width="0.00742"/>
<path d="M0.2183 0.2887 0.2168 0.2869 0.2152 0.2851 0.2138 0.2833 0.2123 0.2815 0.2109 0.2796 0.2095 0.2777 0.2081 0.2758 0.2068 0.2739 0.2056 0.2719 0.2043 0.27 0.2031 0.268 0.2019 0.2659" stroke="#d74b3f" stroke-width="0.00754"/>
<path d="M0.2023 0.2666 0.2011 0.2646 0.1999 0.2625 0.1987 0.2605 0.1974 0.2584 0.1962 0.2564 0.195 0.2543 0.1939 0.2523 0.1927 0.2502 0.1915 0.2481 0.1904 0.2461 0.1892 0.244 0.1881 0.2419 0.1869 0.2398 0.1862 0.2384" stroke="#d74b3f" stroke-width="0.00766"/>
<path d="M0.1865 0.2391 0.1854 0.237 0.1843 0.2349 0.1831 0.2328 0.182 0.2307 0.1809 0.2286 0.1798 0.2265 0.1788 0.2244" stroke="#d74b3f" stroke-width="0.00777"/>
<path d="M0.1791 0.2251 0.1781 0.2229 0.177 0.2208 0.176 0.2186 0.1754 0.2172" stroke="#d74b3f" stroke-width="0.00766"/>
<path d="M0.1757 0.2179 0.1747 0.2157 0.1738 0.2135 0.1728 0.2113 0.1719 0.2091 0.171 0.2069 0.1702 0.2047 0.1693 0.2024" stroke="#d44842" stroke-width="0.00766"/>
<path d="M0.1696 0.2032 0.1688 0.2009 0.1679 0.1987 0.1671 0.1964 0.1664 0.1941 0.1656 0.1919 0.1649 0.1896 0.1642 0.1873" stroke="#d24644" stroke-width="0.00766"/>
<path d="M0.1644 0.188 0.1637 0.1858 0.163 0.1835 0.1624 0.1811 0.1618 0.1788 0.1611 0.1765 0.1609 0.1758" stroke="#cf4446" stroke-width="0.00766"/>
<path d="M0.1611 0.1765 0.1605 0.1742 0.1599 0.1719 0.1593 0.1696 0.1589 0.168" stroke="#cc4248" stroke-width="0.00754"/>
<path d="M0.1591 0.1688 0.1585 0.1665 0.1579 0.1642 0.1574 0.1618 0.157 0.1603" stroke="#ca404a" stroke-width="0.00754"/>
<path d="M0.1572 0.1611 0.1566 0.1587 0.156 0.1564" stroke="#c73e4c" stroke-width="0.00754"/>
<path d="M0.1562 0.1572 0.1557 0.1549 0.1551 0.1525" stroke="#c73e4c" stroke-width="0.00742"/>
<path d="M0.1553 0.1533 0.1548 0.151 0.1543 0.1486 0.1538 0.1463 0.1535 0.1447" stroke="#c43c4e" stroke-width="0.00742"/>
<path d="M0.1536 0.1455 0.1531 0.1431 0.1527 0.1408" stroke="#c13a50" stroke-width="0.00731"/>
<path d="M0.1528 0.1416 0.1524 0.1392 0.1519 0.1369" stroke="#bf3952" stroke-width="0.00731"/>
<path d="M0.1521 0.1377 0.1517 0.1353 0.1512 0.1329" stroke="#bc3754" stroke-width="0.00731"/>
<path d="M0.1514 0.1337 0.1509 0.1314 0.1505 0.129" stroke="#bc3754" stroke-width="0.00719"/>
<path d="M0.1507 0.1298 0.1503 0.1274 0.1499 0.1251" stroke="#b93556" stroke-width="0.00719"/>
<path d="M0.15 0.1258 0.1496 0.1235 0.1493 0.1211" stroke="#b63458" stroke-width="0.00708"/>
<path d="M0.1494 0.1219 0.1491 0.1195 0.1487 0.1171" stroke="#b3325a" stroke-width="0.00708"/>
<path d="M0.1488 0.1179 0.1485 0.1156 0.1482 0.1132" stroke="#b0315b" stroke-width="0.00696"/>
<path d="M0.1483 0.114 0.148 0.1116 0.1477 0.1092" stroke="#a92e5e" stroke-width="0.00684"/>
<path d="M0.1478 0.11 0.1476 0.1076 0.1473 0.1052" stroke="#a32c61" stroke-width="0.00673"/>
<path d="M0.1474 0.106 0.1472 0.1036 0.147 0.1012" stroke="#9d2964" stroke-width="0.00661"/>
<path d="M0.147 0.102 0.1468 0.0996 0.1467 0.0973" stroke="#952667" stroke-width="0.0065"/>
<path d="M0.1467 0.0981 0.1466 0.0957 0.1464 0.0933" stroke="#8f2469" stroke-width="0.00626"/>
<path d="M0.1465 0.0941 0.1464 0.0917 0.1463 0.0893" stroke="#88226b" stroke-width="0.00615"/>
<path d="M0.1463 0.0901 0.1463 0.0877 0.1462 0.0853" stroke="#7d1e71" stroke-width="0.00592"/>
<path d="M0.1462 0.0861 0.1462 0.0837 0.1461 0.0813" stroke="#761c74" stroke-width="0.0058"/>
<path d="M0.1461 0.0821 0.1461 0.0797 0.146 0.0773" stroke="#6b1979" stroke-width="0.00557"/>
<path d="M0.146 0.0781 0.1459 0.0757 0.1457 0.0733" stroke="#64167c" stroke-width="0.00534"/>
<path d="M0.1458 0.0741 0.1456 0.0717 0.1455 0.0693" stroke="#5a1380" stroke-width="0.00522"/>
<path d="M0.1455 0.0701 0.1453 0.0677 0.1451 0.0653" stroke="#541081" stroke-width="0.00499"/>
<path d="M0.1452 0.0661 0.145 0.0637 0.1448 0.0613" stroke="#4c0e7f" stroke-width="0.00487"/>
<path d="M0.1449 0.0621 0.1446 0.0597 0.1444 0.0574" stroke="#490d7d" stroke-width="0.00464"/>
<path d="M0.1445 0.0581 0.1442 0.0558 0.1438 0.0534" stroke="#440b78" stroke-width="0.00452"/>
<path d="M0.1439 0.0542 0.1434 0.0519 0.1427 0.0496" stroke="#410a76" stroke-width="0.00441"/>
<path d="M0.143 0.0504 0.1422 0.0481 0.1414 0.0459" stroke="#3b0970" stroke-width="0.00418"/>
<path d="M0.1417 0.0467 0.1407 0.0445 0.1396 0.0424" stroke="#38096d" stroke-width="0.00406"/>
<path d="M0.14 0.0431 0.1389 0.0411 0.1376 0.0391" stroke="#340969" stroke-width="0.00394"/>
<path d="M0.138 0.0397 0.1367 0.0378 0.1353 0.0359" stroke="#2e0a60" stroke-width="0.00383"/>
<path d="M0.1358 0.0366 0.1344 0.0348 0.1328 0.033" stroke="#2b0b5c" stroke-width="0.00371"/>
<path d="M0.1333 0.0336 0.1318 0.0319 0.1301 0.0303" stroke="#260c54" stroke-width="0.00348"/>
<path d="M0.1307 0.0308 0.1289 0.0293 0.1272 0.0278" stroke="#210c4b" stroke-width="0.00336"/>
<path d="M0.1278 0.0283 0.1259 0.0269 0.124 0.0256" stroke="#1c0c43" stroke-width="0.00325"/>
<path d="M0.1247 0.026 0.1227 0.0248 0.1207 0.0237" stroke="#180c3c" stroke-width="0.00313"/>
<path d="M0.1214 0.0241 0.1194 0.023 0.1173 0.0221" stroke="#140b34" stroke-width="0.00302"/>
<path d="M0.118 0.0224 0.1158 0.0215 0.1137 0.0208" stroke="#140b34" stroke-width="0.0029"/>
<path d="M0.1144 0.021 0.1122 0.0203 0.11 0.0198" stroke="#10092d" stroke-width="0.00278"/>
<path d="M0.1107 0.02 0.1085 0.0194 0.1062 0.0189" stroke="#10092d" stroke-width="0.00267"/>
<path d="M0.107 0.0191 0.1047 0.0186 0.1024 0.0183" stroke="#10092d" stroke-width="0.00255"/>
<path d="M0.1031 0.0184 0.1008 0.0182 0.0984 0.0182 0.0961 0.0183 0.0945 0.0185" stroke="#10092d" stroke-width="0.00244"/>
<path d="M0.0953 0.0184 0.0929 0.0187 0.0906 0.0191" stroke="#140b34" stroke-width="0.00255"/>
<path d="M0.0914 0.019 0.0891 0.0195 0.0868 0.0202 0.0864 0.0203" stroke="#140b34" stroke-width="0.00267"/>
<path d="M0.0872 0.0201 0.0849 0.0209 0.0828 0.0218" stroke="#190c3e" stroke-width="0.0025"/>
<path d="M0.0835 0.0214 0.0813 0.0224 0.0792 0.0236" stroke="#220c4e" stroke-width="0.0027"/>
<path d="M0.0799 0.0232 0.0779 0.0244 0.0759 0.0257" stroke="#270b57" stroke-width="0.0029"/>
<path d="M0.0765 0.0253 0.0746 0.0267 0.0728 0.0282" stroke="#2c0b5e" stroke-width="0.0031"/>
<path d="M0.0734 0.0277 0.0716 0.0292 0.0699 0.0309" stroke="#350969" stroke-width="0.0032"/>
<path d="M0.0704 0.0304 0.0688 0.0321 0.0672 0.0339" stroke="#38096d" stroke-width="0.0034"/>
<path d="M0.0677 0.0333 0.0662 0.0351 0.0648 0.0371" stroke="#3e0a73" stroke-width="0.0036"/>
<path d="M0.0653 0.0364 0.0639 0.0384 0.0627 0.0404" stroke="#450b79" stroke-width="0.0038"/>
<path d="M0.0631 0.0397 0.0619 0.0418 0.0608 0.0439" stroke="#4c0e7e" stroke-width="0.0039"/>
<path d="M0.0612 0.0432 0.0601 0.0453 0.0592 0.0475" stroke="#521081" stroke-width="0.0041"/>
<path d="M0.0595 0.0468 0.0586 0.049 0.0577 0.0512" stroke="#5a137f" stroke-width="0.0043"/>
<path d="M0.058 0.0505 0.0571 0.0527 0.0562 0.0549" stroke="#66177b" stroke-width="0.0045"/>
<path d="M0.0565 0.0542 0.0556 0.0564 0.0547 0.0587" stroke="#721b76" stroke-width="0.0047"/>
<path d="M0.055 0.0579 0.0541 0.0601 0.0532 0.0624" stroke="#7d1e71" stroke-width="0.0049"/>
<path d="M0.0535 0.0616 0.0527 0.0639 0.0518 0.0661" stroke="#8a226a" stroke-width="0.0051"/>
<path d="M0.0521 0.0654 0.0512 0.0676 0.0504 0.0699" stroke="#922568" stroke-width="0.0053"/>
<path d="M0.0507 0.0691 0.0498 0.0714 0.049 0.0736" stroke="#9d2964" stroke-width="0.0054"/>
<path d="M0.0493 0.0729 0.0485 0.0751 0.0477 0.0774" stroke="#a82e5f" stroke-width="0.0056"/>
<path d="M0.0479 0.0766 0.0471 0.0789 0.0463 0.0812" stroke="#ae305c" stroke-width="0.0057"/>
<path d="M0.0466 0.0804 0.0458 0.0827 0.045 0.0849" stroke="#b63458" stroke-width="0.0058"/>
<path d="M0.0453 0.0842 0.0445 0.0864 0.0437 0.0887" stroke="#bc3754" stroke-width="0.0059"/>
<path d="M0.0439 0.0879 0.0432 0.0902 0.0424 0.0925" stroke="#c03a51" stroke-width="0.006"/>
<path d="M0.0426 0.0917 0.0418 0.094 0.0411 0.0962" stroke="#c33b4f" stroke-width="0.006"/>
<path d="M0.0413 0.0955 0.0405 0.0977 0.0398 0.1" stroke="#c63d4d" stroke-width="0.0061"/>
<path d="M0.04 0.0993 0.0393 0.1015 0.0385 0.1038" stroke="#ca404a" stroke-width="0.0061"/>
<path d="M0.0387 0.103 0.038 0.1053 0.0373 0.1076" stroke="#cc4248" stroke-width="0.0062"/>
<path d="M0.0375 0.1068 0.0368 0.1091 0.0361 0.1114" stroke="#cf4446" stroke-width="0.0062"/>
<path d="M0.0364 0.1107 0.0357 0.113 0.035 0.1153" stroke="#d34743" stroke-width="0.0062"/>
<path d="M0.0353 0.1145 0.0346 0.1168 0.034 0.1191 0.0334 0.1214 0.033 0.123" stroke="#d54a41" stroke-width="0.0063"/>
<path d="M0.0332 0.1222 0.0326 0.1245 0.032 0.1269" stroke="#d84c3e" stroke-width="0.0063"/>
<path d="M0.0322 0.1261 0.0316 0.1284 0.0311 0.1307" stroke="#da4e3c" stroke-width="0.0063"/>
<path d="M0.0313 0.13 0.0307 0.1323 0.0302 0.1346" stroke="#da4e3c" stroke-width="0.0064"/>
<path d="M0.0304 0.1339 0.0298 0.1362 0.0293 0.1385 0.0288 0.1409 0.0284 0.1424" stroke="#de5238" stroke-width="0.0064"/>
<path d="M0.0286 0.1416 0.028 0.144 0.0275 0.1463" stroke="#e05536" stroke-width="0.0064"/>
<path d="M0.0277 0.1455 0.0272 0.1479 0.0267 0.1502 0.0261 0.1526 0.0258 0.1541" stroke="#e25734" stroke-width="0.0065"/>
<path d="M0.026 0.1533 0.0254 0.1557 0.0249 0.158 0.0245 0.1604 0.0241 0.162" stroke="#e55c30" stroke-width="0.0065"/>
<path d="M0.0243 0.1612 0.0238 0.1635 0.0234 0.1659" stroke="#e75e2e" stroke-width="0.0065"/>
<path d="M0.0235 0.1651 0.0231 0.1675 0.0226 0.1698" stroke="#e75e2e" stroke-width="0.0066"/>
<path d="M0.0228 0.169 0.0224 0.1714 0.022 0.1738" stroke="#e9612b" stroke-width="0.0066"/>
<path d="M0.0221 0.173 0.0217 0.1754 0.0213 0.1778 0.021 0.1801 0.0207 0.1825 0.0203 0.1849 0.0202 0.1857" stroke="#eb6628" stroke-width="0.0066"/>
<path d="M0.0203 0.1849 0.02 0.1873 0.0198 0.1897" stroke="#ed6925" stroke-width="0.0066"/>
<path d="M0.0199 0.1889 0.0196 0.1913 0.0193 0.1937" stroke="#ed6925" stroke-width="0.0067"/>
<path d="M0.0194 0.1929 0.0191 0.1953 0.0189 0.1977 0.0187 0.2 0.0185 0.2016" stroke="#ef6c23" stroke-width="0.0067"/>
<path d="M0.0186 0.2008 0.0183 0.2032 0.0181 0.2056 0.0179 0.208 0.0178 0.2096" stroke="#f06f20" stroke-width="0.0067"/>
<path d="M0.0179 0.2088 0.0177 0.2112 0.0175 0.2136 0.0174 0.216 0.0173 0.2176" stroke="#f06f20" stroke-width="0.0068"/>
<path d="M0.0174 0.2168 0.0173 0.2192 0.0172 0.2216 0.0171 0.224 0.017 0.2256" stroke="#f2741c" stroke-width="0.0068"/>
<path d="M0.017 0.2248 0.0169 0.2272 0.0168 0.2296" stroke="#f2741c" stroke-width="0.0069"/>
<path d="M0.0168 0.2288 0.0167 0.2312 0.0166 0.2335 0.0165 0.2359 0.0164 0.2375" stroke="#f37819" stroke-width="0.0069"/>
<path d="M0.0165 0.2367 0.0164 0.2391 0.0163 0.2415 0.0162 0.2439 0.0161 0.2455" stroke="#f37819" stroke-width="0.007"/>
<path d="M0.0162 0.2447 0.0161 0.2471 0.016 0.2495" stroke="#f57b17" stroke-width="0.007"/>
<path d="M0.016 0.2487 0.016 0.2511 0.0159 0.2535 0.0159 0.2559 0.0158 0.2583 0.0158 0.2607 0.0157 0.2631 0.0157 0.2655 0.0157 0.2679 0.0157 0.2703 0.0157 0.2727 0.0157 0.2751 0.0157 0.2775 0.0157 0.2798 0.0157 0.2814" stroke="#f57b17" stroke-width="0.0071"/>
<path d="M0.0157 0.2806 0.0157 0.283 0.0158 0.2854 0.0158 0.2878 0.0158 0.2894" stroke="#f57b17" stroke-width="0.007"/>
<path d="M0.0158 0.2886 0.0158 0.291 0.0159 0.2934 0.0161 0.2958 0.0162 0.2974" stroke="#f37819" stroke-width="0.0069"/>
<path d="M0.0162 0.2966 0.0164 0.299 0.0168 0.3014" stroke="#f37819" stroke-width="0.0068"/>
<path d="M0.0167 0.3006 0.0171 0.303 0.0176 0.3053" stroke="#f2741c" stroke-width="0.0067"/>
<path d="M0.0174 0.3045 0.0179 0.3069 0.0186 0.3092 0.0193 0.3115 0.0199 0.313" stroke="#f2741c" stroke-width="0.0066"/>
<path d="M0.0196 0.3122 0.0204 0.3145 0.0214 0.3167" stroke="#f2741c" stroke-width="0.0065"/>
<path d="M0.0211 0.3159 0.0221 0.3181 0.0231 0.3202" stroke="#f06f20" stroke-width="0.0065"/>
<path d="M0.0228 0.3195 0.0239 0.3216 0.0251 0.3236 0.0264 0.3256 0.0277 0.3276 0.029 0.3296 0.0303 0.3316 0.0316 0.3336 0.0329 0.3355 0.0338 0.3369" stroke="#f06f20" stroke-width="0.0064"/>
<path d="M0.0333 0.3362 0.0347 0.3382 0.036 0.3402 0.0373 0.3422 0.0381 0.3436" stroke="#f2741c" stroke-width="0.0065"/>
<path d="M0.0377 0.3429 0.039 0.3449 0.0403 0.3469" stroke="#f2741c" stroke-width="0.0066"/>
<path d="M0.0399 0.3462 0.0412 0.3483 0.0425 0.3503" stroke="#f37819" stroke-width="0.0066"/>
<path d="M0.042 0.3496 0.0433 0.3516 0.0446 0.3536 0.046 0.3557 0.0468 0.357" stroke="#f57b17" stroke-width="0.0067"/>
<path d="M0.0464 0.3563 0.0477 0.3584 0.049 0.3604" stroke="#f68013" stroke-width="0.0068"/>
<path d="M0.0486 0.3597 0.0499 0.3617 0.0512 0.3638" stroke="#f68013" stroke-width="0.0069"/>
<path d="M0.0507 0.3631 0.052 0.3651 0.0534 0.3671" stroke="#f78410" stroke-width="0.0069"/>
<path d="M0.0529 0.3665 0.0542 0.3685 0.0556 0.3705 0.0569 0.3725 0.0578 0.3738" stroke="#f78410" stroke-width="0.007"/>
<path d="M0.0573 0.3732 0.0587 0.3752 0.0601 0.3772 0.0615 0.3791 0.0629 0.3811 0.0643 0.383 0.0648 0.3837" stroke="#f8870e" stroke-width="0.007"/>
<path d="M0.0643 0.383 0.0658 0.3849 0.0673 0.3868 0.0688 0.3887 0.0703 0.3906 0.0718 0.3925 0.0723 0.3931" stroke="#f8870e" stroke-width="0.0069"/>
<path d="M0.0718 0.3925 0.0733 0.3944 0.0749 0.3962 0.0764 0.3981 0.0775 0.3993" stroke="#f8870e" stroke-width="0.0068"/>
<path d="M0.0769 0.3987 0.0785 0.4005 0.0801 0.4023 0.0817 0.4041 0.0828 0.4053" stroke="#f8870e" stroke-width="0.0067"/>
<path d="M0.0822 0.4047 0.0838 0.4065 0.0855 0.4083 0.0871 0.41 0.0887 0.4118 0.0904 0.4135 0.0909 0.4141" stroke="#f8870e" stroke-width="0.0066"/>
<path d="M0.0904 0.4135 0.092 0.4153 0.0937 0.417 0.0953 0.4187 0.097 0.4204 0.0987 0.4221 0.0993 0.4227" stroke="#f8870e" stroke-width="0.0065"/>
<path d="M0.0987 0.4221 0.1004 0.4238 0.1021 0.4255 0.1038 0.4272 0.1055 0.4289 0.1072 0.4305 0.109 0.4322 0.1107 0.4338" stroke="#f8870e" stroke-width="0.0066"/>
<path d="M0.1101 0.4333 0.1119 0.4349 0.1136 0.4365 0.1153 0.4381 0.1171 0.4398 0.1188 0.4414 0.1194 0.4419" stroke="#f8870e" stroke-width="0.0067"/>
<path d="M0.1188 0.4414 0.1206 0.443 0.1224 0.4446 0.1241 0.4462 0.1259 0.4478 0.1277 0.4494 0.1295 0.451 0.1313 0.4525 0.1332 0.4541 0.135 0.4556 0.1369 0.4571 0.1387 0.4586 0.1406 0.4601 0.1425 0.4615 0.1444 0.463 0.1463 0.4644 0.1483 0.4658 0.1502 0.4672 0.1522 0.4686 0.1541 0.47 0.1561 0.4713 0.1581 0.4727 0.16 0.4741 0.162 0.4754 0.164 0.4767 0.166 0.478 0.168 0.4793 0.17 0.4806 0.1721 0.4819 0.1741 0.4832 0.1761 0.4844 0.1782 0.4857 0.1802 0.4869 0.1823 0.4881 0.1843 0.4893 0.1864 0.4905 0.1871 0.4909" stroke="#f8870e" stroke-width="0.0068"/>
<path d="M0.1864 0.4905 0.1885 0.4917 0.1906 0.4929 0.1927 0.494 0.1947 0.4952 0.1968 0.4963 0.1989 0.4975 0.2011 0.4986 0.2032 0.4997 0.2053 0.5008 0.2074 0.5019 0.2084 0.5025" stroke="#f8870e" stroke-width="0.0067"/>
<path d="M0.2077 0.5021 0.2098 0.5032 0.212 0.5043 0.2141 0.5054 0.2162 0.5065 0.2183 0.5076 0.2205 0.5086 0.2226 0.5097 0.2248 0.5107 0.2269 0.5117 0.2291 0.5126 0.2313 0.5136 0.2335 0.5146 0.2356 0.5155 0.2378 0.5164 0.24 0.5173 0.2423 0.5181 0.2445 0.519 0.2467 0.5198 0.2489 0.5206 0.2512 0.5214 0.2534 0.5222 0.2557 0.523 0.2579 0.5238 0.2595 0.5243" stroke="#f8870e" stroke-width="0.0066"/>
<path d="M0.2587 0.524 0.261 0.5248 0.2632 0.5255 0.2655 0.5263 0.2678 0.527 0.2701 0.5277 0.2724 0.5284 0.2747 0.5291 0.277 0.5298 0.2793 0.5304 0.2816 0.5311 0.2839 0.5317 0.2862 0.5323 0.2886 0.5329 0.2909 0.5334 0.2932 0.534 0.2956 0.5345 0.2979 0.535 0.3003 0.5355 0.3018 0.5358" stroke="#f8870e" stroke-width="0.0067"/>
<path d="M0.3011 0.5356 0.3034 0.5361 0.3058 0.5365 0.3081 0.5369 0.3105 0.5373 0.3129 0.5376 0.3152 0.538 0.3176 0.5383 0.32 0.5386 0.3224 0.5388 0.3247 0.5391 0.3271 0.5393 0.3295 0.5396 0.3319 0.5398 0.3335 0.5399" stroke="#f78410" stroke-width="0.0068"/>
<path d="M0.3327 0.5399 0.3351 0.5401 0.3374 0.5403" stroke="#f68013" stroke-width="0.0068"/>
<path d="M0.3366 0.5402 0.339 0.5404 0.3414 0.5406 0.3438 0.5408 0.3462 0.5409 0.3486 0.5411 0.3509 0.5412 0.3533 0.5413 0.3557 0.5414 0.3581 0.5415 0.3605 0.5416 0.3613 0.5416" stroke="#f68013" stroke-width="0.0069"/>
<path d="M0.3605 0.5416 0.3629 0.5416 0.3653 0.5417 0.3677 0.5417 0.3701 0.5417 0.3725 0.5417 0.3749 0.5417 0.3773 0.5417 0.3797 0.5417 0.3813 0.5417" stroke="#f57b17" stroke-width="0.0069"/>
<path d="M0.3805 0.5417 0.3828 0.5417 0.3851 0.5416" stroke="#f37819" stroke-width="0.0069"/>
<path d="M0.3844 0.5416 0.3867 0.5415 0.389 0.5414 0.3913 0.5412 0.3937 0.5409 0.396 0.5405 0.3984 0.5402 0.4008 0.5397" stroke="#f37819" stroke-width="0.0068"/>
<path d="M0.4 0.5399 0.4024 0.5394 0.4047 0.5389 0.407 0.5384 0.4086 0.538" stroke="#f2741c" stroke-width="0.0068"/>
<path d="M0.4078 0.5382 0.4101 0.5376 0.4125 0.5369 0.4147 0.5361 0.417 0.5353 0.4193 0.5345 0.4215 0.5336 0.4238 0.5327 0.426 0.5317 0.4282 0.5308 0.4304 0.5298 0.4326 0.5287 0.4347 0.5277" stroke="#f2741c" stroke-width="0.0067"/>
<path d="M0.434 0.528 0.4362 0.527 0.4384 0.5259" stroke="#f2741c" stroke-width="0.0066"/>
<path d="M0.4376 0.5263 0.4398 0.5252 0.4419 0.5241 0.4441 0.523 0.4462 0.5219 0.4483 0.5207 0.4504 0.5195 0.4525 0.5183 0.4546 0.5171 0.456 0.5163" stroke="#f06f20" stroke-width="0.0066"/>
<path d="M0.4553 0.5167 0.4574 0.5155 0.4594 0.5142 0.4614 0.5129 0.4635 0.5116 0.4655 0.5103 0.4675 0.509 0.4695 0.5076" stroke="#f06f20" stroke-width="0.0065"/>
<path d="M0.4688 0.5081 0.4708 0.5067 0.4727 0.5053 0.4747 0.5039 0.476 0.503" stroke="#ef6c23" stroke-width="0.0064"/>
<path d="M0.4753 0.5035 0.4773 0.502 0.4792 0.5006" stroke="#ef6c23" stroke-width="0.0063"/>
<path d="M0.4785 0.5011 0.4804 0.4996 0.4823 0.4981" stroke="#ed6925" stroke-width="0.0063"/>
<path d="M0.4817 0.4986 0.4836 0.4971 0.4854 0.4956" stroke="#ed6925" stroke-width="0.0062"/>
<path d="M0.4848 0.4961 0.4866 0.4946 0.4885 0.4931" stroke="#eb6628" stroke-width="0.0062"/>
<path d="M0.4879 0.4936 0.4897 0.492 0.4915 0.4905 0.4933 0.4889 0.4944 0.4878" stroke="#eb6628" stroke-width="0.0061"/>
<path d="M0.4938 0.4883 0.4956 0.4867 0.4973 0.4851 0.4991 0.4834 0.5002 0.4823" stroke="#e9612b" stroke-width="0.006"/>
<path d="M0.4996 0.4829 0.5013 0.4812 0.503 0.4795 0.5047 0.4778 0.5058 0.4766" stroke="#e75e2e" stroke-width="0.006"/>
<path d="M0.5052 0.4772 0.5069 0.4755 0.5085 0.4737 0.5101 0.472 0.5112 0.4708" stroke="#e55c30" stroke-width="0.006"/>
<path d="M0.5106 0.4714 0.5122 0.4696 0.5138 0.4678" stroke="#e25734" stroke-width="0.0061"/>
<path d="M0.5133 0.4684 0.5148 0.4666 0.5163 0.4648 0.5179 0.4629 0.5189 0.4617" stroke="#e05536" stroke-width="0.0061"/>
<path d="M0.5184 0.4623 0.5198 0.4604 0.5213 0.4585" stroke="#de5238" stroke-width="0.0062"/>
<path d="M0.5208 0.4592 0.5223 0.4573 0.5237 0.4553 0.5251 0.4534 0.5261 0.4521" stroke="#da4e3c" stroke-width="0.0062"/>
<path d="M0.5256 0.4528 0.527 0.4508 0.5284 0.4488" stroke="#d84c3e" stroke-width="0.0063"/>
<path d="M0.5279 0.4495 0.5293 0.4475 0.5306 0.4455 0.5319 0.4435 0.5327 0.4421" stroke="#d54a41" stroke-width="0.0063"/>
<path d="M0.5323 0.4428 0.5336 0.4407 0.5348 0.4387 0.536 0.4366 0.5368 0.4352" stroke="#d34743" stroke-width="0.0063"/>
<path d="M0.5364 0.4359 0.5375 0.4337 0.5386 0.4316 0.5397 0.4294 0.5403 0.428" stroke="#cf4446" stroke-width="0.0063"/>
<path d="M0.54 0.4287 0.541 0.4265 0.542 0.4243 0.5429 0.4221 0.5436 0.4206" stroke="#cc4248" stroke-width="0.0062"/>
<path d="M0.5433 0.4213 0.5442 0.4191 0.5451 0.4169" stroke="#ca404a" stroke-width="0.0061"/>
<path d="M0.5448 0.4176 0.5457 0.4154 0.5465 0.4132" stroke="#c63d4d" stroke-width="0.006"/>
<path d="M0.5462 0.4139 0.5471 0.4117 0.5479 0.4094" stroke="#c63d4d" stroke-width="0.0059"/>
<path d="M0.5476 0.4102 0.5484 0.4079 0.5492 0.4057" stroke="#c33b4f" stroke-width="0.0057"/>
<path d="M0.549 0.4064 0.5498 0.4042 0.5505 0.402" stroke="#bc3754" stroke-width="0.0056"/>
<path d="M0.5503 0.4027 0.551 0.4005 0.5518 0.3982" stroke="#b63458" stroke-width="0.0055"/>
<path d="M0.5515 0.399 0.5523 0.3967 0.553 0.3945" stroke="#ab2f5e" stroke-width="0.0053"/>
<path d="M0.5528 0.3952 0.5535 0.393 0.5542 0.3907" stroke="#9d2964" stroke-width="0.0052"/>
<path d="M0.554 0.3915 0.5547 0.3893 0.5555 0.387" stroke="#8a226a" stroke-width="0.005"/>
<path d="M0.5552 0.3878 0.5559 0.3855 0.5566 0.3834" stroke="#6d1978" stroke-width="0.0049"/>
<path d="M0.5564 0.3841 0.557 0.3819 0.5575 0.3797" stroke="#61157d" stroke-width="0.0048"/>
<path d="M0.5573 0.3804 0.5578 0.3782 0.5581 0.3759" stroke="#5a137f" stroke-width="0.0046"/>
<path d="M0.558 0.3767 0.5583 0.3744 0.5584 0.372" stroke="#521081" stroke-width="0.0044"/>
<path d="M0.5584 0.3728 0.5585 0.3704 0.5584 0.3681" stroke="#4c0e7e" stroke-width="0.0042"/>
<path d="M0.5584 0.3689 0.5583 0.3665 0.5579 0.3641" stroke="#480c7c" stroke-width="0.0039"/>
<path d="M0.5581 0.3649 0.5577 0.3625 0.5571 0.3602" stroke="#450b79" stroke-width="0.0037"/>
<path d="M0.5573 0.3609 0.5567 0.3586 0.556 0.3563" stroke="#420a77" stroke-width="0.0035"/>
<path d="M0.5562 0.3571 0.5554 0.3548 0.5544 0.3526" stroke="#3e0a73" stroke-width="0.0034"/>
<path d="M0.5548 0.3533 0.5537 0.3511 0.5526 0.349" stroke="#3e0a73" stroke-width="0.0033"/>
<path d="M0.553 0.3497 0.5517 0.3476 0.5504 0.3456" stroke="#3b0970" stroke-width="0.0032"/>
<path d="M0.5508 0.3463 0.5494 0.3444 0.5478 0.3425 0.5462 0.3408 0.545 0.3397" stroke="#38096d" stroke-width="0.0032"/>
<path d="M0.5456 0.3403 0.5438 0.3387 0.542 0.3372" stroke="#38096d" stroke-width="0.0033"/>
<path d="M0.5426 0.3377 0.5407 0.3362 0.5388 0.3349 0.5367 0.3337 0.5354 0.3329" stroke="#350969" stroke-width="0.0033"/>
<path d="M0.5361 0.3333 0.534 0.3322 0.5318 0.3313" stroke="#38096d" stroke-width="0.0033"/>
<path d="M0.5325 0.3316 0.5303 0.3307 0.5281 0.3299" stroke="#38096d" stroke-width="0.0034"/>
<path d="M0.5289 0.3302 0.5266 0.3295 0.5243 0.3289" stroke="#3b0970" stroke-width="0.0034"/>
<path d="M0.5251 0.3291 0.5228 0.3286 0.5205 0.3282" stroke="#3e0a73" stroke-width="0.0035"/>
<path d="M0.5213 0.3283 0.5189 0.328 0.5166 0.3279" stroke="#450b79" stroke-width="0.0036"/>
<path d="M0.5174 0.3279 0.515 0.3278 0.5126 0.3278" stroke="#4c0e7e" stroke-width="0.0037"/>
<path d="M0.5134 0.3278 0.5111 0.3279 0.5087 0.3281" stroke="#521081" stroke-width="0.0038"/>
<path d="M0.5095 0.328 0.5072 0.3283 0.5048 0.3287" stroke="#5a137f" stroke-width="0.0039"/>
<path d="M0.5056 0.3286 0.5033 0.3291 0.501 0.3296" stroke="#61157d" stroke-width="0.004"/>
<path d="M0.5018 0.3294 0.4995 0.3301 0.4973 0.3308" stroke="#6d1978" stroke-width="0.0041"/>
<path d="M0.498 0.3306 0.4958 0.3314 0.4937 0.3323" stroke="#761c75" stroke-width="0.0042"/>
<path d="M0.4944 0.332 0.4923 0.333 0.4902 0.334" stroke="#82206e" stroke-width="0.0043"/>
<path d="M0.4909 0.3337 0.4888 0.3348 0.4868 0.336" stroke="#8f2469" stroke-width="0.0044"/>
<path d="M0.4875 0.3356 0.4854 0.3368 0.4833 0.338" stroke="#a02a63" stroke-width="0.0045"/>
<path d="M0.484 0.3376 0.4819 0.3388 0.4797 0.3399" stroke="#b63458" stroke-width="0.0046"/>
<path d="M0.4804 0.3395 0.4783 0.3406 0.4761 0.3417" stroke="#c03a51" stroke-width="0.0048"/>
<path d="M0.4768 0.3413 0.4746 0.3423 0.4725 0.3433" stroke="#c63d4d" stroke-width="0.0049"/>
<path d="M0.4732 0.343 0.471 0.3439 0.4687 0.3448" stroke="#cc4248" stroke-width="0.0051"/>
<path d="M0.4695 0.3445 0.4673 0.3454 0.465 0.3462" stroke="#cf4446" stroke-width="0.0052"/>
<path d="M0.4658 0.346 0.4635 0.3468 0.4612 0.3475" stroke="#d34743" stroke-width="0.0054"/>
<path d="M0.462 0.3473 0.4597 0.348 0.4574 0.3487" stroke="#d34743" stroke-width="0.0055"/>
<path d="M0.4582 0.3485 0.4559 0.3491 0.4536 0.3497" stroke="#d54a41" stroke-width="0.0057"/>
<path d="M0.4543 0.3495 0.452 0.3501 0.4497 0.3506 0.4493 0.3507" stroke="#d54a41" stroke-width="0.0058"/>
<path d="M0.4501 0.3506 0.4477 0.3511 0.4454 0.3516" stroke="#d84c3e" stroke-width="0.0059"/>
<path d="M0.4462 0.3514 0.4438 0.3519 0.4415 0.3523" stroke="#d84c3e" stroke-width="0.006"/>
<path d="M0.4423 0.3522 0.4399 0.3526 0.4376 0.3531" stroke="#d84c3e" stroke-width="0.0061"/>
<path d="M0.4384 0.3529 0.436 0.3534 0.4337 0.3538 0.4314 0.3543 0.4298 0.3546" stroke="#da4e3c" stroke-width="0.0062"/>
<path d="M0.4306 0.3544 0.4282 0.3548 0.4259 0.3553 0.4235 0.3557 0.422 0.3559" stroke="#de5238" stroke-width="0.0063"/>
<path d="M0.4227 0.3558 0.4204 0.3562 0.418 0.3565 0.4157 0.3568 0.4141 0.3571" stroke="#e05536" stroke-width="0.0064"/>
<path d="M0.4149 0.357 0.4125 0.3573 0.4101 0.3575 0.4078 0.3578 0.4062 0.3579" stroke="#e25734" stroke-width="0.0065"/>
<path d="M0.407 0.3578 0.4046 0.358 0.4022 0.3582 0.3998 0.3584 0.3975 0.3585 0.3951 0.3585 0.3927 0.3586 0.3903 0.3586" stroke="#e55c30" stroke-width="0.0066"/>
<path d="M0.3911 0.3586 0.3887 0.3586 0.3863 0.3585 0.3839 0.3584 0.3815 0.3583 0.3792 0.3582 0.3768 0.3581 0.3744 0.3579 0.372 0.3577 0.3696 0.3575 0.3672 0.3573 0.3649 0.357 0.3625 0.3568" stroke="#e75e2e" stroke-width="0.0066"/>
<path d="M0.3633 0.3569 0.3609 0.3566 0.3585 0.3563 0.3562 0.356 0.3538 0.3556 0.3514 0.3553 0.3491 0.3549 0.3467 0.3545 0.3444 0.3541 0.342 0.3537 0.3397 0.3532 0.3373 0.3527 0.335 0.3522 0.3327 0.3516 0.3312 0.3513" stroke="#e9612b" stroke-width="0.0066"/>
<path d="M0.3319 0.3514 0.3296 0.3509 0.3273 0.3503 0.325 0.3496 0.3235 0.3492" stroke="#eb6628" stroke-width="0.0065"/>
<path d="M0.3242 0.3494 0.322 0.3487 0.3197 0.348 0.3174 0.3473 0.3151 0.3466 0.3129 0.3458 0.3121 0.3455" stroke="#eb6628" stroke-width="0.0064"/>
<path d="M0.3129 0.3458 0.3106 0.345 0.3084 0.3442" stroke="#eb6628" stroke-width="0.0063"/>
<path d="M0.3092 0.3444 0.3069 0.3436 0.3047 0.3427 0.3025 0.3418 0.3003 0.3409 0.2981 0.3399 0.2959 0.339 0.2938 0.338 0.2916 0.337 0.2894 0.336 0.2873 0.335 0.2851 0.3339 0.2829 0.3329 0.2808 0.3318 0.2787 0.3308 0.2765 0.3297 0.2744 0.3286 0.2722 0.3275 0.2701 0.3264 0.268 0.3253 0.2659 0.3242 0.2638 0.323 0.2617 0.3219 0.2596 0.3207 0.2576 0.3194 0.2555 0.3181 0.2535 0.3169 0.2515 0.3156 0.2495 0.3142 0.2475 0.3129 0.2455 0.3116 0.2448 0.3111" stroke="#ed6925" stroke-width="0.0063"/>
<path d="M0.2455 0.3116 0.2435 0.3102 0.2416 0.3088 0.2396 0.3074 0.2383 0.3065" stroke="#eb6628" stroke-width="0.0063"/>
<path d="M0.239 0.3069 0.2371 0.3055 0.2352 0.3041 0.2333 0.3026 0.232 0.3016" stroke="#eb6628" stroke-width="0.0064"/>
<path d="M0.2326 0.3021 0.2308 0.3006 0.229 0.2991 0.2272 0.2976 0.2255 0.296 0.2238 0.2943 0.2221 0.2927 0.2204 0.291 0.2188 0.2893 0.2178 0.2881" stroke="#e9612b" stroke-width="0.0064"/>
<path d="M0.2183 0.2887 0.2168 0.2869 0.2152 0.2851 0.2138 0.2833 0.2123 0.2815 0.2109 0.2796 0.2095 0.2777 0.2081 0.2758 0.2068 0.2739 0.2056 0.2719 0.2043 0.27 0.2031 0.268 0.2019 0.2659" stroke="#e75e2e" stroke-width="0.0065"/>
<path d="M0.2023 0.2666 0.2011 0.2646 0.1999 0.2625 0.1987 0.2605 0.1974 0.2584 0.1962 0.2564 0.195 0.2543 0.1939 0.2523 0.1927 0.2502 0.1915 0.2481 0.1904 0.2461 0.1892 0.244 0.1881 0.2419 0.1869 0.2398 0.1862 0.2384" stroke="#e75e2e" stroke-width="0.0066"/>
<path d="M0.1865 0.2391 0.1854 0.237 0.1843 0.2349 0.1831 0.2328 0.182 0.2307 0.1809 0.2286 0.1798 0.2265 0.1788 0.2244" stroke="#e75e2e" stroke-width="0.0067"/>
<path d="M0.1791 0.2251 0.1781 0.2229 0.177 0.2208 0.176 0.2186 0.1754 0.2172" stroke="#e75e2e" stroke-width="0.0066"/>
<path d="M0.1757 0.2179 0.1747 0.2157 0.1738 0.2135 0.1728 0.2113 0.1719 0.2091 0.171 0.2069 0.1702 0.2047 0.1693 0.2024" stroke="#e55c30" stroke-width="0.0066"/>
<path d="M0.1696 0.2032 0.1688 0.2009 0.1679 0.1987 0.1671 0.1964 0.1664 0.1941 0.1656 0.1919 0.1649 0.1896 0.1642 0.1873" stroke="#e25734" stroke-width="0.0066"/>
<path d="M0.1644 0.188 0.1637 0.1858 0.163 0.1835 0.1624 0.1811 0.1618 0.1788 0.1611 0.1765 0.1609 0.1758" stroke="#e05536" stroke-width="0.0066"/>
<path d="M0.1611 0.1765 0.1605 0.1742 0.1599 0.1719 0.1593 0.1696 0.1589 0.168" stroke="#de5238" stroke-width="0.0065"/>
<path d="M0.1591 0.1688 0.1585 0.1665 0.1579 0.1642 0.1574 0.1618 0.157 0.1603" stroke="#da4e3c" stroke-width="0.0065"/>
<path d="M0.1572 0.1611 0.1566 0.1587 0.156 0.1564" stroke="#d84c3e" stroke-width="0.0065"/>
<path d="M0.1562 0.1572 0.1557 0.1549 0.1551 0.1525" stroke="#d84c3e" stroke-width="0.0064"/>
<path d="M0.1553 0.1533 0.1548 0.151 0.1543 0.1486 0.1538 0.1463 0.1535 0.1447" stroke="#d54a41" stroke-width="0.0064"/>
<path d="M0.1536 0.1455 0.1531 0.1431 0.1527 0.1408" stroke="#d34743" stroke-width="0.0063"/>
<path d="M0.1528 0.1416 0.1524 0.1392 0.1519 0.1369" stroke="#cf4446" stroke-width="0.0063"/>
<path d="M0.1521 0.1377 0.1517 0.1353 0.1512 0.1329" stroke="#cc4248" stroke-width="0.0063"/>
<path d="M0.1514 0.1337 0.1509 0.1314 0.1505 0.129" stroke="#cc4248" stroke-width="0.0062"/>
<path d="M0.1507 0.1298 0.1503 0.1274 0.1499 0.1251" stroke="#ca404a" stroke-width="0.0062"/>
<path d="M0.15 0.1258 0.1496 0.1235 0.1493 0.1211" stroke="#c63d4d" stroke-width="0.0061"/>
<path d="M0.1494 0.1219 0.1491 0.1195 0.1487 0.1171" stroke="#c33b4f" stroke-width="0.0061"/>
<path d="M0.1488 0.1179 0.1485 0.1156 0.1482 0.1132" stroke="#c03a51" stroke-width="0.006"/>
<path d="M0.1483 0.114 0.148 0.1116 0.1477 0.1092" stroke="#b93556" stroke-width="0.0059"/>
<path d="M0.1478 0.11 0.1476 0.1076 0.1473 0.1052" stroke="#b3325a" stroke-width="0.0058"/>
<path d="M0.1474 0.106 0.1472 0.1036 0.147 0.1012" stroke="#ab2f5e" stroke-width="0.0057"/>
<path d="M0.147 0.102 0.1468 0.0996 0.1467 0.0973" stroke="#a32c61" stroke-width="0.0056"/>
<path d="M0.1467 0.0981 0.1466 0.0957 0.1464 0.0933" stroke="#9d2964" stroke-width="0.0054"/>
<path d="M0.1465 0.0941 0.1464 0.0917 0.1463 0.0893" stroke="#952667" stroke-width="0.0053"/>
<path d="M0.1463 0.0901 0.1463 0.0877 0.1462 0.0853" stroke="#8a226a" stroke-width="0.0051"/>
<path d="M0.1462 0.0861 0.1462 0.0837 0.1461 0.0813" stroke="#82206e" stroke-width="0.005"/>
<path d="M0.1461 0.0821 0.1461 0.0797 0.146 0.0773" stroke="#761c75" stroke-width="0.0048"/>
<path d="M0.146 0.0781 0.1459 0.0757 0.1457 0.0733" stroke="#6d1978" stroke-width="0.0046"/>
<path d="M0.1458 0.0741 0.1456 0.0717 0.1455 0.0693" stroke="#61157d" stroke-width="0.0045"/>
<path d="M0.1455 0.0701 0.1453 0.0677 0.1451 0.0653" stroke="#5a137f" stroke-width="0.0043"/>
<path d="M0.1452 0.0661 0.145 0.0637 0.1448 0.0613" stroke="#521081" stroke-width="0.0042"/>
<path d="M0.1449 0.0621 0.1446 0.0597 0.1444 0.0574" stroke="#4f0f80" stroke-width="0.004"/>
<path d="M0.1445 0.0581 0.1442 0.0558 0.1438 0.0534" stroke="#480c7c" stroke-width="0.0039"/>
<path d="M0.1439 0.0542 0.1434 0.0519 0.1427 0.0496" stroke="#450b79" stroke-width="0.0038"/>
<path d="M0.143 0.0504 0.1422 0.0481 0.1414 0.0459" stroke="#3e0a73" stroke-width="0.0036"/>
<path d="M0.1417 0.0467 0.1407 0.0445 0.1396 0.0424" stroke="#3b0970" stroke-width="0.0035"/>
<path d="M0.14 0.0431 0.1389 0.0411 0.1376 0.0391" stroke="#38096d" stroke-width="0.0034"/>
<path d="M0.138 0.0397 0.1367 0.0378 0.1353 0.0359" stroke="#300a63" stroke-width="0.0033"/>
<path d="M0.1358 0.0366 0.1344 0.0348 0.1328 0.033" stroke="#2c0b5e" stroke-width="0.0032"/>
<path d="M0.1333 0.0336 0.1318 0.0319 0.1301 0.0303" stroke="#270b57" stroke-width="0.003"/>
<path d="M0.1307 0.0308 0.1289 0.0293 0.1272 0.0278" stroke="#220c4e" stroke-width="0.0029"/>
<path d="M0.1278 0.0283 0.1259 0.0269 0.124 0.0256" stroke="#1e0c46" stroke-width="0.0028"/>
<path d="M0.1247 0.026 0.1227 0.0248 0.1207 0.0237" stroke="#190c3e" stroke-width="0.0027"/>
<path d="M0.1214 0.0241 0.1194 0.023 0.1173 0.0221" stroke="#150b37" stroke-width="0.0026"/>
<path d="M0.118 0.0224 0.1158 0.0215 0.1137 0.0208" stroke="#150b37" stroke-width="0.0025"/>
<path d="M0.1144 0.021 0.1122 0.0203 0.11 0.0198" stroke="#110a30" stroke-width="0.0024"/>
<path d="M0.1107 0.02 0.1085 0.0194 0.1062 0.0189" stroke="#110a30" stroke-width="0.0023"/>
<path d="M0.107 0.0191 0.1047 0.0186 0.1024 0.0183" stroke="#110a30" stroke-width="0.0022"/>
<path d="M0.1031 0.0184 0.1008 0.0182 0.0984 0.0182 0.0961 0.0183 0.0945 0.0185" stroke="#110a30" stroke-width="0.0021"/>
<path d="M0.0953 0.0184 0.0929 0.0187 0.0906 0.0191" stroke="#150b37" stroke-width="0.0022"/>
<path d="M0.0914 0.019 0.0891 0.0195 0.0868 0.0202 0.0864 0.0203" stroke="#150b37" stroke-width="0.0023"/>
<path d="M0.0872 0.0201 0.0849 0.0209 0.0828 0.0218" stroke="#1b0c41" stroke-width="0.0021"/>
<path d="M0.0835 0.0214 0.0813 0.0224 0.0792 0.0236" stroke="#240c51" stroke-width="0.00227"/>
<path d="M0.0799 0.0232 0.0779 0.0244 0.0759 0.0257" stroke="#290b59" stroke-width="0.00244"/>
<path d="M0.0765 0.0253 0.0746 0.0267 0.0728 0.0282" stroke="#2e0a61" stroke-width="0.0026"/>
<path d="M0.0734 0.0277 0.0716 0.0292 0.0699 0.0309" stroke="#36096b" stroke-width="0.00269"/>
<path d="M0.0704 0.0304 0.0688 0.0321 0.0672 0.0339" stroke="#3b0970" stroke-width="0.00286"/>
<path d="M0.0677 0.0333 0.0662 0.0351 0.0648 0.0371" stroke="#420a77" stroke-width="0.00302"/>
<path d="M0.0653 0.0364 0.0639 0.0384 0.0627 0.0404" stroke="#4a0d7c" stroke-width="0.00319"/>
<path d="M0.0631 0.0397 0.0619 0.0418 0.0608 0.0439" stroke="#500f81" stroke-width="0.00328"/>
<path d="M0.0612 0.0432 0.0601 0.0453 0.0592 0.0475" stroke="#591280" stroke-width="0.00344"/>
<path d="M0.0595 0.0468 0.0586 0.049 0.0577 0.0512" stroke="#61157d" stroke-width="0.00361"/>
<path d="M0.058 0.0505 0.0571 0.0527 0.0562 0.0549" stroke="#6d1978" stroke-width="0.00378"/>
<path d="M0.0565 0.0542 0.0556 0.0564 0.0547 0.0587" stroke="#7b1e72" stroke-width="0.00395"/>
<path d="M0.055 0.0579 0.0541 0.0601 0.0532 0.0624" stroke="#8a226b" stroke-width="0.00412"/>
<path d="M0.0535 0.0616 0.0527 0.0639 0.0518 0.0661" stroke="#952667" stroke-width="0.00428"/>
<path d="M0.0521 0.0654 0.0512 0.0676 0.0504 0.0699" stroke="#9d2964" stroke-width="0.00445"/>
<path d="M0.0507 0.0691 0.0498 0.0714 0.049 0.0736" stroke="#a92e5e" stroke-width="0.00454"/>
<path d="M0.0493 0.0729 0.0485 0.0751 0.0477 0.0774" stroke="#b43359" stroke-width="0.0047"/>
<path d="M0.0479 0.0766 0.0471 0.0789 0.0463 0.0812" stroke="#bc3754" stroke-width="0.00479"/>
<path d="M0.0466 0.0804 0.0458 0.0827 0.045 0.0849" stroke="#c43c4e" stroke-width="0.00487"/>
<path d="M0.0453 0.0842 0.0445 0.0864 0.0437 0.0887" stroke="#cb4149" stroke-width="0.00496"/>
<path d="M0.0439 0.0879 0.0432 0.0902 0.0424 0.0925" stroke="#ce4347" stroke-width="0.00504"/>
<path d="M0.0426 0.0917 0.0418 0.094 0.0411 0.0962" stroke="#d24644" stroke-width="0.00504"/>
<path d="M0.0413 0.0955 0.0405 0.0977 0.0398 0.1" stroke="#d44842" stroke-width="0.00512"/>
<path d="M0.04 0.0993 0.0393 0.1015 0.0385 0.1038" stroke="#d84c3e" stroke-width="0.00512"/>
<path d="M0.0387 0.103 0.038 0.1053 0.0373 0.1076" stroke="#da4e3c" stroke-width="0.00521"/>
<path d="M0.0375 0.1068 0.0368 0.1091 0.0361 0.1114" stroke="#de5238" stroke-width="0.00521"/>
<path d="M0.0364 0.1107 0.0357 0.113 0.035 0.1153" stroke="#e05536" stroke-width="0.00521"/>
<path d="M0.0353 0.1145 0.0346 0.1168 0.034 0.1191 0.0334 0.1214 0.033 0.123" stroke="#e35933" stroke-width="0.00529"/>
<path d="M0.0332 0.1222 0.0326 0.1245 0.032 0.1269" stroke="#e55c30" stroke-width="0.00529"/>
<path d="M0.0322 0.1261 0.0316 0.1284 0.0311 0.1307" stroke="#e8602d" stroke-width="0.00529"/>
<path d="M0.0313 0.13 0.0307 0.1323 0.0302 0.1346" stroke="#e8602d" stroke-width="0.00538"/>
<path d="M0.0304 0.1339 0.0298 0.1362 0.0293 0.1385 0.0288 0.1409 0.0284 0.1424" stroke="#ea632a" stroke-width="0.00538"/>
<path d="M0.0286 0.1416 0.028 0.144 0.0275 0.1463" stroke="#ec6726" stroke-width="0.00538"/>
<path d="M0.0277 0.1455 0.0272 0.1479 0.0267 0.1502 0.0261 0.1526 0.0258 0.1541" stroke="#ee6a24" stroke-width="0.00546"/>
<path d="M0.026 0.1533 0.0254 0.1557 0.0249 0.158 0.0245 0.1604 0.0241 0.162" stroke="#f06f20" stroke-width="0.00546"/>
<path d="M0.0243 0.1612 0.0238 0.1635 0.0234 0.1659" stroke="#f2741c" stroke-width="0.00546"/>
<path d="M0.0235 0.1651 0.0231 0.1675 0.0226 0.1698" stroke="#f2741c" stroke-width="0.00554"/>
<path d="M0.0228 0.169 0.0224 0.1714 0.022 0.1738" stroke="#f37819" stroke-width="0.00554"/>
<path d="M0.0221 0.173 0.0217 0.1754 0.0213 0.1778 0.021 0.1801 0.0207 0.1825 0.0203 0.1849 0.0202 0.1857" stroke="#f57d15" stroke-width="0.00554"/>
<path d="M0.0203 0.1849 0.02 0.1873 0.0198 0.1897" stroke="#f68013" stroke-width="0.00554"/>
<path d="M0.0199 0.1889 0.0196 0.1913 0.0193 0.1937" stroke="#f68013" stroke-width="0.00563"/>
<path d="M0.0194 0.1929 0.0191 0.1953 0.0189 0.1977 0.0187 0.2 0.0185 0.2016" stroke="#f8850f" stroke-width="0.00563"/>
<path d="M0.0186 0.2008 0.0183 0.2032 0.0181 0.2056 0.0179 0.208 0.0178 0.2096" stroke="#f8890c" stroke-width="0.00563"/>
<path d="M0.0179 0.2088 0.0177 0.2112 0.0175 0.2136 0.0174 0.216 0.0173 0.2176" stroke="#f8890c" stroke-width="0.00571"/>
<path d="M0.0174 0.2168 0.0173 0.2192 0.0172 0.2216 0.0171 0.224 0.017 0.2256" stroke="#f98e09" stroke-width="0.00571"/>
<path d="M0.017 0.2248 0.0169 0.2272 0.0168 0.2296" stroke="#f98e09" stroke-width="0.0058"/>
<path d="M0.0168 0.2288 0.0167 0.2312 0.0166 0.2335 0.0165 0.2359 0.0164 0.2375" stroke="#fa9207" stroke-width="0.0058"/>
<path d="M0.0165 0.2367 0.0164 0.2391 0.0163 0.2415 0.0162 0.2439 0.0161 0.2455" stroke="#fa9207" stroke-width="0.00588"/>
<path d="M0.0162 0.2447 0.0161 0.2471 0.016 0.2495" stroke="#fb9706" stroke-width="0.00588"/>
<path d="M0.016 0.2487 0.016 0.2511 0.0159 0.2535 0.0159 0.2559 0.0158 0.2583 0.0158 0.2607 0.0157 0.2631 0.0157 0.2655 0.0157 0.2679 0.0157 0.2703 0.0157 0.2727 0.0157 0.2751 0.0157 0.2775 0.0157 0.2798 0.0157 0.2814" stroke="#fb9706" stroke-width="0.00596"/>
<path d="M0.0157 0.2806 0.0157 0.283 0.0158 0.2854 0.0158 0.2878 0.0158 0.2894" stroke="#fb9706" stroke-width="0.00588"/>
<path d="M0.0158 0.2886 0.0158 0.291 0.0159 0.2934 0.0161 0.2958 0.0162 0.2974" stroke="#fa9207" stroke-width="0.0058"/>
<path d="M0.0162 0.2966 0.0164 0.299 0.0168 0.3014" stroke="#fa9207" stroke-width="0.00571"/>
<path d="M0.0167 0.3006 0.0171 0.303 0.0176 0.3053" stroke="#f98e09" stroke-width="0.00563"/>
<path d="M0.0174 0.3045 0.0179 0.3069 0.0186 0.3092 0.0193 0.3115 0.0199 0.313" stroke="#f98e09" stroke-width="0.00554"/>
<path d="M0.0196 0.3122 0.0204 0.3145 0.0214 0.3167" stroke="#f98e09" stroke-width="0.00546"/>
<path d="M0.0211 0.3159 0.0221 0.3181 0.0231 0.3202" stroke="#f8890c" stroke-width="0.00546"/>
<path d="M0.0228 0.3195 0.0239 0.3216 0.0251 0.3236 0.0264 0.3256 0.0277 0.3276 0.029 0.3296 0.0303 0.3316 0.0316 0.3336 0.0329 0.3355 0.0338 0.3369" stroke="#f8890c" stroke-width="0.00538"/>
<path d="M0.0333 0.3362 0.0347 0.3382 0.036 0.3402 0.0373 0.3422 0.0381 0.3436" stroke="#f98e09" stroke-width="0.00546"/>
<path d="M0.0377 0.3429 0.039 0.3449 0.0403 0.3469" stroke="#f98e09" stroke-width="0.00554"/>
<path d="M0.0399 0.3462 0.0412 0.3483 0.0425 0.3503" stroke="#fa9207" stroke-width="0.00554"/>
<path d="M0.042 0.3496 0.0433 0.3516 0.0446 0.3536 0.046 0.3557 0.0468 0.357" stroke="#fb9706" stroke-width="0.00563"/>
<path d="M0.0464 0.3563 0.0477 0.3584 0.049 0.3604" stroke="#fb9b06" stroke-width="0.00571"/>
<path d="M0.0486 0.3597 0.0499 0.3617 0.0512 0.3638" stroke="#fb9b06" stroke-width="0.0058"/>
<path d="M0.0507 0.3631 0.052 0.3651 0.0534 0.3671" stroke="#fca108" stroke-width="0.0058"/>
<path d="M0.0529 0.3665 0.0542 0.3685 0.0556 0.3705 0.0569 0.3725 0.0578 0.3738" stroke="#fca108" stroke-width="0.00588"/>
<path d="M0.0573 0.3732 0.0587 0.3752 0.0601 0.3772 0.0615 0.3791 0.0629 0.3811 0.0643 0.383 0.0648 0.3837" stroke="#fca50a" stroke-width="0.00588"/>
<path d="M0.0643 0.383 0.0658 0.3849 0.0673 0.3868 0.0688 0.3887 0.0703 0.3906 0.0718 0.3925 0.0723 0.3931" stroke="#fca50a" stroke-width="0.0058"/>
<path d="M0.0718 0.3925 0.0733 0.3944 0.0749 0.3962 0.0764 0.3981 0.0775 0.3993" stroke="#fca50a" stroke-width="0.00571"/>
<path d="M0.0769 0.3987 0.0785 0.4005 0.0801 0.4023 0.0817 0.4041 0.0828 0.4053" stroke="#fca50a" stroke-width="0.00563"/>
<path d="M0.0822 0.4047 0.0838 0.4065 0.0855 0.4083 0.0871 0.41 0.0887 0.4118 0.0904 0.4135 0.0909 0.4141" stroke="#fca50a" stroke-width="0.00554"/>
<path d="M0.0904 0.4135 0.092 0.4153 0.0937 0.417 0.0953 0.4187 0.097 0.4204 0.0987 0.4221 0.0993 0.4227" stroke="#fca50a" stroke-width="0.00546"/>
<path d="M0.0987 0.4221 0.1004 0.4238 0.1021 0.4255 0.1038 0.4272 0.1055 0.4289 0.1072 0.4305 0.109 0.4322 0.1107 0.4338" stroke="#fca50a" stroke-width="0.00554"/>
<path d="M0.1101 0.4333 0.1119 0.4349 0.1136 0.4365 0.1153 0.4381 0.1171 0.4398 0.1188 0.4414 0.1194 0.4419" stroke="#fca50a" stroke-width="0.00563"/>
<path d="M0.1188 0.4414 0.1206 0.443 0.1224 0.4446 0.1241 0.4462 0.1259 0.4478 0.1277 0.4494 0.1295 0.451 0.1313 0.4525 0.1332 0.4541 0.135 0.4556 0.1369 0.4571 0.1387 0.4586 0.1406 0.4601 0.1425 0.4615 0.1444 0.463 0.1463 0.4644 0.1483 0.4658 0.1502 0.4672 0.1522 0.4686 0.1541 0.47 0.1561 0.4713 0.1581 0.4727 0.16 0.4741 0.162 0.4754 0.164 0.4767 0.166 0.478 0.168 0.4793 0.17 0.4806 0.1721 0.4819 0.1741 0.4832 0.1761 0.4844 0.1782 0.4857 0.1802 0.4869 0.1823 0.4881 0.1843 0.4893 0.1864 0.4905 0.1871 0.4909" stroke="#fca50a" stroke-width="0.00571"/>
<path d="M0.1864 0.4905 0.1885 0.4917 0.1906 0.4929 0.1927 0.494 0.1947 0.4952 0.1968 0.4963 0.1989 0.4975 0.2011 0.4986 0.2032 0.4997 0.2053 0.5008 0.2074 0.5019 0.2084 0.5025" stroke="#fca50a" stroke-width="0.00563"/>
<path d="M0.2077 0.5021 0.2098 0.5032 0.212 0.5043 0.2141 0.5054 0.2162 0.5065 0.2183 0.5076 0.2205 0.5086 0.2226 0.5097 0.2248 0.5107 0.2269 0.5117 0.2291 0.5126 0.2313 0.5136 0.2335 0.5146 0.2356 0.5155 0.2378 0.5164 0.24 0.5173 0.2423 0.5181 0.2445 0.519 0.2467 0.5198 0.2489 0.5206 0.2512 0.5214 0.2534 0.5222 0.2557 0.523 0.2579 0.5238 0.2595 0.5243" stroke="#fca50a" stroke-width="0.00554"/>
<path d="M0.2587 0.524 0.261 0.5248 0.2632 0.5255 0.2655 0.5263 0.2678 0.527 0.2701 0.5277 0.2724 0.5284 0.2747 0.5291 0.277 0.5298 0.2793 0.5304 0.2816 0.5311 0.2839 0.5317 0.2862 0.5323 0.2886 0.5329 0.2909 0.5334 0.2932 0.534 0.2956 0.5345 0.2979 0.535 0.3003 0.5355 0.3018 0.5358" stroke="#fca50a" stroke-width="0.00563"/>
<path d="M0.3011 0.5356 0.3034 0.5361 0.3058 0.5365 0.3081 0.5369 0.3105 0.5373 0.3129 0.5376 0.3152 0.538 0.3176 0.5383 0.32 0.5386 0.3224 0.5388 0.3247 0.5391 0.3271 0.5393 0.3295 0.5396 0.3319 0.5398 0.3335 0.5399" stroke="#fca108" stroke-width="0.00571"/>
<path d="M0.3327 0.5399 0.3351 0.5401 0.3374 0.5403" stroke="#fb9b06" stroke-width="0.00571"/>
<path d="M0.3366 0.5402 0.339 0.5404 0.3414 0.5406 0.3438 0.5408 0.3462 0.5409 0.3486 0.5411 0.3509 0.5412 0.3533 0.5413 0.3557 0.5414 0.3581 0.5415 0.3605 0.5416 0.3613 0.5416" stroke="#fb9b06" stroke-width="0.0058"/>
<path d="M0.3605 0.5416 0.3629 0.5416 0.3653 0.5417 0.3677 0.5417 0.3701 0.5417 0.3725 0.5417 0.3749 0.5417 0.3773 0.5417 0.3797 0.5417 0.3813 0.5417" stroke="#fb9706" stroke-width="0.0058"/>
<path d="M0.3805 0.5417 0.3828 0.5417 0.3851 0.5416" stroke="#fa9207" stroke-width="0.0058"/>
<path d="M0.3844 0.5416 0.3867 0.5415 0.389 0.5414 0.3913 0.5412 0.3937 0.5409 0.396 0.5405 0.3984 0.5402 0.4008 0.5397" stroke="#fa9207" stroke-width="0.00571"/>
<path d="M0.4 0.5399 0.4024 0.5394 0.4047 0.5389 0.407 0.5384 0.4086 0.538" stroke="#f98e09" stroke-width="0.00571"/>
<path d="M0.4078 0.5382 0.4101 0.5376 0.4125 0.5369 0.4147 0.5361 0.417 0.5353 0.4193 0.5345 0.4215 0.5336 0.4238 0.5327 0.426 0.5317 0.4282 0.5308 0.4304 0.5298 0.4326 0.5287 0.4347 0.5277" stroke="#f98e09" stroke-width="0.00563"/>
<path d="M0.434 0.528 0.4362 0.527 0.4384 0.5259" stroke="#f98e09" stroke-width="0.00554"/>
<path d="M0.4376 0.5263 0.4398 0.5252 0.4419 0.5241 0.4441 0.523 0.4462 0.5219 0.4483 0.5207 0.4504 0.5195 0.4525 0.5183 0.4546 0.5171 0.456 0.5163" stroke="#f8890c" stroke-width="0.00554"/>
<path d="M0.4553 0.5167 0.4574 0.5155 0.4594 0.5142 0.4614 0.5129 0.4635 0.5116 0.4655 0.5103 0.4675 0.509 0.4695 0.5076" stroke="#f8890c" stroke-width="0.00546"/>
<path d="M0.4688 0.5081 0.4708 0.5067 0.4727 0.5053 0.4747 0.5039 0.476 0.503" stroke="#f8850f" stroke-width="0.00538"/>
<path d="M0.4753 0.5035 0.4773 0.502 0.4792 0.5006" stroke="#f8850f" stroke-width="0.00529"/>
<path d="M0.4785 0.5011 0.4804 0.4996 0.4823 0.4981" stroke="#f68013" stroke-width="0.00529"/>
<path d="M0.4817 0.4986 0.4836 0.4971 0.4854 0.4956" stroke="#f68013" stroke-width="0.00521"/>
<path d="M0.4848 0.4961 0.4866 0.4946 0.4885 0.4931" stroke="#f57d15" stroke-width="0.00521"/>
<path d="M0.4879 0.4936 0.4897 0.492 0.4915 0.4905 0.4933 0.4889 0.4944 0.4878" stroke="#f57d15" stroke-width="0.00512"/>
<path d="M0.4938 0.4883 0.4956 0.4867 0.4973 0.4851 0.4991 0.4834 0.5002 0.4823" stroke="#f37819" stroke-width="0.00504"/>
<path d="M0.4996 0.4829 0.5013 0.4812 0.503 0.4795 0.5047 0.4778 0.5058 0.4766" stroke="#f2741c" stroke-width="0.00504"/>
<path d="M0.5052 0.4772 0.5069 0.4755 0.5085 0.4737 0.5101 0.472 0.5112 0.4708" stroke="#f06f20" stroke-width="0.00504"/>
<path d="M0.5106 0.4714 0.5122 0.4696 0.5138 0.4678" stroke="#ee6a24" stroke-width="0.00512"/>
<path d="M0.5133 0.4684 0.5148 0.4666 0.5163 0.4648 0.5179 0.4629 0.5189 0.4617" stroke="#ec6726" stroke-width="0.00512"/>
<path d="M0.5184 0.4623 0.5198 0.4604 0.5213 0.4585" stroke="#ea632a" stroke-width="0.00521"/>
<path d="M0.5208 0.4592 0.5223 0.4573 0.5237 0.4553 0.5251 0.4534 0.5261 0.4521" stroke="#e8602d" stroke-width="0.00521"/>
<path d="M0.5256 0.4528 0.527 0.4508 0.5284 0.4488" stroke="#e55c30" stroke-width="0.00529"/>
<path d="M0.5279 0.4495 0.5293 0.4475 0.5306 0.4455 0.5319 0.4435 0.5327 0.4421" stroke="#e35933" stroke-width="0.00529"/>
<path d="M0.5323 0.4428 0.5336 0.4407 0.5348 0.4387 0.536 0.4366 0.5368 0.4352" stroke="#e05536" stroke-width="0.00529"/>
<path d="M0.5364 0.4359 0.5375 0.4337 0.5386 0.4316 0.5397 0.4294 0.5403 0.428" stroke="#de5238" stroke-width="0.00529"/>
<path d="M0.54 0.4287 0.541 0.4265 0.542 0.4243 0.5429 0.4221 0.5436 0.4206" stroke="#da4e3c" stroke-width="0.00521"/>
<path d="M0.5433 0.4213 0.5442 0.4191 0.5451 0.4169" stroke="#d84c3e" stroke-width="0.00512"/>
<path d="M0.5448 0.4176 0.5457 0.4154 0.5465 0.4132" stroke="#d44842" stroke-width="0.00504"/>
<path d="M0.5462 0.4139 0.5471 0.4117 0.5479 0.4094" stroke="#d44842" stroke-width="0.00496"/>
<path d="M0.5476 0.4102 0.5484 0.4079 0.5492 0.4057" stroke="#d24644" stroke-width="0.00479"/>
<path d="M0.549 0.4064 0.5498 0.4042 0.5505 0.402" stroke="#cb4149" stroke-width="0.0047"/>
<path d="M0.5503 0.4027 0.551 0.4005 0.5518 0.3982" stroke="#c43c4e" stroke-width="0.00462"/>
<path d="M0.5515 0.399 0.5523 0.3967 0.553 0.3945" stroke="#b93556" stroke-width="0.00445"/>
<path d="M0.5528 0.3952 0.5535 0.393 0.5542 0.3907" stroke="#a92e5e" stroke-width="0.00437"/>
<path d="M0.554 0.3915 0.5547 0.3893 0.5555 0.387" stroke="#952667" stroke-width="0.0042"/>
<path d="M0.5552 0.3878 0.5559 0.3855 0.5566 0.3834" stroke="#781d74" stroke-width="0.00412"/>
<path d="M0.5564 0.3841 0.557 0.3819 0.5575 0.3797" stroke="#6a187a" stroke-width="0.00403"/>
<path d="M0.5573 0.3804 0.5578 0.3782 0.5581 0.3759" stroke="#61157d" stroke-width="0.00386"/>
<path d="M0.558 0.3767 0.5583 0.3744 0.5584 0.372" stroke="#591280" stroke-width="0.0037"/>
<path d="M0.5584 0.3728 0.5585 0.3704 0.5584 0.3681" stroke="#500f81" stroke-width="0.00353"/>
<path d="M0.5584 0.3689 0.5583 0.3665 0.5579 0.3641" stroke="#4c0e7f" stroke-width="0.00328"/>
<path d="M0.5581 0.3649 0.5577 0.3625 0.5571 0.3602" stroke="#4a0d7c" stroke-width="0.00311"/>
<path d="M0.5573 0.3609 0.5567 0.3586 0.556 0.3563" stroke="#450b7a" stroke-width="0.00294"/>
<path d="M0.5562 0.3571 0.5554 0.3548 0.5544 0.3526" stroke="#420a77" stroke-width="0.00286"/>
<path d="M0.5548 0.3533 0.5537 0.3511 0.5526 0.349" stroke="#420a77" stroke-width="0.00277"/>
<path d="M0.553 0.3497 0.5517 0.3476 0.5504 0.3456" stroke="#3e0a73" stroke-width="0.00269"/>
<path d="M0.5508 0.3463 0.5494 0.3444 0.5478 0.3425 0.5462 0.3408 0.545 0.3397" stroke="#3b0970" stroke-width="0.00269"/>
<path d="M0.5456 0.3403 0.5438 0.3387 0.542 0.3372" stroke="#3b0970" stroke-width="0.00277"/>
<path d="M0.5426 0.3377 0.5407 0.3362 0.5388 0.3349 0.5367 0.3337 0.5354 0.3329" stroke="#36096b" stroke-width="0.00277"/>
<path d="M0.5361 0.3333 0.534 0.3322 0.5318 0.3313" stroke="#3b0970" stroke-width="0.00277"/>
<path d="M0.5325 0.3316 0.5303 0.3307 0.5281 0.3299" stroke="#3b0970" stroke-width="0.00286"/>
<path d="M0.5289 0.3302 0.5266 0.3295 0.5243 0.3289" stroke="#3e0a73" stroke-width="0.00286"/>
<path d="M0.5251 0.3291 0.5228 0.3286 0.5205 0.3282" stroke="#420a77" stroke-width="0.00294"/>
<path d="M0.5213 0.3283 0.5189 0.328 0.5166 0.3279" stroke="#4a0d7c" stroke-width="0.00302"/>
<path d="M0.5174 0.3279 0.515 0.3278 0.5126 0.3278" stroke="#500f81" stroke-width="0.00311"/>
<path d="M0.5134 0.3278 0.5111 0.3279 0.5087 0.3281" stroke="#591280" stroke-width="0.00319"/>
<path d="M0.5095 0.328 0.5072 0.3283 0.5048 0.3287" stroke="#61157d" stroke-width="0.00328"/>
<path d="M0.5056 0.3286 0.5033 0.3291 0.501 0.3296" stroke="#6a187a" stroke-width="0.00336"/>
<path d="M0.5018 0.3294 0.4995 0.3301 0.4973 0.3308" stroke="#781d74" stroke-width="0.00344"/>
<path d="M0.498 0.3306 0.4958 0.3314 0.4937 0.3323" stroke="#81206f" stroke-width="0.00353"/>
<path d="M0.4944 0.332 0.4923 0.333 0.4902 0.334" stroke="#8d2369" stroke-width="0.00361"/>
<path d="M0.4909 0.3337 0.4888 0.3348 0.4868 0.336" stroke="#9a2865" stroke-width="0.0037"/>
<path d="M0.4875 0.3356 0.4854 0.3368 0.4833 0.338" stroke="#ad305d" stroke-width="0.00378"/>
<path d="M0.484 0.3376 0.4819 0.3388 0.4797 0.3399" stroke="#c43c4e" stroke-width="0.00386"/>
<path d="M0.4804 0.3395 0.4783 0.3406 0.4761 0.3417" stroke="#ce4347" stroke-width="0.00403"/>
<path d="M0.4768 0.3413 0.4746 0.3423 0.4725 0.3433" stroke="#d44842" stroke-width="0.00412"/>
<path d="M0.4732 0.343 0.471 0.3439 0.4687 0.3448" stroke="#da4e3c" stroke-width="0.00428"/>
<path d="M0.4695 0.3445 0.4673 0.3454 0.465 0.3462" stroke="#de5238" stroke-width="0.00437"/>
<path d="M0.4658 0.346 0.4635 0.3468 0.4612 0.3475" stroke="#e05536" stroke-width="0.00454"/>
<path d="M0.462 0.3473 0.4597 0.348 0.4574 0.3487" stroke="#e05536" stroke-width="0.00462"/>
<path d="M0.4582 0.3485 0.4559 0.3491 0.4536 0.3497" stroke="#e35933" stroke-width="0.00479"/>
<path d="M0.4543 0.3495 0.452 0.3501 0.4497 0.3506 0.4493 0.3507" stroke="#e35933" stroke-width="0.00487"/>
<path d="M0.4501 0.3506 0.4477 0.3511 0.4454 0.3516" stroke="#e55c30" stroke-width="0.00496"/>
<path d="M0.4462 0.3514 0.4438 0.3519 0.4415 0.3523" stroke="#e55c30" stroke-width="0.00504"/>
<path d="M0.4423 0.3522 0.4399 0.3526 0.4376 0.3531" stroke="#e55c30" stroke-width="0.00512"/>
<path d="M0.4384 0.3529 0.436 0.3534 0.4337 0.3538 0.4314 0.3543 0.4298 0.3546" stroke="#e8602d" stroke-width="0.00521"/>
<path d="M0.4306 0.3544 0.4282 0.3548 0.4259 0.3553 0.4235 0.3557 0.422 0.3559" stroke="#ea632a" stroke-width="0.00529"/>
<path d="M0.4227 0.3558 0.4204 0.3562 0.418 0.3565 0.4157 0.3568 0.4141 0.3571" stroke="#ec6726" stroke-width="0.00538"/>
<path d="M0.4149 0.357 0.4125 0.3573 0.4101 0.3575 0.4078 0.3578 0.4062 0.3579" stroke="#ee6a24" stroke-width="0.00546"/>
<path d="M0.407 0.3578 0.4046 0.358 0.4022 0.3582 0.3998 0.3584 0.3975 0.3585 0.3951 0.3585 0.3927 0.3586 0.3903 0.3586" stroke="#f06f20" stroke-width="0.00554"/>
<path d="M0.3911 0.3586 0.3887 0.3586 0.3863 0.3585 0.3839 0.3584 0.3815 0.3583 0.3792 0.3582 0.3768 0.3581 0.3744 0.3579 0.372 0.3577 0.3696 0.3575 0.3672 0.3573 0.3649 0.357 0.3625 0.3568" stroke="#f2741c" stroke-width="0.00554"/>
<path d="M0.3633 0.3569 0.3609 0.3566 0.3585 0.3563 0.3562 0.356 0.3538 0.3556 0.3514 0.3553 0.3491 0.3549 0.3467 0.3545 0.3444 0.3541 0.342 0.3537 0.3397 0.3532 0.3373 0.3527 0.335 0.3522 0.3327 0.3516 0.3312 0.3513" stroke="#f37819" stroke-width="0.00554"/>
<path d="M0.3319 0.3514 0.3296 0.3509 0.3273 0.3503 0.325 0.3496 0.3235 0.3492" stroke="#f57d15" stroke-width="0.00546"/>
<path d="M0.3242 0.3494 0.322 0.3487 0.3197 0.348 0.3174 0.3473 0.3151 0.3466 0.3129 0.3458 0.3121 0.3455" stroke="#f57d15" stroke-width="0.00538"/>
<path d="M0.3129 0.3458 0.3106 0.345 0.3084 0.3442" stroke="#f57d15" stroke-width="0.00529"/>
<path d="M0.3092 0.3444 0.3069 0.3436 0.3047 0.3427 0.3025 0.3418 0.3003 0.3409 0.2981 0.3399 0.2959 0.339 0.2938 0.338 0.2916 0.337 0.2894 0.336 0.2873 0.335 0.2851 0.3339 0.2829 0.3329 0.2808 0.3318 0.2787 0.3308 0.2765 0.3297 0.2744 0.3286 0.2722 0.3275 0.2701 0.3264 0.268 0.3253 0.2659 0.3242 0.2638 0.323 0.2617 0.3219 0.2596 0.3207 0.2576 0.3194 0.2555 0.3181 0.2535 0.3169 0.2515 0.3156 0.2495 0.3142 0.2475 0.3129 0.2455 0.3116 0.2448 0.3111" stroke="#f68013" stroke-width="0.00529"/>
<path d="M0.2455 0.3116 0.2435 0.3102 0.2416 0.3088 0.2396 0.3074 0.2383 0.3065" stroke="#f57d15" stroke-width="0.00529"/>
<path d="M0.239 0.3069 0.2371 0.3055 0.2352 0.3041 0.2333 0.3026 0.232 0.3016" stroke="#f57d15" stroke-width="0.00538"/>
<path d="M0.2326 0.3021 0.2308 0.3006 0.229 0.2991 0.2272 0.2976 0.2255 0.296 0.2238 0.2943 0.2221 0.2927 0.2204 0.291 0.2188 0.2893 0.2178 0.2881" stroke="#f37819" stroke-width="0.00538"/>
<path d="M0.2183 0.2887 0.2168 0.2869 0.2152 0.2851 0.2138 0.2833 0.2123 0.2815 0.2109 0.2796 0.2095 0.2777 0.2081 0.2758 0.2068 0.2739 0.2056 0.2719 0.2043 0.27 0.2031 0.268 0.2019 0.2659" stroke="#f2741c" stroke-width="0.00546"/>
<path d="M0.2023 0.2666 0.2011 0.2646 0.1999 0.2625 0.1987 0.2605 0.1974 0.2584 0.1962 0.2564 0.195 0.2543 0.1939 0.2523 0.1927 0.2502 0.1915 0.2481 0.1904 0.2461 0.1892 0.244 0.1881 0.2419 0.1869 0.2398 0.1862 0.2384" stroke="#f2741c" stroke-width="0.00554"/>
<path d="M0.1865 0.2391 0.1854 0.237 0.1843 0.2349 0.1831 0.2328 0.182 0.2307 0.1809 0.2286 0.1798 0.2265 0.1788 0.2244" stroke="#f2741c" stroke-width="0.00563"/>
<path d="M0.1791 0.2251 0.1781 0.2229 0.177 0.2208 0.176 0.2186 0.1754 0.2172" stroke="#f2741c" stroke-width="0.00554"/>
<path d="M0.1757 0.2179 0.1747 0.2157 0.1738 0.2135 0.1728 0.2113 0.1719 0.2091 0.171 0.2069 0.1702 0.2047 0.1693 0.2024" stroke="#f06f20" stroke-width="0.00554"/>
<path d="M0.1696 0.2032 0.1688 0.2009 0.1679 0.1987 0.1671 0.1964 0.1664 0.1941 0.1656 0.1919 0.1649 0.1896 0.1642 0.1873" stroke="#ee6a24" stroke-width="0.00554"/>
<path d="M0.1644 0.188 0.1637 0.1858 0.163 0.1835 0.1624 0.1811 0.1618 0.1788 0.1611 0.1765 0.1609 0.1758" stroke="#ec6726" stroke-width="0.00554"/>
<path d="M0.1611 0.1765 0.1605 0.1742 0.1599 0.1719 0.1593 0.1696 0.1589 0.168" stroke="#ea632a" stroke-width="0.00546"/>
<path d="M0.1591 0.1688 0.1585 0.1665 0.1579 0.1642 0.1574 0.1618 0.157 0.1603" stroke="#e8602d" stroke-width="0.00546"/>
<path d="M0.1572 0.1611 0.1566 0.1587 0.156 0.1564" stroke="#e55c30" stroke-width="0.00546"/>
<path d="M0.1562 0.1572 0.1557 0.1549 0.1551 0.1525" stroke="#e55c30" stroke-width="0.00538"/>
<path d="M0.1553 0.1533 0.1548 0.151 0.1543 0.1486 0.1538 0.1463 0.1535 0.1447" stroke="#e35933" stroke-width="0.00538"/>
<path d="M0.1536 0.1455 0.1531 0.1431 0.1527 0.1408" stroke="#e05536" stroke-width="0.00529"/>
<path d="M0.1528 0.1416 0.1524 0.1392 0.1519 0.1369" stroke="#de5238" stroke-width="0.00529"/>
<path d="M0.1521 0.1377 0.1517 0.1353 0.1512 0.1329" stroke="#da4e3c" stroke-width="0.00529"/>
<path d="M0.1514 0.1337 0.1509 0.1314 0.1505 0.129" stroke="#da4e3c" stroke-width="0.00521"/>
<path d="M0.1507 0.1298 0.1503 0.1274 0.1499 0.1251" stroke="#d84c3e" stroke-width="0.00521"/>
<path d="M0.15 0.1258 0.1496 0.1235 0.1493 0.1211" stroke="#d44842" stroke-width="0.00512"/>
<path d="M0.1494 0.1219 0.1491 0.1195 0.1487 0.1171" stroke="#d24644" stroke-width="0.00512"/>
<path d="M0.1488 0.1179 0.1485 0.1156 0.1482 0.1132" stroke="#ce4347" stroke-width="0.00504"/>
<path d="M0.1483 0.114 0.148 0.1116 0.1477 0.1092" stroke="#c73e4c" stroke-width="0.00496"/>
<path d="M0.1478 0.11 0.1476 0.1076 0.1473 0.1052" stroke="#c03a51" stroke-width="0.00487"/>
<path d="M0.1474 0.106 0.1472 0.1036 0.147 0.1012" stroke="#b93556" stroke-width="0.00479"/>
<path d="M0.147 0.102 0.1468 0.0996 0.1467 0.0973" stroke="#b1325a" stroke-width="0.0047"/>
<path d="M0.1467 0.0981 0.1466 0.0957 0.1464 0.0933" stroke="#a92e5e" stroke-width="0.00454"/>
<path d="M0.1465 0.0941 0.1464 0.0917 0.1463 0.0893" stroke="#a22b62" stroke-width="0.00445"/>
<path d="M0.1463 0.0901 0.1463 0.0877 0.1462 0.0853" stroke="#952667" stroke-width="0.00428"/>
<path d="M0.1462 0.0861 0.1462 0.0837 0.1461 0.0813" stroke="#8d2369" stroke-width="0.0042"/>
<path d="M0.1461 0.0821 0.1461 0.0797 0.146 0.0773" stroke="#81206f" stroke-width="0.00403"/>
<path d="M0.146 0.0781 0.1459 0.0757 0.1457 0.0733" stroke="#781d74" stroke-width="0.00386"/>
<path d="M0.1458 0.0741 0.1456 0.0717 0.1455 0.0693" stroke="#6a187a" stroke-width="0.00378"/>
<path d="M0.1455 0.0701 0.1453 0.0677 0.1451 0.0653" stroke="#61157d" stroke-width="0.00361"/>
<path d="M0.1452 0.0661 0.145 0.0637 0.1448 0.0613" stroke="#591280" stroke-width="0.00353"/>
<path d="M0.1449 0.0621 0.1446 0.0597 0.1444 0.0574" stroke="#541081" stroke-width="0.00336"/>
<path d="M0.1445 0.0581 0.1442 0.0558 0.1438 0.0534" stroke="#4c0e7f" stroke-width="0.00328"/>
<path d="M0.1439 0.0542 0.1434 0.0519 0.1427 0.0496" stroke="#4a0d7c" stroke-width="0.00319"/>
<path d="M0.143 0.0504 0.1422 0.0481 0.1414 0.0459" stroke="#420a77" stroke-width="0.00302"/>
<path d="M0.1417 0.0467 0.1407 0.0445 0.1396 0.0424" stroke="#3e0a73" stroke-width="0.00294"/>
<path d="M0.14 0.0431 0.1389 0.0411 0.1376 0.0391" stroke="#3b0970" stroke-width="0.00286"/>
<path d="M0.138 0.0397 0.1367 0.0378 0.1353 0.0359" stroke="#330a67" stroke-width="0.00277"/>
<path d="M0.1358 0.0366 0.1344 0.0348 0.1328 0.033" stroke="#2e0a61" stroke-width="0.00269"/>
<path d="M0.1333 0.0336 0.1318 0.0319 0.1301 0.0303" stroke="#290b59" stroke-width="0.00252"/>
<path d="M0.1307 0.0308 0.1289 0.0293 0.1272 0.0278" stroke="#240c51" stroke-width="0.00244"/>
<path d="M0.1278 0.0283 0.1259 0.0269 0.124 0.0256" stroke="#1f0c48" stroke-width="0.00235"/>
<path d="M0.1247 0.026 0.1227 0.0248 0.1207 0.0237" stroke="#1b0c41" stroke-width="0.00227"/>
<path d="M0.1214 0.0241 0.1194 0.023 0.1173 0.0221" stroke="#160b39" stroke-width="0.00218"/>
<path d="M0.118 0.0224 0.1158 0.0215 0.1137 0.0208" stroke="#160b39" stroke-width="0.0021"/>
<path d="M0.1144 0.021 0.1122 0.0203 0.11 0.0198" stroke="#120a32" stroke-width="0.00202"/>
<path d="M0.1107 0.02 0.1085 0.0194 0.1062 0.0189" stroke="#120a32" stroke-width="0.00193"/>
<path d="M0.107 0.0191 0.1047 0.0186 0.1024 0.0183" stroke="#120a32" stroke-width="0.00185"/>
<path d="M0.1031 0.0184 0.1008 0.0182 0.0984 0.0182 0.0961 0.0183 0.0945 0.0185" stroke="#120a32" stroke-width="0.00176"/>
<path d="M0.0953 0.0184 0.0929 0.0187 0.0906 0.0191" stroke="#160b39" stroke-width="0.00185"/>
<path d="M0.0914 0.019 0.0891 0.0195 0.0868 0.0202 0.0864 0.0203" stroke="#160b39" stroke-width="0.00193"/>
<path d="M0.0872 0.0201 0.0849 0.0209 0.0828 0.0218" stroke="#1c0c43" stroke-width="0.0017"/>
<path d="M0.0835 0.0214 0.0813 0.0224 0.0792 0.0236" stroke="#260c54" stroke-width="0.00184"/>
<path d="M0.0799 0.0232 0.0779 0.0244 0.0759 0.0257" stroke="#2b0b5c" stroke-width="0.00197"/>
<path d="M0.0765 0.0253 0.0746 0.0267 0.0728 0.0282" stroke="#300a63" stroke-width="0.00211"/>
<path d="M0.0734 0.0277 0.0716 0.0292 0.0699 0.0309" stroke="#38096d" stroke-width="0.00218"/>
<path d="M0.0704 0.0304 0.0688 0.0321 0.0672 0.0339" stroke="#3c0972" stroke-width="0.00231"/>
<path d="M0.0677 0.0333 0.0662 0.0351 0.0648 0.0371" stroke="#440b79" stroke-width="0.00245"/>
<path d="M0.0653 0.0364 0.0639 0.0384 0.0627 0.0404" stroke="#4c0e7f" stroke-width="0.00258"/>
<path d="M0.0631 0.0397 0.0619 0.0418 0.0608 0.0439" stroke="#541081" stroke-width="0.00265"/>
<path d="M0.0612 0.0432 0.0601 0.0453 0.0592 0.0475" stroke="#5e147e" stroke-width="0.00279"/>
<path d="M0.0595 0.0468 0.0586 0.049 0.0577 0.0512" stroke="#66177b" stroke-width="0.00292"/>
<path d="M0.058 0.0505 0.0571 0.0527 0.0562 0.0549" stroke="#741c75" stroke-width="0.00306"/>
<path d="M0.0565 0.0542 0.0556 0.0564 0.0547 0.0587" stroke="#84216e" stroke-width="0.0032"/>
<path d="M0.055 0.0579 0.0541 0.0601 0.0532 0.0624" stroke="#922568" stroke-width="0.00333"/>
<path d="M0.0535 0.0616 0.0527 0.0639 0.0518 0.0661" stroke="#9f2a63" stroke-width="0.00347"/>
<path d="M0.0521 0.0654 0.0512 0.0676 0.0504 0.0699" stroke="#a62d60" stroke-width="0.0036"/>
<path d="M0.0507 0.0691 0.0498 0.0714 0.049 0.0736" stroke="#b43359" stroke-width="0.00367"/>
<path d="M0.0493 0.0729 0.0485 0.0751 0.0477 0.0774" stroke="#c03a51" stroke-width="0.00381"/>
<path d="M0.0479 0.0766 0.0471 0.0789 0.0463 0.0812" stroke="#c73e4c" stroke-width="0.00388"/>
<path d="M0.0466 0.0804 0.0458 0.0827 0.045 0.0849" stroke="#cf4446" stroke-width="0.00394"/>
<path d="M0.0453 0.0842 0.0445 0.0864 0.0437 0.0887" stroke="#d54a41" stroke-width="0.00401"/>
<path d="M0.0439 0.0879 0.0432 0.0902 0.0424 0.0925" stroke="#d94d3d" stroke-width="0.00408"/>
<path d="M0.0426 0.0917 0.0418 0.094 0.0411 0.0962" stroke="#dd513a" stroke-width="0.00408"/>
<path d="M0.0413 0.0955 0.0405 0.0977 0.0398 0.1" stroke="#df5337" stroke-width="0.00415"/>
<path d="M0.04 0.0993 0.0393 0.1015 0.0385 0.1038" stroke="#e25734" stroke-width="0.00415"/>
<path d="M0.0387 0.103 0.038 0.1053 0.0373 0.1076" stroke="#e55c30" stroke-width="0.00422"/>
<path d="M0.0375 0.1068 0.0368 0.1091 0.0361 0.1114" stroke="#e8602d" stroke-width="0.00422"/>
<path d="M0.0364 0.1107 0.0357 0.113 0.035 0.1153" stroke="#ea632a" stroke-width="0.00422"/>
<path d="M0.0353 0.1145 0.0346 0.1168 0.034 0.1191 0.0334 0.1214 0.033 0.123" stroke="#ec6726" stroke-width="0.00428"/>
<path d="M0.0332 0.1222 0.0326 0.1245 0.032 0.1269" stroke="#ef6c23" stroke-width="0.00428"/>
<path d="M0.0322 0.1261 0.0316 0.1284 0.0311 0.1307" stroke="#f06f20" stroke-width="0.00428"/>
<path d="M0.0313 0.13 0.0307 0.1323 0.0302 0.1346" stroke="#f06f20" stroke-width="0.00435"/>
<path d="M0.0304 0.1339 0.0298 0.1362 0.0293 0.1385 0.0288 0.1409 0.0284 0.1424" stroke="#f2741c" stroke-width="0.00435"/>
<path d="M0.0286 0.1416 0.028 0.144 0.0275 0.1463" stroke="#f47918" stroke-width="0.00435"/>
<path d="M0.0277 0.1455 0.0272 0.1479 0.0267 0.1502 0.0261 0.1526 0.0258 0.1541" stroke="#f67e14" stroke-width="0.00442"/>
<path d="M0.026 0.1533 0.0254 0.1557 0.0249 0.158 0.0245 0.1604 0.0241 0.162" stroke="#f78212" stroke-width="0.00442"/>
<path d="M0.0243 0.1612 0.0238 0.1635 0.0234 0.1659" stroke="#f8870e" stroke-width="0.00442"/>
<path d="M0.0235 0.1651 0.0231 0.1675 0.0226 0.1698" stroke="#f8870e" stroke-width="0.00449"/>
<path d="M0.0228 0.169 0.0224 0.1714 0.022 0.1738" stroke="#f98c0a" stroke-width="0.00449"/>
<path d="M0.0221 0.173 0.0217 0.1754 0.0213 0.1778 0.021 0.1801 0.0207 0.1825 0.0203 0.1849 0.0202 0.1857" stroke="#fa9008" stroke-width="0.00449"/>
<path d="M0.0203 0.1849 0.02 0.1873 0.0198 0.1897" stroke="#fb9606" stroke-width="0.00449"/>
<path d="M0.0199 0.1889 0.0196 0.1913 0.0193 0.1937" stroke="#fb9606" stroke-width="0.00456"/>
<path d="M0.0194 0.1929 0.0191 0.1953 0.0189 0.1977 0.0187 0.2 0.0185 0.2016" stroke="#fb9b06" stroke-width="0.00456"/>
<path d="M0.0186 0.2008 0.0183 0.2032 0.0181 0.2056 0.0179 0.208 0.0178 0.2096" stroke="#fca108" stroke-width="0.00456"/>
<path d="M0.0179 0.2088 0.0177 0.2112 0.0175 0.2136 0.0174 0.216 0.0173 0.2176" stroke="#fca108" stroke-width="0.00462"/>
<path d="M0.0174 0.2168 0.0173 0.2192 0.0172 0.2216 0.0171 0.224 0.017 0.2256" stroke="#fca50a" stroke-width="0.00462"/>
<path d="M0.017 0.2248 0.0169 0.2272 0.0168 0.2296" stroke="#fca50a" stroke-width="0.00469"/>
<path d="M0.0168 0.2288 0.0167 0.2312 0.0166 0.2335 0.0165 0.2359 0.0164 0.2375" stroke="#fcaa0f" stroke-width="0.00469"/>
<path d="M0.0165 0.2367 0.0164 0.2391 0.0163 0.2415 0.0162 0.2439 0.0161 0.2455" stroke="#fcaa0f" stroke-width="0.00476"/>
<path d="M0.0162 0.2447 0.0161 0.2471 0.016 0.2495" stroke="#fcb014" stroke-width="0.00476"/>
<path d="M0.016 0.2487 0.016 0.2511 0.0159 0.2535 0.0159 0.2559 0.0158 0.2583 0.0158 0.2607 0.0157 0.2631 0.0157 0.2655 0.0157 0.2679 0.0157 0.2703 0.0157 0.2727 0.0157 0.2751 0.0157 0.2775 0.0157 0.2798 0.0157 0.2814" stroke="#fcb014" stroke-width="0.00483"/>
<path d="M0.0157 0.2806 0.0157 0.283 0.0158 0.2854 0.0158 0.2878 0.0158 0.2894" stroke="#fcb014" stroke-width="0.00476"/>
<path d="M0.0158 0.2886 0.0158 0.291 0.0159 0.2934 0.0161 0.2958 0.0162 0.2974" stroke="#fcaa0f" stroke-width="0.00469"/>
<path d="M0.0162 0.2966 0.0164 0.299 0.0168 0.3014" stroke="#fcaa0f" stroke-width="0.00462"/>
<path d="M0.0167 0.3006 0.0171 0.303 0.0176 0.3053" stroke="#fca50a" stroke-width="0.00456"/>
<path d="M0.0174 0.3045 0.0179 0.3069 0.0186 0.3092 0.0193 0.3115 0.0199 0.313" stroke="#fca50a" stroke-width="0.00449"/>
<path d="M0.0196 0.3122 0.0204 0.3145 0.0214 0.3167" stroke="#fca50a" stroke-width="0.00442"/>
<path d="M0.0211 0.3159 0.0221 0.3181 0.0231 0.3202" stroke="#fca108" stroke-width="0.00442"/>
<path d="M0.0228 0.3195 0.0239 0.3216 0.0251 0.3236 0.0264 0.3256 0.0277 0.3276 0.029 0.3296 0.0303 0.3316 0.0316 0.3336 0.0329 0.3355 0.0338 0.3369" stroke="#fca108" stroke-width="0.00435"/>
<path d="M0.0333 0.3362 0.0347 0.3382 0.036 0.3402 0.0373 0.3422 0.0381 0.3436" stroke="#fca50a" stroke-width="0.00442"/>
<path d="M0.0377 0.3429 0.039 0.3449 0.0403 0.3469" stroke="#fca50a" stroke-width="0.00449"/>
<path d="M0.0399 0.3462 0.0412 0.3483 0.0425 0.3503" stroke="#fcaa0f" stroke-width="0.00449"/>
<path d="M0.042 0.3496 0.0433 0.3516 0.0446 0.3536 0.046 0.3557 0.0468 0.357" stroke="#fcb014" stroke-width="0.00456"/>
<path d="M0.0464 0.3563 0.0477 0.3584 0.049 0.3604" stroke="#fbb61a" stroke-width="0.00462"/>
<path d="M0.0486 0.3597 0.0499 0.3617 0.0512 0.3638" stroke="#fbb61a" stroke-width="0.00469"/>
<path d="M0.0507 0.3631 0.052 0.3651 0.0534 0.3671" stroke="#fbba1f" stroke-width="0.00469"/>
<path d="M0.0529 0.3665 0.0542 0.3685 0.0556 0.3705 0.0569 0.3725 0.0578 0.3738" stroke="#fbba1f" stroke-width="0.00476"/>
<path d="M0.0573 0.3732 0.0587 0.3752 0.0601 0.3772 0.0615 0.3791 0.0629 0.3811 0.0643 0.383 0.0648 0.3837" stroke="#fac026" stroke-width="0.00476"/>
<path d="M0.0643 0.383 0.0658 0.3849 0.0673 0.3868 0.0688 0.3887 0.0703 0.3906 0.0718 0.3925 0.0723 0.3931" stroke="#fac026" stroke-width="0.00469"/>
<path d="M0.0718 0.3925 0.0733 0.3944 0.0749 0.3962 0.0764 0.3981 0.0775 0.3993" stroke="#fac026" stroke-width="0.00462"/>
<path d="M0.0769 0.3987 0.0785 0.4005 0.0801 0.4023 0.0817 0.4041 0.0828 0.4053" stroke="#fac026" stroke-width="0.00456"/>
<path d="M0.0822 0.4047 0.0838 0.4065 0.0855 0.4083 0.0871 0.41 0.0887 0.4118 0.0904 0.4135 0.0909 0.4141" stroke="#fac026" stroke-width="0.00449"/>
<path d="M0.0904 0.4135 0.092 0.4153 0.0937 0.417 0.0953 0.4187 0.097 0.4204 0.0987 0.4221 0.0993 0.4227" stroke="#fac026" stroke-width="0.00442"/>
<path d="M0.0987 0.4221 0.1004 0.4238 0.1021 0.4255 0.1038 0.4272 0.1055 0.4289 0.1072 0.4305 0.109 0.4322 0.1107 0.4338" stroke="#fac026" stroke-width="0.00449"/>
<path d="M0.1101 0.4333 0.1119 0.4349 0.1136 0.4365 0.1153 0.4381 0.1171 0.4398 0.1188 0.4414 0.1194 0.4419" stroke="#fac026" stroke-width="0.00456"/>
<path d="M0.1188 0.4414 0.1206 0.443 0.1224 0.4446 0.1241 0.4462 0.1259 0.4478 0.1277 0.4494 0.1295 0.451 0.1313 0.4525 0.1332 0.4541 0.135 0.4556 0.1369 0.4571 0.1387 0.4586 0.1406 0.4601 0.1425 0.4615 0.1444 0.463 0.1463 0.4644 0.1483 0.4658 0.1502 0.4672 0.1522 0.4686 0.1541 0.47 0.1561 0.4713 0.1581 0.4727 0.16 0.4741 0.162 0.4754 0.164 0.4767 0.166 0.478 0.168 0.4793 0.17 0.4806 0.1721 0.4819 0.1741 0.4832 0.1761 0.4844 0.1782 0.4857 0.1802 0.4869 0.1823 0.4881 0.1843 0.4893 0.1864 0.4905 0.1871 0.4909" stroke="#fac026" stroke-width="0.00462"/>
<path d="M0.1864 0.4905 0.1885 0.4917 0.1906 0.4929 0.1927 0.494 0.1947 0.4952 0.1968 0.4963 0.1989 0.4975 0.2011 0.4986 0.2032 0.4997 0.2053 0.5008 0.2074 0.5019 0.2084 0.5025" stroke="#fac026" stroke-width="0.00456"/>
<path d="M0.2077 0.5021 0.2098 0.5032 0.212 0.5043 0.2141 0.5054 0.2162 0.5065 0.2183 0.5076 0.2205 0.5086 0.2226 0.5097 0.2248 0.5107 0.2269 0.5117 0.2291 0.5126 0.2313 0.5136 0.2335 0.5146 0.2356 0.5155 0.2378 0.5164 0.24 0.5173 0.2423 0.5181 0.2445 0.519 0.2467 0.5198 0.2489 0.5206 0.2512 0.5214 0.2534 0.5222 0.2557 0.523 0.2579 0.5238 0.2595 0.5243" stroke="#fac026" stroke-width="0.00449"/>
<path d="M0.2587 0.524 0.261 0.5248 0.2632 0.5255 0.2655 0.5263 0.2678 0.527 0.2701 0.5277 0.2724 0.5284 0.2747 0.5291 0.277 0.5298 0.2793 0.5304 0.2816 0.5311 0.2839 0.5317 0.2862 0.5323 0.2886 0.5329 0.2909 0.5334 0.2932 0.534 0.2956 0.5345 0.2979 0.535 0.3003 0.5355 0.3018 0.5358" stroke="#fac026" stroke-width="0.00456"/>
<path d="M0.3011 0.5356 0.3034 0.5361 0.3058 0.5365 0.3081 0.5369 0.3105 0.5373 0.3129 0.5376 0.3152 0.538 0.3176 0.5383 0.32 0.5386 0.3224 0.5388 0.3247 0.5391 0.3271 0.5393 0.3295 0.5396 0.3319 0.5398 0.3335 0.5399" stroke="#fbba1f" stroke-width="0.00462"/>
<path d="M0.3327 0.5399 0.3351 0.5401 0.3374 0.5403" stroke="#fbb61a" stroke-width="0.00462"/>
<path d="M0.3366 0.5402 0.339 0.5404 0.3414 0.5406 0.3438 0.5408 0.3462 0.5409 0.3486 0.5411 0.3509 0.5412 0.3533 0.5413 0.3557 0.5414 0.3581 0.5415 0.3605 0.5416 0.3613 0.5416" stroke="#fbb61a" stroke-width="0.00469"/>
<path d="M0.3605 0.5416 0.3629 0.5416 0.3653 0.5417 0.3677 0.5417 0.3701 0.5417 0.3725 0.5417 0.3749 0.5417 0.3773 0.5417 0.3797 0.5417 0.3813 0.5417" stroke="#fcb014" stroke-width="0.00469"/>
<path d="M0.3805 0.5417 0.3828 0.5417 0.3851 0.5416" stroke="#fcaa0f" stroke-width="0.00469"/>
<path d="M0.3844 0.5416 0.3867 0.5415 0.389 0.5414 0.3913 0.5412 0.3937 0.5409 0.396 0.5405 0.3984 0.5402 0.4008 0.5397" stroke="#fcaa0f" stroke-width="0.00462"/>
<path d="M0.4 0.5399 0.4024 0.5394 0.4047 0.5389 0.407 0.5384 0.4086 0.538" stroke="#fca50a" stroke-width="0.00462"/>
<path d="M0.4078 0.5382 0.4101 0.5376 0.4125 0.5369 0.4147 0.5361 0.417 0.5353 0.4193 0.5345 0.4215 0.5336 0.4238 0.5327 0.426 0.5317 0.4282 0.5308 0.4304 0.5298 0.4326 0.5287 0.4347 0.5277" stroke="#fca50a" stroke-width="0.00456"/>
<path d="M0.434 0.528 0.4362 0.527 0.4384 0.5259" stroke="#fca50a" stroke-width="0.00449"/>
<path d="M0.4376 0.5263 0.4398 0.5252 0.4419 0.5241 0.4441 0.523 0.4462 0.5219 0.4483 0.5207 0.4504 0.5195 0.4525 0.5183 0.4546 0.5171 0.456 0.5163" stroke="#fca108" stroke-width="0.00449"/>
<path d="M0.4553 0.5167 0.4574 0.5155 0.4594 0.5142 0.4614 0.5129 0.4635 0.5116 0.4655 0.5103 0.4675 0.509 0.4695 0.5076" stroke="#fca108" stroke-width="0.00442"/>
<path d="M0.4688 0.5081 0.4708 0.5067 0.4727 0.5053 0.4747 0.5039 0.476 0.503" stroke="#fb9b06" stroke-width="0.00435"/>
<path d="M0.4753 0.5035 0.4773 0.502 0.4792 0.5006" stroke="#fb9b06" stroke-width="0.00428"/>
<path d="M0.4785 0.5011 0.4804 0.4996 0.4823 0.4981" stroke="#fb9606" stroke-width="0.00428"/>
<path d="M0.4817 0.4986 0.4836 0.4971 0.4854 0.4956" stroke="#fb9606" stroke-width="0.00422"/>
<path d="M0.4848 0.4961 0.4866 0.4946 0.4885 0.4931" stroke="#fa9008" stroke-width="0.00422"/>
<path d="M0.4879 0.4936 0.4897 0.492 0.4915 0.4905 0.4933 0.4889 0.4944 0.4878" stroke="#fa9008" stroke-width="0.00415"/>
<path d="M0.4938 0.4883 0.4956 0.4867 0.4973 0.4851 0.4991 0.4834 0.5002 0.4823" stroke="#f98c0a" stroke-width="0.00408"/>
<path d="M0.4996 0.4829 0.5013 0.4812 0.503 0.4795 0.5047 0.4778 0.5058 0.4766" stroke="#f8870e" stroke-width="0.00408"/>
<path d="M0.5052 0.4772 0.5069 0.4755 0.5085 0.4737 0.5101 0.472 0.5112 0.4708" stroke="#f78212" stroke-width="0.00408"/>
<path d="M0.5106 0.4714 0.5122 0.4696 0.5138 0.4678" stroke="#f67e14" stroke-width="0.00415"/>
<path d="M0.5133 0.4684 0.5148 0.4666 0.5163 0.4648 0.5179 0.4629 0.5189 0.4617" stroke="#f47918" stroke-width="0.00415"/>
<path d="M0.5184 0.4623 0.5198 0.4604 0.5213 0.4585" stroke="#f2741c" stroke-width="0.00422"/>
<path d="M0.5208 0.4592 0.5223 0.4573 0.5237 0.4553 0.5251 0.4534 0.5261 0.4521" stroke="#f06f20" stroke-width="0.00422"/>
<path d="M0.5256 0.4528 0.527 0.4508 0.5284 0.4488" stroke="#ef6c23" stroke-width="0.00428"/>
<path d="M0.5279 0.4495 0.5293 0.4475 0.5306 0.4455 0.5319 0.4435 0.5327 0.4421" stroke="#ec6726" stroke-width="0.00428"/>
<path d="M0.5323 0.4428 0.5336 0.4407 0.5348 0.4387 0.536 0.4366 0.5368 0.4352" stroke="#ea632a" stroke-width="0.00428"/>
<path d="M0.5364 0.4359 0.5375 0.4337 0.5386 0.4316 0.5397 0.4294 0.5403 0.428" stroke="#e8602d" stroke-width="0.00428"/>
<path d="M0.54 0.4287 0.541 0.4265 0.542 0.4243 0.5429 0.4221 0.5436 0.4206" stroke="#e55c30" stroke-width="0.00422"/>
<path d="M0.5433 0.4213 0.5442 0.4191 0.5451 0.4169" stroke="#e25734" stroke-width="0.00415"/>
<path d="M0.5448 0.4176 0.5457 0.4154 0.5465 0.4132" stroke="#df5337" stroke-width="0.00408"/>
<path d="M0.5462 0.4139 0.5471 0.4117 0.5479 0.4094" stroke="#df5337" stroke-width="0.00401"/>
<path d="M0.5476 0.4102 0.5484 0.4079 0.5492 0.4057" stroke="#dd513a" stroke-width="0.00388"/>
<path d="M0.549 0.4064 0.5498 0.4042 0.5505 0.402" stroke="#d54a41" stroke-width="0.00381"/>
<path d="M0.5503 0.4027 0.551 0.4005 0.5518 0.3982" stroke="#cf4446" stroke-width="0.00374"/>
<path d="M0.5515 0.399 0.5523 0.3967 0.553 0.3945" stroke="#c43c4e" stroke-width="0.0036"/>
<path d="M0.5528 0.3952 0.5535 0.393 0.5542 0.3907" stroke="#b43359" stroke-width="0.00354"/>
<path d="M0.554 0.3915 0.5547 0.3893 0.5555 0.387" stroke="#9f2a63" stroke-width="0.0034"/>
<path d="M0.5552 0.3878 0.5559 0.3855 0.5566 0.3834" stroke="#7f1f70" stroke-width="0.00333"/>
<path d="M0.5564 0.3841 0.557 0.3819 0.5575 0.3797" stroke="#711a77" stroke-width="0.00326"/>
<path d="M0.5573 0.3804 0.5578 0.3782 0.5581 0.3759" stroke="#66177b" stroke-width="0.00313"/>
<path d="M0.558 0.3767 0.5583 0.3744 0.5584 0.372" stroke="#5e147e" stroke-width="0.00299"/>
<path d="M0.5584 0.3728 0.5585 0.3704 0.5584 0.3681" stroke="#541081" stroke-width="0.00286"/>
<path d="M0.5584 0.3689 0.5583 0.3665 0.5579 0.3641" stroke="#500f81" stroke-width="0.00265"/>
<path d="M0.5581 0.3649 0.5577 0.3625 0.5571 0.3602" stroke="#4c0e7f" stroke-width="0.00252"/>
<path d="M0.5573 0.3609 0.5567 0.3586 0.556 0.3563" stroke="#480c7c" stroke-width="0.00238"/>
<path d="M0.5562 0.3571 0.5554 0.3548 0.5544 0.3526" stroke="#440b79" stroke-width="0.00231"/>
<path d="M0.5548 0.3533 0.5537 0.3511 0.5526 0.349" stroke="#440b79" stroke-width="0.00224"/>
<path d="M0.553 0.3497 0.5517 0.3476 0.5504 0.3456" stroke="#410a76" stroke-width="0.00218"/>
<path d="M0.5508 0.3463 0.5494 0.3444 0.5478 0.3425 0.5462 0.3408 0.545 0.3397" stroke="#3c0972" stroke-width="0.00218"/>
<path d="M0.5456 0.3403 0.5438 0.3387 0.542 0.3372" stroke="#3c0972" stroke-width="0.00224"/>
<path d="M0.5426 0.3377 0.5407 0.3362 0.5388 0.3349 0.5367 0.3337 0.5354 0.3329" stroke="#38096d" stroke-width="0.00224"/>
<path d="M0.5361 0.3333 0.534 0.3322 0.5318 0.3313" stroke="#3c0972" stroke-width="0.00224"/>
<path d="M0.5325 0.3316 0.5303 0.3307 0.5281 0.3299" stroke="#3c0972" stroke-width="0.00231"/>
<path d="M0.5289 0.3302 0.5266 0.3295 0.5243 0.3289" stroke="#410a76" stroke-width="0.00231"/>
<path d="M0.5251 0.3291 0.5228 0.3286 0.5205 0.3282" stroke="#440b79" stroke-width="0.00238"/>
<path d="M0.5213 0.3283 0.5189 0.328 0.5166 0.3279" stroke="#4c0e7f" stroke-width="0.00245"/>
<path d="M0.5174 0.3279 0.515 0.3278 0.5126 0.3278" stroke="#541081" stroke-width="0.00252"/>
<path d="M0.5134 0.3278 0.5111 0.3279 0.5087 0.3281" stroke="#5e147e" stroke-width="0.00258"/>
<path d="M0.5095 0.328 0.5072 0.3283 0.5048 0.3287" stroke="#66177b" stroke-width="0.00265"/>
<path d="M0.5056 0.3286 0.5033 0.3291 0.501 0.3296" stroke="#711a77" stroke-width="0.00272"/>
<path d="M0.5018 0.3294 0.4995 0.3301 0.4973 0.3308" stroke="#7f1f70" stroke-width="0.00279"/>
<path d="M0.498 0.3306 0.4958 0.3314 0.4937 0.3323" stroke="#88226b" stroke-width="0.00286"/>
<path d="M0.4944 0.332 0.4923 0.333 0.4902 0.334" stroke="#972766" stroke-width="0.00292"/>
<path d="M0.4909 0.3337 0.4888 0.3348 0.4868 0.336" stroke="#a32c61" stroke-width="0.00299"/>
<path d="M0.4875 0.3356 0.4854 0.3368 0.4833 0.338" stroke="#b73557" stroke-width="0.00306"/>
<path d="M0.484 0.3376 0.4819 0.3388 0.4797 0.3399" stroke="#cf4446" stroke-width="0.00313"/>
<path d="M0.4804 0.3395 0.4783 0.3406 0.4761 0.3417" stroke="#d94d3d" stroke-width="0.00326"/>
<path d="M0.4768 0.3413 0.4746 0.3423 0.4725 0.3433" stroke="#df5337" stroke-width="0.00333"/>
<path d="M0.4732 0.343 0.471 0.3439 0.4687 0.3448" stroke="#e55c30" stroke-width="0.00347"/>
<path d="M0.4695 0.3445 0.4673 0.3454 0.465 0.3462" stroke="#e8602d" stroke-width="0.00354"/>
<path d="M0.4658 0.346 0.4635 0.3468 0.4612 0.3475" stroke="#ea632a" stroke-width="0.00367"/>
<path d="M0.462 0.3473 0.4597 0.348 0.4574 0.3487" stroke="#ea632a" stroke-width="0.00374"/>
<path d="M0.4582 0.3485 0.4559 0.3491 0.4536 0.3497" stroke="#ec6726" stroke-width="0.00388"/>
<path d="M0.4543 0.3495 0.452 0.3501 0.4497 0.3506 0.4493 0.3507" stroke="#ec6726" stroke-width="0.00394"/>
<path d="M0.4501 0.3506 0.4477 0.3511 0.4454 0.3516" stroke="#ef6c23" stroke-width="0.00401"/>
<path d="M0.4462 0.3514 0.4438 0.3519 0.4415 0.3523" stroke="#ef6c23" stroke-width="0.00408"/>
<path d="M0.4423 0.3522 0.4399 0.3526 0.4376 0.3531" stroke="#ef6c23" stroke-width="0.00415"/>
<path d="M0.4384 0.3529 0.436 0.3534 0.4337 0.3538 0.4314 0.3543 0.4298 0.3546" stroke="#f06f20" stroke-width="0.00422"/>
<path d="M0.4306 0.3544 0.4282 0.3548 0.4259 0.3553 0.4235 0.3557 0.422 0.3559" stroke="#f2741c" stroke-width="0.00428"/>
<path d="M0.4227 0.3558 0.4204 0.3562 0.418 0.3565 0.4157 0.3568 0.4141 0.3571" stroke="#f47918" stroke-width="0.00435"/>
<path d="M0.4149 0.357 0.4125 0.3573 0.4101 0.3575 0.4078 0.3578 0.4062 0.3579" stroke="#f67e14" stroke-width="0.00442"/>
<path d="M0.407 0.3578 0.4046 0.358 0.4022 0.3582 0.3998 0.3584 0.3975 0.3585 0.3951 0.3585 0.3927 0.3586 0.3903 0.3586" stroke="#f78212" stroke-width="0.00449"/>
<path d="M0.3911 0.3586 0.3887 0.3586 0.3863 0.3585 0.3839 0.3584 0.3815 0.3583 0.3792 0.3582 0.3768 0.3581 0.3744 0.3579 0.372 0.3577 0.3696 0.3575 0.3672 0.3573 0.3649 0.357 0.3625 0.3568" stroke="#f8870e" stroke-width="0.00449"/>
<path d="M0.3633 0.3569 0.3609 0.3566 0.3585 0.3563 0.3562 0.356 0.3538 0.3556 0.3514 0.3553 0.3491 0.3549 0.3467 0.3545 0.3444 0.3541 0.342 0.3537 0.3397 0.3532 0.3373 0.3527 0.335 0.3522 0.3327 0.3516 0.3312 0.3513" stroke="#f98c0a" stroke-width="0.00449"/>
<path d="M0.3319 0.3514 0.3296 0.3509 0.3273 0.3503 0.325 0.3496 0.3235 0.3492" stroke="#fa9008" stroke-width="0.00442"/>
<path d="M0.3242 0.3494 0.322 0.3487 0.3197 0.348 0.3174 0.3473 0.3151 0.3466 0.3129 0.3458 0.3121 0.3455" stroke="#fa9008" stroke-width="0.00435"/>
<path d="M0.3129 0.3458 0.3106 0.345 0.3084 0.3442" stroke="#fa9008" stroke-width="0.00428"/>
<path d="M0.3092 0.3444 0.3069 0.3436 0.3047 0.3427 0.3025 0.3418 0.3003 0.3409 0.2981 0.3399 0.2959 0.339 0.2938 0.338 0.2916 0.337 0.2894 0.336 0.2873 0.335 0.2851 0.3339 0.2829 0.3329 0.2808 0.3318 0.2787 0.3308 0.2765 0.3297 0.2744 0.3286 0.2722 0.3275 0.2701 0.3264 0.268 0.3253 0.2659 0.3242 0.2638 0.323 0.2617 0.3219 0.2596 0.3207 0.2576 0.3194 0.2555 0.3181 0.2535 0.3169 0.2515 0.3156 0.2495 0.3142 0.2475 0.3129 0.2455 0.3116 0.2448 0.3111" stroke="#fb9606" stroke-width="0.00428"/>
<path d="M0.2455 0.3116 0.2435 0.3102 0.2416 0.3088 0.2396 0.3074 0.2383 0.3065" stroke="#fa9008" stroke-width="0.00428"/>
<path d="M0.239 0.3069 0.2371 0.3055 0.2352 0.3041 0.2333 0.3026 0.232 0.3016" stroke="#fa9008" stroke-width="0.00435"/>
<path d="M0.2326 0.3021 0.2308 0.3006 0.229 0.2991 0.2272 0.2976 0.2255 0.296 0.2238 0.2943 0.2221 0.2927 0.2204 0.291 0.2188 0.2893 0.2178 0.2881" stroke="#f98c0a" stroke-width="0.00435"/>
<path d="M0.2183 0.2887 0.2168 0.2869 0.2152 0.2851 0.2138 0.2833 0.2123 0.2815 0.2109 0.2796 0.2095 0.2777 0.2081 0.2758 0.2068 0.2739 0.2056 0.2719 0.2043 0.27 0.2031 0.268 0.2019 0.2659" stroke="#f8870e" stroke-width="0.00442"/>
<path d="M0.2023 0.2666 0.2011 0.2646 0.1999 0.2625 0.1987 0.2605 0.1974 0.2584 0.1962 0.2564 0.195 0.2543 0.1939 0.2523 0.1927 0.2502 0.1915 0.2481 0.1904 0.2461 0.1892 0.244 0.1881 0.2419 0.1869 0.2398 0.1862 0.2384" stroke="#f8870e" stroke-width="0.00449"/>
<path d="M0.1865 0.2391 0.1854 0.237 0.1843 0.2349 0.1831 0.2328 0.182 0.2307 0.1809 0.2286 0.1798 0.2265 0.1788 0.2244" stroke="#f8870e" stroke-width="0.00456"/>
<path d="M0.1791 0.2251 0.1781 0.2229 0.177 0.2208 0.176 0.2186 0.1754 0.2172" stroke="#f8870e" stroke-width="0.00449"/>
<path d="M0.1757 0.2179 0.1747 0.2157 0.1738 0.2135 0.1728 0.2113 0.1719 0.2091 0.171 0.2069 0.1702 0.2047 0.1693 0.2024" stroke="#f78212" stroke-width="0.00449"/>
<path d="M0.1696 0.2032 0.1688 0.2009 0.1679 0.1987 0.1671 0.1964 0.1664 0.1941 0.1656 0.1919 0.1649 0.1896 0.1642 0.1873" stroke="#f67e14" stroke-width="0.00449"/>
<path d="M0.1644 0.188 0.1637 0.1858 0.163 0.1835 0.1624 0.1811 0.1618 0.1788 0.1611 0.1765 0.1609 0.1758" stroke="#f47918" stroke-width="0.00449"/>
<path d="M0.1611 0.1765 0.1605 0.1742 0.1599 0.1719 0.1593 0.1696 0.1589 0.168" stroke="#f2741c" stroke-width="0.00442"/>
<path d="M0.1591 0.1688 0.1585 0.1665 0.1579 0.1642 0.1574 0.1618 0.157 0.1603" stroke="#f06f20" stroke-width="0.00442"/>
<path d="M0.1572 0.1611 0.1566 0.1587 0.156 0.1564" stroke="#ef6c23" stroke-width="0.00442"/>
<path d="M0.1562 0.1572 0.1557 0.1549 0.1551 0.1525" stroke="#ef6c23" stroke-width="0.00435"/>
<path d="M0.1553 0.1533 0.1548 0.151 0.1543 0.1486 0.1538 0.1463 0.1535 0.1447" stroke="#ec6726" stroke-width="0.00435"/>
<path d="M0.1536 0.1455 0.1531 0.1431 0.1527 0.1408" stroke="#ea632a" stroke-width="0.00428"/>
<path d="M0.1528 0.1416 0.1524 0.1392 0.1519 0.1369" stroke="#e8602d" stroke-width="0.00428"/>
<path d="M0.1521 0.1377 0.1517 0.1353 0.1512 0.1329" stroke="#e55c30" stroke-width="0.00428"/>
<path d="M0.1514 0.1337 0.1509 0.1314 0.1505 0.129" stroke="#e55c30" stroke-width="0.00422"/>
<path d="M0.1507 0.1298 0.1503 0.1274 0.1499 0.1251" stroke="#e25734" stroke-width="0.00422"/>
<path d="M0.15 0.1258 0.1496 0.1235 0.1493 0.1211" stroke="#df5337" stroke-width="0.00415"/>
<path d="M0.1494 0.1219 0.1491 0.1195 0.1487 0.1171" stroke="#dd513a" stroke-width="0.00415"/>
<path d="M0.1488 0.1179 0.1485 0.1156 0.1482 0.1132" stroke="#d94d3d" stroke-width="0.00408"/>
<path d="M0.1483 0.114 0.148 0.1116 0.1477 0.1092" stroke="#d24644" stroke-width="0.00401"/>
<path d="M0.1478 0.11 0.1476 0.1076 0.1473 0.1052" stroke="#cb4149" stroke-width="0.00394"/>
<path d="M0.1474 0.106 0.1472 0.1036 0.147 0.1012" stroke="#c43c4e" stroke-width="0.00388"/>
<path d="M0.147 0.102 0.1468 0.0996 0.1467 0.0973" stroke="#bc3754" stroke-width="0.00381"/>
<path d="M0.1467 0.0981 0.1466 0.0957 0.1464 0.0933" stroke="#b43359" stroke-width="0.00367"/>
<path d="M0.1465 0.0941 0.1464 0.0917 0.1463 0.0893" stroke="#ab2f5e" stroke-width="0.0036"/>
<path d="M0.1463 0.0901 0.1463 0.0877 0.1462 0.0853" stroke="#9f2a63" stroke-width="0.00347"/>
<path d="M0.1462 0.0861 0.1462 0.0837 0.1461 0.0813" stroke="#972766" stroke-width="0.0034"/>
<path d="M0.1461 0.0821 0.1461 0.0797 0.146 0.0773" stroke="#88226b" stroke-width="0.00326"/>
<path d="M0.146 0.0781 0.1459 0.0757 0.1457 0.0733" stroke="#7f1f70" stroke-width="0.00313"/>
<path d="M0.1458 0.0741 0.1456 0.0717 0.1455 0.0693" stroke="#711a77" stroke-width="0.00306"/>
<path d="M0.1455 0.0701 0.1453 0.0677 0.1451 0.0653" stroke="#66177b" stroke-width="0.00292"/>
<path d="M0.1452 0.0661 0.145 0.0637 0.1448 0.0613" stroke="#5e147e" stroke-width="0.00286"/>
<path d="M0.1449 0.0621 0.1446 0.0597 0.1444 0.0574" stroke="#591280" stroke-width="0.00272"/>
<path d="M0.1445 0.0581 0.1442 0.0558 0.1438 0.0534" stroke="#500f81" stroke-width="0.00265"/>
<path d="M0.1439 0.0542 0.1434 0.0519 0.1427 0.0496" stroke="#4c0e7f" stroke-width="0.00258"/>
<path d="M0.143 0.0504 0.1422 0.0481 0.1414 0.0459" stroke="#440b79" stroke-width="0.00245"/>
<path d="M0.1417 0.0467 0.1407 0.0445 0.1396 0.0424" stroke="#410a76" stroke-width="0.00238"/>
<path d="M0.14 0.0431 0.1389 0.0411 0.1376 0.0391" stroke="#3c0972" stroke-width="0.00231"/>
<path d="M0.138 0.0397 0.1367 0.0378 0.1353 0.0359" stroke="#350969" stroke-width="0.00224"/>
<path d="M0.1358 0.0366 0.1344 0.0348 0.1328 0.033" stroke="#300a63" stroke-width="0.00218"/>
<path d="M0.1333 0.0336 0.1318 0.0319 0.1301 0.0303" stroke="#2b0b5c" stroke-width="0.00204"/>
<path d="M0.1307 0.0308 0.1289 0.0293 0.1272 0.0278" stroke="#260c54" stroke-width="0.00197"/>
<path d="M0.1278 0.0283 0.1259 0.0269 0.124 0.0256" stroke="#210c4b" stroke-width="0.0019"/>
<path d="M0.1247 0.026 0.1227 0.0248 0.1207 0.0237" stroke="#1c0c43" stroke-width="0.00184"/>
<path d="M0.1214 0.0241 0.1194 0.023 0.1173 0.0221" stroke="#180c3c" stroke-width="0.00177"/>
<path d="M0.118 0.0224 0.1158 0.0215 0.1137 0.0208" stroke="#180c3c" stroke-width="0.0017"/>
<path d="M0.1144 0.021 0.1122 0.0203 0.11 0.0198" stroke="#140b34" stroke-width="0.00163"/>
<path d="M0.1107 0.02 0.1085 0.0194 0.1062 0.0189" stroke="#140b34" stroke-width="0.00156"/>
<path d="M0.107 0.0191 0.1047 0.0186 0.1024 0.0183" stroke="#140b34" stroke-width="0.0015"/>
<path d="M0.1031 0.0184 0.1008 0.0182 0.0984 0.0182 0.0961 0.0183 0.0945 0.0185" stroke="#140b34" stroke-width="0.00143"/>
<path d="M0.0953 0.0184 0.0929 0.0187 0.0906 0.0191" stroke="#180c3c" stroke-width="0.0015"/>
<path d="M0.0914 0.019 0.0891 0.0195 0.0868 0.0202 0.0864 0.0203" stroke="#180c3c" stroke-width="0.00156"/>
<path d="M0.0872 0.0201 0.0849 0.0209 0.0828 0.0218" stroke="#1e0c45" stroke-width="0.00125"/>
<path d="M0.0835 0.0214 0.0813 0.0224 0.0792 0.0236" stroke="#270b56" stroke-width="0.00135"/>
<path d="M0.0799 0.0232 0.0779 0.0244 0.0759 0.0257" stroke="#2c0b5e" stroke-width="0.00145"/>
<path d="M0.0765 0.0253 0.0746 0.0267 0.0728 0.0282" stroke="#310a65" stroke-width="0.00155"/>
<path d="M0.0734 0.0277 0.0716 0.0292 0.0699 0.0309" stroke="#39096f" stroke-width="0.0016"/>
<path d="M0.0704 0.0304 0.0688 0.0321 0.0672 0.0339" stroke="#3e0a73" stroke-width="0.0017"/>
<path d="M0.0677 0.0333 0.0662 0.0351 0.0648 0.0371" stroke="#470c7b" stroke-width="0.0018"/>
<path d="M0.0653 0.0364 0.0639 0.0384 0.0627 0.0404" stroke="#4f0f80" stroke-width="0.0019"/>
<path d="M0.0631 0.0397 0.0619 0.0418 0.0608 0.0439" stroke="#571280" stroke-width="0.00195"/>
<path d="M0.0612 0.0432 0.0601 0.0453 0.0592 0.0475" stroke="#61157d" stroke-width="0.00205"/>
<path d="M0.0595 0.0468 0.0586 0.049 0.0577 0.0512" stroke="#6b1979" stroke-width="0.00215"/>
<path d="M0.058 0.0505 0.0571 0.0527 0.0562 0.0549" stroke="#7b1e72" stroke-width="0.00225"/>
<path d="M0.0565 0.0542 0.0556 0.0564 0.0547 0.0587" stroke="#8a226a" stroke-width="0.00235"/>
<path d="M0.055 0.0579 0.0541 0.0601 0.0532 0.0624" stroke="#982766" stroke-width="0.00245"/>
<path d="M0.0535 0.0616 0.0527 0.0639 0.0518 0.0661" stroke="#a62d60" stroke-width="0.00255"/>
<path d="M0.0521 0.0654 0.0512 0.0676 0.0504 0.0699" stroke="#ae305c" stroke-width="0.00265"/>
<path d="M0.0507 0.0691 0.0498 0.0714 0.049 0.0736" stroke="#bc3754" stroke-width="0.0027"/>
<path d="M0.0493 0.0729 0.0485 0.0751 0.0477 0.0774" stroke="#c83f4b" stroke-width="0.0028"/>
<path d="M0.0479 0.0766 0.0471 0.0789 0.0463 0.0812" stroke="#cf4446" stroke-width="0.00285"/>
<path d="M0.0466 0.0804 0.0458 0.0827 0.045 0.0849" stroke="#d74b3f" stroke-width="0.0029"/>
<path d="M0.0453 0.0842 0.0445 0.0864 0.0437 0.0887" stroke="#de5238" stroke-width="0.00295"/>
<path d="M0.0439 0.0879 0.0432 0.0902 0.0424 0.0925" stroke="#e15635" stroke-width="0.003"/>
<path d="M0.0426 0.0917 0.0418 0.094 0.0411 0.0962" stroke="#e45a31" stroke-width="0.003"/>
<path d="M0.0413 0.0955 0.0405 0.0977 0.0398 0.1" stroke="#e65d2f" stroke-width="0.00305"/>
<path d="M0.04 0.0993 0.0393 0.1015 0.0385 0.1038" stroke="#e9612b" stroke-width="0.00305"/>
<path d="M0.0387 0.103 0.038 0.1053 0.0373 0.1076" stroke="#eb6628" stroke-width="0.0031"/>
<path d="M0.0375 0.1068 0.0368 0.1091 0.0361 0.1114" stroke="#ee6a24" stroke-width="0.0031"/>
<path d="M0.0364 0.1107 0.0357 0.113 0.035 0.1153" stroke="#f06f20" stroke-width="0.0031"/>
<path d="M0.0353 0.1145 0.0346 0.1168 0.034 0.1191 0.0334 0.1214 0.033 0.123" stroke="#f2741c" stroke-width="0.00315"/>
<path d="M0.0332 0.1222 0.0326 0.1245 0.032 0.1269" stroke="#f47918" stroke-width="0.00315"/>
<path d="M0.0322 0.1261 0.0316 0.1284 0.0311 0.1307" stroke="#f67e14" stroke-width="0.00315"/>
<path d="M0.0313 0.13 0.0307 0.1323 0.0302 0.1346" stroke="#f67e14" stroke-width="0.0032"/>
<path d="M0.0304 0.1339 0.0298 0.1362 0.0293 0.1385 0.0288 0.1409 0.0284 0.1424" stroke="#f78410" stroke-width="0.0032"/>
<path d="M0.0286 0.1416 0.028 0.144 0.0275 0.1463" stroke="#f8870e" stroke-width="0.0032"/>
<path d="M0.0277 0.1455 0.0272 0.1479 0.0267 0.1502 0.0261 0.1526 0.0258 0.1541" stroke="#f98c0a" stroke-width="0.00325"/>
<path d="M0.026 0.1533 0.0254 0.1557 0.0249 0.158 0.0245 0.1604 0.0241 0.162" stroke="#fa9207" stroke-width="0.00325"/>
<path d="M0.0243 0.1612 0.0238 0.1635 0.0234 0.1659" stroke="#fb9706" stroke-width="0.00325"/>
<path d="M0.0235 0.1651 0.0231 0.1675 0.0226 0.1698" stroke="#fb9706" stroke-width="0.0033"/>
<path d="M0.0228 0.169 0.0224 0.1714 0.022 0.1738" stroke="#fb9d07" stroke-width="0.0033"/>
<path d="M0.0221 0.173 0.0217 0.1754 0.0213 0.1778 0.021 0.1801 0.0207 0.1825 0.0203 0.1849 0.0202 0.1857" stroke="#fca309" stroke-width="0.0033"/>
<path d="M0.0203 0.1849 0.02 0.1873 0.0198 0.1897" stroke="#fca80d" stroke-width="0.0033"/>
<path d="M0.0199 0.1889 0.0196 0.1913 0.0193 0.1937" stroke="#fca80d" stroke-width="0.00335"/>
<path d="M0.0194 0.1929 0.0191 0.1953 0.0189 0.1977 0.0187 0.2 0.0185 0.2016" stroke="#fcae12" stroke-width="0.00335"/>
<path d="M0.0186 0.2008 0.0183 0.2032 0.0181 0.2056 0.0179 0.208 0.0178 0.2096" stroke="#fcb216" stroke-width="0.00335"/>
<path d="M0.0179 0.2088 0.0177 0.2112 0.0175 0.2136 0.0174 0.216 0.0173 0.2176" stroke="#fcb216" stroke-width="0.0034"/>
<path d="M0.0174 0.2168 0.0173 0.2192 0.0172 0.2216 0.0171 0.224 0.017 0.2256" stroke="#fbb81d" stroke-width="0.0034"/>
<path d="M0.017 0.2248 0.0169 0.2272 0.0168 0.2296" stroke="#fbb81d" stroke-width="0.00345"/>
<path d="M0.0168 0.2288 0.0167 0.2312 0.0166 0.2335 0.0165 0.2359 0.0164 0.2375" stroke="#fbbe23" stroke-width="0.00345"/>
<path d="M0.0165 0.2367 0.0164 0.2391 0.0163 0.2415 0.0162 0.2439 0.0161 0.2455" stroke="#fbbe23" stroke-width="0.0035"/>
<path d="M0.0162 0.2447 0.0161 0.2471 0.016 0.2495" stroke="#fac42a" stroke-width="0.0035"/>
<path d="M0.016 0.2487 0.016 0.2511 0.0159 0.2535 0.0159 0.2559 0.0158 0.2583 0.0158 0.2607 0.0157 0.2631 0.0157 0.2655 0.0157 0.2679 0.0157 0.2703 0.0157 0.2727 0.0157 0.2751 0.0157 0.2775 0.0157 0.2798 0.0157 0.2814" stroke="#fac42a" stroke-width="0.00355"/>
<path d="M0.0157 0.2806 0.0157 0.283 0.0158 0.2854 0.0158 0.2878 0.0158 0.2894" stroke="#fac42a" stroke-width="0.0035"/>
<path d="M0.0158 0.2886 0.0158 0.291 0.0159 0.2934 0.0161 0.2958 0.0162 0.2974" stroke="#fbbe23" stroke-width="0.00345"/>
<path d="M0.0162 0.2966 0.0164 0.299 0.0168 0.3014" stroke="#fbbe23" stroke-width="0.0034"/>
<path d="M0.0167 0.3006 0.0171 0.303 0.0176 0.3053" stroke="#fbb81d" stroke-width="0.00335"/>
<path d="M0.0174 0.3045 0.0179 0.3069 0.0186 0.3092 0.0193 0.3115 0.0199 0.313" stroke="#fbb81d" stroke-width="0.0033"/>
<path d="M0.0196 0.3122 0.0204 0.3145 0.0214 0.3167" stroke="#fbb81d" stroke-width="0.00325"/>
<path d="M0.0211 0.3159 0.0221 0.3181 0.0231 0.3202" stroke="#fcb216" stroke-width="0.00325"/>
<path d="M0.0228 0.3195 0.0239 0.3216 0.0251 0.3236 0.0264 0.3256 0.0277 0.3276 0.029 0.3296 0.0303 0.3316 0.0316 0.3336 0.0329 0.3355 0.0338 0.3369" stroke="#fcb216" stroke-width="0.0032"/>
<path d="M0.0333 0.3362 0.0347 0.3382 0.036 0.3402 0.0373 0.3422 0.0381 0.3436" stroke="#fbb81d" stroke-width="0.00325"/>
<path d="M0.0377 0.3429 0.039 0.3449 0.0403 0.3469" stroke="#fbb81d" stroke-width="0.0033"/>
<path d="M0.0399 0.3462 0.0412 0.3483 0.0425 0.3503" stroke="#fbbe23" stroke-width="0.0033"/>
<path d="M0.042 0.3496 0.0433 0.3516 0.0446 0.3536 0.046 0.3557 0.0468 0.357" stroke="#fac42a" stroke-width="0.00335"/>
<path d="M0.0464 0.3563 0.0477 0.3584 0.049 0.3604" stroke="#f9c932" stroke-width="0.0034"/>
<path d="M0.0486 0.3597 0.0499 0.3617 0.0512 0.3638" stroke="#f9c932" stroke-width="0.00345"/>
<path d="M0.0507 0.3631 0.052 0.3651 0.0534 0.3671" stroke="#f8cf3a" stroke-width="0.00345"/>
<path d="M0.0529 0.3665 0.0542 0.3685 0.0556 0.3705 0.0569 0.3725 0.0578 0.3738" stroke="#f8cf3a" stroke-width="0.0035"/>
<path d="M0.0573 0.3732 0.0587 0.3752 0.0601 0.3772 0.0615 0.3791 0.0629 0.3811 0.0643 0.383 0.0648 0.3837" stroke="#f6d543" stroke-width="0.0035"/>
<path d="M0.0643 0.383 0.0658 0.3849 0.0673 0.3868 0.0688 0.3887 0.0703 0.3906 0.0718 0.3925 0.0723 0.3931" stroke="#f6d543" stroke-width="0.00345"/>
<path d="M0.0718 0.3925 0.0733 0.3944 0.0749 0.3962 0.0764 0.3981 0.0775 0.3993" stroke="#f6d543" stroke-width="0.0034"/>
<path d="M0.0769 0.3987 0.0785 0.4005 0.0801 0.4023 0.0817 0.4041 0.0828 0.4053" stroke="#f6d543" stroke-width="0.00335"/>
<path d="M0.0822 0.4047 0.0838 0.4065 0.0855 0.4083 0.0871 0.41 0.0887 0.4118 0.0904 0.4135 0.0909 0.4141" stroke="#f6d543" stroke-width="0.0033"/>
<path d="M0.0904 0.4135 0.092 0.4153 0.0937 0.417 0.0953 0.4187 0.097 0.4204 0.0987 0.4221 0.0993 0.4227" stroke="#f6d543" stroke-width="0.00325"/>
<path d="M0.0987 0.4221 0.1004 0.4238 0.1021 0.4255 0.1038 0.4272 0.1055 0.4289 0.1072 0.4305 0.109 0.4322 0.1107 0.4338" stroke="#f6d543" stroke-width="0.0033"/>
<path d="M0.1101 0.4333 0.1119 0.4349 0.1136 0.4365 0.1153 0.4381 0.1171 0.4398 0.1188 0.4414 0.1194 0.4419" stroke="#f6d543" stroke-width="0.00335"/>
<path d="M0.1188 0.4414 0.1206 0.443 0.1224 0.4446 0.1241 0.4462 0.1259 0.4478 0.1277 0.4494 0.1295 0.451 0.1313 0.4525 0.1332 0.4541 0.135 0.4556 0.1369 0.4571 0.1387 0.4586 0.1406 0.4601 0.1425 0.4615 0.1444 0.463 0.1463 0.4644 0.1483 0.4658 0.1502 0.4672 0.1522 0.4686 0.1541 0.47 0.1561 0.4713 0.1581 0.4727 0.16 0.4741 0.162 0.4754 0.164 0.4767 0.166 0.478 0.168 0.4793 0.17 0.4806 0.1721 0.4819 0.1741 0.4832 0.1761 0.4844 0.1782 0.4857 0.1802 0.4869 0.1823 0.4881 0.1843 0.4893 0.1864 0.4905 0.1871 0.4909" stroke="#f6d543" stroke-width="0.0034"/>
<path d="M0.1864 0.4905 0.1885 0.4917 0.1906 0.4929 0.1927 0.494 0.1947 0.4952 0.1968 0.4963 0.1989 0.4975 0.2011 0.4986 0.2032 0.4997 0.2053 0.5008 0.2074 0.5019 0.2084 0.5025" stroke="#f6d543" stroke-width="0.00335"/>
<path d="M0.2077 0.5021 0.2098 0.5032 0.212 0.5043 0.2141 0.5054 0.2162 0.5065 0.2183 0.5076 0.2205 0.5086 0.2226 0.5097 0.2248 0.5107 0.2269 0.5117 0.2291 0.5126 0.2313 0.5136 0.2335 0.5146 0.2356 0.5155 0.2378 0.5164 0.24 0.5173 0.2423 0.5181 0.2445 0.519 0.2467 0.5198 0.2489 0.5206 0.2512 0.5214 0.2534 0.5222 0.2557 0.523 0.2579 0.5238 0.2595 0.5243" stroke="#f6d543" stroke-width="0.0033"/>
<path d="M0.2587 0.524 0.261 0.5248 0.2632 0.5255 0.2655 0.5263 0.2678 0.527 0.2701 0.5277 0.2724 0.5284 0.2747 0.5291 0.277 0.5298 0.2793 0.5304 0.2816 0.5311 0.2839 0.5317 0.2862 0.5323 0.2886 0.5329 0.2909 0.5334 0.2932 0.534 0.2956 0.5345 0.2979 0.535 0.3003 0.5355 0.3018 0.5358" stroke="#f6d543" stroke-width="0.00335"/>
<path d="M0.3011 0.5356 0.3034 0.5361 0.3058 0.5365 0.3081 0.5369 0.3105 0.5373 0.3129 0.5376 0.3152 0.538 0.3176 0.5383 0.32 0.5386 0.3224 0.5388 0.3247 0.5391 0.3271 0.5393 0.3295 0.5396 0.3319 0.5398 0.3335 0.5399" stroke="#f8cf3a" stroke-width="0.0034"/>
<path d="M0.3327 0.5399 0.3351 0.5401 0.3374 0.5403" stroke="#f9c932" stroke-width="0.0034"/>
<path d="M0.3366 0.5402 0.339 0.5404 0.3414 0.5406 0.3438 0.5408 0.3462 0.5409 0.3486 0.5411 0.3509 0.5412 0.3533 0.5413 0.3557 0.5414 0.3581 0.5415 0.3605 0.5416 0.3613 0.5416" stroke="#f9c932" stroke-width="0.00345"/>
<path d="M0.3605 0.5416 0.3629 0.5416 0.3653 0.5417 0.3677 0.5417 0.3701 0.5417 0.3725 0.5417 0.3749 0.5417 0.3773 0.5417 0.3797 0.5417 0.3813 0.5417" stroke="#fac42a" stroke-width="0.00345"/>
<path d="M0.3805 0.5417 0.3828 0.5417 0.3851 0.5416" stroke="#fbbe23" stroke-width="0.00345"/>
<path d="M0.3844 0.5416 0.3867 0.5415 0.389 0.5414 0.3913 0.5412 0.3937 0.5409 0.396 0.5405 0.3984 0.5402 0.4008 0.5397" stroke="#fbbe23" stroke-width="0.0034"/>
<path d="M0.4 0.5399 0.4024 0.5394 0.4047 0.5389 0.407 0.5384 0.4086 0.538" stroke="#fbb81d" stroke-width="0.0034"/>
<path d="M0.4078 0.5382 0.4101 0.5376 0.4125 0.5369 0.4147 0.5361 0.417 0.5353 0.4193 0.5345 0.4215 0.5336 0.4238 0.5327 0.426 0.5317 0.4282 0.5308 0.4304 0.5298 0.4326 0.5287 0.4347 0.5277" stroke="#fbb81d" stroke-width="0.00335"/>
<path d="M0.434 0.528 0.4362 0.527 0.4384 0.5259" stroke="#fbb81d" stroke-width="0.0033"/>
<path d="M0.4376 0.5263 0.4398 0.5252 0.4419 0.5241 0.4441 0.523 0.4462 0.5219 0.4483 0.5207 0.4504 0.5195 0.4525 0.5183 0.4546 0.5171 0.456 0.5163" stroke="#fcb216" stroke-width="0.0033"/>
<path d="M0.4553 0.5167 0.4574 0.5155 0.4594 0.5142 0.4614 0.5129 0.4635 0.5116 0.4655 0.5103 0.4675 0.509 0.4695 0.5076" stroke="#fcb216" stroke-width="0.00325"/>
<path d="M0.4688 0.5081 0.4708 0.5067 0.4727 0.5053 0.4747 0.5039 0.476 0.503" stroke="#fcae12" stroke-width="0.0032"/>
<path d="M0.4753 0.5035 0.4773 0.502 0.4792 0.5006" stroke="#fcae12" stroke-width="0.00315"/>
<path d="M0.4785 0.5011 0.4804 0.4996 0.4823 0.4981" stroke="#fca80d" stroke-width="0.00315"/>
<path d="M0.4817 0.4986 0.4836 0.4971 0.4854 0.4956" stroke="#fca80d" stroke-width="0.0031"/>
<path d="M0.4848 0.4961 0.4866 0.4946 0.4885 0.4931" stroke="#fca309" stroke-width="0.0031"/>
<path d="M0.4879 0.4936 0.4897 0.492 0.4915 0.4905 0.4933 0.4889 0.4944 0.4878" stroke="#fca309" stroke-width="0.00305"/>
<path d="M0.4938 0.4883 0.4956 0.4867 0.4973 0.4851 0.4991 0.4834 0.5002 0.4823" stroke="#fb9d07" stroke-width="0.003"/>
<path d="M0.4996 0.4829 0.5013 0.4812 0.503 0.4795 0.5047 0.4778 0.5058 0.4766" stroke="#fb9706" stroke-width="0.003"/>
<path d="M0.5052 0.4772 0.5069 0.4755 0.5085 0.4737 0.5101 0.472 0.5112 0.4708" stroke="#fa9207" stroke-width="0.003"/>
<path d="M0.5106 0.4714 0.5122 0.4696 0.5138 0.4678" stroke="#f98c0a" stroke-width="0.00305"/>
<path d="M0.5133 0.4684 0.5148 0.4666 0.5163 0.4648 0.5179 0.4629 0.5189 0.4617" stroke="#f8870e" stroke-width="0.00305"/>
<path d="M0.5184 0.4623 0.5198 0.4604 0.5213 0.4585" stroke="#f78410" stroke-width="0.0031"/>
<path d="M0.5208 0.4592 0.5223 0.4573 0.5237 0.4553 0.5251 0.4534 0.5261 0.4521" stroke="#f67e14" stroke-width="0.0031"/>
<path d="M0.5256 0.4528 0.527 0.4508 0.5284 0.4488" stroke="#f47918" stroke-width="0.00315"/>
<path d="M0.5279 0.4495 0.5293 0.4475 0.5306 0.4455 0.5319 0.4435 0.5327 0.4421" stroke="#f2741c" stroke-width="0.00315"/>
<path d="M0.5323 0.4428 0.5336 0.4407 0.5348 0.4387 0.536 0.4366 0.5368 0.4352" stroke="#f06f20" stroke-width="0.00315"/>
<path d="M0.5364 0.4359 0.5375 0.4337 0.5386 0.4316 0.5397 0.4294 0.5403 0.428" stroke="#ee6a24" stroke-width="0.00315"/>
<path d="M0.54 0.4287 0.541 0.4265 0.542 0.4243 0.5429 0.4221 0.5436 0.4206" stroke="#eb6628" stroke-width="0.0031"/>
<path d="M0.5433 0.4213 0.5442 0.4191 0.5451 0.4169" stroke="#e9612b" stroke-width="0.00305"/>
<path d="M0.5448 0.4176 0.5457 0.4154 0.5465 0.4132" stroke="#e65d2f" stroke-width="0.003"/>
<path d="M0.5462 0.4139 0.5471 0.4117 0.5479 0.4094" stroke="#e65d2f" stroke-width="0.00295"/>
<path d="M0.5476 0.4102 0.5484 0.4079 0.5492 0.4057" stroke="#e45a31" stroke-width="0.00285"/>
<path d="M0.549 0.4064 0.5498 0.4042 0.5505 0.402" stroke="#de5238" stroke-width="0.0028"/>
<path d="M0.5503 0.4027 0.551 0.4005 0.5518 0.3982" stroke="#d74b3f" stroke-width="0.00275"/>
<path d="M0.5515 0.399 0.5523 0.3967 0.553 0.3945" stroke="#cb4149" stroke-width="0.00265"/>
<path d="M0.5528 0.3952 0.5535 0.393 0.5542 0.3907" stroke="#bc3754" stroke-width="0.0026"/>
<path d="M0.554 0.3915 0.5547 0.3893 0.5555 0.387" stroke="#a62d60" stroke-width="0.0025"/>
<path d="M0.5552 0.3878 0.5559 0.3855 0.5566 0.3834" stroke="#84216d" stroke-width="0.00245"/>
<path d="M0.5564 0.3841 0.557 0.3819 0.5575 0.3797" stroke="#761c75" stroke-width="0.0024"/>
<path d="M0.5573 0.3804 0.5578 0.3782 0.5581 0.3759" stroke="#6b1979" stroke-width="0.0023"/>
<path d="M0.558 0.3767 0.5583 0.3744 0.5584 0.372" stroke="#61157d" stroke-width="0.0022"/>
<path d="M0.5584 0.3728 0.5585 0.3704 0.5584 0.3681" stroke="#571280" stroke-width="0.0021"/>
<path d="M0.5584 0.3689 0.5583 0.3665 0.5579 0.3641" stroke="#541081" stroke-width="0.00195"/>
<path d="M0.5581 0.3649 0.5577 0.3625 0.5571 0.3602" stroke="#4f0f80" stroke-width="0.00185"/>
<path d="M0.5573 0.3609 0.5567 0.3586 0.556 0.3563" stroke="#4b0d7e" stroke-width="0.00175"/>
<path d="M0.5562 0.3571 0.5554 0.3548 0.5544 0.3526" stroke="#470c7b" stroke-width="0.0017"/>
<path d="M0.5548 0.3533 0.5537 0.3511 0.5526 0.349" stroke="#470c7b" stroke-width="0.00165"/>
<path d="M0.553 0.3497 0.5517 0.3476 0.5504 0.3456" stroke="#420a77" stroke-width="0.0016"/>
<path d="M0.5508 0.3463 0.5494 0.3444 0.5478 0.3425 0.5462 0.3408 0.545 0.3397" stroke="#3e0a73" stroke-width="0.0016"/>
<path d="M0.5456 0.3403 0.5438 0.3387 0.542 0.3372" stroke="#3e0a73" stroke-width="0.00165"/>
<path d="M0.5426 0.3377 0.5407 0.3362 0.5388 0.3349 0.5367 0.3337 0.5354 0.3329" stroke="#39096f" stroke-width="0.00165"/>
<path d="M0.5361 0.3333 0.534 0.3322 0.5318 0.3313" stroke="#3e0a73" stroke-width="0.00165"/>
<path d="M0.5325 0.3316 0.5303 0.3307 0.5281 0.3299" stroke="#3e0a73" stroke-width="0.0017"/>
<path d="M0.5289 0.3302 0.5266 0.3295 0.5243 0.3289" stroke="#420a77" stroke-width="0.0017"/>
<path d="M0.5251 0.3291 0.5228 0.3286 0.5205 0.3282" stroke="#470c7b" stroke-width="0.00175"/>
<path d="M0.5213 0.3283 0.5189 0.328 0.5166 0.3279" stroke="#4f0f80" stroke-width="0.0018"/>
<path d="M0.5174 0.3279 0.515 0.3278 0.5126 0.3278" stroke="#571280" stroke-width="0.00185"/>
<path d="M0.5134 0.3278 0.5111 0.3279 0.5087 0.3281" stroke="#61157d" stroke-width="0.0019"/>
<path d="M0.5095 0.328 0.5072 0.3283 0.5048 0.3287" stroke="#6b1979" stroke-width="0.00195"/>
<path d="M0.5056 0.3286 0.5033 0.3291 0.501 0.3296" stroke="#761c75" stroke-width="0.002"/>
<path d="M0.5018 0.3294 0.4995 0.3301 0.4973 0.3308" stroke="#84216d" stroke-width="0.00205"/>
<path d="M0.498 0.3306 0.4958 0.3314 0.4937 0.3323" stroke="#8f2469" stroke-width="0.0021"/>
<path d="M0.4944 0.332 0.4923 0.333 0.4902 0.334" stroke="#9d2964" stroke-width="0.00215"/>
<path d="M0.4909 0.3337 0.4888 0.3348 0.4868 0.336" stroke="#a92e5e" stroke-width="0.0022"/>
<path d="M0.4875 0.3356 0.4854 0.3368 0.4833 0.338" stroke="#c03a51" stroke-width="0.00225"/>
<path d="M0.484 0.3376 0.4819 0.3388 0.4797 0.3399" stroke="#d74b3f" stroke-width="0.0023"/>
<path d="M0.4804 0.3395 0.4783 0.3406 0.4761 0.3417" stroke="#e15635" stroke-width="0.0024"/>
<path d="M0.4768 0.3413 0.4746 0.3423 0.4725 0.3433" stroke="#e65d2f" stroke-width="0.00245"/>
<path d="M0.4732 0.343 0.471 0.3439 0.4687 0.3448" stroke="#eb6628" stroke-width="0.00255"/>
<path d="M0.4695 0.3445 0.4673 0.3454 0.465 0.3462" stroke="#ee6a24" stroke-width="0.0026"/>
<path d="M0.4658 0.346 0.4635 0.3468 0.4612 0.3475" stroke="#f06f20" stroke-width="0.0027"/>
<path d="M0.462 0.3473 0.4597 0.348 0.4574 0.3487" stroke="#f06f20" stroke-width="0.00275"/>
<path d="M0.4582 0.3485 0.4559 0.3491 0.4536 0.3497" stroke="#f2741c" stroke-width="0.00285"/>
<path d="M0.4543 0.3495 0.452 0.3501 0.4497 0.3506 0.4493 0.3507" stroke="#f2741c" stroke-width="0.0029"/>
<path d="M0.4501 0.3506 0.4477 0.3511 0.4454 0.3516" stroke="#f47918" stroke-width="0.00295"/>
<path d="M0.4462 0.3514 0.4438 0.3519 0.4415 0.3523" stroke="#f47918" stroke-width="0.003"/>
<path d="M0.4423 0.3522 0.4399 0.3526 0.4376 0.3531" stroke="#f47918" stroke-width="0.00305"/>
<path d="M0.4384 0.3529 0.436 0.3534 0.4337 0.3538 0.4314 0.3543 0.4298 0.3546" stroke="#f67e14" stroke-width="0.0031"/>
<path d="M0.4306 0.3544 0.4282 0.3548 0.4259 0.3553 0.4235 0.3557 0.422 0.3559" stroke="#f78410" stroke-width="0.00315"/>
<path d="M0.4227 0.3558 0.4204 0.3562 0.418 0.3565 0.4157 0.3568 0.4141 0.3571" stroke="#f8870e" stroke-width="0.0032"/>
<path d="M0.4149 0.357 0.4125 0.3573 0.4101 0.3575 0.4078 0.3578 0.4062 0.3579" stroke="#f98c0a" stroke-width="0.00325"/>
<path d="M0.407 0.3578 0.4046 0.358 0.4022 0.3582 0.3998 0.3584 0.3975 0.3585 0.3951 0.3585 0.3927 0.3586 0.3903 0.3586" stroke="#fa9207" stroke-width="0.0033"/>
<path d="M0.3911 0.3586 0.3887 0.3586 0.3863 0.3585 0.3839 0.3584 0.3815 0.3583 0.3792 0.3582 0.3768 0.3581 0.3744 0.3579 0.372 0.3577 0.3696 0.3575 0.3672 0.3573 0.3649 0.357 0.3625 0.3568" stroke="#fb9706" stroke-width="0.0033"/>
<path d="M0.3633 0.3569 0.3609 0.3566 0.3585 0.3563 0.3562 0.356 0.3538 0.3556 0.3514 0.3553 0.3491 0.3549 0.3467 0.3545 0.3444 0.3541 0.342 0.3537 0.3397 0.3532 0.3373 0.3527 0.335 0.3522 0.3327 0.3516 0.3312 0.3513" stroke="#fb9d07" stroke-width="0.0033"/>
<path d="M0.3319 0.3514 0.3296 0.3509 0.3273 0.3503 0.325 0.3496 0.3235 0.3492" stroke="#fca309" stroke-width="0.00325"/>
<path d="M0.3242 0.3494 0.322 0.3487 0.3197 0.348 0.3174 0.3473 0.3151 0.3466 0.3129 0.3458 0.3121 0.3455" stroke="#fca309" stroke-width="0.0032"/>
<path d="M0.3129 0.3458 0.3106 0.345 0.3084 0.3442" stroke="#fca309" stroke-width="0.00315"/>
<path d="M0.3092 0.3444 0.3069 0.3436 0.3047 0.3427 0.3025 0.3418 0.3003 0.3409 0.2981 0.3399 0.2959 0.339 0.2938 0.338 0.2916 0.337 0.2894 0.336 0.2873 0.335 0.2851 0.3339 0.2829 0.3329 0.2808 0.3318 0.2787 0.3308 0.2765 0.3297 0.2744 0.3286 0.2722 0.3275 0.2701 0.3264 0.268 0.3253 0.2659 0.3242 0.2638 0.323 0.2617 0.3219 0.2596 0.3207 0.2576 0.3194 0.2555 0.3181 0.2535 0.3169 0.2515 0.3156 0.2495 0.3142 0.2475 0.3129 0.2455 0.3116 0.2448 0.3111" stroke="#fca80d" stroke-width="0.00315"/>
<path d="M0.2455 0.3116 0.2435 0.3102 0.2416 0.3088 0.2396 0.3074 0.2383 0.3065" stroke="#fca309" stroke-width="0.00315"/>
<path d="M0.239 0.3069 0.2371 0.3055 0.2352 0.3041 0.2333 0.3026 0.232 0.3016" stroke="#fca309" stroke-width="0.0032"/>
<path d="M0.2326 0.3021 0.2308 0.3006 0.229 0.2991 0.2272 0.2976 0.2255 0.296 0.2238 0.2943 0.2221 0.2927 0.2204 0.291 0.2188 0.2893 0.2178 0.2881" stroke="#fb9d07" stroke-width="0.0032"/>
<path d="M0.2183 0.2887 0.2168 0.2869 0.2152 0.2851 0.2138 0.2833 0.2123 0.2815 0.2109 0.2796 0.2095 0.2777 0.2081 0.2758 0.2068 0.2739 0.2056 0.2719 0.2043 0.27 0.2031 0.268 0.2019 0.2659" stroke="#fb9706" stroke-width="0.00325"/>
<path d="M0.2023 0.2666 0.2011 0.2646 0.1999 0.2625 0.1987 0.2605 0.1974 0.2584 0.1962 0.2564 0.195 0.2543 0.1939 0.2523 0.1927 0.2502 0.1915 0.2481 0.1904 0.2461 0.1892 0.244 0.1881 0.2419 0.1869 0.2398 0.1862 0.2384" stroke="#fb9706" stroke-width="0.0033"/>
<path d="M0.1865 0.2391 0.1854 0.237 0.1843 0.2349 0.1831 0.2328 0.182 0.2307 0.1809 0.2286 0.1798 0.2265 0.1788 0.2244" stroke="#fb9706" stroke-width="0.00335"/>
<path d="M0.1791 0.2251 0.1781 0.2229 0.177 0.2208 0.176 0.2186 0.1754 0.2172" stroke="#fb9706" stroke-width="0.0033"/>
<path d="M0.1757 0.2179 0.1747 0.2157 0.1738 0.2135 0.1728 0.2113 0.1719 0.2091 0.171 0.2069 0.1702 0.2047 0.1693 0.2024" stroke="#fa9207" stroke-width="0.0033"/>
<path d="M0.1696 0.2032 0.1688 0.2009 0.1679 0.1987 0.1671 0.1964 0.1664 0.1941 0.1656 0.1919 0.1649 0.1896 0.1642 0.1873" stroke="#f98c0a" stroke-width="0.0033"/>
<path d="M0.1644 0.188 0.1637 0.1858 0.163 0.1835 0.1624 0.1811 0.1618 0.1788 0.1611 0.1765 0.1609 0.1758" stroke="#f8870e" stroke-width="0.0033"/>
<path d="M0.1611 0.1765 0.1605 0.1742 0.1599 0.1719 0.1593 0.1696 0.1589 0.168" stroke="#f78410" stroke-width="0.00325"/>
<path d="M0.1591 0.1688 0.1585 0.1665 0.1579 0.1642 0.1574 0.1618 0.157 0.1603" stroke="#f67e14" stroke-width="0.00325"/>
<path d="M0.1572 0.1611 0.1566 0.1587 0.156 0.1564" stroke="#f47918" stroke-width="0.00325"/>
<path d="M0.1562 0.1572 0.1557 0.1549 0.1551 0.1525" stroke="#f47918" stroke-width="0.0032"/>
<path d="M0.1553 0.1533 0.1548 0.151 0.1543 0.1486 0.1538 0.1463 0.1535 0.1447" stroke="#f2741c" stroke-width="0.0032"/>
<path d="M0.1536 0.1455 0.1531 0.1431 0.1527 0.1408" stroke="#f06f20" stroke-width="0.00315"/>
<path d="M0.1528 0.1416 0.1524 0.1392 0.1519 0.1369" stroke="#ee6a24" stroke-width="0.00315"/>
<path d="M0.1521 0.1377 0.1517 0.1353 0.1512 0.1329" stroke="#eb6628" stroke-width="0.00315"/>
<path d="M0.1514 0.1337 0.1509 0.1314 0.1505 0.129" stroke="#eb6628" stroke-width="0.0031"/>
<path d="M0.1507 0.1298 0.1503 0.1274 0.1499 0.1251" stroke="#e9612b" stroke-width="0.0031"/>
<path d="M0.15 0.1258 0.1496 0.1235 0.1493 0.1211" stroke="#e65d2f" stroke-width="0.00305"/>
<path d="M0.1494 0.1219 0.1491 0.1195 0.1487 0.1171" stroke="#e45a31" stroke-width="0.00305"/>
<path d="M0.1488 0.1179 0.1485 0.1156 0.1482 0.1132" stroke="#e15635" stroke-width="0.003"/>
<path d="M0.1483 0.114 0.148 0.1116 0.1477 0.1092" stroke="#da4e3c" stroke-width="0.00295"/>
<path d="M0.1478 0.11 0.1476 0.1076 0.1473 0.1052" stroke="#d34743" stroke-width="0.0029"/>
<path d="M0.1474 0.106 0.1472 0.1036 0.147 0.1012" stroke="#cb4149" stroke-width="0.00285"/>
<path d="M0.147 0.102 0.1468 0.0996 0.1467 0.0973" stroke="#c43c4e" stroke-width="0.0028"/>
<path d="M0.1467 0.0981 0.1466 0.0957 0.1464 0.0933" stroke="#bc3754" stroke-width="0.0027"/>
<path d="M0.1465 0.0941 0.1464 0.0917 0.1463 0.0893" stroke="#b3325a" stroke-width="0.00265"/>
<path d="M0.1463 0.0901 0.1463 0.0877 0.1462 0.0853" stroke="#a62d60" stroke-width="0.00255"/>
<path d="M0.1462 0.0861 0.1462 0.0837 0.1461 0.0813" stroke="#9d2964" stroke-width="0.0025"/>
<path d="M0.1461 0.0821 0.1461 0.0797 0.146 0.0773" stroke="#8f2469" stroke-width="0.0024"/>
<path d="M0.146 0.0781 0.1459 0.0757 0.1457 0.0733" stroke="#84216d" stroke-width="0.0023"/>
<path d="M0.1458 0.0741 0.1456 0.0717 0.1455 0.0693" stroke="#761c75" stroke-width="0.00225"/>
<path d="M0.1455 0.0701 0.1453 0.0677 0.1451 0.0653" stroke="#6b1979" stroke-width="0.00215"/>
<path d="M0.1452 0.0661 0.145 0.0637 0.1448 0.0613" stroke="#61157d" stroke-width="0.0021"/>
<path d="M0.1449 0.0621 0.1446 0.0597 0.1444 0.0574" stroke="#5c137f" stroke-width="0.002"/>
<path d="M0.1445 0.0581 0.1442 0.0558 0.1438 0.0534" stroke="#541081" stroke-width="0.00195"/>
<path d="M0.1439 0.0542 0.1434 0.0519 0.1427 0.0496" stroke="#4f0f80" stroke-width="0.0019"/>
<path d="M0.143 0.0504 0.1422 0.0481 0.1414 0.0459" stroke="#470c7b" stroke-width="0.0018"/>
<path d="M0.1417 0.0467 0.1407 0.0445 0.1396 0.0424" stroke="#420a77" stroke-width="0.00175"/>
<path d="M0.14 0.0431 0.1389 0.0411 0.1376 0.0391" stroke="#3e0a73" stroke-width="0.0017"/>
<path d="M0.138 0.0397 0.1367 0.0378 0.1353 0.0359" stroke="#340969" stroke-width="0.00165"/>
<path d="M0.1358 0.0366 0.1344 0.0348 0.1328 0.033" stroke="#310a65" stroke-width="0.0016"/>
<path d="M0.1333 0.0336 0.1318 0.0319 0.1301 0.0303" stroke="#2c0b5e" stroke-width="0.0015"/>
<path d="M0.1307 0.0308 0.1289 0.0293 0.1272 0.0278" stroke="#270b56" stroke-width="0.00145"/>
<path d="M0.1278 0.0283 0.1259 0.0269 0.124 0.0256" stroke="#220c4e" stroke-width="0.0014"/>
<path d="M0.1247 0.026 0.1227 0.0248 0.1207 0.0237" stroke="#1e0c45" stroke-width="0.00135"/>
<path d="M0.1214 0.0241 0.1194 0.023 0.1173 0.0221" stroke="#190c3e" stroke-width="0.0013"/>
<path d="M0.118 0.0224 0.1158 0.0215 0.1137 0.0208" stroke="#190c3e" stroke-width="0.00125"/>
<path d="M0.1144 0.021 0.1122 0.0203 0.11 0.0198" stroke="#150b37" stroke-width="0.0012"/>
<path d="M0.1107 0.02 0.1085 0.0194 0.1062 0.0189" stroke="#150b37" stroke-width="0.00115"/>
<path d="M0.107 0.0191 0.1047 0.0186 0.1024 0.0183" stroke="#150b37" stroke-width="0.0011"/>
<path d="M0.1031 0.0184 0.1008 0.0182 0.0984 0.0182 0.0961 0.0183 0.0945 0.0185" stroke="#150b37" stroke-width="0.00105"/>
<path d="M0.0953 0.0184 0.0929 0.0187 0.0906 0.0191" stroke="#190c3e" stroke-width="0.0011"/>
<path d="M0.0914 0.019 0.0891 0.0195 0.0868 0.0202 0.0864 0.0203" stroke="#190c3e" stroke-width="0.00115"/>
<path d="M0.0872 0.0201 0.0849 0.0209 0.0828 0.0218" stroke="#1e0c45" stroke-width="0.00075"/>
<path d="M0.0835 0.0214 0.0813 0.0224 0.0792 0.0236" stroke="#270b56" stroke-width="0.00081"/>
<path d="M0.0799 0.0232 0.0779 0.0244 0.0759 0.0257" stroke="#2c0b5e" stroke-width="0.00087"/>
<path d="M0.0765 0.0253 0.0746 0.0267 0.0728 0.0282" stroke="#310a65" stroke-width="0.00093"/>
<path d="M0.0734 0.0277 0.0716 0.0292 0.0699 0.0309" stroke="#3b0970" stroke-width="0.00096"/>
<path d="M0.0704 0.0304 0.0688 0.0321 0.0672 0.0339" stroke="#3e0a73" stroke-width="0.00102"/>
<path d="M0.0677 0.0333 0.0662 0.0351 0.0648 0.0371" stroke="#470c7b" stroke-width="0.00108"/>
<path d="M0.0653 0.0364 0.0639 0.0384 0.0627 0.0404" stroke="#4f0f81" stroke-width="0.00114"/>
<path d="M0.0631 0.0397 0.0619 0.0418 0.0608 0.0439" stroke="#591280" stroke-width="0.00117"/>
<path d="M0.0612 0.0432 0.0601 0.0453 0.0592 0.0475" stroke="#63167c" stroke-width="0.00123"/>
<path d="M0.0595 0.0468 0.0586 0.049 0.0577 0.0512" stroke="#6d1978" stroke-width="0.00129"/>
<path d="M0.058 0.0505 0.0571 0.0527 0.0562 0.0549" stroke="#7d1e71" stroke-width="0.00135"/>
<path d="M0.0565 0.0542 0.0556 0.0564 0.0547 0.0587" stroke="#8c2369" stroke-width="0.00141"/>
<path d="M0.055 0.0579 0.0541 0.0601 0.0532 0.0624" stroke="#9a2865" stroke-width="0.00147"/>
<path d="M0.0535 0.0616 0.0527 0.0639 0.0518 0.0661" stroke="#a82e5f" stroke-width="0.00153"/>
<path d="M0.0521 0.0654 0.0512 0.0676 0.0504 0.0699" stroke="#b1325a" stroke-width="0.00159"/>
<path d="M0.0507 0.0691 0.0498 0.0714 0.049 0.0736" stroke="#bf3952" stroke-width="0.00162"/>
<path d="M0.0493 0.0729 0.0485 0.0751 0.0477 0.0774" stroke="#ca404a" stroke-width="0.00168"/>
<path d="M0.0479 0.0766 0.0471 0.0789 0.0463 0.0812" stroke="#d24644" stroke-width="0.00171"/>
<path d="M0.0466 0.0804 0.0458 0.0827 0.045 0.0849" stroke="#d94d3d" stroke-width="0.00174"/>
<path d="M0.0453 0.0842 0.0445 0.0864 0.0437 0.0887" stroke="#e05536" stroke-width="0.00177"/>
<path d="M0.0439 0.0879 0.0432 0.0902 0.0424 0.0925" stroke="#e35933" stroke-width="0.0018"/>
<path d="M0.0426 0.0917 0.0418 0.094 0.0411 0.0962" stroke="#e65d2f" stroke-width="0.0018"/>
<path d="M0.0413 0.0955 0.0405 0.0977 0.0398 0.1" stroke="#e9612b" stroke-width="0.00183"/>
<path d="M0.04 0.0993 0.0393 0.1015 0.0385 0.1038" stroke="#eb6628" stroke-width="0.00183"/>
<path d="M0.0387 0.103 0.038 0.1053 0.0373 0.1076" stroke="#ed6925" stroke-width="0.00186"/>
<path d="M0.0375 0.1068 0.0368 0.1091 0.0361 0.1114" stroke="#ef6e21" stroke-width="0.00186"/>
<path d="M0.0364 0.1107 0.0357 0.113 0.035 0.1153" stroke="#f1731d" stroke-width="0.00186"/>
<path d="M0.0353 0.1145 0.0346 0.1168 0.034 0.1191 0.0334 0.1214 0.033 0.123" stroke="#f37819" stroke-width="0.00189"/>
<path d="M0.0332 0.1222 0.0326 0.1245 0.032 0.1269" stroke="#f57d15" stroke-width="0.00189"/>
<path d="M0.0322 0.1261 0.0316 0.1284 0.0311 0.1307" stroke="#f78212" stroke-width="0.00189"/>
<path d="M0.0313 0.13 0.0307 0.1323 0.0302 0.1346" stroke="#f78212" stroke-width="0.00192"/>
<path d="M0.0304 0.1339 0.0298 0.1362 0.0293 0.1385 0.0288 0.1409 0.0284 0.1424" stroke="#f8870e" stroke-width="0.00192"/>
<path d="M0.0286 0.1416 0.028 0.144 0.0275 0.1463" stroke="#f98c0a" stroke-width="0.00192"/>
<path d="M0.0277 0.1455 0.0272 0.1479 0.0267 0.1502 0.0261 0.1526 0.0258 0.1541" stroke="#fa9207" stroke-width="0.00195"/>
<path d="M0.026 0.1533 0.0254 0.1557 0.0249 0.158 0.0245 0.1604 0.0241 0.162" stroke="#fb9706" stroke-width="0.00195"/>
<path d="M0.0243 0.1612 0.0238 0.1635 0.0234 0.1659" stroke="#fb9d07" stroke-width="0.00195"/>
<path d="M0.0235 0.1651 0.0231 0.1675 0.0226 0.1698" stroke="#fb9d07" stroke-width="0.00198"/>
<path d="M0.0228 0.169 0.0224 0.1714 0.022 0.1738" stroke="#fca309" stroke-width="0.00198"/>
<path d="M0.0221 0.173 0.0217 0.1754 0.0213 0.1778 0.021 0.1801 0.0207 0.1825 0.0203 0.1849 0.0202 0.1857" stroke="#fca80d" stroke-width="0.00198"/>
<path d="M0.0203 0.1849 0.02 0.1873 0.0198 0.1897" stroke="#fcae12" stroke-width="0.00198"/>
<path d="M0.0199 0.1889 0.0196 0.1913 0.0193 0.1937" stroke="#fcae12" stroke-width="0.00201"/>
<path d="M0.0194 0.1929 0.0191 0.1953 0.0189 0.1977 0.0187 0.2 0.0185 0.2016" stroke="#fcb216" stroke-width="0.00201"/>
<path d="M0.0186 0.2008 0.0183 0.2032 0.0181 0.2056 0.0179 0.208 0.0178 0.2096" stroke="#fbb81d" stroke-width="0.00201"/>
<path d="M0.0179 0.2088 0.0177 0.2112 0.0175 0.2136 0.0174 0.216 0.0173 0.2176" stroke="#fbb81d" stroke-width="0.00204"/>
<path d="M0.0174 0.2168 0.0173 0.2192 0.0172 0.2216 0.0171 0.224 0.017 0.2256" stroke="#fbbe23" stroke-width="0.00204"/>
<path d="M0.017 0.2248 0.0169 0.2272 0.0168 0.2296" stroke="#fbbe23" stroke-width="0.00207"/>
<path d="M0.0168 0.2288 0.0167 0.2312 0.0166 0.2335 0.0165 0.2359 0.0164 0.2375" stroke="#fac42a" stroke-width="0.00207"/>
<path d="M0.0165 0.2367 0.0164 0.2391 0.0163 0.2415 0.0162 0.2439 0.0161 0.2455" stroke="#fac42a" stroke-width="0.0021"/>
<path d="M0.0162 0.2447 0.0161 0.2471 0.016 0.2495" stroke="#f9c932" stroke-width="0.0021"/>
<path d="M0.016 0.2487 0.016 0.2511 0.0159 0.2535 0.0159 0.2559 0.0158 0.2583 0.0158 0.2607 0.0157 0.2631 0.0157 0.2655 0.0157 0.2679 0.0157 0.2703 0.0157 0.2727 0.0157 0.2751 0.0157 0.2775 0.0157 0.2798 0.0157 0.2814" stroke="#f9c932" stroke-width="0.00213"/>
<path d="M0.0157 0.2806 0.0157 0.283 0.0158 0.2854 0.0158 0.2878 0.0158 0.2894" stroke="#f9c932" stroke-width="0.0021"/>
<path d="M0.0158 0.2886 0.0158 0.291 0.0159 0.2934 0.0161 0.2958 0.0162 0.2974" stroke="#fac42a" stroke-width="0.00207"/>
<path d="M0.0162 0.2966 0.0164 0.299 0.0168 0.3014" stroke="#fac42a" stroke-width="0.00204"/>
<path d="M0.0167 0.3006 0.0171 0.303 0.0176 0.3053" stroke="#fbbe23" stroke-width="0.00201"/>
<path d="M0.0174 0.3045 0.0179 0.3069 0.0186 0.3092 0.0193 0.3115 0.0199 0.313" stroke="#fbbe23" stroke-width="0.00198"/>
<path d="M0.0196 0.3122 0.0204 0.3145 0.0214 0.3167" stroke="#fbbe23" stroke-width="0.00195"/>
<path d="M0.0211 0.3159 0.0221 0.3181 0.0231 0.3202" stroke="#fbb81d" stroke-width="0.00195"/>
<path d="M0.0228 0.3195 0.0239 0.3216 0.0251 0.3236 0.0264 0.3256 0.0277 0.3276 0.029 0.3296 0.0303 0.3316 0.0316 0.3336 0.0329 0.3355 0.0338 0.3369" stroke="#fbb81d" stroke-width="0.00192"/>
<path d="M0.0333 0.3362 0.0347 0.3382 0.036 0.3402 0.0373 0.3422 0.0381 0.3436" stroke="#fbbe23" stroke-width="0.00195"/>
<path d="M0.0377 0.3429 0.039 0.3449 0.0403 0.3469" stroke="#fbbe23" stroke-width="0.00198"/>
<path d="M0.0399 0.3462 0.0412 0.3483 0.0425 0.3503" stroke="#fac42a" stroke-width="0.00198"/>
<path d="M0.042 0.3496 0.0433 0.3516 0.0446 0.3536 0.046 0.3557 0.0468 0.357" stroke="#f9c932" stroke-width="0.00201"/>
<path d="M0.0464 0.3563 0.0477 0.3584 0.049 0.3604" stroke="#f8cf3a" stroke-width="0.00204"/>
<path d="M0.0486 0.3597 0.0499 0.3617 0.0512 0.3638" stroke="#f8cf3a" stroke-width="0.00207"/>
<path d="M0.0507 0.3631 0.052 0.3651 0.0534 0.3671" stroke="#f6d543" stroke-width="0.00207"/>
<path d="M0.0529 0.3665 0.0542 0.3685 0.0556 0.3705 0.0569 0.3725 0.0578 0.3738" stroke="#f6d543" stroke-width="0.0021"/>
<path d="M0.0573 0.3732 0.0587 0.3752 0.0601 0.3772 0.0615 0.3791 0.0629 0.3811 0.0643 0.383 0.0648 0.3837" stroke="#f5db4c" stroke-width="0.0021"/>
<path d="M0.0643 0.383 0.0658 0.3849 0.0673 0.3868 0.0688 0.3887 0.0703 0.3906 0.0718 0.3925 0.0723 0.3931" stroke="#f5db4c" stroke-width="0.00207"/>
<path d="M0.0718 0.3925 0.0733 0.3944 0.0749 0.3962 0.0764 0.3981 0.0775 0.3993" stroke="#f5db4c" stroke-width="0.00204"/>
<path d="M0.0769 0.3987 0.0785 0.4005 0.0801 0.4023 0.0817 0.4041 0.0828 0.4053" stroke="#f5db4c" stroke-width="0.00201"/>
<path d="M0.0822 0.4047 0.0838 0.4065 0.0855 0.4083 0.0871 0.41 0.0887 0.4118 0.0904 0.4135 0.0909 0.4141" stroke="#f5db4c" stroke-width="0.00198"/>
<path d="M0.0904 0.4135 0.092 0.4153 0.0937 0.417 0.0953 0.4187 0.097 0.4204 0.0987 0.4221 0.0993 0.4227" stroke="#f5db4c" stroke-width="0.00195"/>
<path d="M0.0987 0.4221 0.1004 0.4238 0.1021 0.4255 0.1038 0.4272 0.1055 0.4289 0.1072 0.4305 0.109 0.4322 0.1107 0.4338" stroke="#f5db4c" stroke-width="0.00198"/>
<path d="M0.1101 0.4333 0.1119 0.4349 0.1136 0.4365 0.1153 0.4381 0.1171 0.4398 0.1188 0.4414 0.1194 0.4419" stroke="#f5db4c" stroke-width="0.00201"/>
<path d="M0.1188 0.4414 0.1206 0.443 0.1224 0.4446 0.1241 0.4462 0.1259 0.4478 0.1277 0.4494 0.1295 0.451 0.1313 0.4525 0.1332 0.4541 0.135 0.4556 0.1369 0.4571 0.1387 0.4586 0.1406 0.4601 0.1425 0.4615 0.1444 0.463 0.1463 0.4644 0.1483 0.4658 0.1502 0.4672 0.1522 0.4686 0.1541 0.47 0.1561 0.4713 0.1581 0.4727 0.16 0.4741 0.162 0.4754 0.164 0.4767 0.166 0.478 0.168 0.4793 0.17 0.4806 0.1721 0.4819 0.1741 0.4832 0.1761 0.4844 0.1782 0.4857 0.1802 0.4869 0.1823 0.4881 0.1843 0.4893 0.1864 0.4905 0.1871 0.4909" stroke="#f5db4c" stroke-width="0.00204"/>
<path d="M0.1864 0.4905 0.1885 0.4917 0.1906 0.4929 0.1927 0.494 0.1947 0.4952 0.1968 0.4963 0.1989 0.4975 0.2011 0.4986 0.2032 0.4997 0.2053 0.5008 0.2074 0.5019 0.2084 0.5025" stroke="#f5db4c" stroke-width="0.00201"/>
<path d="M0.2077 0.5021 0.2098 0.5032 0.212 0.5043 0.2141 0.5054 0.2162 0.5065 0.2183 0.5076 0.2205 0.5086 0.2226 0.5097 0.2248 0.5107 0.2269 0.5117 0.2291 0.5126 0.2313 0.5136 0.2335 0.5146 0.2356 0.5155 0.2378 0.5164 0.24 0.5173 0.2423 0.5181 0.2445 0.519 0.2467 0.5198 0.2489 0.5206 0.2512 0.5214 0.2534 0.5222 0.2557 0.523 0.2579 0.5238 0.2595 0.5243" stroke="#f5db4c" stroke-width="0.00198"/>
<path d="M0.2587 0.524 0.261 0.5248 0.2632 0.5255 0.2655 0.5263 0.2678 0.527 0.2701 0.5277 0.2724 0.5284 0.2747 0.5291 0.277 0.5298 0.2793 0.5304 0.2816 0.5311 0.2839 0.5317 0.2862 0.5323 0.2886 0.5329 0.2909 0.5334 0.2932 0.534 0.2956 0.5345 0.2979 0.535 0.3003 0.5355 0.3018 0.5358" stroke="#f5db4c" stroke-width="0.00201"/>
<path d="M0.3011 0.5356 0.3034 0.5361 0.3058 0.5365 0.3081 0.5369 0.3105 0.5373 0.3129 0.5376 0.3152 0.538 0.3176 0.5383 0.32 0.5386 0.3224 0.5388 0.3247 0.5391 0.3271 0.5393 0.3295 0.5396 0.3319 0.5398 0.3335 0.5399" stroke="#f6d543" stroke-width="0.00204"/>
<path d="M0.3327 0.5399 0.3351 0.5401 0.3374 0.5403" stroke="#f8cf3a" stroke-width="0.00204"/>
<path d="M0.3366 0.5402 0.339 0.5404 0.3414 0.5406 0.3438 0.5408 0.3462 0.5409 0.3486 0.5411 0.3509 0.5412 0.3533 0.5413 0.3557 0.5414 0.3581 0.5415 0.3605 0.5416 0.3613 0.5416" stroke="#f8cf3a" stroke-width="0.00207"/>
<path d="M0.3605 0.5416 0.3629 0.5416 0.3653 0.5417 0.3677 0.5417 0.3701 0.5417 0.3725 0.5417 0.3749 0.5417 0.3773 0.5417 0.3797 0.5417 0.3813 0.5417" stroke="#f9c932" stroke-width="0.00207"/>
<path d="M0.3805 0.5417 0.3828 0.5417 0.3851 0.5416" stroke="#fac42a" stroke-width="0.00207"/>
<path d="M0.3844 0.5416 0.3867 0.5415 0.389 0.5414 0.3913 0.5412 0.3937 0.5409 0.396 0.5405 0.3984 0.5402 0.4008 0.5397" stroke="#fac42a" stroke-width="0.00204"/>
<path d="M0.4 0.5399 0.4024 0.5394 0.4047 0.5389 0.407 0.5384 0.4086 0.538" stroke="#fbbe23" stroke-width="0.00204"/>
<path d="M0.4078 0.5382 0.4101 0.5376 0.4125 0.5369 0.4147 0.5361 0.417 0.5353 0.4193 0.5345 0.4215 0.5336 0.4238 0.5327 0.426 0.5317 0.4282 0.5308 0.4304 0.5298 0.4326 0.5287 0.4347 0.5277" stroke="#fbbe23" stroke-width="0.00201"/>
<path d="M0.434 0.528 0.4362 0.527 0.4384 0.5259" stroke="#fbbe23" stroke-width="0.00198"/>
<path d="M0.4376 0.5263 0.4398 0.5252 0.4419 0.5241 0.4441 0.523 0.4462 0.5219 0.4483 0.5207 0.4504 0.5195 0.4525 0.5183 0.4546 0.5171 0.456 0.5163" stroke="#fbb81d" stroke-width="0.00198"/>
<path d="M0.4553 0.5167 0.4574 0.5155 0.4594 0.5142 0.4614 0.5129 0.4635 0.5116 0.4655 0.5103 0.4675 0.509 0.4695 0.5076" stroke="#fbb81d" stroke-width="0.00195"/>
<path d="M0.4688 0.5081 0.4708 0.5067 0.4727 0.5053 0.4747 0.5039 0.476 0.503" stroke="#fcb216" stroke-width="0.00192"/>
<path d="M0.4753 0.5035 0.4773 0.502 0.4792 0.5006" stroke="#fcb216" stroke-width="0.00189"/>
<path d="M0.4785 0.5011 0.4804 0.4996 0.4823 0.4981" stroke="#fcae12" stroke-width="0.00189"/>
<path d="M0.4817 0.4986 0.4836 0.4971 0.4854 0.4956" stroke="#fcae12" stroke-width="0.00186"/>
<path d="M0.4848 0.4961 0.4866 0.4946 0.4885 0.4931" stroke="#fca80d" stroke-width="0.00186"/>
<path d="M0.4879 0.4936 0.4897 0.492 0.4915 0.4905 0.4933 0.4889 0.4944 0.4878" stroke="#fca80d" stroke-width="0.00183"/>
<path d="M0.4938 0.4883 0.4956 0.4867 0.4973 0.4851 0.4991 0.4834 0.5002 0.4823" stroke="#fca309" stroke-width="0.0018"/>
<path d="M0.4996 0.4829 0.5013 0.4812 0.503 0.4795 0.5047 0.4778 0.5058 0.4766" stroke="#fb9d07" stroke-width="0.0018"/>
<path d="M0.5052 0.4772 0.5069 0.4755 0.5085 0.4737 0.5101 0.472 0.5112 0.4708" stroke="#fb9706" stroke-width="0.0018"/>
<path d="M0.5106 0.4714 0.5122 0.4696 0.5138 0.4678" stroke="#fa9207" stroke-width="0.00183"/>
<path d="M0.5133 0.4684 0.5148 0.4666 0.5163 0.4648 0.5179 0.4629 0.5189 0.4617" stroke="#f98c0a" stroke-width="0.00183"/>
<path d="M0.5184 0.4623 0.5198 0.4604 0.5213 0.4585" stroke="#f8870e" stroke-width="0.00186"/>
<path d="M0.5208 0.4592 0.5223 0.4573 0.5237 0.4553 0.5251 0.4534 0.5261 0.4521" stroke="#f78212" stroke-width="0.00186"/>
<path d="M0.5256 0.4528 0.527 0.4508 0.5284 0.4488" stroke="#f57d15" stroke-width="0.00189"/>
<path d="M0.5279 0.4495 0.5293 0.4475 0.5306 0.4455 0.5319 0.4435 0.5327 0.4421" stroke="#f37819" stroke-width="0.00189"/>
<path d="M0.5323 0.4428 0.5336 0.4407 0.5348 0.4387 0.536 0.4366 0.5368 0.4352" stroke="#f1731d" stroke-width="0.00189"/>
<path d="M0.5364 0.4359 0.5375 0.4337 0.5386 0.4316 0.5397 0.4294 0.5403 0.428" stroke="#ef6e21" stroke-width="0.00189"/>
<path d="M0.54 0.4287 0.541 0.4265 0.542 0.4243 0.5429 0.4221 0.5436 0.4206" stroke="#ed6925" stroke-width="0.00186"/>
<path d="M0.5433 0.4213 0.5442 0.4191 0.5451 0.4169" stroke="#eb6628" stroke-width="0.00183"/>
<path d="M0.5448 0.4176 0.5457 0.4154 0.5465 0.4132" stroke="#e9612b" stroke-width="0.0018"/>
<path d="M0.5462 0.4139 0.5471 0.4117 0.5479 0.4094" stroke="#e9612b" stroke-width="0.00177"/>
<path d="M0.5476 0.4102 0.5484 0.4079 0.5492 0.4057" stroke="#e65d2f" stroke-width="0.00171"/>
<path d="M0.549 0.4064 0.5498 0.4042 0.5505 0.402" stroke="#e05536" stroke-width="0.00168"/>
<path d="M0.5503 0.4027 0.551 0.4005 0.5518 0.3982" stroke="#d94d3d" stroke-width="0.00165"/>
<path d="M0.5515 0.399 0.5523 0.3967 0.553 0.3945" stroke="#ce4347" stroke-width="0.00159"/>
<path d="M0.5528 0.3952 0.5535 0.393 0.5542 0.3907" stroke="#bf3952" stroke-width="0.00156"/>
<path d="M0.554 0.3915 0.5547 0.3893 0.5555 0.387" stroke="#a82e5f" stroke-width="0.0015"/>
<path d="M0.5552 0.3878 0.5559 0.3855 0.5566 0.3834" stroke="#86216c" stroke-width="0.00147"/>
<path d="M0.5564 0.3841 0.557 0.3819 0.5575 0.3797" stroke="#781d74" stroke-width="0.00144"/>
<path d="M0.5573 0.3804 0.5578 0.3782 0.5581 0.3759" stroke="#6d1978" stroke-width="0.00138"/>
<path d="M0.558 0.3767 0.5583 0.3744 0.5584 0.372" stroke="#63167c" stroke-width="0.00132"/>
<path d="M0.5584 0.3728 0.5585 0.3704 0.5584 0.3681" stroke="#591280" stroke-width="0.00126"/>
<path d="M0.5584 0.3689 0.5583 0.3665 0.5579 0.3641" stroke="#541081" stroke-width="0.00117"/>
<path d="M0.5581 0.3649 0.5577 0.3625 0.5571 0.3602" stroke="#4f0f81" stroke-width="0.00111"/>
<path d="M0.5573 0.3609 0.5567 0.3586 0.556 0.3563" stroke="#4b0d7e" stroke-width="0.00105"/>
<path d="M0.5562 0.3571 0.5554 0.3548 0.5544 0.3526" stroke="#470c7b" stroke-width="0.00102"/>
<path d="M0.5548 0.3533 0.5537 0.3511 0.5526 0.349" stroke="#470c7b" stroke-width="0.00099"/>
<path d="M0.553 0.3497 0.5517 0.3476 0.5504 0.3456" stroke="#420a77" stroke-width="0.00096"/>
<path d="M0.5508 0.3463 0.5494 0.3444 0.5478 0.3425 0.5462 0.3408 0.545 0.3397" stroke="#3e0a73" stroke-width="0.00096"/>
<path d="M0.5456 0.3403 0.5438 0.3387 0.542 0.3372" stroke="#3e0a73" stroke-width="0.00099"/>
<path d="M0.5426 0.3377 0.5407 0.3362 0.5388 0.3349 0.5367 0.3337 0.5354 0.3329" stroke="#3b0970" stroke-width="0.00099"/>
<path d="M0.5361 0.3333 0.534 0.3322 0.5318 0.3313" stroke="#3e0a73" stroke-width="0.00099"/>
<path d="M0.5325 0.3316 0.5303 0.3307 0.5281 0.3299" stroke="#3e0a73" stroke-width="0.00102"/>
<path d="M0.5289 0.3302 0.5266 0.3295 0.5243 0.3289" stroke="#420a77" stroke-width="0.00102"/>
<path d="M0.5251 0.3291 0.5228 0.3286 0.5205 0.3282" stroke="#470c7b" stroke-width="0.00105"/>
<path d="M0.5213 0.3283 0.5189 0.328 0.5166 0.3279" stroke="#4f0f81" stroke-width="0.00108"/>
<path d="M0.5174 0.3279 0.515 0.3278 0.5126 0.3278" stroke="#591280" stroke-width="0.00111"/>
<path d="M0.5134 0.3278 0.5111 0.3279 0.5087 0.3281" stroke="#63167c" stroke-width="0.00114"/>
<path d="M0.5095 0.328 0.5072 0.3283 0.5048 0.3287" stroke="#6d1978" stroke-width="0.00117"/>
<path d="M0.5056 0.3286 0.5033 0.3291 0.501 0.3296" stroke="#781d74" stroke-width="0.0012"/>
<path d="M0.5018 0.3294 0.4995 0.3301 0.4973 0.3308" stroke="#86216c" stroke-width="0.00123"/>
<path d="M0.498 0.3306 0.4958 0.3314 0.4937 0.3323" stroke="#902568" stroke-width="0.00126"/>
<path d="M0.4944 0.332 0.4923 0.333 0.4902 0.334" stroke="#9f2a63" stroke-width="0.00129"/>
<path d="M0.4909 0.3337 0.4888 0.3348 0.4868 0.336" stroke="#ad305d" stroke-width="0.00132"/>
<path d="M0.4875 0.3356 0.4854 0.3368 0.4833 0.338" stroke="#c13a50" stroke-width="0.00135"/>
<path d="M0.484 0.3376 0.4819 0.3388 0.4797 0.3399" stroke="#d94d3d" stroke-width="0.00138"/>
<path d="M0.4804 0.3395 0.4783 0.3406 0.4761 0.3417" stroke="#e35933" stroke-width="0.00144"/>
<path d="M0.4768 0.3413 0.4746 0.3423 0.4725 0.3433" stroke="#e9612b" stroke-width="0.00147"/>
<path d="M0.4732 0.343 0.471 0.3439 0.4687 0.3448" stroke="#ed6925" stroke-width="0.00153"/>
<path d="M0.4695 0.3445 0.4673 0.3454 0.465 0.3462" stroke="#ef6e21" stroke-width="0.00156"/>
<path d="M0.4658 0.346 0.4635 0.3468 0.4612 0.3475" stroke="#f1731d" stroke-width="0.00162"/>
<path d="M0.462 0.3473 0.4597 0.348 0.4574 0.3487" stroke="#f1731d" stroke-width="0.00165"/>
<path d="M0.4582 0.3485 0.4559 0.3491 0.4536 0.3497" stroke="#f37819" stroke-width="0.00171"/>
<path d="M0.4543 0.3495 0.452 0.3501 0.4497 0.3506 0.4493 0.3507" stroke="#f37819" stroke-width="0.00174"/>
<path d="M0.4501 0.3506 0.4477 0.3511 0.4454 0.3516" stroke="#f57d15" stroke-width="0.00177"/>
<path d="M0.4462 0.3514 0.4438 0.3519 0.4415 0.3523" stroke="#f57d15" stroke-width="0.0018"/>
<path d="M0.4423 0.3522 0.4399 0.3526 0.4376 0.3531" stroke="#f57d15" stroke-width="0.00183"/>
<path d="M0.4384 0.3529 0.436 0.3534 0.4337 0.3538 0.4314 0.3543 0.4298 0.3546" stroke="#f78212" stroke-width="0.00186"/>
<path d="M0.4306 0.3544 0.4282 0.3548 0.4259 0.3553 0.4235 0.3557 0.422 0.3559" stroke="#f8870e" stroke-width="0.00189"/>
<path d="M0.4227 0.3558 0.4204 0.3562 0.418 0.3565 0.4157 0.3568 0.4141 0.3571" stroke="#f98c0a" stroke-width="0.00192"/>
<path d="M0.4149 0.357 0.4125 0.3573 0.4101 0.3575 0.4078 0.3578 0.4062 0.3579" stroke="#fa9207" stroke-width="0.00195"/>
<path d="M0.407 0.3578 0.4046 0.358 0.4022 0.3582 0.3998 0.3584 0.3975 0.3585 0.3951 0.3585 0.3927 0.3586 0.3903 0.3586" stroke="#fb9706" stroke-width="0.00198"/>
<path d="M0.3911 0.3586 0.3887 0.3586 0.3863 0.3585 0.3839 0.3584 0.3815 0.3583 0.3792 0.3582 0.3768 0.3581 0.3744 0.3579 0.372 0.3577 0.3696 0.3575 0.3672 0.3573 0.3649 0.357 0.3625 0.3568" stroke="#fb9d07" stroke-width="0.00198"/>
<path d="M0.3633 0.3569 0.3609 0.3566 0.3585 0.3563 0.3562 0.356 0.3538 0.3556 0.3514 0.3553 0.3491 0.3549 0.3467 0.3545 0.3444 0.3541 0.342 0.3537 0.3397 0.3532 0.3373 0.3527 0.335 0.3522 0.3327 0.3516 0.3312 0.3513" stroke="#fca309" stroke-width="0.00198"/>
<path d="M0.3319 0.3514 0.3296 0.3509 0.3273 0.3503 0.325 0.3496 0.3235 0.3492" stroke="#fca80d" stroke-width="0.00195"/>
<path d="M0.3242 0.3494 0.322 0.3487 0.3197 0.348 0.3174 0.3473 0.3151 0.3466 0.3129 0.3458 0.3121 0.3455" stroke="#fca80d" stroke-width="0.00192"/>
<path d="M0.3129 0.3458 0.3106 0.345 0.3084 0.3442" stroke="#fca80d" stroke-width="0.00189"/>
<path d="M0.3092 0.3444 0.3069 0.3436 0.3047 0.3427 0.3025 0.3418 0.3003 0.3409 0.2981 0.3399 0.2959 0.339 0.2938 0.338 0.2916 0.337 0.2894 0.336 0.2873 0.335 0.2851 0.3339 0.2829 0.3329 0.2808 0.3318 0.2787 0.3308 0.2765 0.3297 0.2744 0.3286 0.2722 0.3275 0.2701 0.3264 0.268 0.3253 0.2659 0.3242 0.2638 0.323 0.2617 0.3219 0.2596 0.3207 0.2576 0.3194 0.2555 0.3181 0.2535 0.3169 0.2515 0.3156 0.2495 0.3142 0.2475 0.3129 0.2455 0.3116 0.2448 0.3111" stroke="#fcae12" stroke-width="0.00189"/>
<path d="M0.2455 0.3116 0.2435 0.3102 0.2416 0.3088 0.2396 0.3074 0.2383 0.3065" stroke="#fca80d" stroke-width="0.00189"/>
<path d="M0.239 0.3069 0.2371 0.3055 0.2352 0.3041 0.2333 0.3026 0.232 0.3016" stroke="#fca80d" stroke-width="0.00192"/>
<path d="M0.2326 0.3021 0.2308 0.3006 0.229 0.2991 0.2272 0.2976 0.2255 0.296 0.2238 0.2943 0.2221 0.2927 0.2204 0.291 0.2188 0.2893 0.2178 0.2881" stroke="#fca309" stroke-width="0.00192"/>
<path d="M0.2183 0.2887 0.2168 0.2869 0.2152 0.2851 0.2138 0.2833 0.2123 0.2815 0.2109 0.2796 0.2095 0.2777 0.2081 0.2758 0.2068 0.2739 0.2056 0.2719 0.2043 0.27 0.2031 0.268 0.2019 0.2659" stroke="#fb9d07" stroke-width="0.00195"/>
<path d="M0.2023 0.2666 0.2011 0.2646 0.1999 0.2625 0.1987 0.2605 0.1974 0.2584 0.1962 0.2564 0.195 0.2543 0.1939 0.2523 0.1927 0.2502 0.1915 0.2481 0.1904 0.2461 0.1892 0.244 0.1881 0.2419 0.1869 0.2398 0.1862 0.2384" stroke="#fb9d07" stroke-width="0.00198"/>
<path d="M0.1865 0.2391 0.1854 0.237 0.1843 0.2349 0.1831 0.2328 0.182 0.2307 0.1809 0.2286 0.1798 0.2265 0.1788 0.2244" stroke="#fb9d07" stroke-width="0.00201"/>
<path d="M0.1791 0.2251 0.1781 0.2229 0.177 0.2208 0.176 0.2186 0.1754 0.2172" stroke="#fb9d07" stroke-width="0.00198"/>
<path d="M0.1757 0.2179 0.1747 0.2157 0.1738 0.2135 0.1728 0.2113 0.1719 0.2091 0.171 0.2069 0.1702 0.2047 0.1693 0.2024" stroke="#fb9706" stroke-width="0.00198"/>
<path d="M0.1696 0.2032 0.1688 0.2009 0.1679 0.1987 0.1671 0.1964 0.1664 0.1941 0.1656 0.1919 0.1649 0.1896 0.1642 0.1873" stroke="#fa9207" stroke-width="0.00198"/>
<path d="M0.1644 0.188 0.1637 0.1858 0.163 0.1835 0.1624 0.1811 0.1618 0.1788 0.1611 0.1765 0.1609 0.1758" stroke="#f98c0a" stroke-width="0.00198"/>
<path d="M0.1611 0.1765 0.1605 0.1742 0.1599 0.1719 0.1593 0.1696 0.1589 0.168" stroke="#f8870e" stroke-width="0.00195"/>
<path d="M0.1591 0.1688 0.1585 0.1665 0.1579 0.1642 0.1574 0.1618 0.157 0.1603" stroke="#f78212" stroke-width="0.00195"/>
<path d="M0.1572 0.1611 0.1566 0.1587 0.156 0.1564" stroke="#f57d15" stroke-width="0.00195"/>
<path d="M0.1562 0.1572 0.1557 0.1549 0.1551 0.1525" stroke="#f57d15" stroke-width="0.00192"/>
<path d="M0.1553 0.1533 0.1548 0.151 0.1543 0.1486 0.1538 0.1463 0.1535 0.1447" stroke="#f37819" stroke-width="0.00192"/>
<path d="M0.1536 0.1455 0.1531 0.1431 0.1527 0.1408" stroke="#f1731d" stroke-width="0.00189"/>
<path d="M0.1528 0.1416 0.1524 0.1392 0.1519 0.1369" stroke="#ef6e21" stroke-width="0.00189"/>
<path d="M0.1521 0.1377 0.1517 0.1353 0.1512 0.1329" stroke="#ed6925" stroke-width="0.00189"/>
<path d="M0.1514 0.1337 0.1509 0.1314 0.1505 0.129" stroke="#ed6925" stroke-width="0.00186"/>
<path d="M0.1507 0.1298 0.1503 0.1274 0.1499 0.1251" stroke="#eb6628" stroke-width="0.00186"/>
<path d="M0.15 0.1258 0.1496 0.1235 0.1493 0.1211" stroke="#e9612b" stroke-width="0.00183"/>
<path d="M0.1494 0.1219 0.1491 0.1195 0.1487 0.1171" stroke="#e65d2f" stroke-width="0.00183"/>
<path d="M0.1488 0.1179 0.1485 0.1156 0.1482 0.1132" stroke="#e35933" stroke-width="0.0018"/>
<path d="M0.1483 0.114 0.148 0.1116 0.1477 0.1092" stroke="#dd513a" stroke-width="0.00177"/>
<path d="M0.1478 0.11 0.1476 0.1076 0.1473 0.1052" stroke="#d54a41" stroke-width="0.00174"/>
<path d="M0.1474 0.106 0.1472 0.1036 0.147 0.1012" stroke="#ce4347" stroke-width="0.00171"/>
<path d="M0.147 0.102 0.1468 0.0996 0.1467 0.0973" stroke="#c63d4d" stroke-width="0.00168"/>
<path d="M0.1467 0.0981 0.1466 0.0957 0.1464 0.0933" stroke="#bf3952" stroke-width="0.00162"/>
<path d="M0.1465 0.0941 0.1464 0.0917 0.1463 0.0893" stroke="#b63458" stroke-width="0.00159"/>
<path d="M0.1463 0.0901 0.1463 0.0877 0.1462 0.0853" stroke="#a82e5f" stroke-width="0.00153"/>
<path d="M0.1462 0.0861 0.1462 0.0837 0.1461 0.0813" stroke="#9f2a63" stroke-width="0.0015"/>
<path d="M0.1461 0.0821 0.1461 0.0797 0.146 0.0773" stroke="#902568" stroke-width="0.00144"/>
<path d="M0.146 0.0781 0.1459 0.0757 0.1457 0.0733" stroke="#86216c" stroke-width="0.00138"/>
<path d="M0.1458 0.0741 0.1456 0.0717 0.1455 0.0693" stroke="#781d74" stroke-width="0.00135"/>
<path d="M0.1455 0.0701 0.1453 0.0677 0.1451 0.0653" stroke="#6d1978" stroke-width="0.00129"/>
<path d="M0.1452 0.0661 0.145 0.0637 0.1448 0.0613" stroke="#63167c" stroke-width="0.00126"/>
<path d="M0.1449 0.0621 0.1446 0.0597 0.1444 0.0574" stroke="#5e147e" stroke-width="0.0012"/>
<path d="M0.1445 0.0581 0.1442 0.0558 0.1438 0.0534" stroke="#541081" stroke-width="0.00117"/>
<path d="M0.1439 0.0542 0.1434 0.0519 0.1427 0.0496" stroke="#4f0f81" stroke-width="0.00114"/>
<path d="M0.143 0.0504 0.1422 0.0481 0.1414 0.0459" stroke="#470c7b" stroke-width="0.00108"/>
<path d="M0.1417 0.0467 0.1407 0.0445 0.1396 0.0424" stroke="#420a77" stroke-width="0.00105"/>
<path d="M0.14 0.0431 0.1389 0.0411 0.1376 0.0391" stroke="#3e0a73" stroke-width="0.00102"/>
<path d="M0.138 0.0397 0.1367 0.0378 0.1353 0.0359" stroke="#36096b" stroke-width="0.00099"/>
<path d="M0.1358 0.0366 0.1344 0.0348 0.1328 0.033" stroke="#310a65" stroke-width="0.00096"/>
<path d="M0.1333 0.0336 0.1318 0.0319 0.1301 0.0303" stroke="#2c0b5e" stroke-width="0.0009"/>
<path d="M0.1307 0.0308 0.1289 0.0293 0.1272 0.0278" stroke="#270b56" stroke-width="0.00087"/>
<path d="M0.1278 0.0283 0.1259 0.0269 0.124 0.0256" stroke="#220c4e" stroke-width="0.00084"/>
<path d="M0.1247 0.026 0.1227 0.0248 0.1207 0.0237" stroke="#1e0c45" stroke-width="0.00081"/>
<path d="M0.1214 0.0241 0.1194 0.023 0.1173 0.0221" stroke="#190c3e" stroke-width="0.00078"/>
<path d="M0.118 0.0224 0.1158 0.0215 0.1137 0.0208" stroke="#190c3e" stroke-width="0.00075"/>
<path d="M0.1144 0.021 0.1122 0.0203 0.11 0.0198" stroke="#150b37" stroke-width="0.00072"/>
<path d="M0.1107 0.02 0.1085 0.0194 0.1062 0.0189" stroke="#150b37" stroke-width="0.00069"/>
<path d="M0.107 0.0191 0.1047 0.0186 0.1024 0.0183" stroke="#150b37" stroke-width="0.00066"/>
<path d="M0.1031 0.0184 0.1008 0.0182 0.0984 0.0182 0.0961 0.0183 0.0945 0.0185" stroke="#150b37" stroke-width="0.00063"/>
<path d="M0.0953 0.0184 0.0929 0.0187 0.0906 0.0191" stroke="#190c3e" stroke-width="0.00066"/>
<path d="M0.0914 0.019 0.0891 0.0195 0.0868 0.0202 0.0864 0.0203" stroke="#190c3e" stroke-width="0.00069"/>
</g>
<path d="M255.6 678 L253.4 677.4 L251.3 676.7 L249.2 676 L247.1 675.3 L245 674.5 L243 673.6 L241 672.7 L239 671.7 L237.1 670.8 L235.2 669.7 L233.3 668.7 L231.5 667.5 L229.7 666.4 L228 665.2 L226.3 664 L224.7 662.7 L223.1 661.5 L221.6 660.2 L220.1 658.8 L218.6 657.5 L217.2 656.1 L215.9 654.7 L214.6 653.3 L213.3 651.9 L212.1 650.4 L211 649 L209.8 647.5 L208.7 645.9 L207.7 644.4 L206.7 642.9 L205.8 641.3 L204.8 639.7 L204 638.1 L203.2 636.6 L202.5 635.2 L201.8 633.8 L201.1 632.5 L200.5 631.1 L199.8 629.7 L199.1 628.3 L198.4 627 L197.7 625.6 L197.1 624.2 L196.4 622.8 L195.7 621.4 L195 620 L194.4 618.6 L193.7 617.2 L193.1 615.8 L192.4 614.4 L191.8 613 L191.1 611.6 L190.5 610.2 L189.8 608.8 L189.2 607.4 L188.6 606 L187.9 604.6 L187.3 603.2 L186.7 601.9 L186.1 600.5 L185.4 599.1 L184.8 597.7 L184.2 596.3 L183.6 594.9 L183 593.5 L182.4 592.1 L181.8 590.7 L181.2 589.3 L180.6 587.9 L180 586.6 L179.3 585.2 L178.7 583.8 L178.1 582.4 L177.5 581.1 L176.9 579.7 L176.3 578.3 L175.7 576.9 L175.1 575.5 L174.5 574.1 L173.9 572.7 L173.3 571.2 L172.7 569.8 L172.1 568.4 L171.5 567 L170.9 565.5 L170.3 564.1 L169.8 562.7 L169.2 561.2 L168.6 559.7 L168.1 558.3 L167.5 556.8 L167 555.3 L166.5 553.9 L166 552.5 L165.5 551 L165 549.5 L164.5 548.1 L164 546.6 L163.5 545.2 L163 543.7 L162.6 542.3 L162.1 540.8 L161.7 539.4 L161.2 537.9 L160.8 536.4 L160.3 535 L159.9 533.6 L159.5 532.1 L159 530.6 L158.6 529.2 L158.2 527.8 L157.8 526.3 L157.4 524.9 L156.9 523.5 L156.5 522 L156.1 520.5 L155.7 519.2 L155.3 517.7 L154.9 516.3 L154.5 514.8 L154.1 513.5 L153.7 512 L153.3 510.5 L152.9 509.1 L152.5 507.7 L152.1 506.2 L151.7 504.7 L151.3 503.3 L150.9 501.9 L150.5 500.4 L150.1 498.9 L149.7 497.5 L149.3 496 L148.9 494.5 L148.6 493 L148.2 491.6 L147.8 490.1 L147.5 488.6 L147.1 487.1 L146.8 485.6 L146.5 484.1 L146.1 482.6 L145.8 481.1 L145.5 479.6 L145.2 478.1 L144.9 476.6 L144.6 475.1 L144.3 473.6 L144 472.1 L143.8 470.6 L143.5 469.1 L143.2 467.6 L143 466.1 L142.8 464.6 L142.5 463.1 L142.3 461.6 L142.1 460.1 L141.9 458.6 L141.6 457.1 L141.4 455.7 L141.2 454.2 L141 452.7 L140.8 451.2 L140.6 449.7 L140.5 448.3 L140.3 446.8 L140.1 445.3 L139.9 443.8 L139.7 442.3 L139.5 440.8 L139.4 439.3 L139.2 437.8 L139.1 436.3 L138.9 434.8 L138.8 433.3 L138.6 431.7 L138.5 430.2 L138.4 428.7 L138.3 427.2 L138.2 425.6 L138.1 424.2 L138.1 422.7 L138 421.3 L137.9 419.8 L137.8 418.3 L137.8 416.9 L137.7 415.5 L137.6 414 L137.5 412.5 L137.4 411.1 L137.3 409.6 L137.2 408.2 L137.1 406.7 L137 405.2 L136.9 403.7 L136.8 402.3 L136.8 400.8 L136.7 399.3 L136.6 397.8 L136.5 396.3 L136.4 394.8 L136.4 393.4 L136.3 391.9 L136.3 390.4 L136.2 388.9 L136.1 387.4 L136.1 386 L136 384.5 L136 383 L135.9 381.5 L135.9 380 L135.8 378.6 L135.8 377.1 L135.8 375.6 L135.7 374.1 L135.7 372.7 L135.6 371.2 L135.6 369.7 L135.6 368.2 L135.6 366.7 L135.5 365.2 L135.5 363.8 L135.5 362.3 L135.5 360.8 L135.5 359.3 L135.5 357.8 L135.5 356.4 L135.5 354.9 L135.5 353.4 L135.5 351.9 L135.5 350.5 L135.5 349 L135.5 347.5 L135.5 346.1 L135.5 344.6 L135.5 343.1 L135.5 341.6 L135.5 340.2 L135.5 338.7 L135.5 337.2 L135.5 335.8 L135.5 334.2 L135.6 332.5 L135.7 330.9 L135.8 329.2 L135.9 327.5 L136.1 325.9 L136.3 324.2 L136.6 322.5 L136.9 320.9 L137.2 319.2 L137.5 317.5 L138 315.8 L138.4 314.2 L138.9 312.5 L139.4 310.8 L140 309.1 L140.6 307.5 L141.3 305.8 L142 304.2 L142.7 302.6 L143.5 301 L144.3 299.3 L145.2 297.8 L146.1 296.3 L147 294.7 L148 293.2 L149 291.7 L150 290.3 L151.1 288.8 L152.2 287.4 L153.3 286 L154.3 284.7 L155.4 283.4 L156.4 282.2 L157.4 281 L158.4 279.8 L159.4 278.6 L160.4 277.4 L161.4 276.1 L162.5 274.9 L163.5 273.7 L164.5 272.5 L165.5 271.3 L166.5 270.1 L167.5 268.8 L168.5 267.6 L169.6 266.4 L170.6 265.2 L171.6 264 L172.6 262.7 L173.6 261.5 L174.6 260.3 L175.6 259.1 L176.7 257.9 L177.7 256.7 L178.7 255.4 L179.7 254.2 L180.7 253 L181.7 251.8 L182.7 250.5 L183.8 249.3 L184.7 248.1 L185.8 246.9 L186.8 245.6 L187.8 244.4 L188.8 243.2 L189.8 241.9 L190.9 240.7 L191.9 239.5 L192.9 238.3 L193.9 237 L194.9 235.8 L195.9 234.6 L197 233.3 L198 232.1 L199.1 230.8 L200.1 229.6 L201.2 228.3 L202.2 227.1 L203.3 225.8 L204.4 224.5 L205.5 223.3 L206.6 222 L207.7 220.7 L208.8 219.5 L209.9 218.3 L211.1 217 L212.2 215.8 L213.3 214.6 L214.5 213.4 L215.7 212.1 L216.8 210.9 L218 209.7 L219.1 208.5 L220.3 207.3 L221.5 206.1 L222.7 204.9 L223.9 203.7 L225.1 202.5 L226.3 201.4 L227.5 200.2 L228.7 199 L229.9 197.8 L231.1 196.7 L232.3 195.5 L233.6 194.3 L234.8 193.2 L236 192 L237.3 190.9 L238.5 189.8 L239.8 188.6 L241 187.5 L242.3 186.3 L243.5 185.2 L244.8 184.1 L246.1 183 L247.3 181.9 L248.6 180.7 L249.9 179.6 L251.2 178.5 L252.5 177.4 L253.8 176.3 L255.1 175.2 L256.4 174.2 L257.7 173.1 L259 172 L260.3 170.9 L261.6 169.8 L262.9 168.7 L264.3 167.7 L265.6 166.6 L266.9 165.5 L268.2 164.5 L269.6 163.4 L270.9 162.4 L272.3 161.3 L273.6 160.3 L275 159.2 L276.3 158.2 L277.7 157.2 L279 156.1 L280.4 155.1 L281.7 154.1 L283.1 153.1 L284.4 152.1 L285.8 151.1 L287.2 150 L288.5 149 L289.9 148 L291.2 147 L292.6 146 L294 145 L295.3 144 L296.7 143 L298.1 142 L299.4 141.1 L300.8 140.1 L302.2 139.1 L303.6 138.1 L304.9 137.1 L306.3 136.1 L307.7 135.1 L309.1 134.1 L310.5 133.1 L311.9 132.1 L313.4 131.2 L314.8 130.2 L316.2 129.2 L317.7 128.2 L319.1 127.2 L320.6 126.2 L322 125.3 L323.5 124.3 L324.9 123.4 L326.5 122.4 L327.9 121.5 L329.4 120.5 L330.9 119.6 L332.4 118.6 L333.9 117.7 L335.4 116.8 L336.9 115.8 L338.4 114.9 L339.9 114 L341.4 113.1 L342.9 112.2 L344.5 111.3 L346 110.4 L347.5 109.6 L349 108.7 L350.6 107.8 L352.1 106.9 L353.6 106.1 L355.2 105.2 L356.7 104.3 L358.3 103.5 L359.8 102.6 L361.4 101.8 L362.9 100.9 L364.5 100.1 L366 99.2 L367.6 98.4 L369.1 97.6 L370.7 96.7 L372.3 95.9 L373.9 95.1 L375.4 94.2 L377 93.4 L378.6 92.6 L380.2 91.8 L381.8 91 L383.4 90.2 L385 89.4 L386.6 88.6 L388.2 87.8 L389.8 87 L391.4 86.2 L393 85.5 L394.7 84.7 L396.3 83.9 L397.9 83.1 L399.6 82.4 L401.2 81.6 L402.8 80.9 L404.5 80.1 L406.1 79.4 L407.8 78.7 L409.4 77.9 L411 77.2 L412.7 76.5 L414.3 75.8 L416 75.1 L417.6 74.4 L419.3 73.7 L420.9 73 L422.6 72.3 L424.2 71.6 L425.8 70.9 L427.5 70.2 L429.1 69.5 L430.7 68.8 L432.4 68.1 L434 67.5 L435.6 66.8 L437.3 66.1 L438.9 65.4 L440.6 64.8 L442.2 64.1 L443.9 63.4 L445.5 62.7 L447.2 62.1 L448.8 61.4 L450.5 60.7 L452.2 60 L453.8 59.4 L455.5 58.7 L457.2 58.1 L458.9 57.4 L460.6 56.8 L462.3 56.1 L464 55.5 L465.7 54.8 L467.4 54.2 L469.1 53.6 L470.8 52.9 L472.6 52.3 L474.3 51.7 L476 51.1 L477.7 50.5 L479.5 49.9 L481.2 49.3 L482.9 48.7 L484.7 48.1 L486.5 47.6 L488.2 47 L490 46.4 L491.7 45.9 L493.5 45.3 L495.2 44.8 L497 44.3 L498.8 43.7 L500.5 43.2 L502.3 42.7 L504.1 42.2 L505.8 41.7 L507.6 41.2 L509.3 40.7 L511.1 40.2 L512.9 39.7 L514.6 39.2 L516.4 38.7 L518.2 38.2 L519.9 37.7 L521.7 37.3 L523.5 36.8 L525.3 36.3 L527 35.9 L528.8 35.4 L530.6 34.9 L532.4 34.5 L534.2 34 L536 33.6 L537.8 33.1 L539.6 32.7 L541.4 32.2 L543.3 31.8 L545.1 31.4 L546.9 31 L548.7 30.5 L550.5 30.1 L552.4 29.7 L554.2 29.3 L556 28.9 L557.9 28.5 L559.7 28.1 L561.5 27.8 L563.4 27.4 L565.2 27 L567.1 26.6 L568.9 26.3 L570.8 25.9 L572.6 25.6 L574.5 25.2 L576.4 24.9 L578.2 24.6 L580.1 24.2 L582 23.9 L583.9 23.6 L585.8 23.3 L587.6 23 L589.5 22.7 L591.4 22.4 L593.3 22.2 L595.2 21.9 L597.1 21.7 L599 21.4 L600.9 21.2 L602.8 20.9 L604.7 20.7 L606.6 20.5 L608.5 20.3 L610.3 20.1 L612.2 19.9 L614.1 19.7 L616 19.5 L617.9 19.3 L619.8 19.2 L621.7 19 L623.5 18.8 L625.3 18.7 L627.3 18.5 L629.2 18.4 L630.9 18.2 L632.8 18.1 L634.7 17.9 L636.6 17.8 L638.4 17.7 L640.3 17.5 L642.1 17.4 L644 17.3 L645.8 17.1 L647.7 17 L649.6 16.9 L651.4 16.8 L653.3 16.7 L655.2 16.6 L657.1 16.5 L658.9 16.4 L660.8 16.3 L662.7 16.2 L664.6 16.1 L666.5 16 L668.4 16 L670.3 15.9 L672.1 15.8 L674 15.8 L675.9 15.7 L677.8 15.7 L679.7 15.6 L681.6 15.6 L683.4 15.6 L685.3 15.5 L687.2 15.5 L689.1 15.5 L690.9 15.5 L692.8 15.4 L694.6 15.4 L696.5 15.4 L698.4 15.4 L700.2 15.4 L702.1 15.4 L704 15.4 L705.7 15.4 L707.6 15.3 L709.5 15.3 L711.3 15.3 L713.1 15.3 L715.1 15.3 L717.1 15.3 L719 15.4 L721 15.4 L723 15.5 L725 15.6 L727 15.7 L729 15.8 L731 16 L733 16.2 L734.9 16.4 L736.9 16.6 L738.8 16.8 L740.8 17 L742.8 17.3 L744.8 17.5 L746.7 17.8 L748.8 18.1 L750.8 18.5 L752.7 18.8 L754.7 19.1 L756.9 19.6 L758.8 20 L760.7 20.4 L762.7 20.8 L764.8 21.3 L766.7 21.8 L768.6 22.3 L770.6 22.8 L772.6 23.4 L774.4 23.9 L776.3 24.5 L778.3 25.1 L780.1 25.7 L781.9 26.3 L783.7 26.9 L785.6 27.5 L787.4 28.1 L789.2 28.8 L790.9 29.4 L792.7 30.1 L794.5 30.7 L796.2 31.4 L797.9 32.1 L799.7 32.7 L801.4 33.4 L803.1 34.1 L804.8 34.8 L806.6 35.5 L808.3 36.2 L810 36.9 L811.7 37.6 L813.4 38.3 L815.1 39.1 L816.7 39.8 L818.4 40.5 L820.1 41.3 L821.8 42 L823.5 42.8 L825.1 43.5 L826.8 44.3 L828.4 45.1 L830.1 45.8 L831.8 46.6 L833.4 47.4 L835 48.2 L836.7 49 L838.3 49.8 L839.9 50.6 L841.5 51.4 L843.1 52.2 L844.8 53.1 L846.4 53.9 L848 54.7 L849.6 55.6 L851.1 56.4 L852.7 57.3 L854.3 58.1 L855.9 59 L857.5 59.9 L859 60.7 L860.6 61.6 L862.2 62.5 L863.7 63.4 L865.3 64.3 L866.8 65.2 L868.3 66.1 L869.9 67.1 L871.4 68 L872.9 68.9 L874.4 69.9 L875.9 70.8 L877.4 71.7 L878.9 72.7 L880.4 73.7 L881.9 74.6 L883.4 75.6 L884.8 76.6 L886.3 77.6 L887.8 78.6 L889.2 79.6 L890.6 80.6 L892.1 81.6 L893.5 82.6 L894.9 83.6 L896.3 84.7 L897.7 85.7 L899.1 86.7 L900.5 87.8 L901.9 88.8 L903.3 89.9 L904.6 90.9 L906 92 L907.3 93.1 L908.7 94.1 L910 95.2 L911.3 96.3 L912.7 97.4 L914 98.5 L915.3 99.5 L916.6 100.6 L917.9 101.8 L919.2 102.9 L920.5 104 L921.8 105.1 L923.1 106.2 L924.3 107.4 L925.6 108.5 L926.9 109.6 L928.1 110.8 L929.4 111.9 L930.6 113.1 L931.9 114.3 L933.1 115.5 L934.3 116.6 L935.5 117.8 L936.7 119 L937.9 120.2 L939.1 121.4 L940.2 122.6 L941.4 123.8 L942.6 125 L943.7 126.2 L944.9 127.5 L946 128.7 L947.1 129.9 L948.3 131.2 L949.4 132.4 L950.5 133.7 L951.6 134.9 L952.7 136.2 L953.8 137.5 L954.9 138.8 L956 140.1 L957 141.4 L958.1 142.8 L959.1 144.1 L960.2 145.4 L961.2 146.8 L962.2 148.2 L963.2 149.6 L964.2 150.9 L965.1 152.3 L966.1 153.7 L967 155.1 L967.9 156.5 L968.8 157.9 L969.7 159.3 L970.5 160.7 L971.4 162.1 L972.2 163.5 L973.1 164.9 L973.9 166.3 L974.7 167.7 L975.4 169.2 L976.2 170.6 L977 172 L977.7 173.4 L978.5 174.8 L979.2 176.2 L979.9 177.6 L980.7 179 L981.4 180.4 L982 181.8 L982.7 183.2 L983.4 184.7 L984.1 186 L984.8 187.4 L985.4 188.9 L986.1 190.3 L986.7 191.7 L987.3 193.1 L988 194.5 L988.6 195.9 L989.2 197.2 L989.8 198.6 L990.4 200 L991 201.4 L991.6 202.8 L992.2 204.2 L992.8 205.6 L993.4 206.9 L994 208.3 L994.5 209.7 L995.1 211 L995.7 212.4 L996.3 213.8 L996.9 215.3 L997.5 216.8 L998.1 218.4 L998.6 220 L999.1 221.6 L999.6 223.3 L1000 224.9 L1000.4 226.6 L1000.7 228.4 L1001 230.1 L1001.2 231.9 L1001.4 233.7 L1001.5 235.5 L1001.5 237.3 L1001.5 239.1 L1001.4 241 L1001.2 242.8 L1001 244.7 L1000.7 246.5 L1000.3 248.3 L999.9 250.1 L999.4 251.9 L998.8 253.7 L998.2 255.5 L997.5 257.3 L996.8 259 L996 260.7 L995.1 262.5 L994.2 264.2 L993.3 265.8 L992.2 267.5 L991.1 269.1 L990 270.7 L988.8 272.3 L987.5 273.9 L986.2 275.4 L984.8 276.9 L983.4 278.3 L981.9 279.8 L980.4 281.2 L978.8 282.5 L977.2 283.9 L975.6 285.2 L973.8 286.4 L972.1 287.6 L970.3 288.8 L968.4 289.9 L966.5 291 L964.6 292 L962.7 293 L960.7 294 L958.6 294.9 L956.6 295.7 L954.5 296.5 L952.4 297.3 L950.2 298 L948.1 298.6 L945.9 299.2 L943.7 299.8 L941.5 300.3 L939.3 300.7 L937.1 301.2 L934.8 301.5 L932.6 301.8 L930.4 302 L928.1 302.3 L925.9 302.4 L923.6 302.5 L921.4 302.6 L919.1 302.6 L916.9 302.5 L914.7 302.5 L912.5 302.3 L910.3 302.2 L908.1 302 L905.9 301.7 L903.8 301.4 L901.6 301.1 L899.5 300.7 L897.4 300.3 L895.3 299.9 L893.2 299.4 L891.1 298.9 L889.2 298.4 L887.1 297.8 L885.1 297.2 L883.1 296.6 L881.2 295.9 L879.3 295.2 L877.4 294.5 L875.5 293.7 L873.6 292.9 L871.8 292.1 L869.9 291.2 L868.2 290.4 L866.7 289.6 L865.3 288.9 L863.8 288.2 L862.4 287.6 L860.9 286.9 L859.4 286.2 L857.9 285.6 L856.4 285 L854.9 284.4 L853.3 283.7 L851.8 283.1 L850.3 282.6 L848.7 282 L847.2 281.4 L845.6 280.9 L844.1 280.3 L842.5 279.8 L840.9 279.3 L839.3 278.8 L837.8 278.3 L836.1 277.8 L834.6 277.4 L833 276.9 L831.4 276.5 L829.8 276.1 L828.2 275.7 L826.5 275.3 L824.9 274.9 L823.3 274.5 L821.7 274.2 L820 273.8 L818.3 273.5 L816.7 273.1 L815 272.8 L813.3 272.5 L811.6 272.2 L809.9 271.9 L808.2 271.6 L806.5 271.4 L804.8 271.1 L803 270.8 L801.3 270.5 L799.5 270.3 L797.6 270 L795.9 269.7 L794.1 269.5 L792.3 269.2 L790.5 268.9 L788.8 268.7 L787 268.4 L785.2 268.2 L783.4 267.9 L781.7 267.7 L779.9 267.4 L778.1 267.2 L776.4 267 L774.7 266.8 L772.9 266.5 L771.2 266.3 L769.4 266.1 L767.7 265.9 L765.9 265.7 L764.2 265.6 L762.5 265.4 L760.7 265.2 L759 265 L757.2 264.9 L755.5 264.8 L753.8 264.6 L752 264.5 L750.3 264.4 L748.5 264.3 L746.8 264.2 L745.1 264.1 L743.3 264 L741.6 263.9 L739.9 263.8 L738.2 263.8 L736.4 263.7 L734.7 263.7 L733 263.7 L731.2 263.7 L729.5 263.6 L727.8 263.7 L726.1 263.7 L724.3 263.7 L722.6 263.7 L720.8 263.7 L719.1 263.8 L717.3 263.8 L715.6 263.9 L713.8 264 L712.1 264.1 L710.3 264.1 L708.5 264.2 L706.8 264.3 L705 264.4 L703.2 264.5 L701.5 264.7 L699.7 264.8 L697.9 264.9 L696.2 265 L694.4 265.2 L692.6 265.3 L690.9 265.5 L689.1 265.6 L687.3 265.8 L685.6 265.9 L683.8 266.1 L682 266.3 L680.3 266.5 L678.5 266.7 L676.7 266.8 L675 267 L673.2 267.2 L671.5 267.4 L669.7 267.7 L668 267.9 L666.2 268.1 L664.5 268.3 L662.7 268.6 L661 268.8 L659.2 269.1 L657.5 269.3 L655.8 269.6 L654 269.8 L652.3 270.1 L650.7 270.4 L648.9 270.7 L647.2 271 L645.5 271.3 L643.8 271.6 L642.1 271.9 L640.4 272.2 L638.7 272.5 L637 272.9 L635.3 273.2 L633.6 273.6 L632 274 L630.3 274.3 L628.6 274.7 L626.9 275.1 L625.3 275.5 L623.6 275.9 L621.9 276.3 L620.3 276.7 L618.6 277.1 L616.9 277.6 L615.3 278 L613.7 278.4 L612 278.9 L610.4 279.4 L608.8 279.8 L607.2 280.3 L605.5 280.8 L603.9 281.3 L602.3 281.8 L600.6 282.3 L599 282.8 L597.4 283.4 L595.8 283.9 L594.2 284.5 L592.6 285 L590.9 285.6 L589.3 286.1 L587.7 286.7 L586.1 287.3 L584.4 287.9 L582.8 288.5 L581.3 289 L579.6 289.7 L578 290.3 L576.4 290.9 L574.8 291.5 L573.1 292.1 L571.5 292.7 L569.9 293.4 L568.3 294 L566.6 294.7 L565.1 295.3 L563.5 295.9 L561.9 296.6 L560.2 297.2 L558.6 297.9 L557.1 298.5 L555.4 299.2 L553.7 299.9 L552.2 300.5 L550.6 301.2 L548.9 301.9 L547.4 302.5 L545.8 303.2 L544.3 303.8 L542.7 304.5 L541.1 305.2 L539.6 305.9 L538.1 306.5 L536.6 307.2 L535.1 307.9 L533.6 308.6 L532.2 309.3 L530.6 310.1 L529.1 310.8 L527.6 311.6 L526.1 312.3 L524.6 313.1 L523.1 313.8 L521.6 314.6 L520.1 315.4 L518.6 316.2 L517.1 317 L515.6 317.8 L514.1 318.6 L512.7 319.3 L511.2 320.1 L509.8 320.9 L508.3 321.7 L506.8 322.5 L505.4 323.3 L504 324.2 L502.6 325 L501.2 325.8 L499.8 326.6 L498.3 327.5 L496.9 328.4 L495.6 329.2 L494.2 330.1 L492.8 330.9 L491.5 331.8 L490.2 332.6 L488.9 333.4 L487.6 334.3 L486.4 335.1 L485.2 336 L483.9 336.9 L482.7 337.8 L481.5 338.7 L480.3 339.6 L479.1 340.5 L478 341.4 L476.9 342.3 L475.7 343.3 L474.6 344.3 L473.5 345.2 L472.4 346.2 L471.3 347.2 L470.2 348.2 L469.1 349.2 L468.1 350.2 L467 351.3 L466 352.3 L464.9 353.3 L463.9 354.4 L462.9 355.5 L461.9 356.5 L461 357.6 L460 358.6 L459.1 359.7 L458.2 360.8 L457.2 361.9 L456.3 363 L455.4 364.1 L454.5 365.2 L453.7 366.4 L452.8 367.5 L451.9 368.7 L451 369.9 L450.1 371.1 L449.2 372.3 L448.2 373.7 L447.3 374.9 L446.4 376.2 L445.4 377.4 L444.5 378.7 L443.6 379.9 L442.7 381.1 L441.8 382.3 L440.9 383.6 L440 384.8 L439.1 386 L438.2 387.2 L437.4 388.5 L436.5 389.7 L435.6 390.9 L434.7 392.2 L433.9 393.4 L433 394.7 L432.1 396 L431.2 397.3 L430.4 398.5 L429.5 399.7 L428.6 401.1 L427.8 402.3 L426.9 403.6 L426 404.8 L425.2 406.1 L424.3 407.4 L423.5 408.6 L422.6 409.9 L421.8 411.1 L420.9 412.4 L420.1 413.6 L419.3 414.9 L418.5 416.2 L417.7 417.4 L416.9 418.7 L416.1 419.9 L415.3 421.2 L414.6 422.5 L413.8 423.7 L413.1 425 L412.3 426.2 L411.6 427.5 L410.8 428.8 L410.1 430 L409.4 431.3 L408.7 432.6 L408 433.9 L407.3 435.2 L406.6 436.5 L406 437.7 L405.3 439 L404.6 440.4 L404 441.7 L403.4 442.9 L402.7 444.3 L402.1 445.6 L401.5 446.9 L400.9 448.2 L400.3 449.6 L399.7 450.9 L399.1 452.2 L398.5 453.5 L397.9 454.9 L397.3 456.2 L396.8 457.5 L396.2 458.9 L395.7 460.2 L395.2 461.6 L394.6 462.9 L394.1 464.2 L393.6 465.6 L393.1 466.9 L392.6 468.3 L392.1 469.7 L391.6 471 L391.1 472.4 L390.6 473.8 L390.2 475.2 L389.7 476.6 L389.2 478 L388.7 479.3 L388.3 480.7 L387.8 482.1 L387.3 483.5 L386.9 484.9 L386.4 486.3 L386 487.7 L385.5 489.1 L385.1 490.5 L384.6 491.9 L384.2 493.3 L383.8 494.7 L383.3 496.1 L382.9 497.6 L382.4 498.9 L382 500.3 L381.6 501.7 L381.1 503.1 L380.7 504.5 L380.3 505.9 L379.9 507.3 L379.5 508.7 L379.1 510.1 L378.7 511.5 L378.4 512.8 L378 514.2 L377.6 515.6 L377.3 517 L376.9 518.4 L376.6 519.8 L376.2 521.2 L375.9 522.7 L375.5 524.1 L375.2 525.5 L374.8 526.9 L374.5 528.3 L374.2 529.7 L373.9 531.1 L373.5 532.5 L373.2 533.9 L372.9 535.4 L372.6 536.8 L372.3 538.1 L372.1 539.6 L371.8 541 L371.5 542.4 L371.3 543.7 L371 545.2 L370.7 546.6 L370.5 548 L370.3 549.4 L370.1 550.8 L369.8 552.2 L369.6 553.6 L369.4 555 L369.2 556.4 L369 557.8 L368.9 559.2 L368.7 560.6 L368.5 562 L368.4 563.4 L368.2 564.8 L368.1 566.2 L367.9 567.6 L367.8 569 L367.7 570.4 L367.6 571.9 L367.5 573.2 L367.5 574.5 L367.4 576 L367.3 577.4 L367.3 578.7 L367.3 580.1 L367.3 581.5 L367.2 583 L367.2 584.4 L367.2 585.8 L367.2 587.3 L367.2 588.8 L367.2 590.4 L367.2 591.9 L367.1 593.3 L367.1 595 L367 596.5 L367 598 L366.9 599.5 L366.8 601.1 L366.7 602.6 L366.6 604 L366.5 605.6 L366.4 607.1 L366.3 608.5 L366.2 610 L366.1 611.6 L365.9 613 L365.8 614.5 L365.7 616 L365.5 617.5 L365.4 619 L365.2 620.5 L365 622.3 L364.7 624.2 L364.4 626 L363.9 627.8 L363.4 629.6 L362.9 631.4 L362.3 633.1 L361.6 634.9 L360.8 636.6 L360 638.3 L359.2 640 L358.3 641.6 L357.3 643.2 L356.3 644.8 L355.2 646.4 L354.1 647.9 L353 649.4 L351.8 651 L350.5 652.4 L349.3 653.8 L347.9 655.2 L346.5 656.7 L345.2 658 L343.8 659.3 L342.2 660.6 L340.7 661.9 L339.1 663.1 L337.5 664.3 L335.8 665.5 L334.1 666.7 L332.4 667.8 L330.6 668.8 L328.8 669.9 L326.9 670.9 L325 671.9 L323.1 672.8 L321.1 673.7 L319.1 674.5 L317 675.3 L315 676.1 L312.9 676.8 L310.7 677.4 L308.6 678.1 L306.4 678.6 L304.2 679.1 L301.9 679.6 L299.7 680 L297.5 680.3 L295.2 680.6 L293 680.9 L290.7 681.1 L288.4 681.2 L286.2 681.3 L283.9 681.4 L281.7 681.4 L279.4 681.4 L277.2 681.3 L274.9 681.2 L272.7 681 L270.4 680.8 L268.2 680.5 L266 680.2 L263.7 679.8 L261.5 679.4 L259.3 678.9 L257.1 678.4Z" fill="none" stroke="#1c1c1c" stroke-width="1.5"/>
<path d="M265.5 654.7 L264.2 654.3 L262.8 653.9 L261.5 653.4 L260.3 653 L259 652.5 L257.7 652 L256.5 651.4 L255.4 650.9 L254.1 650.3 L253 649.6 L251.8 649 L250.7 648.3 L249.6 647.6 L248.5 646.8 L247.5 646.1 L246.4 645.3 L245.4 644.4 L244.4 643.6 L243.4 642.7 L242.5 641.8 L241.5 640.9 L240.6 640 L239.7 639 L238.9 638 L238.1 637.1 L237.3 636 L236.5 635 L235.8 634 L235.1 633 L234.3 631.9 L233.7 630.8 L233.1 629.8 L232.5 628.7 L231.9 627.5 L231.2 626.1 L230.6 624.8 L229.9 623.4 L229.2 622.1 L228.5 620.7 L227.9 619.4 L227.2 618 L226.5 616.7 L225.9 615.3 L225.2 614 L224.6 612.6 L223.9 611.3 L223.3 609.9 L222.7 608.6 L222 607.2 L221.4 605.9 L220.8 604.5 L220.1 603.1 L219.5 601.8 L218.9 600.4 L218.3 599.1 L217.6 597.7 L217 596.3 L216.4 595 L215.8 593.6 L215.2 592.2 L214.6 590.9 L214 589.5 L213.4 588.1 L212.8 586.8 L212.2 585.4 L211.6 584 L211 582.6 L210.4 581.3 L209.8 579.9 L209.1 578.5 L208.5 577.1 L207.9 575.7 L207.3 574.3 L206.7 572.9 L206.1 571.6 L205.5 570.2 L204.9 568.8 L204.3 567.4 L203.7 566.1 L203.1 564.7 L202.6 563.4 L202 562 L201.4 560.7 L200.9 559.3 L200.3 558 L199.8 556.6 L199.2 555.3 L198.7 554 L198.2 552.6 L197.7 551.3 L197.2 549.9 L196.7 548.6 L196.2 547.2 L195.7 545.8 L195.3 544.5 L194.8 543.1 L194.3 541.7 L193.9 540.3 L193.4 539 L193 537.6 L192.5 536.2 L192.1 534.8 L191.7 533.4 L191.2 532 L190.8 530.6 L190.4 529.2 L190 527.8 L189.5 526.4 L189.1 525 L188.7 523.6 L188.3 522.2 L187.9 520.8 L187.5 519.4 L187.1 518 L186.7 516.6 L186.3 515.2 L185.9 513.7 L185.4 512.3 L185 510.9 L184.6 509.5 L184.2 508 L183.8 506.6 L183.4 505.2 L183 503.8 L182.6 502.3 L182.2 500.9 L181.9 499.5 L181.5 498.1 L181.1 496.7 L180.7 495.3 L180.3 493.9 L180 492.5 L179.6 491.1 L179.2 489.7 L178.9 488.2 L178.5 486.8 L178.2 485.4 L177.9 484 L177.5 482.6 L177.2 481.2 L176.9 479.8 L176.6 478.4 L176.3 477 L176 475.6 L175.7 474.2 L175.4 472.8 L175.1 471.4 L174.9 470 L174.6 468.6 L174.4 467.2 L174.1 465.8 L173.9 464.4 L173.6 462.9 L173.4 461.6 L173.2 460.1 L173 458.7 L172.8 457.3 L172.6 455.8 L172.4 454.4 L172.2 453 L172 451.5 L171.8 450.1 L171.6 448.6 L171.4 447.2 L171.2 445.8 L171 444.3 L170.8 442.9 L170.7 441.5 L170.5 440 L170.3 438.6 L170.2 437.2 L170 435.8 L169.9 434.4 L169.7 432.9 L169.6 431.6 L169.5 430.2 L169.4 428.8 L169.3 427.3 L169.2 426 L169.1 424.6 L169 423.1 L168.9 421.7 L168.9 420.2 L168.8 418.7 L168.7 417.3 L168.6 415.7 L168.5 414.2 L168.4 412.8 L168.3 411.3 L168.3 409.8 L168.2 408.4 L168.1 406.9 L168 405.5 L167.9 404 L167.8 402.6 L167.7 401.1 L167.6 399.7 L167.5 398.2 L167.5 396.8 L167.4 395.4 L167.3 393.9 L167.3 392.5 L167.2 391 L167.1 389.6 L167.1 388.1 L167 386.7 L167 385.3 L166.9 383.8 L166.9 382.3 L166.8 380.9 L166.8 379.5 L166.7 378 L166.7 376.5 L166.7 375.1 L166.6 373.7 L166.6 372.2 L166.5 370.8 L166.5 369.3 L166.5 367.9 L166.5 366.4 L166.4 365 L166.4 363.5 L166.4 362.1 L166.4 360.6 L166.4 359.2 L166.4 357.7 L166.4 356.3 L166.4 354.9 L166.4 353.4 L166.4 351.9 L166.4 350.5 L166.4 349 L166.4 347.6 L166.4 346.1 L166.4 344.6 L166.4 343.2 L166.4 341.7 L166.4 340.2 L166.4 338.8 L166.4 337.4 L166.4 335.9 L166.5 334.5 L166.5 333.3 L166.6 332 L166.6 330.7 L166.7 329.4 L166.9 328.1 L167 326.9 L167.2 325.6 L167.4 324.4 L167.7 323.1 L167.9 321.9 L168.2 320.7 L168.6 319.5 L168.9 318.3 L169.3 317.1 L169.7 315.9 L170.2 314.7 L170.6 313.5 L171.1 312.4 L171.6 311.2 L172.2 310.1 L172.7 309 L173.4 307.9 L174 306.8 L174.7 305.7 L175.4 304.6 L176.1 303.5 L176.9 302.4 L177.6 301.4 L178.5 300.3 L179.3 299.2 L180.2 298.1 L181.2 297 L182.2 295.8 L183.2 294.5 L184.2 293.3 L185.2 292.1 L186.2 290.9 L187.2 289.7 L188.2 288.5 L189.2 287.3 L190.2 286.1 L191.3 284.9 L192.3 283.6 L193.3 282.4 L194.3 281.2 L195.3 280 L196.3 278.8 L197.3 277.6 L198.4 276.3 L199.4 275.1 L200.4 273.9 L201.4 272.7 L202.4 271.4 L203.5 270.2 L204.5 269 L205.5 267.8 L206.5 266.5 L207.5 265.3 L208.5 264.1 L209.6 262.8 L210.6 261.6 L211.6 260.4 L212.6 259.1 L213.6 257.9 L214.7 256.7 L215.7 255.4 L216.7 254.2 L217.7 253 L218.7 251.7 L219.7 250.5 L220.7 249.3 L221.8 248 L222.8 246.8 L223.8 245.6 L224.8 244.4 L225.8 243.2 L226.8 242 L227.8 240.8 L228.8 239.7 L229.8 238.5 L230.9 237.3 L231.9 236.1 L232.9 235 L233.9 233.8 L235 232.7 L236 231.5 L237.1 230.4 L238.2 229.2 L239.2 228.1 L240.3 227 L241.4 225.8 L242.5 224.7 L243.6 223.6 L244.7 222.4 L245.8 221.3 L246.9 220.2 L248 219.1 L249.1 218 L250.3 216.8 L251.4 215.7 L252.5 214.6 L253.7 213.5 L254.8 212.4 L256 211.3 L257.1 210.2 L258.3 209.1 L259.5 208.1 L260.6 207 L261.8 205.9 L263 204.8 L264.2 203.7 L265.4 202.7 L266.6 201.6 L267.8 200.5 L269 199.5 L270.2 198.4 L271.4 197.4 L272.6 196.3 L273.8 195.3 L275.1 194.2 L276.3 193.2 L277.5 192.1 L278.8 191.1 L280 190.1 L281.2 189 L282.5 188 L283.8 187 L285 186 L286.3 184.9 L287.5 183.9 L288.8 182.9 L290.1 181.9 L291.3 180.9 L292.6 179.9 L293.9 178.9 L295.2 177.9 L296.5 176.9 L297.8 175.9 L299 174.9 L300.3 173.9 L301.7 172.9 L303 172 L304.3 171 L305.6 170 L306.9 169 L308.2 168 L309.5 167.1 L310.9 166.1 L312.2 165.1 L313.5 164.1 L314.9 163.2 L316.2 162.2 L317.6 161.2 L318.9 160.2 L320.2 159.3 L321.6 158.3 L322.9 157.3 L324.3 156.4 L325.6 155.4 L327 154.4 L328.3 153.5 L329.6 152.5 L331 151.6 L332.3 150.6 L333.7 149.7 L335 148.8 L336.4 147.8 L337.7 146.9 L339.1 146 L340.4 145.1 L341.8 144.2 L343.2 143.3 L344.5 142.4 L345.9 141.5 L347.3 140.6 L348.7 139.7 L350 138.9 L351.4 138 L352.8 137.1 L354.3 136.2 L355.6 135.4 L357.1 134.5 L358.5 133.7 L359.9 132.8 L361.3 132 L362.8 131.1 L364.3 130.3 L365.7 129.4 L367.1 128.6 L368.6 127.8 L370.1 126.9 L371.5 126.1 L373 125.3 L374.5 124.5 L375.9 123.6 L377.4 122.8 L378.9 122 L380.4 121.2 L381.9 120.4 L383.3 119.6 L384.8 118.8 L386.3 118 L387.8 117.2 L389.3 116.4 L390.8 115.6 L392.3 114.8 L393.8 114.1 L395.3 113.3 L396.8 112.5 L398.3 111.7 L399.9 111 L401.4 110.2 L402.9 109.5 L404.4 108.7 L405.9 108 L407.4 107.2 L409 106.5 L410.5 105.8 L412 105.1 L413.6 104.3 L415.1 103.6 L416.6 102.9 L418.2 102.2 L419.7 101.5 L421.3 100.8 L422.8 100.1 L424.4 99.4 L426 98.7 L427.5 98.1 L429.1 97.4 L430.7 96.7 L432.3 96 L433.9 95.3 L435.4 94.7 L437 94 L438.7 93.3 L440.3 92.6 L441.8 92 L443.5 91.3 L445.1 90.6 L446.7 89.9 L448.3 89.3 L450 88.6 L451.5 87.9 L453.1 87.3 L454.7 86.6 L456.4 85.9 L458 85.3 L459.5 84.6 L461.2 84 L462.8 83.3 L464.4 82.7 L466 82 L467.6 81.4 L469.2 80.8 L470.8 80.2 L472.4 79.5 L474 78.9 L475.6 78.3 L477.2 77.7 L478.8 77.1 L480.4 76.5 L482 75.9 L483.6 75.3 L485.2 74.8 L486.8 74.2 L488.5 73.6 L490.1 73.1 L491.7 72.5 L493.3 71.9 L494.9 71.4 L496.5 70.9 L498.2 70.3 L499.8 69.8 L501.4 69.3 L503 68.8 L504.7 68.3 L506.4 67.7 L508 67.2 L509.6 66.8 L511.3 66.2 L513 65.8 L514.6 65.3 L516.3 64.8 L518 64.3 L519.7 63.8 L521.3 63.4 L523.1 62.9 L524.8 62.4 L526.4 62 L528.1 61.5 L529.9 61 L531.6 60.6 L533.3 60.1 L535 59.7 L536.7 59.2 L538.4 58.8 L540.1 58.3 L541.8 57.9 L543.5 57.5 L545.2 57 L546.9 56.6 L548.7 56.2 L550.4 55.8 L552.1 55.4 L553.8 55 L555.5 54.6 L557.2 54.2 L558.9 53.8 L560.7 53.4 L562.4 53 L564.1 52.6 L565.8 52.3 L567.6 51.9 L569.3 51.5 L571 51.2 L572.8 50.8 L574.5 50.5 L576.2 50.2 L577.9 49.8 L579.7 49.5 L581.4 49.2 L583.1 48.9 L584.9 48.6 L586.6 48.3 L588.3 48 L590 47.7 L591.8 47.4 L593.5 47.1 L595.2 46.9 L597 46.6 L598.7 46.4 L600.5 46.1 L602.2 45.9 L603.9 45.7 L605.7 45.5 L607.4 45.2 L609.2 45 L610.9 44.8 L612.7 44.6 L614.4 44.4 L616.2 44.3 L617.9 44.1 L619.7 43.9 L621.5 43.7 L623.3 43.6 L625 43.4 L626.8 43.3 L628.6 43.1 L630.4 43 L632.2 42.8 L634 42.7 L635.8 42.5 L637.6 42.4 L639.4 42.3 L641.2 42.1 L643 42 L644.8 41.9 L646.6 41.8 L648.4 41.7 L650.2 41.5 L651.9 41.4 L653.8 41.3 L655.5 41.2 L657.3 41.1 L659.1 41 L660.9 40.9 L662.7 40.8 L664.5 40.8 L666.3 40.7 L668 40.6 L669.8 40.5 L671.6 40.5 L673.4 40.4 L675.2 40.4 L677 40.3 L678.8 40.3 L680.5 40.2 L682.3 40.2 L684.1 40.2 L685.9 40.1 L687.7 40.1 L689.5 40.1 L691.3 40 L693.2 40 L695 40 L696.8 40 L698.6 40 L700.5 40 L702.3 40 L704.1 39.9 L706 39.9 L707.8 39.9 L709.6 39.9 L711.4 39.9 L713.3 39.9 L714.9 39.9 L716.5 39.9 L718.1 39.9 L719.8 40 L721.3 40 L722.9 40.1 L724.5 40.2 L726.1 40.3 L727.7 40.4 L729.3 40.6 L731 40.8 L732.7 40.9 L734.5 41.1 L736.2 41.3 L737.8 41.5 L739.5 41.8 L741.2 42 L742.8 42.2 L744.4 42.5 L746.1 42.8 L747.8 43.1 L749.2 43.4 L750.9 43.7 L752.6 44.1 L754.2 44.4 L755.7 44.8 L757.3 45.2 L759 45.6 L760.5 46 L762 46.5 L763.7 47 L765.3 47.4 L766.8 47.9 L768.4 48.4 L770 49 L771.6 49.5 L773.2 50 L774.8 50.6 L776.4 51.2 L778 51.8 L779.6 52.3 L781.2 52.9 L782.8 53.6 L784.5 54.2 L786 54.8 L787.6 55.4 L789.2 56.1 L790.9 56.7 L792.4 57.4 L794 58 L795.6 58.7 L797.2 59.3 L798.8 60 L800.3 60.7 L801.9 61.4 L803.5 62 L805 62.7 L806.6 63.4 L808.2 64.1 L809.7 64.8 L811.2 65.5 L812.8 66.3 L814.3 67 L815.9 67.7 L817.4 68.4 L818.9 69.2 L820.4 69.9 L821.9 70.7 L823.5 71.4 L825 72.2 L826.5 73 L828 73.7 L829.5 74.5 L831 75.3 L832.4 76 L833.9 76.8 L835.4 77.6 L836.8 78.4 L838.3 79.2 L839.8 80 L841.2 80.8 L842.6 81.6 L844.1 82.5 L845.5 83.3 L846.9 84.1 L848.4 85 L849.8 85.8 L851.2 86.6 L852.6 87.5 L854 88.3 L855.3 89.2 L856.7 90.1 L858.1 90.9 L859.5 91.8 L860.8 92.7 L862.2 93.6 L863.5 94.5 L864.9 95.4 L866.2 96.3 L867.5 97.2 L868.9 98.1 L870.2 99 L871.5 99.9 L872.8 100.9 L874.1 101.8 L875.4 102.8 L876.7 103.7 L878 104.7 L879.2 105.6 L880.5 106.6 L881.8 107.6 L883 108.5 L884.3 109.5 L885.5 110.5 L886.8 111.5 L888 112.5 L889.3 113.5 L890.5 114.5 L891.7 115.5 L892.9 116.5 L894.1 117.5 L895.3 118.5 L896.5 119.6 L897.7 120.6 L898.9 121.6 L900.1 122.7 L901.3 123.7 L902.4 124.7 L903.6 125.8 L904.7 126.8 L905.9 127.9 L907 129 L908.1 130 L909.2 131.1 L910.3 132.2 L911.4 133.2 L912.5 134.3 L913.6 135.4 L914.7 136.5 L915.8 137.6 L916.8 138.7 L917.9 139.9 L919 141 L920 142.1 L921.1 143.2 L922.1 144.4 L923.2 145.5 L924.2 146.6 L925.2 147.8 L926.2 148.9 L927.2 150.1 L928.1 151.2 L929.1 152.4 L930.1 153.5 L931 154.7 L931.9 155.8 L932.8 157 L933.7 158.2 L934.6 159.3 L935.5 160.5 L936.3 161.7 L937.2 162.9 L938 164.1 L938.8 165.3 L939.6 166.5 L940.4 167.7 L941.2 169 L942 170.2 L942.7 171.4 L943.5 172.7 L944.2 173.9 L945 175.2 L945.7 176.5 L946.4 177.8 L947.2 179.1 L947.9 180.3 L948.6 181.6 L949.3 182.9 L949.9 184.2 L950.6 185.6 L951.3 186.9 L952 188.2 L952.6 189.5 L953.3 190.8 L953.9 192.1 L954.5 193.4 L955.2 194.7 L955.8 196.1 L956.4 197.4 L957 198.7 L957.6 200 L958.3 201.4 L958.8 202.7 L959.4 204 L960 205.4 L960.6 206.7 L961.2 208 L961.8 209.4 L962.4 210.8 L962.9 212.1 L963.5 213.4 L964.1 214.8 L964.7 216.2 L965.3 217.5 L965.8 218.9 L966.4 220.3 L967 221.6 L967.5 222.8 L967.9 223.9 L968.3 225 L968.7 226.1 L969 227.3 L969.4 228.4 L969.6 229.5 L969.9 230.6 L970.1 231.7 L970.3 232.8 L970.4 234 L970.5 235.1 L970.6 236.2 L970.6 237.3 L970.6 238.5 L970.5 239.6 L970.4 240.7 L970.3 241.8 L970.1 243 L969.9 244.1 L969.6 245.2 L969.3 246.4 L968.9 247.5 L968.5 248.6 L968.1 249.7 L967.6 250.9 L967.1 252 L966.6 253 L966 254.1 L965.4 255.2 L964.7 256.2 L964.1 257.3 L963.3 258.3 L962.5 259.3 L961.8 260.2 L961 261.2 L960.1 262.2 L959.2 263.1 L958.3 263.9 L957.3 264.8 L956.4 265.7 L955.4 266.5 L954.3 267.3 L953.3 268 L952.2 268.8 L951.1 269.5 L949.9 270.2 L948.8 270.8 L947.6 271.5 L946.4 272.1 L945.2 272.7 L944 273.2 L942.7 273.8 L941.4 274.3 L940.2 274.7 L938.8 275.1 L937.5 275.5 L936.2 275.9 L934.9 276.2 L933.5 276.6 L932.1 276.8 L930.7 277.1 L929.3 277.3 L927.9 277.5 L926.5 277.7 L925.1 277.8 L923.6 277.9 L922.2 277.9 L920.8 278 L919.3 278 L917.9 278 L916.4 277.9 L915 277.8 L913.6 277.7 L912.1 277.6 L910.7 277.4 L909.2 277.2 L907.8 277 L906.4 276.8 L904.9 276.5 L903.5 276.2 L902.1 275.9 L900.7 275.5 L899.3 275.1 L897.9 274.8 L896.5 274.3 L895.1 273.9 L893.7 273.4 L892.4 272.9 L891.1 272.4 L889.8 271.9 L888.4 271.3 L887.2 270.8 L885.9 270.2 L884.6 269.5 L882.9 268.7 L881.2 267.9 L879.5 267 L877.7 266.2 L876 265.4 L874.2 264.7 L872.4 263.9 L870.7 263.2 L868.9 262.4 L867.1 261.7 L865.3 261 L863.5 260.3 L861.7 259.7 L859.9 259 L858 258.3 L856.2 257.7 L854.4 257.1 L852.5 256.5 L850.6 255.9 L848.8 255.3 L846.9 254.8 L845 254.2 L843.1 253.7 L841.2 253.2 L839.3 252.7 L837.4 252.2 L835.5 251.7 L833.6 251.3 L831.6 250.8 L829.7 250.4 L827.8 250 L825.9 249.6 L824 249.2 L822.1 248.9 L820.2 248.5 L818.3 248.2 L816.4 247.9 L814.5 247.6 L812.6 247.2 L810.7 247 L808.9 246.7 L807 246.4 L805.2 246.1 L803.5 245.8 L801.6 245.6 L799.7 245.3 L797.9 245 L796.2 244.8 L794.3 244.5 L792.4 244.2 L790.7 244 L788.8 243.7 L786.9 243.4 L785.1 243.2 L783.3 243 L781.4 242.7 L779.5 242.5 L777.6 242.2 L775.7 242 L773.8 241.8 L772 241.6 L770.1 241.4 L768.2 241.2 L766.3 241 L764.4 240.8 L762.4 240.6 L760.5 240.4 L758.6 240.3 L756.7 240.1 L754.8 240 L752.9 239.9 L750.9 239.7 L749 239.6 L747.1 239.5 L745.1 239.4 L743.2 239.3 L741.2 239.3 L739.3 239.2 L737.4 239.2 L735.4 239.1 L733.5 239.1 L731.5 239.1 L729.6 239.1 L727.6 239.1 L725.7 239.1 L723.8 239.1 L721.8 239.1 L719.9 239.2 L718 239.2 L716.1 239.3 L714.1 239.3 L712.2 239.4 L710.3 239.5 L708.4 239.6 L706.5 239.7 L704.6 239.8 L702.7 239.9 L700.8 240 L698.9 240.2 L697 240.3 L695.1 240.4 L693.2 240.6 L691.3 240.7 L689.4 240.9 L687.6 241 L685.7 241.2 L683.8 241.3 L681.9 241.5 L680 241.7 L678.1 241.9 L676.3 242.1 L674.4 242.3 L672.5 242.5 L670.6 242.7 L668.7 242.9 L666.9 243.1 L665 243.4 L663.1 243.6 L661.2 243.8 L659.4 244.1 L657.5 244.3 L655.6 244.6 L653.8 244.9 L651.8 245.1 L650 245.4 L648.1 245.7 L646.2 246 L644.3 246.3 L642.5 246.6 L640.6 246.9 L638.7 247.3 L636.8 247.6 L635 248 L633.1 248.3 L631.2 248.7 L629.4 249.1 L627.5 249.5 L625.7 249.8 L623.8 250.2 L622 250.7 L620.1 251.1 L618.3 251.5 L616.4 251.9 L614.6 252.4 L612.8 252.8 L610.9 253.3 L609.1 253.7 L607.2 254.2 L605.4 254.7 L603.5 255.2 L601.7 255.7 L599.9 256.2 L598.1 256.8 L596.3 257.3 L594.5 257.8 L592.7 258.4 L590.9 258.9 L589.1 259.5 L587.3 260.1 L585.6 260.7 L583.8 261.2 L582.1 261.8 L580.3 262.4 L578.6 263 L576.8 263.6 L575.1 264.3 L573.3 264.9 L571.6 265.5 L569.9 266.1 L568.2 266.8 L566.5 267.4 L564.8 268 L563.1 268.7 L561.3 269.4 L559.7 270 L558 270.6 L556.3 271.3 L554.6 272 L553 272.6 L551.3 273.3 L549.5 274 L547.9 274.6 L546.3 275.3 L544.6 276 L542.9 276.7 L541.3 277.3 L539.6 278 L537.9 278.7 L536.2 279.4 L534.6 280.1 L532.9 280.8 L531.2 281.5 L529.5 282.2 L527.9 282.9 L526.2 283.7 L524.5 284.4 L522.8 285.2 L521.1 286 L519.4 286.7 L517.8 287.5 L516.1 288.3 L514.4 289.1 L512.8 289.9 L511.2 290.7 L509.6 291.6 L508 292.4 L506.4 293.2 L504.8 294 L503.2 294.8 L501.6 295.6 L500 296.5 L498.5 297.3 L496.9 298.2 L495.3 299 L493.7 299.9 L492.1 300.7 L490.6 301.6 L489 302.5 L487.4 303.4 L485.9 304.3 L484.3 305.1 L482.8 306.1 L481.2 307 L479.7 307.9 L478.2 308.8 L476.7 309.7 L475.2 310.7 L473.7 311.6 L472.1 312.6 L470.6 313.6 L469.1 314.6 L467.6 315.6 L466 316.6 L464.5 317.7 L463.1 318.7 L461.7 319.8 L460.2 320.9 L458.7 322 L457.4 323.1 L456 324.2 L454.6 325.3 L453.2 326.5 L451.9 327.6 L450.6 328.7 L449.2 329.9 L448 331.1 L446.7 332.2 L445.4 333.4 L444.2 334.6 L443 335.8 L441.7 337 L440.5 338.3 L439.3 339.5 L438.2 340.7 L437 342 L435.9 343.2 L434.7 344.5 L433.6 345.7 L432.5 347 L431.4 348.3 L430.4 349.6 L429.3 350.9 L428.3 352.2 L427.3 353.5 L426.3 354.8 L425.3 356.1 L424.4 357.4 L423.5 358.7 L422.5 359.9 L421.6 361.1 L420.7 362.4 L419.8 363.6 L418.8 364.9 L417.9 366.1 L417 367.4 L416 368.7 L415.1 370 L414.1 371.2 L413.2 372.5 L412.3 373.8 L411.4 375.1 L410.4 376.4 L409.5 377.7 L408.6 379 L407.7 380.3 L406.8 381.6 L405.9 382.9 L405.1 384.1 L404.2 385.4 L403.3 386.7 L402.4 388 L401.5 389.2 L400.6 390.5 L399.7 391.8 L398.9 393.1 L398 394.4 L397.1 395.7 L396.2 397 L395.3 398.3 L394.5 399.6 L393.6 401 L392.7 402.3 L391.8 403.6 L391 405 L390.1 406.3 L389.3 407.7 L388.4 409 L387.6 410.4 L386.8 411.7 L385.9 413.1 L385.1 414.5 L384.3 415.8 L383.5 417.2 L382.7 418.6 L381.9 420 L381.1 421.4 L380.3 422.8 L379.6 424.2 L378.8 425.6 L378.1 427 L377.4 428.4 L376.6 429.9 L375.9 431.2 L375.2 432.7 L374.5 434.1 L373.8 435.5 L373.2 436.9 L372.5 438.4 L371.8 439.8 L371.2 441.2 L370.5 442.6 L369.9 444.1 L369.3 445.5 L368.7 446.9 L368 448.4 L367.4 449.8 L366.8 451.3 L366.3 452.7 L365.7 454.2 L365.1 455.6 L364.5 457.1 L364 458.5 L363.4 460 L362.9 461.5 L362.4 462.9 L361.9 464.3 L361.4 465.8 L360.9 467.2 L360.4 468.7 L359.9 470.1 L359.4 471.5 L358.9 473 L358.4 474.4 L357.9 475.8 L357.5 477.3 L357 478.7 L356.5 480.2 L356.1 481.6 L355.6 483 L355.1 484.5 L354.7 485.9 L354.2 487.3 L353.8 488.8 L353.3 490.2 L352.9 491.6 L352.4 493.1 L352 494.5 L351.5 496 L351.1 497.4 L350.7 498.9 L350.2 500.3 L349.8 501.8 L349.4 503.3 L349 504.7 L348.6 506.2 L348.1 507.7 L347.8 509.2 L347.4 510.6 L347 512.1 L346.6 513.6 L346.2 515 L345.9 516.5 L345.5 518 L345.2 519.4 L344.8 520.9 L344.5 522.4 L344.1 523.8 L343.8 525.3 L343.4 526.8 L343.1 528.3 L342.8 529.7 L342.5 531.2 L342.2 532.7 L341.8 534.2 L341.5 535.7 L341.2 537.2 L341 538.7 L340.7 540.2 L340.4 541.7 L340.1 543.2 L339.9 544.7 L339.6 546.2 L339.4 547.7 L339.2 549.2 L338.9 550.7 L338.7 552.2 L338.5 553.7 L338.3 555.2 L338.1 556.8 L337.9 558.3 L337.7 559.8 L337.6 561.3 L337.4 562.9 L337.3 564.4 L337.1 565.9 L337 567.5 L336.9 569 L336.8 570.4 L336.7 572 L336.6 573.6 L336.5 575.1 L336.4 576.6 L336.4 578.3 L336.4 579.8 L336.3 581.3 L336.3 582.8 L336.3 584.3 L336.3 585.8 L336.3 587.3 L336.3 588.7 L336.3 590 L336.3 591.5 L336.2 593 L336.2 594.2 L336.1 595.6 L336.1 597.1 L336 598.5 L335.9 599.8 L335.8 601.3 L335.7 602.8 L335.7 604.2 L335.6 605.6 L335.4 607.1 L335.3 608.5 L335.2 609.9 L335.1 611.3 L335 612.8 L334.8 614.2 L334.7 615.6 L334.6 617.1 L334.4 618.5 L334.3 619.6 L334.1 620.7 L333.9 621.8 L333.6 622.9 L333.4 624 L333 625.1 L332.6 626.1 L332.2 627.2 L331.7 628.3 L331.2 629.3 L330.7 630.4 L330.1 631.4 L329.5 632.5 L328.9 633.5 L328.2 634.5 L327.5 635.5 L326.7 636.5 L326 637.4 L325.1 638.4 L324.3 639.4 L323.4 640.3 L322.6 641.1 L321.6 642.1 L320.6 643 L319.7 643.8 L318.7 644.6 L317.6 645.4 L316.6 646.2 L315.6 646.9 L314.5 647.7 L313.3 648.4 L312.2 649.1 L311.1 649.7 L309.9 650.4 L308.7 651 L307.5 651.5 L306.3 652.1 L305.1 652.6 L303.8 653.1 L302.5 653.6 L301.3 654 L300 654.4 L298.6 654.8 L297.3 655.1 L296 655.4 L294.6 655.7 L293.3 655.9 L291.9 656.2 L290.5 656.3 L289.1 656.5 L287.7 656.6 L286.3 656.7 L284.9 656.8 L283.4 656.8 L281.9 656.8 L280.5 656.8 L279 656.7 L277.6 656.7 L276.1 656.5 L274.7 656.4 L273.3 656.2 L271.9 656 L270.5 655.8 L269.1 655.5 L267.7 655.2 L266.4 654.9Z" fill="none" stroke="#1c1c1c" stroke-width="1.5"/>
<path d="M280.6 690.0 v-10 M280.6 6.0 v10 M434.2 690.0 v-10 M434.2 6.0 v10 M587.8 690.0 v-10 M587.8 6.0 v10 M741.4 690.0 v-10 M741.4 6.0 v10 M895 690.0 v-10 M895 6.0 v10 M127.0 567.8 h10 M1019.0 567.8 h-10 M127.0 445.6 h10 M1019.0 445.6 h-10 M127.0 323.4 h10 M1019.0 323.4 h-10 M127.0 201.2 h10 M1019.0 201.2 h-10 M127.0 79 h10 M1019.0 79 h-10" stroke="#3c3c3c" stroke-width="1.6" fill="none"/>
<rect x="127.0" y="6.0" width="892.0" height="684.0" fill="none" stroke="#3c3c3c" stroke-width="1.6"/>
<text class="t" x="127" y="742" font-size="39" text-anchor="middle">0</text>
<text class="t" x="280.6" y="742" font-size="39" text-anchor="middle">0.1</text>
<text class="t" x="434.2" y="742" font-size="39" text-anchor="middle">0.2</text>
<text class="t" x="587.8" y="742" font-size="39" text-anchor="middle">0.3</text>
<text class="t" x="741.4" y="742" font-size="39" text-anchor="middle">0.4</text>
<text class="t" x="895" y="742" font-size="39" text-anchor="middle">0.5</text>
<text class="t" x="113.6" y="705.7" font-size="39" text-anchor="end">0</text>
<text class="t" x="113.6" y="583.5" font-size="39" text-anchor="end">0.1</text>
<text class="t" x="113.6" y="461.3" font-size="39" text-anchor="end">0.2</text>
<text class="t" x="113.6" y="339.1" font-size="39" text-anchor="end">0.3</text>
<text class="t" x="113.6" y="216.9" font-size="39" text-anchor="end">0.4</text>
<text class="t" x="113.6" y="94.7" font-size="39" text-anchor="end">0.5</text>
<text class="s" x="360.4" y="787.5" font-size="42" letter-spacing="1.278">Horizontal</text>
<text class="s" x="567.35" y="787.5" font-size="42" letter-spacing="1.129">position</text>
<text class="s" transform="translate(729.92 790.75) scale(0.543 1.24)" font-size="42">[</text>
<text class="s" transform="translate(739.64 787.5) scale(1.016 1)" font-size="42">m</text>
<text class="s" transform="translate(774.92 790.75) scale(0.521 1.24)" font-size="42">]</text>
<g transform="translate(37.8 0) rotate(-90)">
<text class="s" x="-536.15" y="0" font-size="42" letter-spacing="1.443">Vertical</text>
<text class="s" x="-379.65" y="0" font-size="42" letter-spacing="1.129">position</text>
<text class="s" transform="translate(-215.68 3.22) scale(0.543 1.212)" font-size="42">[</text>
<text class="s" transform="translate(-205.96 0) scale(1.016 1)" font-size="42">m</text>
<text class="s" transform="translate(-170.68 3.22) scale(0.521 1.212)" font-size="42">]</text>
</g>
<defs><linearGradient id="inf" x1="0" x2="1" y1="0" y2="0"><stop offset="0" stop-color="#000004"/><stop offset="0.038" stop-color="#040314"/><stop offset="0.077" stop-color="#0e092b"/><stop offset="0.115" stop-color="#1c0c43"/><stop offset="0.154" stop-color="#2d0b59"/><stop offset="0.192" stop-color="#3e0966"/><stop offset="0.231" stop-color="#4f0d6c"/><stop offset="0.269" stop-color="#5d126e"/><stop offset="0.308" stop-color="#6d186e"/><stop offset="0.346" stop-color="#7d1e6d"/><stop offset="0.385" stop-color="#8d2369"/><stop offset="0.423" stop-color="#9d2964"/><stop offset="0.462" stop-color="#ad305d"/><stop offset="0.5" stop-color="#bc3754"/><stop offset="0.538" stop-color="#c83f4b"/><stop offset="0.577" stop-color="#d54a41"/><stop offset="0.615" stop-color="#e15635"/><stop offset="0.654" stop-color="#eb6429"/><stop offset="0.692" stop-color="#f2741c"/><stop offset="0.731" stop-color="#f8850f"/><stop offset="0.769" stop-color="#fb9606"/><stop offset="0.808" stop-color="#fca80d"/><stop offset="0.846" stop-color="#fbbc21"/><stop offset="0.885" stop-color="#f8cf3a"/><stop offset="0.923" stop-color="#f3e35a"/><stop offset="0.962" stop-color="#f2f482"/><stop offset="1" stop-color="#fcffa4"/></linearGradient></defs>
<rect x="495" y="501.5" width="460.5" height="43.0" fill="url(#inf)" stroke="#333" stroke-width="1"/>
<path d="M583.6 544.5 v-4 M672.1 544.5 v-4 M760.7 544.5 v-4 M849.2 544.5 v-4 M937.8 544.5 v-4" stroke="#333" stroke-width="1" fill="none"/>
<text class="t" x="495" y="591.8" font-size="35" text-anchor="middle">2</text>
<text class="t" x="583.6" y="591.8" font-size="35" text-anchor="middle">2.05</text>
<text class="t" x="672.1" y="591.8" font-size="35" text-anchor="middle">2.1</text>
<text class="t" x="760.7" y="591.8" font-size="35" text-anchor="middle">2.15</text>
<text class="t" x="849.2" y="591.8" font-size="35" text-anchor="middle">2.2</text>
<text class="t" x="937.8" y="591.8" font-size="35" text-anchor="middle">2.25</text>
<text class="s" x="542.9" y="634.5" font-size="39" letter-spacing="0.986">Magnetic</text>
<text class="s" x="710.7" y="634.5" font-size="39" letter-spacing="0.725">Field</text>
<text class="s" transform="translate(809.49 634.5) scale(1.166 1)" font-size="39" font-style="italic">B</text>
<text class="s" transform="translate(861.94 637.12) scale(0.549 1.169)" font-size="39">[</text>
<text class="s" transform="translate(868.98 634.5) scale(1.173 1)" font-size="39">T</text>
<text class="s" transform="translate(898.33 637.12) scale(0.552 1.169)" font-size="39">]</text>
<text x="836.5" y="640.4" font-size="24" fill="#262626" style="font-family:'DejaVu Sans','Liberation Sans',sans-serif">⊥</text>
</svg></body></html>
